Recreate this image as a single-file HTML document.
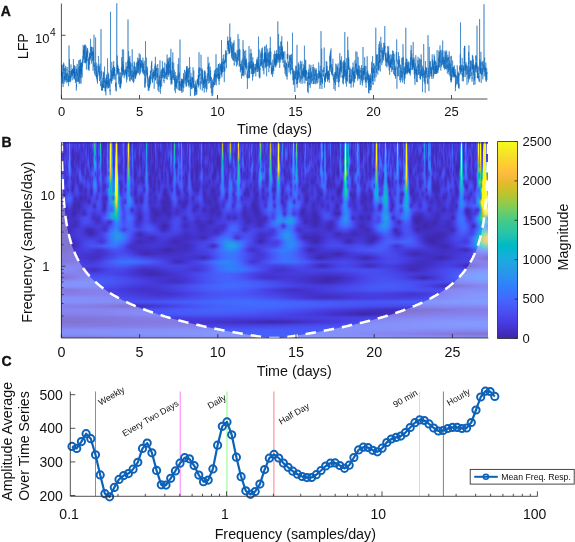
<!DOCTYPE html>
<html><head><meta charset="utf-8"><title>Figure</title>
<style>
html,body{margin:0;padding:0;background:#fff}
body{width:575px;height:542px;position:relative;overflow:hidden}
#hm{position:absolute;left:61px;top:142px;width:427px;height:196px;display:flex}
#hm i{display:block;flex:0 0 1px;width:1px;height:196px}
#ov{position:absolute;left:0;top:0}
</style></head><body>
<div id="hm"><i style="background:linear-gradient(#4639d9,#473ee2,#4535d2,#4536d5,#4740e4,#4435d1,#402bb7,#422fc0,#4746ea,#4562fc,#4746ea,#412ebd,#422ebf,#402ab3,#3f29b1,#3f29b1,#4434ce,#4331c6,#412dbb,#3e28ac,#3e27ac,#412cb9,#4029b2,#402bb7,#402ab4,#402bb7,#412cb9,#3e27ab,#4331c6,#4331c8,#4230c4,#484bef,#4851f3,#463bdd,#412dbb,#4759f8,#475af9,#4433cd,#463adb,#4756f7,#4758f8,#463de0,#4848ec,#4740e4,#422fc2,#412cb9,#4537d5,#4854f5,#4756f6,#4433cc)"></i><i style="background:linear-gradient(#463de0,#4747eb,#4537d6,#4332c9,#463bdc,#4536d4,#4230c3,#4230c4,#484bef,#4563fc,#484ff1,#4434cf,#412dbc,#402bb6,#402bb8,#412dbd,#4434ce,#4330c5,#412dbc,#3f28ae,#3f28ae,#412cb9,#3f29b2,#402bb8,#402ab5,#402bb7,#412cb9,#3e28ad,#4331c7,#4331c8,#4230c4,#484bef,#4851f3,#463bdd,#412dbb,#4759f8,#475af9,#4433cd,#463adb,#4756f7,#4758f8,#463de0,#4848ec,#4740e4,#422fc2,#412cb9,#4537d5,#4854f5,#4756f6,#4433cc)"></i><i style="background:linear-gradient(#4433cc,#463adc,#4435d0,#412dbd,#4433cd,#412cbb,#4433cd,#463adb,#484df0,#475af9,#4853f5,#463bdd,#402bb6,#412ebe,#4331c7,#4433cd,#4433cc,#422fc2,#422ebe,#3f29b2,#3f29b2,#412cb9,#3f29b0,#402cb8,#402bb6,#402bb7,#412cb9,#3f29af,#4331c7,#4332c8,#4331c5,#484bef,#4850f3,#463bdd,#412dbd,#4759f8,#475af9,#4433cd,#463adb,#4756f7,#4758f8,#463de0,#4848ec,#4740e4,#422fc2,#412cb9,#4537d5,#4854f5,#4756f6,#4433cc)"></i><i style="background:linear-gradient(#412cb9,#4331c7,#4331c6,#4433cd,#4741e4,#473fe2,#4331c7,#4435d0,#4538d7,#4740e3,#4747eb,#473fe3,#4332c9,#4435d0,#463bdd,#463bdd,#4331c8,#422ebe,#422fc2,#402bb8,#402bb7,#412cba,#3f28ae,#412cb9,#412cb8,#402bb8,#412cb9,#402ab3,#4331c8,#4332c9,#4331c7,#484bef,#4850f3,#463bde,#422ebf,#4759f8,#475af9,#4433cd,#463adb,#4756f7,#4757f8,#463de0,#4848ec,#4740e4,#422fc2,#412cb9,#4537d5,#4854f5,#4756f6,#4433cc)"></i><i style="background:linear-gradient(#4432cb,#4330c5,#4536d3,#4536d4,#4741e5,#4849ed,#4740e3,#463de0,#4332c9,#4433cc,#4332ca,#4740e3,#463bdc,#463ee0,#4848ec,#4744e8,#4331c7,#412ebe,#4330c5,#412dbd,#412cbb,#412cba,#3e27ab,#412cbb,#412dbb,#412cb9,#412cb9,#402bb6,#4332c8,#4332ca,#4332c9,#484bef,#4850f2,#463cde,#422fc1,#4759f8,#475af9,#4434ce,#463adb,#4756f7,#4757f8,#463de0,#4848ec,#4740e4,#422fc2,#412cb9,#4537d5,#4854f5,#4756f6,#4433cc)"></i><i style="background:linear-gradient(#4742e6,#4746ea,#4434cf,#463cdf,#4743e7,#463bdc,#4435d1,#4742e6,#4740e4,#4536d3,#422ebe,#473fe2,#4639d9,#4745e9,#4854f6,#484df0,#4435d0,#4230c3,#4332c9,#422fc2,#422ebe,#412dbb,#3e27ab,#412dbd,#412ebd,#412cb9,#412cb8,#412cb9,#4332c9,#4433cb,#4433cc,#484bef,#484ff2,#463cde,#4230c4,#4759f8,#475af9,#4434ce,#463adb,#4756f7,#4757f8,#463de0,#4848ec,#4740e4,#422fc2,#412cb9,#4537d5,#4854f5,#4756f6,#4433cc)"></i><i style="background:linear-gradient(#4851f3,#4755f6,#4849ed,#4740e4,#4744e8,#4746eb,#463bde,#4537d6,#4746eb,#4536d5,#463de0,#4741e4,#412cba,#4849ed,#465ffb,#4755f6,#463bdc,#4332ca,#4432cb,#4331c7,#422fc2,#412dbc,#3f29b0,#422ebf,#422fc0,#412cba,#412cb8,#412dbb,#4332ca,#4433cc,#4434ce,#484bef,#484ff2,#463cdf,#4331c7,#4759f8,#475af9,#4434cf,#463adb,#4756f7,#4757f7,#463de0,#4848ec,#4740e4,#422fc2,#412cb9,#4537d5,#4854f5,#4756f6,#4433cc)"></i><i style="background:linear-gradient(#463adb,#4538d7,#463adc,#463ee0,#463bde,#4660fc,#406dfe,#465ffb,#4850f2,#4433cc,#484cef,#4849ed,#4535d2,#484ef1,#4465fd,#475af9,#4741e5,#4434cf,#4433cb,#4332ca,#4330c4,#412ebe,#402ab5,#422fc2,#4230c3,#412cba,#402cb8,#422ebe,#4433cb,#4433cd,#4435d0,#484bee,#484ef1,#463cdf,#4332ca,#4759f8,#475af9,#4434cf,#463adb,#4756f6,#4757f7,#463de0,#4848ec,#4740e4,#422fc2,#412cb9,#4537d5,#4854f5,#4756f6,#4433cd)"></i><i style="background:linear-gradient(#0ebdbb,#05bbc1,#0ab4d2,#1aabdd,#1da9e0,#1ea7e1,#21a4e3,#2896ec,#3b72fe,#4854f5,#4755f6,#4850f2,#4745e9,#4853f4,#4466fd,#475af9,#4743e7,#4435d1,#4332ca,#4433cc,#4331c7,#422ebf,#412cba,#4331c6,#4331c6,#412cba,#402bb8,#422fc2,#4433cc,#4434cf,#4536d3,#484aee,#484ef1,#463de0,#4434ce,#4759f8,#475af9,#4435d0,#463adc,#4756f6,#4757f7,#463de0,#4848ec,#4740e4,#422fc2,#412cba,#4537d5,#4854f5,#4756f6,#4433cd)"></i><i style="background:linear-gradient(#4743e7,#484aee,#4746ea,#4743e7,#4660fb,#484ff2,#475bf9,#3975fe,#4562fc,#4848ec,#484cef,#4744e8,#463ee0,#484ef1,#465ffb,#4854f5,#473fe3,#4434ce,#4330c5,#4433cc,#4331c8,#422fc0,#422ec0,#4332c9,#4332c9,#412cbb,#412cb8,#4330c5,#4434ce,#4434d0,#4537d5,#484aee,#484df0,#463de0,#4435d1,#4759f8,#475af9,#4435d1,#463bdc,#4756f6,#4757f7,#463ddf,#4848ec,#4740e4,#422fc2,#412cba,#4537d5,#4854f5,#4756f6,#4433cd)"></i><i style="background:linear-gradient(#473fe2,#4746eb,#463bdd,#4434ce,#4537d5,#4230c4,#4331c6,#4743e7,#4741e5,#412dbc,#463cde,#4434cf,#422fc1,#4743e7,#4855f6,#484aee,#4639d9,#4331c8,#422ebf,#4332ca,#4331c8,#422fc0,#4330c5,#4433cd,#4433cb,#412dbb,#412cb9,#4331c8,#4434cf,#4435d1,#4538d7,#484aee,#484cf0,#463ee1,#4536d4,#4759f9,#475af9,#4535d2,#463bdc,#4756f6,#4757f7,#463ddf,#4848ec,#4740e4,#422fc2,#412cba,#4537d5,#4854f5,#4756f6,#4433cd)"></i><i style="background:linear-gradient(#463de0,#463ddf,#412dbd,#402ab4,#412dbb,#412cb8,#412cb8,#422fc0,#4538d8,#4332cb,#4433cd,#422ebe,#3f28ae,#463cde,#4848ec,#473fe2,#4332cb,#422fc1,#402bb7,#4332c9,#4331c7,#422ec0,#4332cb,#4435d1,#4434ce,#412dbb,#412cba,#4332cb,#4434d0,#4535d2,#4539d8,#484aed,#484bef,#473ee1,#4538d7,#475af9,#475af9,#4536d3,#463bdd,#4756f6,#4757f7,#463cdf,#4848ec,#4741e4,#422fc3,#412cba,#4537d5,#4854f5,#4756f7,#4433cd)"></i><i style="background:linear-gradient(#4537d5,#463adb,#422ebf,#412ebe,#402bb6,#412dbb,#4230c3,#422fc0,#4536d3,#4331c6,#422fc0,#412ebe,#422ebf,#463cde,#463cde,#4536d3,#412dbc,#412dbb,#3f28af,#4331c8,#4330c5,#422ebf,#4434cf,#4536d4,#4435d1,#412dbc,#412dbc,#4434cd,#4435d1,#4536d3,#4639da,#4849ed,#484aee,#473fe2,#4639d9,#475af9,#475af9,#4536d4,#463bdd,#4756f6,#4757f7,#463cdf,#4848ec,#4741e4,#4230c3,#412cba,#4537d5,#4854f5,#4756f7,#4433cd)"></i><i style="background:linear-gradient(#4536d4,#4740e3,#463bdd,#4331c7,#402bb7,#4433cd,#4537d6,#4332c9,#4536d3,#4433cc,#4332ca,#4537d6,#463adb,#473fe2,#4332c9,#4230c4,#402ab4,#402bb8,#3f29b0,#4332c9,#4230c3,#412ebd,#4536d5,#4538d7,#4536d4,#422ebf,#422ebf,#4435d0,#4535d2,#4536d4,#463adb,#4849ed,#4849ed,#473fe2,#463bdc,#475af9,#475af9,#4537d5,#463bdd,#4755f6,#4757f7,#463cdf,#4848ec,#4741e5,#4230c3,#412cba,#4537d5,#4854f5,#4756f7,#4433cd)"></i><i style="background:linear-gradient(#463cde,#463adb,#463bdc,#422fc1,#4435d0,#4537d6,#4537d6,#422ebf,#4538d8,#463adb,#463bdd,#4742e6,#4746ea,#4742e6,#422fc1,#412ebe,#402bb6,#402bb8,#412cb8,#4433cc,#422fc2,#412ebe,#4538d8,#4639da,#4537d6,#422fc1,#4230c3,#4536d3,#4536d3,#4536d4,#463bdc,#4848ec,#4848ec,#4740e3,#463cdf,#475af9,#475af9,#4537d6,#463bde,#4755f6,#4757f7,#463cde,#4848ec,#4741e5,#4230c3,#412cbb,#4537d5,#4854f5,#4756f7,#4434cd)"></i><i style="background:linear-gradient(#4538d7,#4745e9,#463ee0,#422fc0,#4332ca,#412cba,#4539d8,#473fe3,#4539d9,#4332ca,#4538d8,#4745e9,#484cef,#4745e9,#4331c8,#412ebe,#402bb8,#412cb9,#422ec0,#4435d0,#4230c4,#422fc1,#463adb,#463adc,#4538d8,#4330c5,#4331c8,#4537d6,#4536d4,#4536d4,#463bdd,#4848ec,#4746eb,#4740e4,#463ee1,#475af9,#475af9,#4538d7,#463cde,#4755f6,#4757f7,#463cde,#4848ec,#4741e5,#4230c3,#412dbb,#4537d6,#4854f5,#4756f7,#4434ce)"></i><i style="background:linear-gradient(#4433cb,#4434cf,#463bdc,#4434ce,#422fc2,#4331c6,#463bdd,#4744e8,#4538d8,#412cbb,#412dbb,#473ee1,#4848ec,#4744e8,#4434ce,#422ebf,#402bb6,#412dbb,#4331c7,#4537d6,#4332c9,#4331c7,#463bdd,#463bdd,#463ada,#4332ca,#4433cd,#4538d8,#4536d4,#4536d5,#463bde,#4747ec,#4745e9,#4740e4,#473fe3,#475af9,#475af9,#4538d8,#463cde,#4755f6,#4757f7,#463cde,#4848ec,#4741e5,#4230c3,#412dbb,#4537d6,#4854f5,#4756f7,#4434ce)"></i><i style="background:linear-gradient(#463adc,#4741e5,#4539d9,#412cba,#412cbb,#422ebe,#4331c6,#473fe3,#4848ec,#4538d7,#4330c5,#4536d4,#463cdf,#473fe3,#4433cd,#422ebf,#3f29b0,#422ebf,#4433cc,#463adb,#4435d1,#4434ce,#463cdf,#463cde,#463bdc,#4434cf,#4435d2,#4639da,#4537d5,#4536d5,#463cde,#4747eb,#4744e8,#4741e5,#4741e4,#475bf9,#475af9,#4539d9,#463cdf,#4755f6,#4757f7,#463bde,#4848ec,#4741e5,#4230c4,#412dbb,#4537d6,#4854f5,#4756f7,#4434ce)"></i><i style="background:linear-gradient(#4742e6,#484bef,#4536d4,#4332ca,#422fc2,#4435d0,#4538d8,#4849ed,#475cfa,#4852f4,#463de0,#412dbc,#4332c9,#4538d8,#4230c3,#422ec0,#3f29b1,#4230c4,#4435d0,#463de0,#463adb,#4537d6,#463cdf,#463cde,#463cde,#4536d4,#4538d7,#463bdc,#4537d5,#4536d4,#463cde,#4746ea,#4742e6,#4741e5,#4742e6,#475bf9,#475af9,#4639da,#463cdf,#4755f6,#4757f7,#463bdd,#4848ec,#4741e5,#4230c4,#412dbb,#4537d6,#4854f5,#4756f7,#4434ce)"></i><i style="background:linear-gradient(#4536d4,#4538d7,#4537d6,#4537d6,#4536d4,#463cdf,#463cde,#4848ec,#475af9,#475cfa,#4744e8,#412dbb,#422ec0,#4434ce,#402ab4,#422fc1,#412dbd,#4332c9,#4435d1,#4741e5,#473fe2,#463adb,#463cde,#463bdd,#463ddf,#4639d9,#463adc,#463bde,#4537d5,#4536d4,#463cde,#4746ea,#4740e4,#4742e6,#4744e8,#475bf9,#475af9,#463ada,#463ddf,#4755f6,#4757f7,#463bdd,#4848ec,#4741e5,#4230c4,#412dbc,#4537d6,#4854f5,#4756f7,#4434cf)"></i><i style="background:linear-gradient(#463adb,#422ec0,#4332c9,#4538d7,#4435d1,#4536d3,#402bb6,#4330c5,#473fe3,#4855f6,#4747eb,#412cb8,#422fc2,#4332cb,#3f28af,#4230c4,#4332ca,#4433cd,#4434ce,#4744e8,#4743e8,#463ddf,#463bdc,#463adc,#463de0,#463cde,#463de0,#463cdf,#4537d5,#4536d3,#463cde,#4745e9,#473fe2,#4742e6,#4745e9,#475bf9,#475af9,#463adb,#463de0,#4755f6,#4757f7,#463bdd,#4848ec,#4742e6,#4230c4,#412dbc,#4537d6,#4854f5,#4756f7,#4434cf)"></i><i style="background:linear-gradient(#463ee0,#463bdd,#4331c7,#463bdd,#4741e4,#4434cf,#422ec0,#412dbd,#4433cb,#4746eb,#4849ed,#4230c3,#4332ca,#4433cc,#412dbb,#4331c8,#4536d4,#4434cf,#4331c7,#4746ea,#4848ec,#473fe2,#4539d9,#4639d9,#463ee1,#473ee2,#4740e4,#463de0,#4537d5,#4536d2,#463cde,#4745e9,#463de0,#4743e7,#4746ea,#475bf9,#475af9,#463bdc,#463de0,#4854f6,#4756f7,#463bdc,#4848ec,#4742e6,#4230c4,#412dbc,#4537d6,#4854f5,#4756f7,#4434cf)"></i><i style="background:linear-gradient(#484aed,#4746ea,#4535d2,#4434cf,#463de0,#4332c9,#422fc2,#4433cc,#412cb8,#473fe2,#484ef1,#463cdf,#4435d1,#4433cc,#412ebe,#4433cc,#463adb,#4434cf,#412ebe,#4849ed,#484bef,#4740e3,#4536d4,#4537d6,#463ee1,#4741e5,#4743e7,#463ee1,#4536d5,#4435d1,#463bdd,#4744e8,#463bdd,#4743e7,#4848ec,#475bfa,#4759f9,#463bdd,#463de0,#4854f6,#4756f7,#463adc,#4848ec,#4742e6,#4330c5,#412dbd,#4537d6,#4854f5,#4756f7,#4434cf)"></i><i style="background:linear-gradient(#4851f3,#4538d8,#463de0,#463adc,#4434cf,#4332c9,#4332c9,#473fe2,#463de0,#4743e7,#484cf0,#4742e6,#4332ca,#4331c8,#402ab4,#4434cf,#463ee1,#4535d2,#412dbd,#484bef,#484ef1,#4740e3,#4433cd,#4435d2,#463ee1,#4744e8,#4746ea,#473ee1,#4536d4,#4435d0,#463bdd,#4743e7,#4639da,#4743e8,#4849ed,#475cfa,#4759f8,#463cde,#463ee1,#4854f5,#4756f7,#463adb,#4848ec,#4742e6,#4330c5,#412dbd,#4537d6,#4854f5,#4756f7,#4434d0)"></i><i style="background:linear-gradient(#4740e4,#4331c7,#4539d8,#4744e9,#473fe2,#463bdc,#473fe2,#4747eb,#4741e5,#4536d4,#4743e7,#473fe3,#402ab5,#4332c9,#402ab4,#4435d1,#4740e4,#4639d9,#4332ca,#484df0,#484ff2,#473fe3,#4330c5,#4433cd,#463de0,#4746ea,#4848ec,#473fe2,#4536d3,#4434cf,#463bdc,#4743e7,#4538d7,#4744e8,#484aee,#475cfa,#4759f8,#463cde,#463ee1,#4854f5,#4756f7,#463adb,#4848ec,#4742e6,#4330c5,#412dbd,#4537d6,#4854f5,#4756f7,#4435d0)"></i><i style="background:linear-gradient(#4740e4,#463cdf,#4744e8,#484bef,#4746ea,#4332ca,#463de0,#4537d5,#4537d5,#412dbb,#473fe2,#4743e7,#4330c5,#4535d2,#4330c5,#4435d1,#4742e6,#473fe3,#4639da,#484ef1,#484ff2,#473ee2,#412dbd,#4331c7,#463ddf,#4848ec,#484aee,#473fe2,#4536d2,#4433cd,#463adc,#4742e6,#4536d4,#4744e8,#484bef,#475cfa,#4759f8,#463cdf,#463ee1,#4854f5,#4756f7,#463ada,#4848ec,#4742e7,#4330c5,#412ebd,#4537d6,#4854f5,#4756f7,#4435d0)"></i><i style="background:linear-gradient(#4537d6,#422fc1,#422ebf,#4331c7,#463adc,#484ff2,#4848ec,#422fc2,#4331c6,#4536d4,#4745ea,#484df0,#473ee1,#463bdc,#4434cf,#4332c9,#4743e7,#4746ea,#4740e4,#484ef1,#484ef1,#463de0,#402bb6,#422fc2,#463cdf,#484aed,#484cf0,#473ee2,#4435d1,#4433cb,#463adb,#4742e6,#4435d0,#4744e9,#484cf0,#475cfa,#4759f8,#463de0,#473ee1,#4854f5,#4756f7,#4639da,#4848ec,#4743e7,#4331c6,#412ebe,#4537d6,#4854f5,#4756f7,#4435d1)"></i><i style="background:linear-gradient(#4433cd,#4537d7,#4539d8,#463bde,#4746ea,#4755f6,#4755f6,#473fe3,#422ebf,#4538d8,#4747eb,#4850f3,#4745e9,#463ddf,#4435d0,#402bb7,#4744e8,#484cef,#4745e9,#484cf0,#484cf0,#463ddf,#3f28ae,#412dbb,#463bde,#484bef,#484ef1,#463ee1,#4435d0,#4332ca,#463adb,#4742e6,#4433cc,#4745e9,#484df1,#475cfa,#4758f8,#463de0,#473fe2,#4853f5,#4756f7,#4639d9,#4848ec,#4743e7,#4331c6,#412ebe,#4537d6,#4854f6,#4756f7,#4435d1)"></i><i style="background:linear-gradient(#4434ce,#4435d0,#422fc2,#422fc1,#412dbd,#4538d7,#463cde,#4743e7,#473fe2,#4435d0,#463ddf,#4849ed,#463ddf,#4639da,#4536d2,#412cba,#4746ea,#484ef1,#4746ea,#4848ec,#484aee,#463cdf,#3e28ac,#402ab5,#463bdd,#484cef,#4850f2,#463de0,#4434cf,#4331c8,#463ada,#4741e5,#4332c9,#4745e9,#484ef1,#475cfa,#4758f8,#463ee1,#473fe2,#4853f5,#4756f6,#4539d9,#4848ec,#4743e7,#4331c6,#422ebe,#4537d6,#4854f6,#4756f7,#4435d1)"></i><i style="background:linear-gradient(#4850f2,#4537d6,#4230c3,#4536d4,#4537d6,#4332c9,#402ab5,#463adc,#4848ec,#4434ce,#4639da,#473ee2,#4330c5,#4332c9,#4639da,#4536d3,#4747eb,#484df0,#4744e8,#4741e6,#4747eb,#463cde,#3f29b1,#3f28af,#463bdc,#484cef,#4851f3,#463ddf,#4434ce,#4331c6,#4639da,#4741e5,#4331c6,#4745e9,#484ff2,#475cfa,#4758f8,#463ee1,#473fe2,#4853f5,#4756f6,#4538d8,#4848ec,#4743e7,#4331c6,#422ebf,#4537d6,#4854f6,#4756f7,#4535d2)"></i><i style="background:linear-gradient(#4743e7,#463cde,#4536d4,#4331c7,#4331c8,#4433cc,#422fc0,#4741e5,#4852f4,#4741e5,#4740e3,#463de0,#412cba,#402bb7,#473fe3,#473fe3,#4745e9,#484aee,#4740e3,#463adc,#4744e8,#463cde,#402bb6,#3e27ab,#463bdc,#484bef,#4852f4,#463cde,#4433cc,#4330c5,#4639da,#4741e5,#4230c4,#4745ea,#4850f2,#475cfa,#4758f8,#473ee1,#473fe3,#4853f5,#4756f6,#4538d8,#4848ec,#4743e8,#4331c7,#422ebf,#4537d7,#4854f6,#4756f7,#4535d2)"></i><i style="background:linear-gradient(#4850f3,#465dfa,#463ddf,#4536d3,#4332cb,#4330c5,#463de0,#484bee,#4758f8,#4435d0,#4848ec,#484df1,#4538d7,#4536d3,#4747eb,#4745e9,#473ee1,#4746ea,#463bdd,#4434cf,#4740e4,#463cdf,#412dbb,#3f29b0,#463bdc,#484bee,#4853f5,#463bdc,#4433cb,#4230c4,#463ada,#4741e5,#422fc2,#4746ea,#4851f3,#475cfa,#4757f7,#473fe2,#473fe3,#4853f4,#4755f6,#4538d7,#4848ec,#4744e8,#4331c7,#422ebf,#4538d7,#4854f6,#4757f7,#4536d3)"></i><i style="background:linear-gradient(#307ffb,#4562fc,#4660fb,#4745e9,#4660fb,#4660fb,#4848ec,#4757f7,#4368fd,#4854f6,#4367fd,#3d70ff,#4757f7,#484cf0,#484cf0,#4746ea,#4433cc,#4743e7,#4538d7,#422fc3,#463cde,#463cdf,#422fc1,#402bb8,#463bdd,#4849ed,#4854f5,#4639da,#4332ca,#4230c3,#463adb,#4741e5,#422fc1,#4746ea,#4851f4,#475cfa,#4757f7,#473fe2,#4740e3,#4852f4,#4755f6,#4537d6,#4848ec,#4744e8,#4331c7,#422ec0,#4538d7,#4854f6,#4757f7,#4536d3)"></i><i style="background:linear-gradient(#7ecc5a,#32c69e,#12beb9,#02b7cb,#259be8,#1da9e0,#23a1e5,#327cfc,#4756f6,#3e70ff,#2d89f6,#2d8bf4,#3e70ff,#4757f7,#484bef,#4745e9,#402ab4,#4742e6,#4538d7,#422ebf,#4538d8,#463ddf,#4331c6,#422ebf,#463cde,#4747eb,#4855f6,#4538d8,#4332c9,#4230c3,#463bdc,#4742e6,#422fc2,#4746ea,#4852f4,#475cfa,#4757f7,#473fe2,#4740e3,#4852f4,#4755f6,#4537d6,#4848ec,#4744e8,#4331c8,#422fc0,#4538d7,#4854f6,#4757f7,#4536d3)"></i><i style="background:linear-gradient(#1fa6e2,#2994ed,#269ae8,#259de7,#475cfa,#259ce7,#1caadf,#3777fe,#4538d7,#4464fd,#2e86f7,#2d89f5,#3b73fe,#4853f5,#4742e6,#4747eb,#4332cb,#4743e8,#463ada,#422fc2,#4435d1,#463de0,#4433cc,#4331c6,#463cdf,#4745e9,#4755f6,#4537d6,#4331c8,#4230c4,#463bde,#4742e6,#4230c3,#4746ea,#4852f4,#475cfa,#4756f7,#473fe3,#4740e4,#4852f4,#4755f6,#4537d5,#4848ec,#4744e8,#4331c8,#422fc0,#4538d7,#4854f6,#4757f7,#4536d4)"></i><i style="background:linear-gradient(#4756f7,#484aed,#4744e8,#484aed,#484ef1,#475cfa,#4368fe,#465efb,#4848ec,#484aee,#4563fc,#426afe,#4661fc,#4747eb,#4435d1,#484bee,#4741e4,#4747eb,#463cdf,#4230c4,#4332ca,#463de0,#4435d1,#4433cd,#463ddf,#4742e6,#4756f6,#4536d4,#4331c8,#4330c5,#463cdf,#4743e7,#4330c5,#4746ea,#4853f5,#475cfa,#4756f6,#473fe3,#4740e4,#4852f4,#4755f6,#4536d5,#4848ec,#4745e9,#4332c8,#422fc1,#4538d7,#4854f6,#4757f7,#4536d4)"></i><i style="background:linear-gradient(#4331c6,#4433cb,#4435d1,#4330c5,#422fc2,#4537d6,#4538d7,#473fe2,#4639da,#4536d4,#463de0,#4747eb,#4747eb,#4741e5,#4433cd,#484ff2,#484df0,#484aee,#473ee2,#4330c5,#4330c5,#463de0,#4537d5,#4536d3,#463de0,#473ee2,#4757f7,#4435d2,#4331c7,#4331c7,#463ee1,#4744e8,#4331c8,#4746eb,#4853f5,#475cfa,#4755f6,#4740e3,#4740e4,#4851f4,#4755f6,#4536d4,#4849ed,#4745e9,#4332c9,#422fc1,#4538d7,#4854f6,#4757f7,#4536d5)"></i><i style="background:linear-gradient(#4740e4,#463de0,#484bef,#484df0,#463bdd,#463ee1,#4852f4,#4849ed,#473fe2,#4744e9,#4537d6,#4539d9,#422ebf,#4745e9,#4742e6,#4852f4,#4854f5,#484bef,#4740e4,#4331c7,#4330c5,#463de0,#4538d7,#4639da,#463de0,#463bdd,#4758f8,#4435d0,#4331c8,#4332c9,#473fe3,#4745e9,#4433cc,#4746eb,#4854f5,#475bfa,#4755f6,#4740e3,#4740e4,#4851f3,#4755f6,#4536d3,#4849ed,#4745e9,#4332c9,#422fc1,#4538d7,#4855f6,#4757f7,#4537d5)"></i><i style="background:linear-gradient(#4744e8,#484aee,#4756f6,#4757f7,#463bdc,#4755f6,#3f6eff,#484bef,#4742e6,#475cfa,#4851f3,#4742e6,#4435d2,#484aee,#484cef,#4851f3,#4853f5,#484aed,#4741e5,#4434ce,#4332ca,#463cdf,#4538d8,#463cdf,#463de0,#4538d7,#4759f8,#4435d0,#4332c8,#4433cc,#4741e5,#4746ea,#4434cf,#4747eb,#4854f5,#475bf9,#4854f6,#4740e3,#4740e4,#4851f3,#4755f6,#4535d2,#4849ed,#4745e9,#4332c9,#422fc2,#4538d7,#4855f6,#4757f7,#4537d6)"></i><i style="background:linear-gradient(#3fca8e,#2ec5a4,#0fbeba,#14b0d8,#269ae9,#2c8ff0,#307efb,#4367fd,#4660fc,#426afe,#4561fc,#4850f3,#4745e9,#484df0,#484bee,#484bee,#484cf0,#4745e9,#4742e6,#4539d9,#4435d1,#463bdd,#4538d7,#4740e3,#463ee1,#4536d3,#475af9,#4435d1,#4332c9,#4434cf,#4743e7,#4747eb,#4535d2,#4747eb,#4854f5,#475bf9,#4854f5,#4740e3,#4741e4,#4851f3,#4855f6,#4435d1,#4849ed,#4746ea,#4332ca,#422fc2,#4538d7,#4855f6,#4757f7,#4537d6)"></i><i style="background:linear-gradient(#4747eb,#463cdf,#484cf0,#4849ed,#4756f7,#4853f5,#473ee1,#4743e7,#4851f4,#4758f8,#4756f7,#484cef,#4744e8,#4849ed,#4740e4,#4740e4,#4742e6,#463de0,#4741e5,#4740e4,#4539d9,#463adb,#4536d5,#4743e7,#473fe2,#4435d1,#475bfa,#4536d3,#4433cb,#4536d3,#4745ea,#4848ec,#4537d5,#4747eb,#4854f6,#475bf9,#4853f5,#4740e3,#4741e4,#4850f3,#4854f6,#4435d0,#4849ed,#4746ea,#4332ca,#422fc2,#4538d8,#4755f6,#4757f7,#4537d6)"></i><i style="background:linear-gradient(#4433cd,#4230c4,#412dbc,#412cba,#422fc0,#422fc0,#412dbc,#402bb7,#4538d7,#4536d3,#473fe2,#463adb,#4537d6,#4741e5,#4434ce,#4537d6,#4537d5,#4435d1,#4741e5,#4849ed,#463cdf,#4538d8,#4435d0,#4747eb,#4741e4,#4536d4,#465dfa,#4537d6,#4433cd,#4537d6,#4848ec,#4849ed,#4538d8,#4747eb,#4854f6,#475bf9,#4853f5,#4740e3,#4741e5,#4850f3,#4854f6,#4434d0,#4849ed,#4746ea,#4332ca,#4230c3,#4538d8,#4755f6,#4757f7,#4538d7)"></i><i style="background:linear-gradient(#402cb8,#402bb6,#4332ca,#463bdd,#463adb,#4537d5,#4538d7,#4536d3,#4537d5,#4434ce,#4539d9,#4332ca,#4331c6,#463cdf,#402bb6,#4331c7,#422ebf,#412dbd,#4742e6,#4853f5,#473fe3,#4537d5,#4332ca,#484cef,#4744e8,#463adb,#465ffb,#4639da,#4434d0,#4639da,#484aee,#484bee,#463adb,#4746eb,#4854f6,#475af9,#4852f4,#4740e3,#4741e5,#4850f2,#4854f5,#4434cf,#4849ed,#4746eb,#4332cb,#4230c3,#4538d8,#4755f6,#4757f7,#4538d7)"></i><i style="background:linear-gradient(#4331c8,#4330c5,#4538d7,#4538d8,#4230c3,#422ebf,#4435d1,#4331c7,#4433cd,#473fe2,#473fe2,#4330c5,#4435d1,#463ddf,#402bb7,#422fc3,#3f29b2,#412dbd,#4746ea,#475bfa,#4741e4,#4536d3,#4331c8,#4850f3,#4848ec,#473fe2,#4561fc,#463bdd,#4536d2,#463bdd,#484df0,#484cef,#463cde,#4746eb,#4854f6,#475af9,#4852f4,#4740e3,#4741e5,#484ff2,#4854f5,#4434ce,#4849ed,#4747eb,#4433cb,#4230c3,#4538d8,#4755f6,#4757f7,#4538d7)"></i><i style="background:linear-gradient(#4330c5,#412dbd,#4536d4,#4536d4,#4230c3,#422fc2,#422fc2,#422fc1,#422fc2,#4746eb,#4747eb,#402bb8,#473ee1,#4740e4,#412cb9,#4332c9,#422fc0,#4536d3,#484ff1,#4564fd,#4740e4,#4536d3,#4433cc,#4756f6,#484ef1,#4746ea,#4564fd,#463ee1,#4537d5,#463de0,#484ff2,#484df1,#463de0,#4746ea,#4854f5,#475af9,#4851f3,#473fe3,#4741e5,#484ff2,#4854f5,#4433cd,#4849ed,#4747eb,#4433cb,#4230c4,#4538d8,#4755f6,#4757f7,#4538d8)"></i><i style="background:linear-gradient(#4433cb,#4331c8,#463adb,#4536d3,#4848ec,#4744e8,#463ee1,#4539d9,#4538d8,#4759f8,#475af9,#473fe3,#484ff2,#4849ed,#402ab5,#463ada,#463bdd,#4743e7,#475af9,#416cfe,#463ee1,#4537d6,#4538d8,#475cfa,#4755f6,#484df1,#4466fd,#4741e4,#4538d8,#4740e3,#4852f4,#484ff2,#473fe2,#4746ea,#4854f5,#4759f8,#4851f3,#473fe3,#4741e5,#484ff2,#4854f5,#4433cc,#4849ed,#4747eb,#4433cc,#4230c4,#4538d8,#4755f6,#4757f7,#4538d8)"></i><i style="background:linear-gradient(#307ffb,#317efb,#347afd,#3f6efe,#347afd,#2f82f9,#3a73fe,#4564fd,#475bf9,#3c71ff,#4269fe,#4747eb,#4367fd,#475cfa,#463adb,#484bee,#484ff2,#4852f4,#4368fe,#3a73fe,#4639da,#463adc,#4740e4,#4562fc,#475cfa,#4755f6,#4369fe,#4743e8,#463adb,#4742e6,#4755f6,#4850f2,#4740e4,#4746ea,#4854f5,#4759f8,#4850f2,#473fe2,#4741e5,#484ef1,#4854f5,#4433cb,#4849ed,#4747ec,#4433cc,#4330c4,#4538d8,#4755f6,#4757f8,#4539d9)"></i><i style="background:linear-gradient(#4639d9,#4741e5,#4851f3,#4745e9,#4744e8,#4367fd,#484bef,#3975fe,#4741e5,#2a92ee,#327cfc,#4850f3,#2c90f0,#2e85f8,#4660fb,#4465fd,#4466fd,#465efb,#347afd,#327cfc,#4432cb,#4740e3,#484cef,#416afe,#4465fd,#465efb,#416bfe,#4746eb,#463cde,#4744e8,#4758f8,#4851f4,#4741e5,#4746ea,#4854f5,#4758f8,#484ff2,#473fe2,#4741e5,#484ef1,#4854f5,#4332ca,#4849ed,#4848ec,#4433cc,#4330c5,#4539d8,#4755f6,#4758f8,#4539d9)"></i><i style="background:linear-gradient(#475cfa,#337bfd,#2994ed,#1fa5e2,#2796eb,#04bbc2,#08bcbe,#2ec5a4,#01b9c6,#2fc5a2,#05b6ce,#2798ea,#14b0d8,#1fa5e2,#2f82fa,#307ffb,#3975fe,#4562fc,#2d89f6,#2e85f8,#422ebf,#4746ea,#4757f7,#3b72ff,#3f6efe,#4465fd,#3f6dfe,#4849ed,#463ee1,#4746eb,#475af9,#4852f4,#4742e6,#4745ea,#4853f5,#4758f8,#484ff1,#473fe2,#4741e5,#484ef1,#4854f5,#4332c9,#484aed,#4848ec,#4433cd,#4330c5,#4539d9,#4755f6,#4758f8,#4639d9)"></i><i style="background:linear-gradient(#f9fb15,#f9fb15,#f9fb15,#f9fb15,#f9fb15,#f9fb15,#f5e526,#fdcc32,#dfbc2a,#9fc942,#39c895,#01b8c8,#01b9c7,#0eb2d4,#2c8ef1,#2b91ef,#3479fd,#465ffb,#2796eb,#2c8ef1,#4332ca,#484ef1,#4561fc,#347afd,#3876fe,#416cfe,#3e6fff,#484bef,#473fe3,#4848ec,#475cfa,#4853f5,#4743e7,#4745e9,#4853f5,#4758f8,#484ef1,#473ee2,#4741e4,#484ef1,#4854f5,#4331c8,#484aed,#4848ec,#4433cd,#4331c5,#4539d9,#4755f6,#4758f8,#4639da)"></i><i style="background:linear-gradient(#b3c534,#b3c534,#cac129,#96ca49,#9cc943,#93ca4b,#62cd71,#85cb55,#74cd62,#36c898,#0abdbd,#13b0d7,#18aedb,#11b1d6,#2f81fa,#239fe5,#3579fd,#465dfa,#21a3e3,#2798ea,#463cdf,#4755f6,#416bfe,#3080fa,#317dfc,#3c72ff,#3d71ff,#484df0,#4741e5,#484aee,#465efb,#4854f6,#4744e8,#4745e9,#4853f4,#4757f7,#484df1,#473ee1,#4741e4,#484df0,#4853f5,#4331c7,#484aee,#4848ec,#4434cd,#4331c6,#4539d9,#4755f6,#4758f8,#463ada)"></i><i style="background:linear-gradient(#4851f3,#4755f6,#416bfe,#4367fd,#327bfc,#2e86f7,#327dfc,#249de7,#1ea7e1,#2798ea,#2995ec,#2b92ee,#2d89f5,#18addb,#4660fb,#18aedb,#2f81fa,#4466fd,#17aedb,#22a2e4,#484bee,#465dfa,#3a73fe,#2e85f8,#2e83f9,#3777fe,#3c72ff,#484ff1,#4742e6,#484cef,#4660fc,#4755f6,#4745e9,#4745e9,#4852f4,#4757f7,#484df0,#463ee1,#4741e4,#484df0,#4853f5,#4331c6,#484aee,#4849ed,#4434ce,#4331c6,#4539d9,#4755f6,#4758f8,#463adb)"></i><i style="background:linear-gradient(#4538d7,#4331c6,#4536d3,#4434cd,#4434ce,#4435d0,#422fc1,#4746ea,#4854f5,#484ff1,#4465fd,#3875fe,#4367fd,#0eb2d4,#4757f7,#0abdbd,#2797ea,#3080fb,#01b7ca,#19acdc,#475bf9,#4466fd,#327cfc,#2d8af4,#2d89f5,#327cfc,#3b72ff,#4850f3,#4744e8,#484ef1,#4563fc,#4756f6,#4745e9,#4744e8,#4852f4,#4756f7,#484cf0,#463ee1,#4740e4,#484df0,#4853f5,#4331c6,#484aee,#4849ed,#4434ce,#4331c6,#4539d9,#4755f6,#4758f8,#463adb)"></i><i style="background:linear-gradient(#4331c6,#4230c4,#4536d4,#463ee1,#473fe2,#4537d6,#4539d9,#4849ed,#484ef1,#4465fd,#2a93ee,#1ea7e1,#20a4e3,#49cb85,#1da9e0,#60cd72,#0dbdbc,#1da8e0,#1bc0b4,#04b6cd,#3e70ff,#3d70ff,#2e83f9,#2c90f0,#2c8ff0,#2f80fa,#3b73fe,#4851f4,#4745ea,#4850f2,#4465fd,#4757f7,#4746ea,#4744e8,#4851f4,#4756f6,#484bef,#463de0,#4740e4,#484cf0,#4853f5,#4330c4,#484aee,#4849ed,#4434ce,#4331c7,#4639d9,#4755f6,#4758f8,#463adb)"></i><i style="background:linear-gradient(#2d8cf3,#20a4e3,#09bcbe,#3bc992,#a9c73a,#dfbc2a,#fbbc3d,#f5e526,#f5e327,#f9fb15,#f9fb15,#f9fb15,#f7f51b,#f7f41c,#eeba34,#f3ba39,#98c947,#2ac3a9,#30c5a1,#09bcbe,#2e83f9,#337afd,#2d88f6,#2994ed,#2994ed,#2e84f9,#3c72ff,#4852f4,#4747eb,#4852f4,#4368fe,#4757f7,#4746ea,#4743e7,#4851f3,#4755f6,#484aee,#463ddf,#4740e4,#484cef,#4853f5,#4230c3,#484aee,#484aed,#4434cf,#4331c7,#4639d9,#4755f6,#4758f8,#463adc)"></i><i style="background:linear-gradient(#f9fb15,#f9fb15,#f9fb15,#f9fb15,#f9fb15,#f9fb15,#f9fb15,#f9fb15,#f9fb15,#f9fb15,#f9fb15,#f9fb15,#f9fb15,#f9fb15,#f9fb15,#f7dd2a,#edba33,#5acc78,#31c6a0,#0dbdbc,#2c8ff1,#2f80fa,#2e87f7,#2797eb,#2798ea,#2e86f8,#3e6fff,#4853f5,#4849ed,#4855f6,#416bfe,#4758f8,#4746ea,#4742e6,#4850f2,#4854f5,#4849ed,#463cdf,#4740e4,#484bef,#4853f5,#422fc2,#484aee,#484aee,#4434cf,#4331c8,#4639d9,#4755f6,#4758f8,#463bdc)"></i><i style="background:linear-gradient(#4660fb,#2b92ee,#2b91ef,#15bfb7,#30c5a1,#6ccd68,#5fcd73,#cac129,#fccf30,#f9fb15,#f7f41c,#f5ea23,#f8d92c,#fbd22f,#febd3c,#bcc42f,#8acb52,#34c79b,#05bbc1,#0bb4d2,#2d8df3,#317efb,#317efb,#2896ec,#2699e9,#2e85f8,#416bfe,#4852f4,#484aee,#4757f7,#3f6eff,#4758f8,#4746ea,#4741e5,#484ff2,#4853f5,#4848ec,#463cde,#4740e3,#484bee,#4853f5,#422fc0,#484bee,#484aee,#4435d0,#4331c8,#4639da,#4755f6,#4758f8,#463bdd)"></i><i style="background:linear-gradient(#4537d6,#4433cc,#4331c6,#4538d7,#4849ed,#484df0,#4433cd,#4537d6,#4747eb,#3876fe,#3b72ff,#2a93ee,#249ee6,#0ab4d2,#1fc0b2,#02bac5,#02bac4,#07b5cf,#1ea7e1,#23a0e5,#2e83f9,#3876fe,#3d70ff,#2a93ed,#2797ea,#2f82fa,#4366fd,#4851f3,#484bef,#4758f8,#3d70ff,#4758f8,#4746ea,#4741e4,#484ef1,#4852f4,#4747eb,#463bdd,#473fe3,#484aee,#4853f5,#422ebf,#484bee,#484bee,#4435d0,#4332c8,#4639da,#4755f6,#4758f8,#463bde)"></i><i style="background:linear-gradient(#463adb,#4230c3,#4331c8,#4434cf,#4849ed,#4747eb,#4330c5,#422fc2,#4435d1,#4744e8,#4434cf,#4743e7,#4746ea,#4660fb,#2d8df2,#2e85f8,#2c8ff0,#2797ea,#2c8ef1,#2d8af5,#3677fe,#3f6dfe,#4563fd,#2c90f0,#2895ec,#317efb,#4562fc,#484ff2,#484bef,#4759f8,#3b72ff,#4758f8,#4745e9,#4740e3,#484df0,#4852f4,#4746eb,#463bdc,#473fe3,#484aee,#4853f5,#412ebe,#484bef,#484bef,#4435d1,#4332c9,#4639da,#4755f6,#4759f8,#463cde)"></i><i style="background:linear-gradient(#4536d3,#4435d1,#4536d4,#4537d5,#4742e6,#463bde,#4330c5,#4332c9,#4539d9,#4741e5,#4332c9,#4330c5,#4331c8,#463cdf,#4367fd,#475dfa,#4269fe,#337bfd,#3678fd,#3a74fe,#406dfe,#4466fd,#4758f8,#2d8df2,#2b92ee,#337bfd,#465efb,#484ef1,#484cef,#475af9,#3a73fe,#4758f8,#4745e9,#473fe3,#484cf0,#4851f3,#4746ea,#463adc,#473fe2,#484aed,#4853f5,#412dbd,#484bef,#484bef,#4435d1,#4332c9,#4639da,#4755f6,#4759f8,#463cde)"></i><i style="background:linear-gradient(#4536d4,#463cde,#463ada,#463bde,#4539d9,#4433cb,#4434ce,#4434ce,#4539d9,#4746ea,#4537d6,#422fc2,#4433cc,#4537d6,#4755f6,#4849ed,#4852f4,#4660fc,#4564fd,#4660fb,#4563fc,#4660fb,#484ef1,#2d89f5,#2c8ef1,#3776fe,#475af9,#484cf0,#484bef,#475af9,#3974fe,#4758f8,#4744e8,#473fe2,#484cef,#4851f3,#4745e9,#463adb,#473fe2,#4849ed,#4853f5,#412dbc,#484bef,#484cef,#4435d1,#4332c9,#463ada,#4755f6,#4759f8,#463cdf)"></i><i style="background:linear-gradient(#484ef1,#484aed,#4741e4,#4746eb,#4538d7,#4434ce,#473fe2,#4538d8,#4639da,#484bef,#4741e5,#4538d7,#473ee1,#4743e7,#4850f2,#4742e6,#4747ec,#484cf0,#4854f5,#484ff2,#475af9,#475af9,#4743e7,#2e85f8,#2d8af5,#3d71ff,#4755f6,#484aee,#484bef,#475bf9,#3975fe,#4757f7,#4743e7,#463ee1,#484bef,#4850f3,#4744e9,#463ada,#473fe2,#4849ed,#4853f5,#412dbc,#484bef,#484cef,#4435d2,#4332ca,#463ada,#4755f6,#4759f8,#463cdf)"></i><i style="background:linear-gradient(#2d88f6,#3776fe,#416bfe,#3f6dfe,#475cfa,#4756f6,#4854f5,#484aee,#4746ea,#484df0,#484bee,#4746ea,#4747eb,#484df0,#4851f3,#463ee0,#484cef,#4746ea,#484cf0,#4747eb,#4756f6,#4757f7,#463de0,#3080fa,#2e84f8,#416bfe,#4850f3,#4848ec,#484bee,#475bfa,#3876fe,#4757f7,#4742e7,#463de0,#484aee,#484ff2,#4744e8,#4639d9,#473ee1,#4848ec,#4853f5,#412dbb,#484bef,#484cf0,#4535d2,#4332ca,#463ada,#4755f6,#4759f8,#463ddf)"></i><i style="background:linear-gradient(#4747eb,#4740e3,#473fe2,#4742e6,#484aee,#484cef,#4745e9,#463de0,#4538d7,#473fe2,#4742e6,#4849ed,#4741e5,#4851f3,#4852f4,#4434ce,#4756f7,#484df0,#484df1,#484bee,#4755f6,#4757f7,#463de0,#337afd,#317efb,#4465fd,#484bef,#4745e9,#484aee,#475bfa,#3777fe,#4756f7,#4742e6,#463cdf,#4849ed,#484ff2,#4743e7,#4539d9,#463ee1,#4848ec,#4853f5,#412cba,#484cef,#484cf0,#4536d2,#4332ca,#463adb,#4755f6,#4759f8,#463de0)"></i><i style="background:linear-gradient(#4432cb,#412dbb,#412cb9,#412cbb,#412dbc,#412dbc,#402ab5,#422fc2,#402ab5,#4330c5,#422fc0,#484aee,#4332c8,#4758f8,#4758f8,#4434ce,#4563fc,#4759f8,#4854f5,#4756f6,#4758f8,#4759f8,#4743e7,#3975fe,#3776fe,#465ffb,#4746ea,#4742e6,#4849ed,#475bfa,#3777fe,#4755f6,#4741e4,#463cde,#4848ec,#484ef1,#4742e6,#4538d8,#463ee1,#4848ec,#4853f5,#412cb9,#484cef,#484df0,#4536d3,#4332ca,#463adb,#4755f6,#4759f8,#463de0)"></i><i style="background:linear-gradient(#4434cf,#4332c9,#463ddf,#473ee1,#4433cc,#402ab3,#4230c3,#473fe2,#463adb,#4742e6,#4849ed,#4561fc,#484ef1,#416bfe,#426afe,#484ff2,#3c71ff,#4563fd,#475bfa,#4561fc,#465dfa,#475cfa,#484bef,#3f6fff,#3f6eff,#4759f8,#4740e4,#473fe3,#4848ec,#475bfa,#3677fe,#4854f5,#473fe3,#463bdd,#4848ec,#484df1,#4741e6,#4538d7,#463de0,#4747eb,#4853f5,#412cb9,#484cef,#484df0,#4536d3,#4332cb,#463adb,#4755f6,#4759f8,#463de0)"></i><i style="background:linear-gradient(#4850f2,#327cfc,#259de7,#3f6eff,#2b91ef,#2895ec,#23a1e5,#1aacdd,#20a5e3,#249ee6,#259ce7,#2797eb,#2e86f7,#2d88f6,#2e85f8,#3b73fe,#317efb,#4368fe,#4562fc,#406cfe,#4563fc,#4660fb,#4853f5,#4368fe,#4465fd,#4853f5,#463bdd,#463cdf,#4747eb,#475bf9,#3677fe,#4853f5,#463ee1,#463adb,#4747eb,#484df0,#4741e5,#4537d6,#463de0,#4747eb,#4853f5,#402cb8,#484cf0,#484df0,#4536d3,#4433cb,#463adb,#4755f6,#4759f8,#463ee1)"></i><i style="background:linear-gradient(#f9fb15,#f9fb15,#f9fb15,#f6f020,#febe3c,#c6c22a,#85cb56,#7dcc5b,#54cc7d,#2fc5a3,#04bbc2,#1babde,#2798ea,#2c8ff1,#2a92ee,#2d89f6,#2f81fa,#4562fc,#4563fd,#3b73fe,#4466fd,#4562fc,#4758f8,#4562fc,#465efb,#484df0,#4537d6,#463adb,#4745e9,#475af9,#3677fe,#4852f4,#463de0,#4639d9,#4746ea,#484cef,#4740e4,#4537d5,#463ddf,#4746eb,#4853f5,#402bb8,#484cf0,#484ef1,#4536d4,#4433cb,#463adb,#4756f6,#4759f9,#463ee1)"></i><i style="background:linear-gradient(#475bf9,#4464fd,#2e87f7,#3f6eff,#2b92ee,#2d88f6,#337bfc,#1ca9e0,#1aacdd,#14b0d8,#1ea6e1,#2b91ef,#2e84f9,#3579fd,#2c90f0,#2c8ff1,#337bfc,#4755f6,#4561fc,#3974fe,#4367fd,#4562fc,#475bf9,#475cfa,#4757f7,#4848ec,#4434cf,#4538d7,#4743e8,#475af9,#3677fe,#4851f3,#463cde,#4538d8,#4745e9,#484bef,#473fe3,#4536d4,#463cdf,#4746ea,#4853f5,#402bb8,#484df0,#484ef1,#4536d4,#4433cc,#463adb,#4756f6,#4759f9,#473ee2)"></i><i style="background:linear-gradient(#4332c9,#4230c3,#4331c8,#4744e9,#484ef1,#473fe3,#463ee1,#4849ed,#4741e5,#4563fd,#4466fd,#4759f8,#475bfa,#484ef1,#3080fa,#2d89f5,#3f6eff,#4741e5,#475bfa,#3c72ff,#4464fd,#4660fb,#475cfa,#4756f7,#4850f3,#4743e7,#4332ca,#4536d4,#4742e6,#4759f8,#3777fe,#484ff2,#463adc,#4537d6,#4744e8,#484aee,#473fe2,#4536d3,#463cde,#4746ea,#4853f5,#402bb7,#484df0,#484ef1,#4536d5,#4433cc,#463adb,#4756f6,#475af9,#473fe2)"></i><i style="background:linear-gradient(#422ebf,#463bdd,#484df0,#463bde,#4747eb,#4742e6,#4848ec,#4433cc,#4539d9,#484ef1,#484cef,#473fe3,#4849ed,#4536d2,#4269fe,#327bfc,#4562fc,#422fc1,#4755f6,#416bfe,#465ffb,#475cfa,#475bfa,#4850f3,#484aee,#463ee1,#4331c7,#4435d0,#4740e3,#4758f8,#3776fe,#484ef1,#4639da,#4537d5,#4743e7,#484aed,#463ee1,#4536d3,#463cde,#4745e9,#4853f5,#402bb7,#484df0,#484ef1,#4537d5,#4433cc,#463adc,#4756f6,#475af9,#473fe2)"></i><i style="background:linear-gradient(#4758f8,#4562fc,#4269fe,#4269fe,#406dfe,#3e6fff,#4563fd,#4853f5,#484ef1,#4854f5,#4854f5,#484aee,#4746eb,#463bdd,#4853f5,#4465fd,#4759f9,#412ebd,#484ef1,#4562fc,#4756f7,#4756f7,#4759f8,#4849ed,#4744e8,#463ada,#4330c5,#4433cd,#463ee1,#4757f7,#3876fe,#484cf0,#4538d7,#4536d3,#4742e6,#4849ed,#463de0,#4435d1,#463bdd,#4745e9,#4853f5,#402bb8,#484df0,#484ff2,#4537d5,#4433cc,#463adc,#4756f6,#475af9,#473fe3)"></i><i style="background:linear-gradient(#4434ce,#4434cf,#4535d2,#4435d0,#4742e6,#463cde,#4743e7,#4741e5,#463ee1,#4741e5,#484aee,#4848ec,#473ee1,#4537d6,#4743e7,#4852f4,#4854f6,#4538d7,#4848ec,#4758f8,#484df1,#484ff2,#4756f7,#4743e7,#473fe2,#4536d4,#4330c5,#4332cb,#463cde,#4756f6,#3975fe,#484bef,#4537d5,#4435d1,#4741e5,#4848ec,#463ddf,#4435d1,#463bdd,#4744e9,#4853f5,#402bb8,#484df1,#484ff2,#4537d6,#4433cd,#463adc,#4756f6,#475af9,#473fe3)"></i><i style="background:linear-gradient(#4331c5,#4332c8,#4537d6,#484aee,#4745e9,#4331c7,#4330c4,#412dbc,#412dbb,#402bb8,#463ada,#463bdd,#4433cd,#412ebe,#4537d5,#473fe2,#484ff2,#473ee2,#4742e6,#484df0,#4744e8,#4848ec,#4853f5,#463de0,#463bdd,#4433cd,#4331c6,#4332c9,#463adb,#4755f6,#3a74fe,#484aed,#4536d2,#4434cf,#4740e4,#4747eb,#463cdf,#4434d0,#463bdc,#4744e8,#4853f5,#412cb8,#484ef1,#484ff2,#4537d6,#4433cd,#463bdc,#4756f6,#475af9,#4740e3)"></i><i style="background:linear-gradient(#422ebe,#4332ca,#463bdd,#4747eb,#4740e3,#4230c3,#4230c4,#4230c4,#402ab5,#402ab5,#4434cf,#4433cc,#412ebe,#402bb7,#4332c8,#4330c5,#4848ec,#4740e3,#463ddf,#4743e7,#463bdd,#4741e5,#484ff2,#4538d7,#4538d7,#4331c6,#4331c8,#4331c7,#4538d7,#4853f5,#3a73fe,#4848ec,#4435d0,#4433cd,#473fe3,#4746eb,#463cde,#4434cf,#463adb,#4744e8,#4853f5,#412cb9,#484ef1,#4850f2,#4537d6,#4433cd,#463bdc,#4756f6,#475af9,#4740e4)"></i><i style="background:linear-gradient(#422fc2,#422fc1,#4432cb,#4230c4,#422fc1,#4331c8,#4434cf,#4435d0,#412ebe,#4331c6,#4536d4,#4435d1,#4332c8,#4332ca,#4331c7,#402ab4,#4742e6,#463de0,#4537d6,#463bdc,#4435d1,#463bde,#484cf0,#4433cc,#4536d2,#422ec0,#4332ca,#4331c6,#4536d4,#4852f4,#3b72ff,#4747eb,#4434cd,#4433cb,#473ee2,#4746ea,#463bdd,#4434ce,#463adb,#4743e7,#4853f5,#412cba,#484ef1,#4850f2,#4537d7,#4433cd,#463bdc,#4756f6,#475af9,#4740e4)"></i><i style="background:linear-gradient(#4433cc,#463adc,#4434cf,#412ebd,#402bb8,#402ab3,#422fc1,#4536d2,#463cdf,#4538d7,#4433cd,#463cdf,#473fe2,#463bdd,#4434ce,#4230c3,#473ee1,#4538d8,#4433cb,#4433cd,#4331c8,#4538d7,#4849ed,#422fc0,#4434ce,#412cba,#4433cb,#4330c5,#4434cf,#4851f3,#3d71ff,#4746ea,#4433cb,#4332c9,#463ee0,#4745e9,#463bdc,#4434cd,#4639da,#4743e7,#4853f5,#412cbb,#484ef1,#4850f3,#4538d7,#4434ce,#463bdc,#4756f7,#475af9,#4741e4)"></i><i style="background:linear-gradient(#4433cc,#4331c7,#4536d5,#4434ce,#412ebd,#4331c7,#422fc3,#4639d9,#4746ea,#4537d7,#412dbb,#4742e6,#484bee,#4740e4,#4435d1,#4432cb,#463cdf,#4434cf,#4230c3,#422ebf,#4331c7,#4537d5,#4848ec,#402bb6,#4433cb,#402bb7,#4433cd,#4230c4,#4433cb,#484ff2,#3e70ff,#4745e9,#4332c9,#4331c7,#463ddf,#4744e8,#463adb,#4433cd,#4639d9,#4743e7,#4853f5,#412dbb,#484ff1,#4850f3,#4538d7,#4434ce,#463bdd,#4756f7,#475af9,#4741e5)"></i><i style="background:linear-gradient(#484df1,#463de0,#484aee,#484aee,#463adb,#4435d0,#463de0,#4848ec,#4848ec,#4639d9,#4535d2,#4747eb,#4850f2,#473fe2,#4332ca,#4332c9,#463cde,#4433cc,#422fc0,#3f29b1,#4332ca,#4538d8,#4747eb,#3f28ae,#4332ca,#402bb6,#4434ce,#4230c3,#4331c7,#484ef1,#3f6eff,#4744e8,#4331c7,#4330c5,#463cde,#4743e7,#463adb,#4433cc,#4539d9,#4742e6,#4853f5,#412dbc,#484ff2,#4851f3,#4538d7,#4434ce,#463bdd,#4756f7,#475af9,#4741e5)"></i><i style="background:linear-gradient(#4743e7,#4741e5,#463bdd,#4434d0,#412cba,#402bb7,#4536d3,#4740e4,#463ee1,#412dbd,#4536d3,#4848ec,#484ff2,#4639da,#412dbd,#412ebe,#463de0,#4535d2,#4230c4,#402ab3,#4435d1,#463cde,#4747eb,#402ab3,#4332c9,#402bb6,#4434cf,#422fc2,#4230c3,#484df0,#406dfe,#4743e7,#4330c5,#422fc3,#463bdd,#4743e7,#463ada,#4433cc,#4538d8,#4742e6,#4853f5,#412ebd,#484ff2,#4851f3,#4538d8,#4434ce,#463bdd,#4756f7,#475bf9,#4741e5)"></i><i style="background:linear-gradient(#473fe3,#4742e6,#4433cd,#422ebf,#3f29b0,#412dbc,#412ebe,#4433cc,#4538d7,#402bb7,#4331c6,#4743e7,#484aee,#4536d3,#402bb6,#3f29b2,#4741e4,#463bdd,#4433cd,#422fc2,#4538d8,#4740e4,#4848ec,#412dbb,#4331c8,#412cb9,#4434cf,#422fc1,#422ebf,#484bef,#406cfe,#4742e6,#4230c3,#422fc1,#463bdc,#4742e6,#4639da,#4433cb,#4538d7,#4741e6,#4854f5,#422ebf,#484ff2,#4851f3,#4538d8,#4434ce,#463bdd,#4756f7,#475bf9,#4742e6)"></i><i style="background:linear-gradient(#4741e5,#4332c8,#4435d0,#4743e7,#4741e5,#463cde,#463adb,#4539d8,#4536d2,#402bb6,#412dbd,#463cdf,#4741e5,#4538d8,#4230c3,#4331c8,#4848ec,#4744e8,#4539d9,#4536d4,#463de0,#4746ea,#484aee,#4330c5,#4331c8,#412dbb,#4435d0,#422fc1,#412dbc,#484aee,#416afe,#4741e5,#422fc1,#422ebe,#463adb,#4741e5,#4639d9,#4332cb,#4537d6,#4741e5,#4854f5,#422ec0,#4850f2,#4852f4,#4538d8,#4434cf,#463bdd,#4756f7,#475bf9,#4742e6)"></i><i style="background:linear-gradient(#4538d8,#463cdf,#4539d9,#4747eb,#473fe3,#4434cd,#463de0,#4435d1,#4433cc,#422fc2,#402bb7,#463bdc,#4434cd,#473ee1,#463bdd,#473fe2,#4851f3,#484cf0,#473fe3,#463de0,#4742e6,#484aee,#484df0,#4433cc,#4331c7,#412ebe,#4435d1,#422fc0,#412cb8,#4849ed,#4269fe,#4740e4,#422fc0,#412dbc,#4639da,#4740e4,#4539d9,#4332ca,#4537d6,#4741e5,#4854f5,#422fc1,#4850f2,#4852f4,#4539d9,#4434cf,#463bdd,#4756f7,#475bf9,#4742e6)"></i><i style="background:linear-gradient(#402bb6,#4332c9,#4639d9,#4746ea,#4747eb,#463de0,#4435d1,#412ebe,#4435d2,#463bdd,#4538d8,#4743e7,#412dbd,#4849ed,#484cef,#484df1,#4759f8,#4853f5,#4746ea,#4744e8,#4746ea,#484ef1,#484ff2,#4536d2,#4331c6,#422ec0,#4535d2,#422fc0,#402bb6,#4848ec,#4368fd,#4740e4,#422ebf,#412cbb,#4539d9,#473fe3,#4539d8,#4332ca,#4537d5,#4741e4,#4854f5,#422fc2,#4850f3,#4852f4,#4539d9,#4434cf,#463bdd,#4756f7,#475bf9,#4743e7)"></i><i style="background:linear-gradient(#463de0,#4537d5,#4740e4,#4742e6,#4741e5,#484aee,#4848ec,#484bef,#465efb,#4465fd,#465ffb,#475af9,#4849ed,#4757f7,#4759f8,#4757f7,#475cfa,#4756f7,#484aee,#4849ed,#4849ed,#4851f3,#4852f4,#4538d7,#4330c5,#422fc1,#4536d3,#422fc0,#402ab5,#4747eb,#4466fd,#4740e3,#422ebf,#412cb9,#4538d8,#473fe2,#4538d8,#4332ca,#4536d4,#4740e4,#4854f5,#4230c4,#4850f3,#4852f4,#4639d9,#4434cf,#463bde,#4756f7,#475bf9,#4743e7)"></i><i style="background:linear-gradient(#26c2ad,#01b8c9,#12b1d6,#21a3e3,#2b90ef,#2e83f9,#2e84f8,#2e84f8,#2d8af5,#2e86f7,#327cfc,#3b73fe,#4464fd,#465ffb,#475bf9,#4756f7,#4759f8,#4755f6,#484bef,#484bee,#484aee,#4853f5,#4854f5,#463adc,#4230c3,#4230c3,#4536d3,#422fc0,#402ab4,#4745ea,#4465fd,#4740e3,#422ebf,#402bb7,#4537d7,#463ee1,#4538d8,#4332ca,#4536d3,#4740e4,#4854f6,#4330c5,#4851f3,#4853f4,#4639da,#4434cf,#463cde,#4756f7,#475bf9,#4743e7)"></i><i style="background:linear-gradient(#484bef,#484aee,#4743e7,#4850f2,#4848ec,#473fe3,#4852f4,#4756f7,#426afe,#4563fd,#4465fd,#416cfe,#4564fd,#4757f7,#4852f4,#484cf0,#4850f2,#484ff2,#4848ec,#4849ed,#4849ed,#4854f5,#4756f6,#463cde,#422fc1,#4230c4,#4536d4,#422fc1,#402ab5,#4744e9,#4563fd,#473fe3,#422ebf,#402ab5,#4537d6,#463de0,#4538d8,#4332ca,#4536d2,#4740e3,#4854f6,#4331c7,#4851f3,#4853f5,#4639da,#4434d0,#463cde,#4756f7,#475bf9,#4743e8)"></i><i style="background:linear-gradient(#4740e4,#4332ca,#4535d2,#4230c4,#4331c7,#4331c8,#4434ce,#4331c7,#4742e6,#4435d0,#463de0,#4850f3,#4852f4,#4743e7,#4744e8,#463ee1,#4744e8,#4747eb,#4743e7,#4745e9,#4746ea,#4854f5,#4757f7,#463de0,#412ebe,#4330c5,#4537d5,#422fc2,#402bb7,#4744e8,#4562fc,#473fe3,#422ebf,#402ab4,#4536d5,#463cdf,#4538d8,#4332ca,#4435d2,#473fe3,#4755f6,#4331c8,#4851f3,#4853f5,#4639da,#4434d0,#463cde,#4756f7,#475bfa,#4744e8)"></i><i style="background:linear-gradient(#4433cc,#4332ca,#412ebe,#422fc3,#422fc2,#402bb7,#4433cd,#4536d4,#4435d1,#412dbc,#422fc1,#4537d5,#473fe2,#4331c8,#4538d8,#4332ca,#4539d9,#463de0,#463cdf,#473ee2,#4742e6,#4853f4,#4757f7,#473fe2,#412dbb,#4331c6,#4537d6,#422fc3,#412cb8,#4743e7,#4660fc,#4740e3,#422fc0,#3f29b2,#4536d4,#463cde,#4538d8,#4332cb,#4435d1,#473fe3,#4755f6,#4332c9,#4851f4,#4853f5,#463ada,#4435d0,#463cde,#4756f7,#475bfa,#4744e8)"></i><i style="background:linear-gradient(#4331c7,#412dbb,#412dbd,#4331c7,#412dbc,#4433cd,#4332cb,#422ebf,#4230c3,#3f29b0,#412dbd,#4029b3,#4536d2,#412dbd,#4434ce,#422ebf,#4433cd,#4435d1,#4536d4,#4538d7,#463cdf,#4851f3,#4757f7,#4740e3,#412cb8,#4331c7,#4537d6,#4230c3,#412cba,#4742e6,#465ffb,#4740e3,#422fc1,#3f29b1,#4536d3,#463bdd,#4538d8,#4433cb,#4435d0,#473fe2,#4755f6,#4432cb,#4852f4,#4854f5,#463adb,#4435d0,#463cde,#4756f7,#475cfa,#4744e8)"></i><i style="background:linear-gradient(#4435d0,#4539d9,#463adb,#463bdc,#4639d9,#463adb,#4332ca,#412dbb,#4331c6,#4230c3,#4330c5,#412ebe,#4433cb,#4332ca,#4434ce,#4330c5,#4332c8,#422ebf,#4331c8,#4332c9,#4536d5,#484ef1,#4756f6,#4740e4,#402bb7,#4332c8,#4537d6,#4230c4,#412dbc,#4741e5,#465dfa,#4740e4,#422fc2,#3f29b0,#4535d2,#463adb,#4538d8,#4433cb,#4434cf,#473fe2,#4755f6,#4433cc,#4852f4,#4854f5,#463adb,#4435d0,#463cde,#4757f7,#475cfa,#4745e9)"></i><i style="background:linear-gradient(#412dbc,#412cba,#412dbb,#402bb8,#4434cf,#4537d5,#412dbb,#412dbb,#4331c7,#4434cf,#4433cc,#4330c5,#4230c4,#4434ce,#4435d0,#4332cb,#4332ca,#402ab4,#422ebf,#422ebf,#4433cb,#484aee,#4854f5,#4741e5,#412cb9,#4332ca,#4538d7,#4330c5,#412ebe,#4741e5,#475bfa,#4740e4,#4230c3,#3f29b0,#4435d1,#463ada,#4539d9,#4433cc,#4434ce,#473fe2,#4755f6,#4434ce,#4852f4,#4854f5,#463adb,#4435d0,#463cdf,#4757f7,#475cfa,#4745e9)"></i><i style="background:linear-gradient(#422fc2,#402cb8,#412ebe,#4331c7,#4332c9,#4230c3,#412cb9,#402ab4,#412dbb,#4433cd,#4230c3,#422ebf,#402ab3,#4434cd,#4433cd,#4433cc,#4433cd,#402ab3,#412cba,#412cbb,#4330c5,#4747eb,#4851f3,#4741e5,#412dbd,#4433cc,#4538d7,#4330c5,#422ec0,#4740e4,#475af9,#4741e4,#4330c5,#3f29b1,#4435d0,#4539d9,#4539d9,#4433cd,#4434ce,#473fe2,#4756f6,#4434cf,#4853f4,#4854f6,#463adb,#4435d1,#463cdf,#4757f7,#475cfa,#4745e9)"></i><i style="background:linear-gradient(#4535d2,#4434ce,#4434ce,#412ebe,#402bb7,#412cb9,#422ebf,#422fc2,#422fc1,#4331c8,#402ab5,#412ebe,#402bb6,#4434cf,#422fc2,#4332ca,#4435d1,#402bb8,#402bb6,#412cbb,#4230c4,#4743e7,#484ef1,#4742e6,#422fc2,#4434cd,#4538d7,#4330c5,#422fc1,#4740e3,#4758f8,#4741e5,#4331c6,#3f29b2,#4434d0,#4538d8,#4639d9,#4433cd,#4433cd,#473ee2,#4756f6,#4435d0,#4853f5,#4755f6,#463adc,#4435d1,#463cdf,#4757f7,#475cfa,#4745ea)"></i><i style="background:linear-gradient(#416bfe,#4660fc,#4755f6,#4849ed,#4744e8,#4740e3,#463ee1,#4536d4,#422ebf,#4331c8,#4230c3,#4332c9,#4433cd,#4536d5,#412dbb,#4433cc,#4537d5,#412dbc,#3f29b2,#412dbc,#4331c6,#4740e3,#484aee,#4742e6,#4331c8,#4434cf,#4537d7,#4330c5,#422fc2,#473fe2,#4757f7,#4741e5,#4331c8,#402ab3,#4434cf,#4538d7,#4639da,#4434ce,#4433cd,#473ee1,#4756f7,#4535d2,#4853f5,#4755f6,#463bdc,#4435d1,#463cdf,#4757f7,#475cfa,#4746ea)"></i><i style="background:linear-gradient(#463de0,#4332c9,#4536d4,#4744e8,#463cde,#4538d7,#4742e6,#4435d2,#402bb7,#4433cd,#4537d5,#4538d7,#463ada,#463cdf,#4434cd,#4536d4,#4538d8,#422ebe,#3e27ac,#422ebf,#4332c9,#463bdd,#4746ea,#4743e7,#4434ce,#4435d1,#4537d6,#4230c4,#4230c3,#473ee1,#4755f6,#4742e6,#4332c9,#402ab4,#4434ce,#4537d5,#463ada,#4434cf,#4433cc,#473ee1,#4756f7,#4536d3,#4853f5,#4755f6,#463bdc,#4435d1,#463cdf,#4757f7,#475cfa,#4746ea)"></i><i style="background:linear-gradient(#4434cf,#463de0,#4434cf,#4331c7,#4538d7,#4539d8,#4539d9,#422ec0,#4230c4,#4536d3,#4434ce,#4536d3,#4538d8,#4742e6,#463ddf,#463adb,#4539d9,#422fc0,#3e27ac,#422fc1,#4432cb,#4538d7,#4741e5,#4743e7,#4536d3,#4536d3,#4537d5,#4230c3,#4230c4,#463ee1,#4853f5,#4742e6,#4433cb,#402bb6,#4434ce,#4536d4,#463adb,#4434d0,#4433cc,#473ee1,#4757f7,#4537d5,#4854f5,#4755f6,#463bdd,#4435d1,#463ddf,#4757f7,#475cfa,#4746ea)"></i><i style="background:linear-gradient(#463cde,#463bdd,#4332c8,#412cb8,#4331c6,#4331c7,#422fc1,#4433cd,#4537d5,#4536d4,#402ab4,#4330c5,#4332c9,#4745ea,#4743e8,#463bdd,#4538d8,#422fc2,#4029b2,#4230c4,#4433cc,#4434d0,#463ddf,#4742e6,#4538d7,#4536d4,#4536d5,#422fc2,#4230c4,#463de0,#4851f3,#4742e6,#4433cd,#402bb7,#4434cd,#4536d3,#463adb,#4435d1,#4433cb,#473ee1,#4757f7,#4537d6,#4854f5,#4756f6,#463bdd,#4435d1,#463ddf,#4757f7,#475cfa,#4747eb)"></i><i style="background:linear-gradient(#4331c6,#4331c8,#4230c3,#402bb8,#402ab5,#4230c4,#4331c6,#463ada,#4740e4,#463adc,#4230c3,#4331c7,#4432cb,#4747eb,#4744e8,#4639da,#4536d4,#4230c4,#412cb9,#4331c7,#4433cb,#4331c8,#4538d8,#4742e6,#463ada,#4537d5,#4536d3,#422fc0,#4330c5,#463ddf,#484ff2,#4743e7,#4434ce,#412cb9,#4433cd,#4435d1,#463bdc,#4435d2,#4433cb,#473ee1,#4757f7,#4538d7,#4854f6,#4756f6,#463bdd,#4435d1,#463ddf,#4757f7,#475cfa,#4747eb)"></i><i style="background:linear-gradient(#4849ed,#4853f4,#463cdf,#422fc1,#4434ce,#4433cd,#402bb8,#4535d2,#463cdf,#463cdf,#4539d9,#463bdc,#463de0,#4745ea,#473fe3,#4434cf,#4434ce,#4230c3,#412dbd,#4332ca,#4332cb,#422fc0,#4434cf,#4742e6,#463bdd,#4537d6,#4535d2,#422ebe,#4330c5,#463cdf,#484df0,#4743e7,#4434d0,#412cba,#4433cd,#4434d0,#463bdd,#4536d3,#4332cb,#473ee1,#4757f7,#4539d9,#4755f6,#4756f7,#463bdd,#4435d1,#463ddf,#4757f7,#475dfa,#4747eb)"></i><i style="background:linear-gradient(#4536d4,#473ee2,#473ee1,#4332ca,#4435d1,#4538d7,#4331c8,#4330c5,#412dbb,#4331c7,#4537d5,#4743e7,#4742e6,#473fe2,#4538d7,#412dbd,#4230c4,#422ec0,#422fc0,#4433cc,#4332c9,#412cb9,#4330c5,#4741e5,#463cdf,#4537d6,#4435d0,#412dbc,#4330c5,#463bde,#484bee,#4743e7,#4435d1,#412dbc,#4433cc,#4434ce,#463bde,#4536d4,#4332cb,#473ee1,#4758f8,#4639da,#4755f6,#4756f7,#463bdd,#4435d1,#463de0,#4757f7,#475dfa,#4747ec)"></i><i style="background:linear-gradient(#4536d3,#4433cd,#4537d6,#4535d2,#4434ce,#4331c8,#402bb6,#4331c6,#412dbd,#422ebf,#4434d0,#4743e7,#463cde,#4536d4,#4433cd,#3f29b0,#412dbd,#412cba,#422fc1,#4433cd,#4331c8,#402ab3,#412dbd,#4741e5,#463de0,#4537d5,#4434cf,#412cb9,#4330c5,#463bdd,#4849ed,#4744e8,#4536d3,#412ebe,#4433cc,#4433cd,#463cde,#4537d5,#4332cb,#473ee2,#4758f8,#463adb,#4755f6,#4756f7,#463cde,#4435d1,#463de0,#4757f7,#465dfa,#4848ec)"></i><i style="background:linear-gradient(#422fc2,#4433cc,#412dbd,#422fc0,#412cba,#422fc1,#4536d4,#463cde,#4639da,#4537d6,#463adb,#473fe2,#4433cc,#422ebf,#4330c5,#3f29b1,#412cb8,#3f29b2,#422ec0,#4433cd,#4331c7,#3f28af,#402bb7,#4740e4,#463de0,#4536d4,#4434cd,#402bb7,#4330c5,#463adb,#4746eb,#4744e8,#4536d5,#422ebf,#4433cc,#4433cc,#463cdf,#4537d6,#4332cb,#473ee2,#4758f8,#463bdc,#4756f6,#4757f7,#463cde,#4435d2,#463de0,#4757f7,#465dfa,#4848ec)"></i><i style="background:linear-gradient(#4331c7,#4230c3,#4435d1,#4332c8,#4435d0,#463cde,#473fe2,#463ee1,#4536d3,#4537d5,#4537d6,#463bdc,#412dbd,#3f29b0,#422ec0,#402bb6,#402bb7,#3e27ab,#422ebe,#4433cc,#4331c7,#3e27ab,#402bb7,#4740e4,#463de0,#4536d3,#4433cc,#402ab4,#4330c5,#463ada,#4744e8,#4744e8,#4537d6,#422fc1,#4433cb,#4332ca,#463de0,#4538d7,#4432cb,#473fe2,#4758f8,#463bdd,#4756f7,#4757f7,#463cde,#4435d2,#463de0,#4757f7,#465dfa,#4848ec)"></i><i style="background:linear-gradient(#412dbc,#412dbd,#4434d0,#4744e9,#4745e9,#4537d5,#4330c4,#4536d4,#402bb6,#4331c6,#4230c3,#4639d9,#402bb7,#3f29b1,#412dbc,#402bb7,#402bb7,#3f28af,#412dbc,#4332cb,#4331c8,#3e27ab,#412dbb,#4740e4,#463ddf,#4435d1,#4332cb,#3f29b1,#4330c5,#4639d9,#4742e6,#4744e8,#4538d7,#422fc3,#4433cb,#4332c9,#463de0,#4538d8,#4433cb,#473fe2,#4759f8,#463cdf,#4756f7,#4757f7,#463cde,#4435d2,#463de0,#4757f7,#465dfa,#4848ec)"></i><i style="background:linear-gradient(#4746ea,#4537d5,#4538d8,#4433cd,#4433cc,#422fc1,#4434cf,#463cdf,#463cde,#4639da,#4538d7,#463cde,#412ebe,#412cba,#402cb8,#402bb6,#402bb8,#402ab5,#412cba,#4332c9,#4332ca,#3f29b1,#4230c4,#4740e4,#463cde,#4434ce,#4332c9,#3f28ad,#4330c5,#4538d8,#473fe3,#4744e8,#4539d9,#4230c4,#4433cb,#4331c8,#463ee1,#4639d9,#4433cb,#473fe2,#4759f8,#463de0,#4757f7,#4757f7,#463cdf,#4435d2,#463de0,#4757f7,#465dfa,#4849ed)"></i><i style="background:linear-gradient(#484ff2,#463ee0,#4741e5,#473fe2,#463adb,#4331c6,#4230c4,#463cdf,#4745e9,#4745e9,#4743e7,#4741e5,#4536d2,#4331c6,#402bb6,#402ab6,#402bb7,#412cb9,#402bb6,#4331c7,#4434ce,#412cb9,#4433cc,#4741e5,#463adc,#4433cb,#4332c8,#3e27aa,#4330c5,#4538d7,#463de0,#4744e8,#4639da,#4331c6,#4433cb,#4331c7,#473fe2,#463ada,#4433cc,#473fe3,#4759f8,#463ee1,#4757f7,#4757f7,#463cdf,#4535d2,#463de0,#4757f7,#465dfb,#4849ed)"></i><i style="background:linear-gradient(#4434cf,#4434ce,#463ddf,#4853f5,#4848ec,#4433cc,#412ebe,#4332c9,#4539d9,#463bdd,#463de0,#4741e5,#463ee1,#4536d4,#412dbd,#402bb7,#402ab5,#412dbc,#3f29b1,#4331c8,#4536d3,#422fc2,#4536d4,#4741e5,#4639d9,#4331c8,#4331c8,#3e27aa,#4330c5,#4537d6,#463bdc,#4744e8,#463adb,#4331c7,#4433cb,#4331c6,#473fe3,#463adb,#4433cc,#473fe3,#475af9,#473ee2,#4757f7,#4758f8,#463cdf,#4535d2,#463de0,#4757f7,#465dfb,#4849ed)"></i><i style="background:linear-gradient(#4536d4,#4435d0,#4746eb,#484bee,#4332cb,#422ec0,#4434ce,#412cbb,#4230c4,#412cba,#422fc2,#463ada,#4741e5,#463de0,#4433cd,#412dbb,#402ab4,#422fc1,#3f29b1,#4332cb,#4539d8,#4433cc,#463adb,#4741e5,#4538d7,#4230c4,#4331c7,#3f28ad,#4330c5,#4537d5,#4539d9,#4744e8,#463bdc,#4332c9,#4433cb,#4330c5,#4740e4,#463bdd,#4433cd,#4740e3,#475af9,#473fe3,#4758f8,#4758f8,#463cdf,#4535d2,#463ee0,#4757f7,#465dfb,#4849ed)"></i><i style="background:linear-gradient(#4854f5,#473fe3,#4747eb,#4368fe,#4466fd,#4561fc,#4853f5,#4741e5,#4433cb,#3f29b2,#3f29b1,#4434cf,#463adc,#4744e8,#463de0,#4331c6,#412ebe,#4331c7,#412cba,#4435d1,#463ddf,#4538d7,#473ee1,#4741e6,#4536d4,#422ec0,#4331c7,#3f29b0,#4330c5,#4536d3,#4536d4,#4744e8,#463bdd,#4432cb,#4433cb,#4230c4,#4741e4,#463cde,#4434ce,#4740e4,#475af9,#4740e4,#4758f8,#4758f8,#463ddf,#4535d2,#463ee1,#4757f7,#465efb,#484aee)"></i><i style="background:linear-gradient(#4756f6,#484bee,#4757f7,#3b72ff,#327cfc,#4464fd,#484bef,#484aee,#4538d7,#402bb6,#422fc1,#4536d3,#412ebe,#484aee,#484aee,#4538d8,#4434ce,#4434ce,#4230c3,#4538d8,#4741e5,#463de0,#4742e6,#4741e6,#4435d1,#412dbc,#4331c6,#402ab3,#4330c5,#4536d2,#4434d0,#4744e8,#463cde,#4433cc,#4433cb,#4230c3,#4741e5,#463cdf,#4434cf,#4740e4,#475bf9,#4741e5,#4758f8,#4758f8,#463ddf,#4535d2,#463ee1,#4757f8,#465efb,#484aee)"></i><i style="background:linear-gradient(#4332c9,#4230c3,#422fc2,#4332cb,#463ee0,#4740e4,#4639da,#4742e6,#4537d6,#4332ca,#463de0,#4741e5,#4435d1,#4853f5,#4757f7,#4745e9,#463bdd,#4536d4,#4433cb,#463ddf,#4745e9,#4742e6,#4745e9,#4741e5,#4434ce,#412cb8,#4331c6,#402ab5,#4331c6,#4435d1,#4433cb,#4744e8,#463cdf,#4434ce,#4433cb,#4230c3,#4742e6,#463de0,#4434d0,#4741e5,#475bf9,#4742e6,#4758f8,#4758f8,#463de0,#4535d2,#463ee1,#4757f8,#465efb,#484aee)"></i><i style="background:linear-gradient(#4535d2,#4742e6,#4745e9,#475cfa,#4853f5,#465ffb,#426afe,#4849ed,#4746ea,#4759f8,#465ffb,#4759f8,#484ff2,#465dfb,#4561fc,#4850f2,#4743e7,#4538d7,#4434cf,#4741e5,#4849ed,#4746ea,#4747eb,#4741e5,#4433cb,#402ab5,#4331c6,#402bb7,#4331c6,#4435d0,#4331c7,#4744e8,#463ddf,#4434cf,#4433cc,#4230c3,#4743e7,#463ee1,#4435d1,#4741e5,#475bf9,#4742e6,#4759f8,#4758f8,#463de0,#4535d2,#463ee1,#4758f8,#465efb,#484bee)"></i><i style="background:linear-gradient(#27c2ab,#33c69e,#2ec5a3,#13beb8,#0db3d3,#259de7,#2e83f9,#3a74fe,#3974fe,#317efb,#3677fe,#4564fd,#475af9,#465ffb,#4564fd,#4756f7,#4747eb,#4537d6,#4434d0,#4744e8,#484cef,#4849ed,#4849ed,#4740e4,#4332c9,#402ab3,#4331c5,#412cb9,#4331c7,#4434cf,#422fc2,#4744e8,#463de0,#4435d1,#4433cc,#4230c3,#4743e7,#473fe2,#4435d2,#4741e5,#475cfa,#4743e7,#4759f8,#4759f8,#463de0,#4535d2,#463ee1,#4758f8,#465efb,#484bee)"></i><i style="background:linear-gradient(#4537d6,#484cef,#463ee1,#4740e3,#4855f6,#4852f4,#4434ce,#484ff2,#4465fd,#3c71ff,#4368fe,#484df1,#484bef,#4850f3,#475cfa,#4854f5,#4746ea,#4434cf,#4433cc,#4747eb,#484ef1,#484bee,#4849ed,#473fe3,#4331c8,#3f29b2,#4330c5,#412dbb,#4331c8,#4434cf,#412ebe,#4744e8,#463de0,#4536d2,#4433cd,#4230c3,#4744e8,#473fe3,#4536d3,#4742e6,#475cfa,#4744e8,#4759f9,#4759f8,#463de0,#4535d2,#463ee1,#4758f8,#465efb,#484bef)"></i><i style="background:linear-gradient(#4538d8,#463ddf,#4332c9,#4433cd,#473fe3,#4537d6,#402ab5,#4536d4,#4538d8,#4851f3,#4850f3,#4432cb,#4536d4,#463cdf,#4850f2,#484cef,#4742e6,#4331c7,#4331c7,#4849ed,#484ef1,#484bef,#4849ed,#473ee1,#4331c7,#402ab3,#4330c5,#412dbc,#4332c9,#4434ce,#412cbb,#4743e7,#463ee0,#4536d4,#4433cd,#4230c4,#4745e9,#4740e4,#4536d4,#4742e6,#475cfa,#4745e9,#475af9,#4759f8,#463de0,#4535d2,#473ee1,#4758f8,#465efb,#484bef)"></i><i style="background:linear-gradient(#4330c5,#4538d8,#463adb,#4537d6,#4849ed,#473fe3,#4331c6,#4745e9,#484aee,#4756f6,#4851f3,#4435d1,#422fc2,#4330c5,#4743e7,#4740e3,#463de0,#4330c5,#4331c8,#4849ed,#484cf0,#4849ed,#4848ec,#463de0,#4331c6,#402bb6,#4230c4,#412dbd,#4332c9,#4434ce,#412cb8,#4743e7,#463ee1,#4537d5,#4434ce,#4330c5,#4746ea,#4741e5,#4537d5,#4743e7,#475dfa,#4745ea,#475af9,#4759f8,#463de0,#4535d2,#473ee1,#4758f8,#465efb,#484cef)"></i><i style="background:linear-gradient(#2e84f8,#3678fe,#4743e7,#463adb,#475dfa,#416bfe,#4466fd,#4368fd,#4465fd,#465ffb,#475af9,#4746eb,#4332c9,#402bb7,#463bdd,#4434ce,#4538d8,#4432cb,#4434cd,#4848ec,#484aee,#4747eb,#4746ea,#463bde,#4330c5,#412cb8,#4230c3,#412ebe,#4332ca,#4434ce,#402bb8,#4743e7,#463ee1,#4537d6,#4434cf,#4331c6,#4747eb,#4742e6,#4537d6,#4743e7,#465dfa,#4746ea,#475af9,#4759f8,#463de0,#4535d2,#473ee1,#4758f8,#465efb,#484cef)"></i><i style="background:linear-gradient(#465ffb,#475cfa,#4849ed,#4747ec,#484cef,#4852f4,#4563fd,#484ef1,#4853f5,#4740e4,#475af9,#4757f7,#4537d5,#422ebf,#4539d9,#412cba,#4434cf,#4435d1,#4537d5,#4745e9,#4746ea,#4743e7,#4743e7,#463adb,#4230c4,#412dbb,#422fc2,#422ebe,#4433cb,#4434ce,#412cb9,#4743e7,#463ee1,#4538d8,#4435d0,#4331c7,#4747eb,#4743e7,#4538d7,#4744e8,#465dfb,#4747eb,#475bf9,#4759f9,#463ee1,#4435d2,#473ee2,#4758f8,#465efb,#484cf0)"></i><i style="background:linear-gradient(#4740e4,#4538d8,#4536d5,#4742e6,#4740e3,#484cef,#4367fd,#484ef1,#4854f6,#4741e5,#465dfa,#4564fd,#4746ea,#4639da,#463adb,#412dbc,#4332c9,#4537d5,#463adb,#4741e5,#4741e5,#463de0,#4740e4,#4538d7,#4230c3,#412ebe,#422fc1,#422ebf,#4433cc,#4434ce,#412dbb,#4742e6,#463ee1,#4639d9,#4435d1,#4332c9,#4848ec,#4744e8,#4539d9,#4744e8,#465efb,#4848ec,#475bf9,#4759f9,#463ee1,#4435d2,#473ee2,#4758f8,#465efb,#484cf0)"></i><i style="background:linear-gradient(#0eb3d4,#1da8e0,#23a1e4,#2699e9,#2a92ee,#2d8cf3,#2e86f7,#3678fd,#406cfe,#475dfa,#4660fb,#4464fd,#4850f3,#4743e7,#463cde,#4230c4,#4230c3,#4537d6,#463cdf,#463cde,#463cdf,#4539d8,#463de0,#4536d4,#422fc1,#422fc0,#422ec0,#422ebf,#4433cd,#4434ce,#422ebe,#4742e6,#463de0,#463ada,#4536d2,#4332ca,#4849ed,#4744e9,#4639da,#4745e9,#465efb,#4848ec,#475bf9,#475af9,#463ee1,#4435d2,#473fe2,#4758f8,#465ffb,#484df0)"></i><i style="background:linear-gradient(#473fe3,#4537d6,#4744e8,#4744e8,#484df0,#4849ed,#484cf0,#484df1,#475bf9,#4742e6,#484df0,#4755f6,#484aee,#4745ea,#463cde,#4230c4,#412dbc,#4536d4,#463ee1,#4536d4,#4539d9,#4434cf,#463bdc,#4435d0,#422ebf,#422fc2,#422ebe,#422ebf,#4434ce,#4434cf,#422fc2,#4742e6,#463de0,#463adc,#4536d4,#4433cc,#484aee,#4745ea,#463adb,#4745e9,#465efb,#4849ed,#475cfa,#475af9,#463ee1,#4435d2,#473fe2,#4758f8,#465ffb,#484df0)"></i><i style="background:linear-gradient(#422fc2,#4434ce,#4740e4,#4743e8,#463adc,#4331c6,#4536d5,#463bdc,#4747eb,#4330c5,#463bdd,#473fe2,#4538d7,#4741e5,#4639da,#422ebf,#3f29b0,#4536d4,#473ee2,#4331c7,#4536d4,#4230c4,#4538d8,#4433cc,#412ebd,#4230c4,#412dbd,#422ebf,#4434cf,#4434cf,#4331c6,#4742e6,#463ddf,#463bdd,#4537d5,#4434ce,#484bee,#4746ea,#463bdc,#4746ea,#465ffb,#484aee,#475cfa,#475af9,#463ee1,#4435d1,#473fe2,#4758f8,#465ffb,#484df0)"></i><i style="background:linear-gradient(#4434cf,#4332ca,#4435d1,#4435d1,#4639da,#4230c4,#463bdc,#4741e5,#463adb,#4536d2,#4536d4,#4434ce,#412cbb,#463ada,#4536d3,#412cba,#3f28ae,#4537d6,#473fe3,#412ebe,#4435d0,#412dbb,#4537d5,#4332c9,#412dbc,#4331c6,#412dbb,#422ec0,#4435d0,#4434d0,#4332ca,#4741e5,#463cdf,#463cde,#4537d6,#4435d0,#484cef,#4747eb,#463bdd,#4746eb,#465ffb,#484bee,#475cfa,#475af9,#463ee1,#4435d1,#473fe2,#4758f8,#465ffb,#484df0)"></i><i style="background:linear-gradient(#4331c6,#4331c7,#422fc1,#4435d1,#4535d2,#412dbd,#463ada,#4639da,#402ab3,#422ebf,#4330c5,#4331c7,#4332c8,#4332cb,#4432cb,#3f29b0,#412ebe,#463bdc,#4741e5,#422fc2,#4434cf,#402bb8,#4536d3,#4331c6,#412cba,#4331c8,#412cba,#422fc1,#4435d1,#4435d0,#4434ce,#4741e5,#463cde,#463de0,#4538d8,#4536d2,#484cf0,#4848ec,#463cdf,#4747eb,#4660fb,#484bef,#475cfa,#475af9,#473ee1,#4435d1,#473fe2,#4758f8,#465ffb,#484df1)"></i><i style="background:linear-gradient(#4435d1,#4330c4,#4537d5,#4332ca,#4433cd,#4538d7,#463adb,#4539d9,#422fc2,#3f29af,#412cba,#4331c6,#4537d6,#402cb8,#4332c9,#3f29b1,#4433cc,#473fe3,#4744e8,#4434ce,#4435d1,#412dbc,#4535d2,#4331c5,#412cba,#4332ca,#412cba,#422fc2,#4536d2,#4435d0,#4435d1,#4741e4,#463bdd,#463ee1,#4639da,#4536d4,#484df1,#4849ed,#463de0,#4848ec,#4660fb,#484cf0,#475dfa,#475af9,#473ee1,#4435d1,#473fe2,#4758f8,#465ffb,#484ef1)"></i><i style="background:linear-gradient(#484ef1,#484df0,#4747eb,#4740e3,#4535d2,#4433cc,#412dbb,#4434cf,#4537d6,#4434cf,#4536d4,#463cdf,#4740e4,#422fc0,#4435d0,#4330c4,#463ada,#4744e8,#4746ea,#4639da,#4536d4,#4230c3,#4536d3,#4331c6,#412dbb,#4433cb,#412dbb,#4230c4,#4536d3,#4435d1,#4537d5,#4740e4,#463bdc,#473fe2,#463adb,#4537d6,#484ef1,#484aee,#463ee1,#4848ec,#4660fc,#484df0,#465dfa,#475af9,#473ee1,#4435d1,#473fe2,#4758f8,#465ffb,#484ef1)"></i><i style="background:linear-gradient(#422ebf,#4332c9,#422fc2,#4433cc,#4435d1,#4538d7,#4331c8,#422ec0,#4746ea,#4850f2,#4852f4,#4854f5,#484ff2,#463ddf,#463bdd,#4538d7,#4740e4,#4747eb,#4848ec,#473fe3,#4538d8,#4332ca,#4536d4,#4331c7,#412dbd,#4433cd,#412dbd,#4331c6,#4536d4,#4435d1,#4538d8,#4740e3,#463adb,#4740e3,#463bdd,#4539d8,#484ff2,#484bee,#473fe2,#4849ed,#4661fc,#484ef1,#465dfb,#475af9,#473ee2,#4435d1,#473fe2,#4758f8,#465ffb,#484ef1)"></i><i style="background:linear-gradient(#484ff2,#475bf9,#4562fc,#4563fc,#426afe,#4561fc,#4852f4,#484aee,#4854f5,#475dfa,#4561fc,#4562fc,#475bfa,#484cef,#4741e5,#463ee1,#4745e9,#4746eb,#4849ed,#4744e8,#463adb,#4435d0,#4537d6,#4332c9,#422ebf,#4434cf,#422fc0,#4331c8,#4537d5,#4435d1,#463adb,#473fe3,#4639da,#4741e4,#463cdf,#463ada,#4850f2,#484cef,#473fe3,#4849ed,#4561fc,#484ef1,#465efb,#475af9,#473ee2,#4435d1,#473fe3,#4758f8,#465ffb,#484ef1)"></i><i style="background:linear-gradient(#4848ec,#4742e6,#475cfa,#475af9,#4743e7,#4747eb,#484df0,#4743e7,#473ee1,#4743e7,#484ef1,#4758f8,#475af9,#4851f3,#4740e4,#473fe3,#4745e9,#4742e6,#4848ec,#4747eb,#463bdd,#4537d5,#4538d7,#4433cc,#422fc2,#4435d1,#4330c5,#4432cb,#4537d6,#4435d0,#463bde,#473fe2,#4539d9,#4742e6,#463de0,#463bdd,#4851f3,#484df0,#4740e4,#484aee,#4561fc,#484ff2,#465efb,#475af9,#473fe2,#4435d1,#473fe3,#4758f8,#465ffb,#484ff2)"></i><i style="background:linear-gradient(#4435d1,#4331c7,#4434d0,#4230c4,#4331c7,#402cb8,#4332ca,#412cba,#402ab5,#412dbb,#4536d2,#473ee1,#484bee,#484bef,#4537d6,#463cde,#4741e5,#463bdd,#4745e9,#4848ec,#463bdd,#4538d7,#4538d8,#4434ce,#4330c5,#4536d3,#4332c9,#4434ce,#4538d7,#4434d0,#463de0,#473fe2,#4538d8,#4743e7,#473fe2,#463cdf,#4852f4,#484df1,#4741e5,#484bee,#4562fc,#4850f2,#465efb,#475bf9,#473fe2,#4435d1,#473fe3,#4758f8,#465ffb,#484ff2)"></i><i style="background:linear-gradient(#4434cf,#4743e7,#4743e7,#4434ce,#4535d2,#4433cc,#4433cb,#412cb9,#402ab5,#412cb9,#422fc3,#412cb8,#463bdd,#4743e7,#422ebf,#4538d8,#463bdd,#4433cd,#4742e6,#4746ea,#463adb,#4538d8,#4539d9,#4435d0,#4331c7,#4537d5,#4434ce,#4435d0,#4538d7,#4434cf,#473fe2,#473ee2,#4538d7,#4744e8,#4740e3,#463de0,#4853f4,#484ef1,#4742e6,#484bef,#4562fc,#4850f3,#465efb,#475bf9,#473fe2,#4435d0,#473fe3,#4758f8,#465ffb,#484ff2)"></i><i style="background:linear-gradient(#412dbc,#4434d0,#463cde,#4435d1,#4536d2,#4537d7,#4536d4,#4434ce,#4434ce,#4434cf,#4433cc,#412dbd,#4433cd,#463de0,#4330c5,#4538d7,#4536d3,#412cba,#473fe2,#4743e7,#4538d7,#4538d8,#4539d9,#4435d1,#4332c9,#4538d7,#4536d3,#4536d3,#4538d8,#4434ce,#4740e4,#473ee1,#4537d6,#4745e9,#4741e5,#473fe2,#4854f5,#484ff2,#4743e7,#484cef,#4562fc,#4851f3,#465ffb,#475bf9,#473fe2,#4435d0,#473fe3,#4758f8,#465ffb,#484ff2)"></i><i style="background:linear-gradient(#4433cb,#4331c8,#412cba,#4331c7,#422ebf,#422fc2,#412cba,#4331c8,#4538d7,#4539d8,#4435d1,#422fc3,#422ec0,#463adb,#4539d9,#4639da,#4433cc,#3f29b1,#463ddf,#473fe2,#4435d0,#4537d6,#4538d7,#4535d2,#4332ca,#4539d9,#4538d7,#4537d6,#4538d8,#4433cc,#4742e6,#463ee1,#4537d6,#4746ea,#4742e6,#4740e4,#4854f6,#4850f2,#4744e8,#484cf0,#4563fc,#4852f4,#465ffb,#475bf9,#473fe2,#4435d0,#4740e3,#4759f8,#4660fb,#484ff2)"></i><i style="background:linear-gradient(#4536d4,#412cb9,#402bb6,#4331c6,#4537d6,#4435d1,#4330c5,#412dbd,#4330c5,#4433cb,#4331c7,#422ebe,#402ab4,#4537d6,#4741e5,#463bdd,#4330c5,#422ebe,#463bdd,#463adb,#4331c8,#4536d3,#4537d5,#4535d2,#4332ca,#463adb,#463adc,#4539d9,#4539d9,#4332cb,#4744e8,#463ee1,#4537d6,#4747eb,#4744e8,#4742e6,#4755f6,#4851f3,#4744e9,#484df0,#4563fd,#4852f4,#465ffb,#475bf9,#473fe2,#4435d0,#4740e3,#4759f8,#4660fb,#4850f2)"></i><i style="background:linear-gradient(#463cde,#422fc1,#422ebf,#412dbd,#4332c8,#412cb9,#412cba,#3f29b2,#402bb7,#412cba,#412cb9,#422fc1,#412cb9,#4536d3,#4746eb,#463cdf,#412cb9,#4332ca,#463bdd,#4537d5,#422fc0,#4434cf,#4535d2,#4435d1,#4332ca,#463bdd,#463ddf,#463adb,#4639d9,#4332c8,#4746ea,#463ee1,#4537d6,#4848ec,#4745e9,#4743e7,#4756f7,#4852f4,#4745e9,#484ef1,#4564fd,#4853f5,#465ffb,#475bf9,#473fe2,#4434d0,#4740e3,#4759f8,#4660fb,#4850f2)"></i><i style="background:linear-gradient(#412dbc,#422fc2,#4433cd,#4434d0,#4434ce,#402ab5,#3f29b2,#402bb6,#402ab4,#422ebf,#422ec0,#4230c3,#3f29b2,#4536d4,#484bef,#463ee1,#402ab3,#4535d2,#463bde,#4435d1,#412dbc,#4332ca,#4434ce,#4434d0,#4331c8,#463cde,#473fe2,#463cde,#4639da,#4331c6,#4747eb,#473ee1,#4537d7,#4849ed,#4747eb,#4744e9,#4757f7,#4852f4,#4746ea,#484ef1,#4564fd,#4854f5,#4660fb,#475bf9,#473fe2,#4434d0,#4740e3,#4759f8,#4660fb,#4850f3)"></i><i style="background:linear-gradient(#463cde,#412ebe,#422fc0,#463adb,#463de0,#4433cc,#422fc0,#412dbd,#412dbd,#4535d2,#4433cd,#4230c4,#412dbc,#463ddf,#4851f3,#4742e7,#4330c5,#4538d8,#463cde,#4435d2,#412dbb,#4330c5,#4332ca,#4434ce,#4330c5,#463de0,#4741e5,#463de0,#4639da,#4230c3,#4849ed,#473fe2,#4538d8,#484aee,#4848ec,#4746ea,#4758f8,#4853f5,#4747eb,#484ff2,#4464fd,#4854f6,#4660fb,#475bf9,#473fe2,#4434cf,#4740e3,#4759f8,#4660fb,#4850f3)"></i><i style="background:linear-gradient(#463bde,#463de0,#4538d8,#4332c8,#4434cf,#4433cd,#412ebe,#4330c5,#463cde,#4744e8,#4433cc,#4330c5,#463adc,#4849ed,#4755f6,#4849ed,#4639d9,#463adb,#463cde,#4537d5,#422ebf,#422ec0,#4331c6,#4433cb,#422fc1,#473ee1,#4743e7,#473ee2,#463adb,#422ec0,#484bef,#4740e3,#4639da,#484cef,#484aed,#4747ec,#4759f8,#4854f5,#4848ec,#4850f2,#4465fd,#4755f6,#4660fc,#475bf9,#473fe2,#4434cf,#4740e4,#4759f8,#4660fb,#4851f3)"></i><i style="background:linear-gradient(#4433cb,#4742e6,#463de0,#4639da,#4745e9,#473fe2,#4332cb,#4433cc,#484ef1,#4756f6,#463de0,#4538d7,#4744e9,#484ef1,#4854f6,#484cf0,#473fe2,#4639d9,#463bdd,#4539d9,#422fc2,#412dbc,#422fc2,#4332c9,#412dbd,#473fe3,#4744e8,#4740e3,#463adb,#412dbd,#484df0,#4740e4,#463adc,#484df0,#484bef,#4849ed,#475af9,#4755f6,#4849ec,#4850f3,#4465fd,#4756f6,#4660fc,#475bf9,#473fe2,#4434cf,#4740e4,#4759f8,#4660fb,#4851f3)"></i><i style="background:linear-gradient(#4563fd,#3579fd,#337afd,#4368fe,#4561fc,#4854f5,#4746ea,#484ef1,#4660fb,#4561fc,#484df0,#4740e3,#4745e9,#4849ed,#484df1,#484aed,#4740e3,#4536d3,#463adb,#463adc,#4331c6,#412cb9,#422fc0,#4331c7,#412cb9,#4740e4,#4745e9,#4741e5,#463adc,#412cba,#484ff2,#4742e6,#463cde,#484ef1,#484cf0,#484aee,#475bf9,#4756f6,#4849ed,#4851f3,#4465fd,#4756f7,#4660fc,#475bf9,#473fe2,#4434cf,#4740e4,#4759f8,#4660fb,#4851f3)"></i><i style="background:linear-gradient(#4230c4,#4639da,#4742e6,#4435d1,#463cde,#4538d7,#422fc1,#4744e8,#4854f6,#4854f5,#4746ea,#4537d6,#463cdf,#463cde,#4742e6,#4743e7,#463de0,#4331c8,#4538d8,#463cde,#4332c9,#412cba,#422fc0,#4331c6,#402bb6,#4741e5,#4745ea,#4742e6,#463bdd,#402bb8,#4851f3,#4743e7,#463ee1,#484ff2,#484ef1,#484cef,#475cfa,#4756f7,#484aee,#4851f3,#4466fd,#4757f7,#4661fc,#475bf9,#473fe2,#4434cf,#4740e4,#4759f8,#4660fc,#4851f3)"></i><i style="background:linear-gradient(#412dbc,#402bb7,#422ebe,#4331c8,#4434d0,#422fc2,#412dbd,#4435d1,#4538d7,#463adb,#4639d9,#412cba,#4434ce,#422fc2,#4536d3,#463adb,#463ada,#402bb8,#4536d5,#463cde,#4332ca,#412dbc,#422fc1,#4331c6,#402bb6,#4743e7,#4745ea,#4743e7,#463bde,#402bb7,#4853f5,#4745e9,#4740e3,#4850f3,#484ff2,#484df0,#475cfa,#4757f7,#484bee,#4852f4,#4466fd,#4757f7,#4561fc,#475bf9,#473fe3,#4434ce,#4740e4,#4759f8,#4660fc,#4851f4)"></i><i style="background:linear-gradient(#4332ca,#4434d0,#4332c9,#402ab4,#4332c9,#4639da,#4332c9,#412cb9,#4331c6,#4433cc,#4539d9,#4230c4,#4331c7,#3f29b2,#412ebe,#4433cb,#4537d5,#3f28ae,#4435d1,#463bde,#4433cb,#422ec0,#4230c4,#4331c7,#412cbb,#4744e8,#4745e9,#4744e8,#463cdf,#412cb9,#4755f6,#4747eb,#4742e6,#4851f4,#4851f3,#484ef1,#465dfb,#4758f8,#484cef,#4852f4,#4366fd,#4758f8,#4561fc,#475bf9,#473fe3,#4434ce,#4740e4,#4759f8,#4660fc,#4852f4)"></i><i style="background:linear-gradient(#4639da,#463ee1,#4538d8,#4433cc,#463de0,#4747eb,#463ada,#4331c7,#4537d6,#463cde,#463ada,#4332c9,#4433cb,#422ebf,#402bb7,#422fc2,#4536d3,#412dbb,#4434d0,#463adb,#4332ca,#4230c3,#4331c7,#4331c8,#422fc0,#4745e9,#4743e8,#4745e9,#463de0,#412dbd,#4758f8,#4849ed,#4745e9,#4853f4,#4852f4,#4850f2,#465efb,#4758f8,#484cf0,#4853f5,#4367fd,#4759f8,#4561fc,#475bf9,#473fe3,#4434ce,#4740e4,#4759f8,#4660fc,#4852f4)"></i><i style="background:linear-gradient(#4432cb,#422fc2,#4330c5,#412ebe,#463cde,#4847ec,#4536d3,#412dbd,#4535d2,#463de0,#4435d2,#412dbb,#4435d2,#4433cc,#412ebd,#422ebf,#4435d1,#4330c5,#4434ce,#4538d8,#4331c7,#4331c7,#4332ca,#4332ca,#4331c7,#4747eb,#4741e6,#4746ea,#473fe2,#422fc2,#475af9,#484bef,#4747ec,#4854f5,#4853f5,#4851f3,#465ffb,#4759f8,#484df0,#4854f5,#4367fd,#4759f8,#4561fc,#475bf9,#473fe3,#4434ce,#4740e4,#4759f8,#4660fc,#4852f4)"></i><i style="background:linear-gradient(#422fc1,#4434cf,#4435d0,#4434ce,#463ddf,#463ee0,#4434d0,#412ebe,#412ebe,#463bdd,#4435d1,#422ebf,#4538d7,#4536d4,#4230c3,#412dbd,#4434ce,#4332c9,#4433cd,#4536d4,#422fc2,#4332c9,#4433cd,#4433cc,#4434ce,#4848ec,#473fe2,#4747eb,#4740e4,#4331c8,#475dfa,#484ef1,#484aee,#4755f6,#4854f6,#4852f4,#4660fb,#475af9,#484ef1,#4854f5,#4367fd,#475af9,#4562fc,#475bf9,#473fe3,#4433cd,#4741e4,#4759f8,#4660fc,#4852f4)"></i><i style="background:linear-gradient(#4535d2,#4538d7,#4434ce,#4435d1,#463adc,#4433cb,#4433cd,#4536d4,#4536d3,#463cde,#4433cc,#4434cf,#463adb,#4537d6,#4230c3,#402bb7,#4433cc,#4332c9,#4332ca,#4434cf,#412dbc,#4433cb,#4434cf,#4434cd,#4537d5,#484aed,#463cde,#4848ec,#4742e6,#4434ce,#465ffb,#4850f3,#484df0,#4756f6,#4756f6,#4853f5,#4660fc,#475af9,#484ef1,#4855f6,#4368fd,#475af9,#4562fc,#475bf9,#473fe3,#4433cd,#4741e4,#4759f8,#4660fc,#4852f4)"></i><i style="background:linear-gradient(#463adb,#4741e5,#4435d1,#402ab6,#4332c8,#463cdf,#463cdf,#4537d5,#4740e3,#463cde,#402ab5,#4536d3,#4537d7,#4435d0,#422fc0,#3f29b0,#4332c8,#4230c3,#4331c6,#4332cb,#402ab4,#4433cd,#4434d0,#4434ce,#463adb,#484bef,#4538d7,#484aee,#4744e8,#4537d5,#4562fc,#4853f5,#4850f3,#4757f7,#4757f7,#4755f6,#4561fc,#475bf9,#484ff2,#4755f6,#4368fe,#475bf9,#4562fc,#475bf9,#473fe3,#4433cd,#4741e5,#4759f8,#4660fc,#4853f4)"></i><i style="background:linear-gradient(#4434cd,#4331c7,#4434cf,#4331c6,#412dbd,#4435d1,#4539d9,#4331c6,#4741e5,#4740e3,#4435d1,#4537d5,#4332c8,#4331c6,#422fc2,#402bb6,#4331c6,#412dbc,#422fc2,#4332c9,#3f29b0,#4434cf,#4434cf,#4434cf,#463de0,#484df0,#4434ce,#484cef,#4746eb,#463adb,#4465fd,#4756f7,#4853f5,#4758f8,#4758f8,#4756f6,#4562fc,#475cfa,#484ff2,#4756f6,#4368fe,#475bf9,#4562fc,#475bf9,#473fe3,#4433cc,#4741e5,#4759f8,#4660fc,#4853f5)"></i><i style="background:linear-gradient(#4230c4,#4331c7,#4538d7,#463ddf,#4434ce,#422fc1,#4740e3,#4745e9,#463ee1,#4538d7,#463adb,#4536d5,#412cb9,#412dbc,#4330c5,#422ebf,#4330c5,#402ab4,#422ebf,#4332c9,#402ab5,#4435d0,#4434cd,#4434ce,#4741e5,#484ff2,#4230c4,#484ef1,#4849ed,#463ee0,#4368fe,#4759f8,#4756f7,#4759f8,#4759f8,#4757f7,#4563fc,#475cfa,#4850f3,#4756f7,#4369fe,#475cfa,#4562fc,#475af9,#473fe3,#4433cc,#4741e5,#4759f8,#4660fc,#4853f5)"></i><i style="background:linear-gradient(#422fc1,#4331c7,#4538d8,#4538d7,#4433cc,#4639d9,#4741e5,#4742e6,#4433cc,#402bb8,#4537d5,#4435d2,#402bb8,#412cba,#4230c4,#4230c3,#4330c4,#3f29b1,#412dbd,#4332ca,#412ebe,#4435d1,#4332cb,#4433cd,#4744e8,#4851f3,#412cba,#4850f2,#484cef,#4741e5,#416bfe,#475cfa,#4759f8,#475af9,#475af9,#4758f8,#4563fd,#475dfa,#4851f3,#4757f7,#4269fe,#475cfa,#4562fc,#475af9,#473fe3,#4433cc,#4741e5,#4759f9,#4661fc,#4853f5)"></i><i style="background:linear-gradient(#412cba,#4230c3,#4434cf,#4330c5,#412dbd,#412cb9,#4434cf,#4434cf,#412ebe,#412cba,#4435d0,#4433cd,#402ab4,#412dbd,#422ec0,#4230c4,#4230c4,#402bb6,#412ebe,#4433cc,#4331c6,#4535d2,#4331c7,#4432cb,#4848ec,#4854f5,#402bb6,#4852f4,#484ff2,#4745ea,#3f6efe,#465ffb,#475cfa,#475bf9,#475bf9,#4759f8,#4564fd,#465dfa,#4851f3,#4757f7,#4269fe,#475dfa,#4562fc,#475af9,#473fe3,#4433cb,#4741e5,#4759f9,#4661fc,#4853f5)"></i><i style="background:linear-gradient(#4741e5,#4435d0,#4434cf,#422fc3,#4332cb,#4433cc,#4331c7,#402ab4,#3f28af,#402bb8,#4536d4,#4433cd,#402ab3,#422ebf,#402ab5,#4230c3,#422fc2,#412cba,#422ebf,#4434ce,#4434ce,#4536d3,#422fc2,#4332c9,#484cef,#4757f7,#422fc0,#4756f6,#4852f4,#484aee,#3c71ff,#4562fc,#465ffb,#475cfa,#475cfa,#475af9,#4465fd,#465dfb,#4852f4,#4757f8,#426afe,#465dfb,#4563fc,#475af9,#473fe3,#4433cb,#4741e5,#4759f9,#4661fc,#4853f5)"></i><i style="background:linear-gradient(#4536d3,#4537d6,#422ebe,#4331c6,#412cba,#4433cc,#4331c6,#3f29b0,#402ab3,#4332c9,#463bdd,#4536d4,#4230c3,#422fc2,#3f28ae,#4230c4,#412dbd,#412dbc,#422ec0,#4434ce,#4536d4,#4536d4,#422ebf,#4332c9,#4850f2,#475af9,#4434cf,#4759f8,#4755f6,#484ef1,#3974fe,#4465fd,#4562fc,#475dfa,#475dfa,#475bf9,#4465fd,#465efb,#4852f4,#4758f8,#426afe,#465efb,#4563fc,#475af9,#473fe3,#4332cb,#4741e5,#4759f9,#4661fc,#4854f5)"></i><i style="background:linear-gradient(#412ebe,#422fc1,#4536d2,#4435d1,#422fc3,#422ebf,#422fc2,#422ebf,#4332ca,#463ddf,#473fe2,#4435d1,#4433cd,#4331c7,#412dbc,#4331c7,#402ab5,#412ebd,#412ebe,#4434ce,#4539d9,#4536d4,#412ebe,#4433cb,#4854f5,#465ffb,#463cde,#475cfa,#4758f8,#4852f4,#3777fe,#4368fe,#4465fd,#465dfb,#465dfb,#475cfa,#4466fd,#465efb,#4852f4,#4758f8,#426afe,#465efb,#4563fc,#475af9,#473fe3,#4332ca,#4741e5,#4759f9,#4661fc,#4854f5)"></i><i style="background:linear-gradient(#4331c7,#422ebf,#4332c9,#422fc1,#3f28ae,#3e28ad,#412cb9,#4433cd,#463ddf,#4744e8,#463cde,#412cba,#4434cf,#4332ca,#4433cd,#4434ce,#402ab3,#422ebf,#412cba,#4434ce,#463bdc,#4536d4,#422ec0,#4435d0,#4757f8,#4563fd,#4745e9,#4660fc,#475bfa,#4756f6,#347afd,#416bfe,#4368fe,#465efb,#465efb,#465dfa,#4366fd,#465ffb,#4853f5,#4759f8,#416afe,#465ffb,#4563fc,#475af9,#473fe3,#4332ca,#4741e5,#475af9,#4661fc,#4854f5)"></i><i style="background:linear-gradient(#4742e6,#4848ec,#4744e8,#4332c8,#3f29af,#3f29b1,#3f29b0,#4230c4,#463adb,#4741e4,#463adb,#422ebe,#4434cf,#4230c3,#463bdd,#4538d8,#422ebf,#4230c3,#402ab4,#4434d0,#463ddf,#4536d4,#4230c3,#4537d7,#475cfa,#4369fe,#484ef1,#4465fd,#465ffb,#4759f9,#327cfc,#3f6dfe,#416bfe,#465ffb,#465ffb,#465efb,#4367fd,#465ffb,#4853f5,#4759f8,#416bfe,#465ffb,#4563fd,#475af9,#473fe3,#4332ca,#4741e5,#475af9,#4661fc,#4854f5)"></i><i style="background:linear-gradient(#463cdf,#4742e6,#484bef,#4539d9,#412cba,#412dbd,#412dbc,#422fc1,#412dbb,#4537d5,#4536d4,#473fe2,#463adb,#4434ce,#4746ea,#473ee2,#4433cd,#4332ca,#402bb7,#4536d4,#473ee1,#4435d2,#4331c7,#463cdf,#4660fc,#3e6fff,#4759f8,#4269fe,#4562fc,#465dfb,#307ffb,#3d70ff,#3f6dfe,#465ffb,#465ffb,#465ffb,#4368fd,#465ffb,#4854f5,#4759f9,#416bfe,#4660fb,#4563fd,#475af9,#473fe3,#4332c9,#4741e6,#475af9,#4661fc,#4854f5)"></i><i style="background:linear-gradient(#4331c7,#412ebe,#4537d6,#463adc,#422fc2,#412dbd,#422ec0,#4435d1,#463ada,#463bdd,#4536d4,#4757f7,#4852f4,#484aee,#4850f3,#4742e6,#4537d6,#4536d2,#4230c3,#4639d9,#473fe3,#4434cf,#4332ca,#4741e5,#4465fd,#3975fe,#4563fd,#3f6eff,#4465fd,#4661fc,#2f81fa,#3b73fe,#3e70ff,#4660fb,#4660fb,#465ffb,#4368fe,#465ffb,#4854f5,#475af9,#416bfe,#4660fb,#4563fd,#475af9,#473fe3,#4332c9,#4742e6,#475af9,#4561fc,#4854f6)"></i><i style="background:linear-gradient(#484aee,#4745e9,#4759f8,#475bf9,#475cfa,#426afe,#406cfe,#3975fe,#3777fe,#4269fe,#4464fd,#3777fe,#3c71ff,#4562fc,#4757f7,#4741e5,#4538d7,#463adc,#4435d2,#463cdf,#4740e4,#4433cb,#4433cd,#4747eb,#4369fe,#327bfc,#406dfe,#3b73fe,#4368fe,#4564fd,#2e83f9,#3975fe,#3b72ff,#4660fc,#4660fb,#4660fb,#4368fe,#4660fb,#4854f6,#475af9,#416bfe,#4660fc,#4563fd,#475af9,#473fe3,#4332c8,#4742e6,#475af9,#4561fc,#4855f6)"></i><i style="background:linear-gradient(#f5ba3b,#c1c32c,#8bcb51,#5bcc77,#2dc4a5,#01b8c9,#13b0d7,#1aabdd,#23a1e5,#2a93ed,#2e87f7,#2e87f7,#2e83f9,#3f6eff,#4756f7,#463cde,#4536d3,#4741e4,#463bdd,#473fe3,#4741e5,#4331c8,#4435d2,#484df0,#406cfe,#2f81fa,#3677fe,#3677fe,#416bfe,#4367fd,#2e85f8,#3777fe,#3974fe,#4661fc,#4660fc,#4661fc,#4369fe,#4660fb,#4855f6,#475af9,#416cfe,#4561fc,#4563fd,#4759f9,#473fe3,#4331c8,#4742e6,#475af9,#4561fc,#4755f6)"></i><i style="background:linear-gradient(#4747eb,#4747eb,#484cef,#406dfe,#3f6eff,#4853f5,#426afe,#3975fe,#3a74fe,#347afd,#3f6eff,#3c72ff,#327bfc,#4367fd,#484ff2,#4537d5,#4434cf,#4747eb,#4741e5,#4741e4,#4741e5,#4331c8,#4538d8,#4852f4,#3e70ff,#2e86f8,#2f81fa,#327cfc,#3f6dfe,#426afe,#2e86f7,#3578fd,#3777fe,#4561fc,#4660fc,#4561fc,#4269fe,#4660fb,#4755f6,#475bf9,#416cfe,#4561fc,#4563fd,#4759f8,#473fe3,#4331c8,#4742e6,#475af9,#4561fc,#4755f6)"></i><i style="background:linear-gradient(#4538d7,#412dbb,#412dbb,#4434cf,#4433cc,#463de0,#4745e9,#463bdd,#4639d9,#4741e5,#463adc,#4747eb,#465ffb,#4851f4,#4742e6,#4539d9,#463bdd,#484ff1,#4744e8,#4740e3,#4742e6,#4434ce,#463de0,#4758f8,#3b72ff,#2d8af4,#2d8af5,#2f80fa,#3e70ff,#406cfe,#2e87f7,#347afd,#3579fd,#4561fc,#4660fc,#4562fc,#4269fe,#4660fb,#4755f6,#475bf9,#406cfe,#4562fc,#4563fd,#4759f8,#473fe3,#4331c7,#4742e6,#475af9,#4561fc,#4755f6)"></i><i style="background:linear-gradient(#4434cf,#4331c7,#422fc0,#463bdd,#4747eb,#4740e4,#463adb,#4743e7,#4536d4,#412dbc,#4433cc,#4537d6,#4849ed,#463bdd,#4434ce,#473fe3,#4849ed,#4854f5,#4744e8,#463ddf,#4743e7,#4538d8,#4743e7,#475cfa,#3a73fe,#2c8ef1,#2b91ef,#2e83f9,#3c72ff,#3f6eff,#2d88f6,#327bfc,#337afd,#4561fc,#4660fc,#4562fc,#426afe,#4660fb,#4755f6,#475bf9,#406cfe,#4562fc,#4563fd,#4759f8,#473fe3,#4331c7,#4742e6,#475af9,#4561fc,#4755f6)"></i><i style="background:linear-gradient(#4537d6,#4230c3,#4331c6,#4332c8,#463bdc,#463cdf,#4538d8,#4746ea,#463de0,#4434ce,#4535d2,#4435d1,#463de0,#422fc0,#402ab4,#4848ec,#4757f7,#4757f8,#4742e6,#4538d7,#4744e8,#473fe2,#484aee,#4660fb,#3a73fe,#2b90ef,#2796eb,#2e86f7,#3a73fe,#3e70ff,#2d88f6,#327cfc,#327cfc,#4561fc,#4660fc,#4563fc,#426afe,#4660fb,#4755f6,#475bfa,#406cfe,#4562fc,#4563fd,#4759f8,#473fe3,#4331c6,#4742e6,#475af9,#4561fc,#4755f6)"></i><i style="background:linear-gradient(#4332ca,#463bdc,#4745e9,#463adb,#422fc1,#4435d1,#4538d8,#463de0,#4538d7,#4435d1,#4434cd,#4433cc,#4740e3,#4331c7,#4537d6,#4853f5,#4562fc,#4759f8,#473ee1,#4432cb,#4745e9,#4746ea,#4852f4,#4562fc,#3c72ff,#2a92ee,#259be8,#2d88f6,#3975fe,#3c71ff,#2d88f6,#317dfc,#317dfc,#4561fc,#4660fb,#4563fc,#426afe,#4660fb,#4755f6,#475cfa,#406dfe,#4563fc,#4563fd,#4759f8,#473fe3,#4331c6,#4742e6,#475af9,#4561fc,#4755f6)"></i><i style="background:linear-gradient(#4850f2,#484cf0,#4852f4,#4747eb,#473fe2,#4332c9,#402bb7,#4332c9,#4434d0,#463bdc,#4746ea,#484aee,#4756f6,#4849ed,#484ff2,#465efb,#4367fd,#4758f8,#463cde,#422ebf,#4745ea,#484ef1,#4759f8,#4563fd,#3f6eff,#2a93ed,#249fe5,#2d8af4,#3876fe,#3b72ff,#2d87f6,#317dfc,#317efb,#4661fc,#4660fb,#4563fd,#426afe,#4660fb,#4756f6,#475cfa,#406dfe,#4563fd,#4563fd,#4759f8,#473fe3,#4330c5,#4742e6,#475af9,#4561fc,#4756f6)"></i><i style="background:linear-gradient(#465dfa,#307ffb,#2d8bf4,#2f82fa,#2d88f6,#4757f7,#4536d3,#463ada,#484cef,#475af9,#4269fe,#3d70ff,#3d71ff,#4562fc,#465efb,#4563fd,#4564fd,#4755f6,#463bde,#422ec0,#4746ea,#4855f6,#465ffb,#4563fc,#4269fe,#2a93ed,#22a2e4,#2d8bf4,#3876fe,#3b73fe,#2e87f7,#317dfc,#307ffb,#4660fc,#465ffb,#4563fd,#426afe,#4660fb,#4756f6,#475cfa,#406dfe,#4563fd,#4563fd,#4758f8,#473fe2,#4330c5,#4742e6,#475af9,#4561fc,#4756f6)"></i><i style="background:linear-gradient(#cdc028,#e3bc2c,#bac430,#3dc990,#1aacdd,#4563fd,#4330c5,#463cdf,#4854f5,#4561fc,#347afd,#2e84f8,#317efb,#4269fe,#4561fc,#4660fb,#4759f8,#4850f3,#463ddf,#4331c7,#4747eb,#475af9,#4564fd,#4561fc,#4563fd,#2a92ee,#21a3e3,#2d8bf4,#3876fe,#3b73fe,#2e86f8,#317dfc,#307ffb,#4660fb,#465ffb,#4564fd,#416afe,#465ffb,#4756f6,#475cfa,#406dfe,#4564fd,#4563fd,#4758f8,#473fe2,#4230c4,#4742e6,#475af9,#4561fc,#4756f7)"></i><i style="background:linear-gradient(#4853f5,#484ff1,#4759f9,#484cef,#4852f4,#4743e7,#4230c4,#463bdd,#4740e4,#473fe2,#4368fd,#3975fe,#3b72ff,#475af9,#4758f8,#4756f7,#4849ed,#484aee,#463ee1,#4433cb,#4848ec,#465efb,#4367fd,#465efb,#475cfa,#2b91ef,#20a4e3,#2d8bf4,#3876fe,#3b72ff,#2e84f8,#327cfc,#307ffb,#465ffb,#465efb,#4564fd,#416afe,#465ffb,#4756f6,#475cfa,#406dfe,#4464fd,#4563fd,#4758f8,#473fe2,#4230c4,#4743e7,#475af9,#4561fc,#4756f7)"></i><i style="background:linear-gradient(#463ee1,#463de0,#473fe3,#4435d2,#4537d5,#473fe2,#463bdc,#463adc,#463bdd,#463adb,#484cf0,#4850f3,#475bf9,#473ee1,#4848ec,#484aee,#4538d8,#4745e9,#463de0,#4332ca,#4848ec,#4660fc,#4368fe,#475af9,#4854f6,#2c8ff1,#21a4e3,#2d8af5,#3975fe,#3c71ff,#2f82f9,#327cfc,#3080fb,#465ffb,#465dfb,#4564fd,#416afe,#465ffb,#4756f6,#475cfa,#406dfe,#4464fd,#4563fd,#4758f8,#473fe2,#4230c3,#4743e7,#475af9,#4561fc,#4756f7)"></i><i style="background:linear-gradient(#4434ce,#463de0,#4849ed,#4742e6,#484ef1,#465ffb,#4854f6,#4434ce,#4848ec,#4851f3,#473ee2,#4537d6,#4848ec,#412ebe,#463adb,#473fe2,#4332c8,#4743e7,#463bdd,#4230c3,#4849ed,#4562fc,#4368fe,#4756f6,#484bee,#2d8cf3,#22a2e4,#2d88f6,#3a73fe,#3d70ff,#3080fb,#337afd,#307ffb,#465efb,#475dfa,#4564fd,#426afe,#465ffb,#4755f6,#475cfa,#3f6dfe,#4465fd,#4563fd,#4758f8,#473fe2,#4230c3,#4743e7,#475af9,#4561fc,#4756f7)"></i><i style="background:linear-gradient(#4660fc,#4564fd,#4850f3,#4332c9,#4539d9,#484ff2,#4757f7,#4756f7,#4758f8,#4756f7,#484bee,#463cdf,#4740e3,#4538d8,#4433cd,#463adb,#463bdc,#4745e9,#463adc,#412dbd,#484aee,#4561fc,#4366fd,#4851f4,#4742e6,#2d89f5,#23a0e5,#2e85f8,#3c72ff,#3f6fff,#317dfc,#3479fd,#307ffb,#465dfa,#475cfa,#4564fd,#426afe,#465efb,#4755f6,#475dfa,#3f6dfe,#4465fd,#4563fd,#4757f7,#473fe2,#422fc2,#4743e7,#475af9,#4561fc,#4756f7)"></i><i style="background:linear-gradient(#463cdf,#4433cb,#4538d8,#422ebf,#4331c6,#4332ca,#4537d5,#484ff2,#484aee,#473fe2,#4854f5,#463ddf,#463de0,#484aed,#4536d3,#463ee1,#484aee,#484aee,#463bdd,#422fc2,#484aee,#465ffb,#4563fd,#484ef1,#463adb,#2e86f7,#259de7,#2f82fa,#3e70ff,#406dfe,#347afd,#3678fe,#307ffb,#475cfa,#475bf9,#4564fd,#426afe,#465efb,#4755f6,#475dfa,#3f6efe,#4465fd,#4563fd,#4757f7,#473fe2,#422fc2,#4743e7,#475af9,#4561fc,#4757f7)"></i><i style="background:linear-gradient(#4432cb,#4331c7,#4434d0,#422ebf,#422fc0,#4537d6,#463bdd,#4742e6,#4538d7,#463adb,#426afe,#4854f5,#4853f4,#465ffb,#4848ec,#484aee,#4757f7,#4850f2,#463ee1,#4434cf,#484aee,#475cfa,#4660fb,#484bef,#4435d0,#2f83f9,#2699e9,#317efb,#406dfe,#416bfe,#3776fe,#3876fe,#317efb,#475bf9,#475af9,#4563fd,#426afe,#465dfb,#4755f6,#475dfa,#3f6efe,#4465fd,#4563fc,#4757f7,#473fe2,#422fc1,#4743e7,#475af9,#4561fc,#4757f7)"></i><i style="background:linear-gradient(#4852f4,#465ffb,#4743e7,#4661fc,#3578fd,#465dfa,#4465fd,#3579fd,#3678fd,#2c8ff1,#259ce7,#2d88f6,#3578fd,#3777fe,#475cfa,#4757f7,#4561fc,#4854f5,#4741e5,#4639da,#484aee,#4758f8,#475bf9,#484aee,#4433cc,#307ffb,#2994ed,#3579fd,#416bfe,#4369fe,#3b72ff,#3a74fe,#317dfc,#475af9,#4759f8,#4563fd,#426afe,#465dfa,#4755f6,#475dfa,#3f6efe,#4466fd,#4563fc,#4757f7,#473fe2,#422fc1,#4743e7,#475af9,#4561fc,#4757f7)"></i><i style="background:linear-gradient(#f9fb15,#f5e625,#febf3b,#f7ba3c,#b6c532,#30c5a1,#22c1af,#2bc3a8,#1ec0b2,#0fbebb,#08b5d0,#259ce7,#2d8cf3,#2e84f8,#4466fd,#465dfa,#4465fd,#4854f6,#4742e6,#463de0,#4849ec,#4853f5,#4755f6,#484aed,#4536d3,#337bfc,#2c8ef1,#3b73fe,#4368fd,#4466fd,#3f6efe,#3c72ff,#327cfc,#4759f8,#4758f8,#4563fd,#4269fe,#475dfa,#4755f6,#475dfa,#3f6efe,#4466fd,#4563fc,#4757f7,#473fe2,#422fc0,#4743e7,#475af9,#4561fc,#4757f7)"></i><i style="background:linear-gradient(#4759f8,#484cf0,#475af9,#2895ec,#259ce7,#4853f4,#2c8ef1,#249ee6,#22a2e4,#1fa5e2,#2798ea,#3777fe,#327cfc,#317dfc,#475bf9,#4758f8,#4562fc,#4851f3,#4740e4,#473ee1,#4746ea,#484df0,#484ef1,#484aee,#463bdc,#3677fe,#2d88f6,#406dfe,#4465fd,#4563fd,#4269fe,#3e6fff,#327bfc,#4757f7,#4756f7,#4563fc,#4269fe,#475cfa,#4854f6,#475dfa,#3f6efe,#4466fd,#4563fc,#4756f7,#473fe2,#422ec0,#4743e7,#475af9,#4561fc,#4757f7)"></i><i style="background:linear-gradient(#4536d4,#4745e9,#4851f3,#484df1,#484aee,#4742e6,#484df0,#4639d9,#4747ec,#4758f8,#4660fb,#473ee1,#4660fc,#4369fe,#4744e8,#484df0,#475bf9,#484aee,#463cde,#463ddf,#4743e7,#4747eb,#4747eb,#484bef,#4740e4,#3a74fe,#2f81fa,#4367fd,#4562fc,#4660fc,#4465fd,#406dfe,#347afd,#4756f7,#4755f6,#4562fc,#4369fe,#475bfa,#4854f5,#475cfa,#3f6efe,#4466fd,#4562fc,#4756f7,#473fe2,#422ebf,#4743e7,#475af9,#4561fc,#4757f7)"></i><i style="background:linear-gradient(#463de0,#4435d1,#463ddf,#4330c5,#4537d6,#4741e5,#4746ea,#402bb6,#4332c9,#4331c7,#4745ea,#4744e8,#4755f6,#4756f7,#4332c8,#4742e6,#4850f3,#4741e5,#4536d4,#4639da,#4740e3,#4741e5,#4740e4,#484df0,#4746ea,#3d70ff,#347afd,#4561fc,#465ffb,#465efb,#4660fc,#416bfe,#3578fd,#4755f6,#4854f5,#4562fc,#4368fe,#475bf9,#4854f5,#475cfa,#3f6eff,#4367fd,#4562fc,#4756f6,#473fe2,#422ebf,#4743e8,#475af9,#4561fc,#4757f7)"></i><i style="background:linear-gradient(#4740e4,#484aee,#4852f4,#4743e7,#465efb,#3e6fff,#4660fb,#4741e5,#4538d7,#4639d9,#484aee,#4759f8,#4853f5,#4848ec,#4433cc,#463de0,#4745e9,#4639d9,#4331c7,#4536d3,#463cde,#463cdf,#4639d9,#484ef1,#484bef,#406cfe,#3c72ff,#475bf9,#475cfa,#475bf9,#475cfa,#4368fe,#3777fe,#4853f5,#4852f4,#4562fc,#4368fe,#475af9,#4854f5,#475cfa,#3f6eff,#4367fd,#4562fc,#4756f6,#473fe2,#412ebe,#4744e8,#475af9,#4561fc,#4758f8)"></i><i style="background:linear-gradient(#463bdd,#4849ed,#4740e4,#4747eb,#4747eb,#4755f6,#465dfb,#4849ed,#422ec0,#4538d8,#4851f4,#475bf9,#4747ec,#4537d5,#4538d7,#463ee0,#463adb,#4433cb,#412cba,#4332cb,#4538d7,#4538d8,#4433cc,#484ff2,#484ff2,#4368fe,#4269fe,#4855f6,#4758f8,#4757f8,#4757f7,#4466fd,#3975fe,#4852f4,#4851f3,#4561fc,#4367fd,#4759f9,#4853f5,#475cfa,#3f6eff,#4367fd,#4562fc,#4755f6,#473fe2,#412ebd,#4744e8,#475af9,#4561fc,#4758f8)"></i><i style="background:linear-gradient(#422ebf,#422fc3,#422fc2,#4535d2,#422fc1,#4230c4,#4639d9,#4740e4,#4332c9,#4435d1,#484ef1,#4852f4,#463bdc,#402ab4,#4537d7,#473fe2,#4435d0,#422fc2,#402bb7,#4230c4,#4434cf,#4536d4,#4230c4,#484ff2,#4852f4,#4464fd,#4562fc,#484ff2,#4755f6,#4755f6,#4852f4,#4563fd,#3b73fe,#4850f3,#484ff2,#4661fc,#4367fd,#4759f8,#4853f5,#475cfa,#3f6eff,#4367fd,#4562fc,#4755f6,#473fe2,#412dbd,#4744e8,#475af9,#4561fc,#4758f8)"></i><i style="background:linear-gradient(#4434cf,#463cde,#4743e8,#463ee1,#4331c6,#412dbc,#4230c3,#4639da,#422fc2,#4433cb,#4747eb,#4745e9,#4433cb,#402bb8,#4536d4,#4740e4,#4434cf,#422fc1,#412cba,#422fc0,#4331c7,#4536d2,#4230c4,#484ff2,#4853f5,#4661fc,#475cfa,#4849ed,#4852f4,#4852f4,#484ef1,#4561fc,#3d71ff,#484ff2,#484ef1,#4660fc,#4367fd,#4758f8,#4852f4,#475cfa,#3f6eff,#4367fd,#4562fc,#4755f6,#473fe2,#412dbc,#4744e8,#475af9,#4661fc,#4758f8)"></i><i style="background:linear-gradient(#484aee,#484bee,#4434cf,#422fc1,#4537d5,#463de0,#463cde,#4537d6,#4434ce,#4434ce,#4742e6,#463adb,#402bb8,#422ec0,#4535d2,#4742e6,#4537d6,#4330c5,#422ec0,#412ebd,#422fc0,#4536d3,#4433cc,#484ff2,#4853f5,#465dfa,#4756f6,#4743e7,#484ff2,#484ff2,#4849ed,#465ffb,#3e6fff,#484df1,#484cf0,#465ffb,#4466fd,#4757f7,#4852f4,#475cfa,#3f6efe,#4367fd,#4562fc,#4855f6,#473fe2,#412dbc,#4744e8,#475af9,#4661fc,#4758f8)"></i><i style="background:linear-gradient(#4536d3,#4742e6,#463cdf,#4536d2,#4536d2,#4536d3,#4535d2,#402bb7,#422fc3,#422ebf,#4740e4,#4639da,#412cb9,#402cb8,#4435d1,#4743e7,#463bdd,#4433cb,#4230c4,#412dbc,#412cba,#4536d4,#4537d5,#484ff2,#4853f4,#4759f8,#4850f3,#463ee1,#484cf0,#484cf0,#4745e9,#475cfa,#406dfe,#484cef,#484bee,#465ffb,#4465fd,#4756f7,#4852f4,#475bfa,#3f6efe,#4368fd,#4561fc,#4854f5,#473ee2,#412dbb,#4744e8,#475af9,#4661fc,#4758f8)"></i><i style="background:linear-gradient(#4332c9,#422fc1,#4740e3,#473fe2,#463bdd,#4435d0,#463cde,#4538d8,#4536d4,#4537d6,#4743e7,#463bdd,#4331c5,#402ab4,#4536d4,#4742e6,#463cdf,#4434cf,#4331c8,#412dbc,#402cb8,#4537d7,#463bdd,#484ef1,#4851f3,#4755f6,#484bef,#4639d9,#4849ed,#4849ed,#4740e4,#475af9,#416afe,#484aee,#4849ed,#465efb,#4465fd,#4755f6,#4851f3,#475bf9,#3f6efe,#4368fd,#4561fc,#4854f5,#473ee2,#412cba,#4744e8,#475af9,#4661fc,#4758f8)"></i><i style="background:linear-gradient(#4746eb,#4849ed,#484aee,#4852f4,#4851f3,#4746ea,#4741e5,#4743e7,#4332ca,#463cdf,#4744e8,#4536d3,#4434cf,#4433cb,#463adc,#4740e3,#463adb,#4435d0,#4332ca,#422ebf,#412dbb,#4538d8,#473fe3,#484ef1,#484ff2,#4851f3,#4747eb,#4536d3,#4746eb,#4746eb,#463cdf,#4758f8,#4368fe,#4848ec,#4747eb,#465efb,#4464fd,#4755f6,#4851f3,#475bf9,#3f6efe,#4368fe,#4561fc,#4854f5,#473ee2,#412cba,#4744e8,#475af9,#4661fc,#4758f8)"></i><i style="background:linear-gradient(#4536d3,#4434cf,#463adc,#473fe2,#4331c8,#4434ce,#4434ce,#484df0,#473fe2,#4746ea,#4742e6,#402bb6,#4537d6,#463bdd,#463de0,#463bdd,#4435d1,#4434ce,#4433cb,#4230c3,#422fc0,#4639da,#4742e6,#484cf0,#484cef,#484df0,#4744e8,#4433cc,#4744e8,#4744e8,#4639da,#4756f7,#4466fd,#4747eb,#4745ea,#465dfa,#4563fd,#4854f5,#4850f3,#475bf9,#3f6efe,#4368fe,#4661fc,#4853f5,#473ee2,#412cb9,#4744e8,#475af9,#4661fc,#4758f8)"></i><i style="background:linear-gradient(#463cdf,#4755f6,#426afe,#4758f8,#4537d5,#4639da,#4758f8,#4269fe,#475cfa,#484ef1,#4743e7,#4433cb,#463ada,#473fe2,#463de0,#4536d3,#422fc2,#4332c9,#4332cb,#4331c7,#4330c5,#463ada,#4745e9,#484aee,#4848ec,#4848ec,#4742e6,#4332c8,#4741e6,#4742e6,#4537d6,#4755f6,#4564fd,#4745e9,#4744e8,#475cfa,#4563fc,#4853f5,#4850f2,#475af9,#3f6efe,#4368fe,#4660fc,#4853f5,#473ee1,#412cb9,#4744e9,#475af9,#4661fc,#4758f8)"></i><i style="background:linear-gradient(#4746eb,#484bef,#4747eb,#463adc,#4746ea,#4756f6,#416bfe,#4563fd,#484cef,#463de0,#463ee1,#463adb,#4538d8,#463de0,#4639da,#4332c9,#402ab3,#4230c3,#4332c9,#4332c9,#4332c9,#4639da,#4746ea,#4848ec,#4745e9,#4744e8,#4741e5,#4331c7,#473fe3,#4740e3,#4536d3,#4853f5,#4562fc,#4744e8,#4742e6,#475cfa,#4562fc,#4852f4,#484ff2,#475af9,#3f6dfe,#4368fe,#4660fc,#4853f5,#473ee1,#402bb8,#4745e9,#475af9,#4660fc,#4759f8)"></i><i style="background:linear-gradient(#4330c5,#4536d3,#4536d4,#4537d5,#4434ce,#4746ea,#484bef,#463bde,#4230c3,#402ab5,#4434cf,#4435d2,#4330c4,#4537d6,#4434ce,#422fc1,#3e28ac,#412dbc,#4330c5,#4332c9,#4332cb,#4539d9,#4746ea,#4745e9,#4741e4,#473fe3,#4740e3,#4331c8,#463de0,#463ee0,#4435d1,#4851f4,#465ffb,#4742e6,#4740e4,#475bf9,#4561fc,#4851f3,#484ef1,#475af9,#3f6dfe,#4368fe,#4660fb,#4852f4,#473ee1,#402bb7,#4745e9,#475bf9,#4660fc,#4759f8)"></i><i style="background:linear-gradient(#4536d4,#4332c9,#4434cf,#4536d3,#4331c7,#4331c6,#4230c3,#4433cd,#402bb7,#412dbb,#4433cc,#4332c8,#402ab5,#4332ca,#422fc1,#412dbc,#402ab3,#402bb6,#422fc1,#4331c7,#4332ca,#4537d6,#4746ea,#4742e6,#463de0,#463bdd,#473fe3,#4332cb,#463bde,#463cde,#4435d2,#4850f3,#465dfa,#4741e5,#473fe2,#475af9,#4661fc,#4850f2,#484ef1,#4759f8,#406dfe,#4368fe,#4660fb,#4852f4,#473ee1,#402bb7,#4745e9,#475bf9,#4660fc,#4759f8)"></i><i style="background:linear-gradient(#4332c8,#4536d3,#4230c3,#422ebf,#412cb9,#4332ca,#4537d5,#463adb,#422ebf,#422fc2,#4535d2,#4332ca,#422ebf,#422fc0,#402bb8,#412cba,#402bb7,#3f29b1,#412dbc,#4230c3,#4332c8,#4535d2,#4745e9,#473fe3,#463ada,#4537d6,#473fe2,#4434cf,#463adb,#463bdc,#4536d4,#484ff2,#475bf9,#473fe3,#463de0,#4759f8,#4660fb,#484ff2,#484df0,#4759f8,#406dfe,#4368fe,#465ffb,#4852f4,#473ee1,#402bb6,#4745e9,#475bf9,#4660fc,#4759f8)"></i><i style="background:linear-gradient(#4536d4,#4740e3,#473fe2,#4537d6,#4435d0,#4433cc,#4742e6,#4848ec,#463bde,#4536d4,#4435d1,#4330c5,#4332c8,#402ab5,#412cba,#412ebd,#412cba,#3f29b1,#402bb8,#422ebf,#4330c5,#4433cd,#4744e8,#463cde,#4537d5,#4434ce,#473fe2,#4536d3,#4639d9,#463ada,#4538d7,#484ef1,#4759f8,#473ee1,#463cde,#4758f8,#465ffb,#484ef1,#484df0,#4758f8,#406dfe,#4368fe,#465ffb,#4852f4,#473ee1,#402ab5,#4745e9,#475bf9,#4660fc,#4759f8)"></i><i style="background:linear-gradient(#4536d5,#422ec0,#4331c6,#4432cb,#463de0,#463bdc,#4740e3,#4740e4,#4639da,#4537d5,#4639d9,#4433cd,#4536d5,#402ab3,#4331c6,#4332c8,#422fc1,#402bb8,#402ab5,#412dbd,#422fc0,#4331c7,#4743e7,#4539d9,#4434cf,#4330c5,#473fe3,#4538d8,#4538d8,#4539d9,#463adb,#484df0,#4756f7,#463de0,#463adb,#4758f8,#465efb,#484df0,#484cef,#4758f8,#406dfe,#4368fe,#465ffb,#4851f3,#463ee1,#402ab5,#4745e9,#475bf9,#4660fc,#4759f8)"></i><i style="background:linear-gradient(#422fc2,#4230c4,#463bde,#473fe2,#4847ec,#4851f4,#4538d8,#463bdd,#4849ed,#4850f2,#4759f8,#484cf0,#4742e6,#4434ce,#4537d5,#4537d5,#4433cd,#422fc1,#402bb8,#412ebd,#412dbc,#422fc1,#4743e7,#4536d4,#4332ca,#412dbc,#4740e3,#463adc,#4538d7,#4539d8,#463ddf,#484cef,#4854f5,#463cde,#4639d9,#4757f7,#465efb,#484cef,#484bef,#4758f8,#406dfe,#4368fe,#465ffb,#4851f3,#463ee1,#402ab4,#4745e9,#475bf9,#4660fc,#4759f8)"></i><i style="background:linear-gradient(#2e83f9,#307efb,#465dfb,#2f82fa,#2f82f9,#4759f8,#484aee,#3a73fe,#2d8df2,#2a92ee,#2e87f7,#4269fe,#4851f3,#4740e3,#463de0,#463ddf,#4639da,#4433cb,#422ebf,#422ebf,#412cba,#422ebf,#4742e6,#4434ce,#4331c6,#402ab4,#4740e4,#463ddf,#4538d7,#4539d9,#4740e3,#484bef,#4852f4,#463bdd,#4538d7,#4756f7,#465dfa,#484aee,#484bee,#4757f7,#406dfe,#4368fe,#465efb,#4851f3,#463ee1,#402ab3,#4745ea,#475bf9,#4660fc,#4759f8)"></i><i style="background:linear-gradient(#dcbd29,#80cc59,#35c79a,#36c898,#02bac5,#269ae8,#2d8af4,#2b92ee,#1ea7e1,#15afd9,#2994ed,#3d70ff,#4853f4,#4745e9,#4740e4,#4742e6,#4740e4,#4538d7,#4331c8,#422fc1,#412cba,#422fc1,#4742e6,#4332ca,#4230c3,#3e27ac,#4740e4,#473fe3,#4538d7,#4639d9,#4743e7,#484aee,#4850f3,#463adb,#4537d5,#4755f6,#475cfa,#4849ed,#484aee,#4757f7,#406cfe,#4368fe,#465efb,#4850f3,#463ee1,#402ab3,#4746ea,#475bf9,#4660fc,#4759f9)"></i><i style="background:linear-gradient(#475bf9,#4853f5,#3e70ff,#4756f7,#4849ed,#4759f8,#406cfe,#4744e8,#2f82fa,#2699e9,#3f6eff,#475cfa,#4743e7,#473fe3,#463cde,#4743e8,#4745ea,#463ee1,#4435d1,#422fc3,#412dbc,#4331c7,#4742e6,#4331c7,#422fc1,#3f29b0,#4741e5,#4742e6,#4539d9,#463adb,#4746ea,#484aed,#484ef1,#4639da,#4536d3,#4854f6,#475bf9,#4848ec,#4849ed,#4756f7,#406cfe,#4368fe,#465efb,#4850f2,#463ee1,#3f29b2,#4746ea,#475bf9,#4660fb,#4759f9)"></i><i style="background:linear-gradient(#4660fb,#4848ec,#463bdc,#422fc1,#4332c9,#4741e5,#4853f5,#484aee,#4369fe,#3d70ff,#4332c9,#4745e9,#412dbc,#4536d4,#4332c8,#4742e6,#4747eb,#4745e9,#463adb,#422fc2,#422ebf,#4434d0,#4742e6,#4331c6,#422fc2,#412cba,#4742e6,#4745e9,#463adb,#463bdd,#4849ed,#4849ed,#484cef,#4539d9,#4435d1,#4854f5,#475af9,#4747eb,#4849ed,#4756f6,#406cfe,#4368fe,#465dfb,#484ff2,#463ee1,#3f29b1,#4746ea,#475bf9,#4660fb,#4759f9)"></i><i style="background:linear-gradient(#4740e3,#4747eb,#4741e5,#463ee1,#4537d6,#463cdf,#4746ea,#4539d9,#4367fd,#4466fd,#463cde,#473fe3,#4230c3,#4434ce,#412cb9,#473ee1,#4743e7,#484aee,#473ee1,#422ebf,#4230c4,#4538d8,#4743e7,#4331c7,#4230c4,#422fc2,#4742e6,#4747eb,#463cde,#463de0,#484cef,#4848ec,#4849ed,#4538d8,#4434cf,#4853f5,#475af9,#4746ea,#4848ec,#4755f6,#416cfe,#4368fe,#465dfa,#484ff2,#463ee1,#3f29b0,#4746ea,#475bf9,#4660fb,#475af9)"></i><i style="background:linear-gradient(#4332ca,#422fc1,#4331c6,#4538d7,#463cde,#4744e9,#4756f7,#475af9,#4563fd,#4759f8,#4740e4,#473fe3,#463cde,#4537d7,#4331c8,#463bdc,#463adb,#484ff2,#4743e7,#412cbb,#4332c9,#463de0,#4743e7,#4332c9,#4331c7,#4332c9,#4743e7,#484aee,#463ee0,#473fe2,#484ff2,#4747ec,#4747ec,#4538d7,#4434cd,#4852f4,#4759f8,#4745e9,#4747eb,#4854f6,#416cfe,#4368fe,#475dfa,#484ff2,#463ee1,#3f29b0,#4746ea,#475bf9,#4660fb,#475af9)"></i><i style="background:linear-gradient(#4435d1,#473fe3,#4746ea,#4539d9,#4433cd,#4742e6,#463de0,#484bef,#4849ed,#4740e3,#422fc1,#463bde,#4745e9,#463cde,#4537d6,#4639d9,#4433cc,#4755f6,#4747ec,#412dbd,#4435d1,#4742e6,#4743e7,#4433cc,#4433cb,#4435d0,#4744e8,#484df0,#4740e4,#4741e5,#4851f4,#4747eb,#4745ea,#4537d6,#4433cc,#4851f3,#4758f8,#4744e8,#4747eb,#4854f5,#416bfe,#4368fe,#475cfa,#484ef1,#463ee1,#3f28af,#4746ea,#475bf9,#4660fb,#475af9)"></i><i style="background:linear-gradient(#4563fc,#4744e8,#4850f2,#463cdf,#4433cc,#463ee1,#4433cd,#463adb,#422fc1,#4433cc,#422fc0,#4538d8,#4849ed,#4639d9,#463adc,#463ee1,#4639da,#475bf9,#484df0,#4332ca,#4639da,#4747eb,#4743e7,#4434ce,#4435d1,#4537d6,#4744e8,#484ff2,#4743e7,#4744e8,#4854f5,#4746ea,#4743e7,#4537d6,#4433cb,#4850f3,#4757f7,#4742e7,#4746ea,#4853f5,#416bfe,#4368fe,#475cfa,#484ef1,#463ee1,#3f28ae,#4746ea,#475bf9,#4660fb,#475af9)"></i><i style="background:linear-gradient(#4367fd,#4852f4,#463ee1,#4740e3,#463ada,#4741e5,#4538d7,#463adc,#4434cd,#422fc1,#4330c5,#4538d8,#484ef1,#4331c8,#4740e4,#484df0,#484ff2,#4563fd,#4853f4,#463adb,#4740e4,#484df0,#4742e6,#4435d0,#4538d7,#463adb,#4745e9,#4852f4,#4746ea,#4747eb,#4757f7,#4745e9,#4741e5,#4537d5,#4332ca,#484ff2,#4756f7,#4741e5,#4745e9,#4853f5,#416bfe,#4368fe,#475cfa,#484ef1,#463ee1,#3f28ae,#4746eb,#475bf9,#4660fb,#475af9)"></i><i style="background:linear-gradient(#463adb,#463cde,#4434d0,#4537d5,#4639d9,#4537d6,#4433cd,#484bef,#4743e7,#4538d7,#463adb,#484aee,#475bf9,#4740e3,#484df0,#475dfa,#4562fc,#4269fe,#4757f7,#4742e6,#4848ec,#4852f4,#4740e4,#4435d1,#463bdc,#463cde,#4745e9,#4755f6,#4849ed,#4849ed,#4759f8,#4744e9,#473fe3,#4537d5,#4332ca,#484ff2,#4755f6,#4740e4,#4744e9,#4852f4,#416bfe,#4368fe,#475bfa,#484df1,#463ee1,#3f28ad,#4747eb,#475bf9,#465ffb,#475af9)"></i><i style="background:linear-gradient(#4537d6,#4851f3,#4756f7,#4562fc,#2e86f8,#406cfe,#2d88f6,#249de6,#2d8df2,#3876fe,#406dfe,#416cfe,#426afe,#4759f8,#475cfa,#4269fe,#3e6fff,#406dfe,#4759f8,#4848ec,#4850f2,#4756f7,#473ee1,#4535d2,#473ee2,#463de0,#4745e9,#4758f8,#484cf0,#484cf0,#475bfa,#4744e8,#463ee1,#4537d5,#4332ca,#484ef1,#4755f6,#473fe2,#4744e8,#4851f4,#416afe,#4368fe,#475bf9,#484df0,#463ee1,#3e28ad,#4747eb,#475bf9,#465ffb,#475af9)"></i><i style="background:linear-gradient(#cfc028,#ccc028,#d0bf27,#a3c83f,#67cd6c,#3eca8f,#30c5a2,#2cc4a7,#0cbdbc,#18addb,#2896eb,#327cfc,#4269fe,#4564fd,#4564fd,#406dfe,#3b72fe,#406cfe,#4757f7,#484aee,#4758f8,#475bf9,#463cde,#4536d4,#4742e6,#473ee2,#4745e9,#475bf9,#484ff2,#484ff2,#465efb,#4743e7,#463cde,#4537d5,#4332ca,#484df0,#4854f5,#463ee1,#4743e7,#4851f3,#426afe,#4368fe,#475bf9,#484cf0,#463ee1,#3e28ac,#4747eb,#475bf9,#465ffb,#475af9)"></i><i style="background:linear-gradient(#4757f7,#4854f5,#337bfc,#4465fd,#465dfa,#3579fd,#3a73fe,#2d8af4,#259ce7,#239fe5,#2d8cf3,#4465fd,#4851f3,#475bf9,#465dfa,#4466fd,#426afe,#4367fd,#4852f4,#4848ec,#4660fb,#465ffb,#463adb,#4537d6,#4746eb,#473fe2,#4744e8,#465dfb,#4853f4,#4852f4,#4660fb,#4742e6,#463adc,#4537d5,#4332ca,#484cf0,#4853f5,#463de0,#4742e7,#4850f3,#426afe,#4368fd,#475af9,#484cf0,#463ee1,#3e27ac,#4747eb,#475bf9,#465ffb,#475af9)"></i><i style="background:linear-gradient(#4745e9,#4848ec,#4744e8,#4538d7,#422fc2,#4434cf,#4332c8,#4435d2,#463ee1,#475af9,#475bf9,#4744e8,#4332c9,#4747eb,#4848ec,#4758f8,#4756f6,#4660fb,#484bee,#4745e9,#4369fe,#4563fd,#463adb,#463adb,#484bef,#473ee2,#4744e8,#4561fc,#4756f7,#4756f6,#4562fc,#4741e6,#4539d9,#4537d6,#4332ca,#484bef,#4852f4,#463cde,#4742e6,#484ff2,#426afe,#4368fd,#475af9,#484cef,#463ee1,#3e27ac,#4747eb,#475bf9,#465ffb,#475af9)"></i><i style="background:linear-gradient(#4747ec,#484cf0,#4759f9,#484df0,#4433cd,#4537d6,#4639d9,#4330c5,#4230c4,#4434ce,#463adb,#4538d8,#412cba,#4639da,#4332ca,#484ef1,#463ee1,#475bf9,#4747eb,#4746ea,#3d71ff,#4367fd,#463cdf,#463de0,#484ff2,#463ee1,#4744e8,#4564fd,#4759f9,#4758f8,#4564fd,#4741e5,#4538d7,#4537d6,#4433cb,#484aee,#4851f4,#463bdc,#4741e5,#484ff2,#4269fe,#4368fd,#4759f9,#484bef,#463ee1,#3e27ac,#4747eb,#475bf9,#465ffb,#475af9)"></i><i style="background:linear-gradient(#4332c9,#412dbd,#463de0,#4742e6,#4230c4,#4536d4,#4538d7,#412cb9,#4435d1,#4332c9,#4331c7,#4434ce,#402bb7,#4537d6,#422fc3,#484bef,#4230c3,#475af9,#484cf0,#484ef1,#3579fd,#416afe,#4742e6,#4743e7,#4854f5,#463ddf,#4744e8,#4367fd,#475cfa,#475bf9,#4466fd,#4740e4,#4536d4,#4537d6,#4433cc,#484aed,#4851f3,#463adb,#4740e4,#484ef1,#4269fe,#4367fd,#4759f8,#484bef,#463ee0,#3e27ac,#4747eb,#475bf9,#465ffb,#475af9)"></i><i style="background:linear-gradient(#4539d9,#473fe3,#4849ed,#4743e7,#4331c6,#4332c9,#463bdd,#4740e4,#463bdd,#463bdd,#4331c7,#4536d3,#4433cc,#4743e7,#4745e9,#4853f4,#473ee2,#465ffb,#4758f8,#465dfa,#3080fa,#406dfe,#4849ed,#4849ed,#4758f8,#463cde,#4746ea,#426afe,#465ffb,#465efb,#4367fd,#4740e3,#4535d2,#4538d7,#4433cc,#4849ed,#4850f2,#4639d9,#4740e3,#484df1,#4269fe,#4367fd,#4759f8,#484aee,#463ee0,#3e28ac,#4747ec,#475bf9,#465ffb,#475af9)"></i><i style="background:linear-gradient(#4434ce,#4536d4,#463de0,#4536d3,#463bdd,#4332c8,#463bdc,#465dfa,#4539d9,#4757f7,#4851f3,#4853f5,#4755f6,#465dfa,#465efb,#465ffb,#4757f7,#4368fd,#4466fd,#3f6eff,#2e86f8,#3f6eff,#4850f3,#4851f3,#475dfa,#463cde,#4848ec,#3f6dfe,#4562fc,#4660fc,#4269fe,#473fe3,#4435d0,#4538d7,#4433cd,#4848ec,#484ff2,#4538d8,#473fe3,#484df0,#4369fe,#4367fd,#4758f8,#484aee,#463ee0,#3f28ad,#4848ec,#475bf9,#465ffb,#475af9)"></i><i style="background:linear-gradient(#4562fc,#3a74fe,#2e84f8,#2f80fa,#19addc,#17aeda,#01b9c6,#35c79a,#01b8c9,#11b1d6,#22a1e4,#2c8ef1,#2f82f9,#337afd,#3c71ff,#416bfe,#416bfe,#3c72ff,#3a74fe,#3080fb,#2d8af5,#406dfe,#4758f8,#475af9,#4562fc,#463ee1,#484cef,#3d71ff,#4465fd,#4563fd,#416bfe,#473fe3,#4434ce,#4538d8,#4434ce,#4747eb,#484ef1,#4537d6,#473fe2,#484cef,#4368fe,#4367fd,#4758f8,#484aed,#463de0,#3f28ae,#4848ec,#475bf9,#465ffb,#475af9)"></i><i style="background:linear-gradient(#f9fb15,#f9fb15,#f9fb15,#f9fb15,#f9fb15,#f9fb15,#f9fb15,#f8f818,#e0bc2a,#52cc7e,#05bbc1,#21a3e3,#2b91ef,#3080fa,#3c72ff,#426afe,#3d71ff,#3776fe,#337afd,#2d8af5,#2d8cf3,#4368fe,#465efb,#4562fc,#4368fd,#4741e5,#4850f3,#3a74fe,#4368fe,#4465fd,#406cfe,#473fe3,#4433cd,#4538d8,#4434cf,#4746eb,#484ef1,#4536d4,#463ee1,#484bef,#4368fe,#4367fd,#4757f7,#4849ed,#463de0,#3f28ae,#4848ec,#475bf9,#465ffb,#475bf9)"></i><i style="background:linear-gradient(#4561fc,#2699ea,#15afd9,#3b73fe,#2d8cf3,#1fc0b2,#92ca4b,#8dcb50,#21c1b0,#06b5ce,#249fe6,#2d89f6,#307efb,#406cfe,#4562fc,#475cfa,#416bfe,#3a74fe,#347afd,#2c8ef1,#2d8df3,#4661fc,#4563fd,#416bfe,#3f6dfe,#4747eb,#4755f6,#3777fe,#426afe,#4368fd,#3f6dfe,#473fe3,#4433cd,#4539d8,#4434d0,#4746ea,#484df0,#4536d2,#463de0,#484aee,#4368fd,#4367fd,#4757f7,#4849ed,#463de0,#3f28af,#4848ec,#475bf9,#465efb,#475bf9)"></i><i style="background:linear-gradient(#4432cb,#463ada,#473fe3,#4332ca,#4434d0,#4639d9,#4851f3,#3f6eff,#484aee,#4466fd,#4757f7,#4853f5,#4759f8,#484df1,#484cf0,#4747eb,#465dfa,#426afe,#3b72ff,#2c8ef1,#2d8cf3,#4756f6,#4367fd,#3a74fe,#3a74fe,#484ef1,#475bf9,#3479fd,#406cfe,#4269fe,#3f6fff,#473fe3,#4433cc,#4539d9,#4435d0,#4745e9,#484cf0,#4435d1,#463ddf,#484aed,#4367fd,#4366fd,#4757f7,#4848ec,#463de0,#3f29b0,#4848ec,#475bf9,#465efb,#475bf9)"></i><i style="background:linear-gradient(#473fe2,#463de0,#473fe2,#465ffb,#4563fd,#484cf0,#463bdd,#4332c9,#4740e4,#484ff2,#4740e3,#4538d8,#463cde,#4434ce,#463bdd,#4332cb,#484df0,#475cfa,#4564fd,#2d8af5,#2d8af4,#4848ec,#416afe,#327cfc,#347afd,#4756f7,#4561fc,#327cfc,#3f6eff,#416bfe,#3e70ff,#4740e3,#4433cd,#4639d9,#4435d1,#4744e8,#484bef,#4434cf,#463cdf,#4849ed,#4367fd,#4466fd,#4756f7,#4848ec,#463de0,#3f29b1,#4848ec,#475bf9,#465efb,#475bf9)"></i><i style="background:linear-gradient(#2b91ef,#2d8af5,#2d8cf3,#2e83f9,#475bfa,#4850f2,#484df0,#463de0,#4747eb,#4853f5,#4848ec,#4434ce,#422ebf,#412cba,#4435d0,#3f29b1,#463de0,#484df0,#4850f2,#2e83f9,#2d89f5,#4537d7,#3f6eff,#2e84f9,#2f80fa,#465ffb,#4369fe,#317efb,#3e6fff,#406dfe,#3d71ff,#4740e4,#4433cd,#4639da,#4535d2,#4743e7,#484bee,#4434ce,#463cde,#4848ec,#4367fd,#4466fd,#4756f6,#4847ec,#463de0,#3f29b2,#4848ec,#475bf9,#465efb,#475bf9)"></i><i style="background:linear-gradient(#4744e8,#4742e6,#463adb,#4744e8,#463cdf,#463bdd,#4742e6,#4331c7,#463adb,#4849ed,#4746ea,#4536d3,#4330c5,#4434ce,#4435d1,#4330c5,#4434ce,#4743e7,#463bdd,#317dfc,#2d89f5,#4331c7,#3c72ff,#2d89f5,#2e85f8,#4368fd,#3e6fff,#307ffb,#3d70ff,#3f6efe,#3c71ff,#4741e5,#4434ce,#463ada,#4536d2,#4742e6,#484aee,#4433cc,#463bdd,#4747eb,#4366fd,#4466fd,#4755f6,#4747eb,#463de0,#3f29b2,#4849ed,#475bf9,#465efb,#475bf9)"></i><i style="background:linear-gradient(#4230c3,#4434d0,#4434ce,#4331c7,#4434cf,#4536d3,#463cde,#422ebf,#412dbd,#4639da,#4539d8,#463bdc,#463cdf,#463bdc,#4536d3,#4536d3,#422fc2,#473fe3,#422fc0,#337afd,#2d8bf3,#4639da,#3876fe,#2c8ef2,#2d8af5,#3d70ff,#3876fe,#2f80fa,#3c71ff,#3f6fff,#3b72ff,#4742e6,#4434d0,#463adb,#4536d3,#4742e6,#4849ed,#4432cb,#463bdc,#4746ea,#4466fd,#4466fd,#4755f6,#4747eb,#463de0,#402ab3,#4849ed,#475bf9,#465efb,#475bf9)"></i><i style="background:linear-gradient(#4740e4,#473ee1,#4758f8,#4367fd,#4756f7,#463cde,#4539d9,#4433cc,#412ebe,#4332ca,#412cb8,#463ee1,#484aee,#463de0,#4434ce,#463ddf,#4536d3,#4743e7,#4536d4,#317dfc,#2c8ff0,#484bef,#347afd,#2b90ef,#2d8df2,#3678fd,#327cfc,#2f81fa,#3c71ff,#3e6fff,#3b73fe,#4742e6,#4435d1,#463adb,#4536d3,#4741e5,#4849ed,#4332ca,#463adb,#4745ea,#4466fd,#4466fd,#4854f6,#4746ea,#463de0,#402ab4,#4849ed,#475bf9,#465efb,#475bf9)"></i><i style="background:linear-gradient(#4538d7,#4433cb,#484df0,#3f6eff,#4756f7,#422fc1,#4332c8,#4639d9,#4331c8,#422fc1,#4537d6,#484bee,#4757f7,#463cdf,#4332c8,#4848ec,#4849ed,#4850f2,#484cef,#2e84f9,#2895ec,#465efb,#317efb,#2b92ee,#2c90f0,#307ffb,#2f81fa,#2f81fa,#3c71ff,#3e6fff,#3a73fe,#4743e7,#4536d3,#463adb,#4536d4,#4740e4,#4848ec,#4332c8,#463ada,#4745e9,#4465fd,#4465fd,#4854f5,#4746ea,#463de0,#402ab5,#4849ed,#475bf9,#465efb,#475bf9)"></i><i style="background:linear-gradient(#4746ea,#4747eb,#4849ed,#484df0,#4741e5,#4331c5,#4435d1,#463bdd,#4332ca,#4331c6,#4742e7,#4759f8,#4660fb,#4745e9,#463bdd,#4756f7,#465efb,#465efb,#475cfa,#2d8cf3,#269ae9,#406dfe,#2f80fa,#2b92ef,#2b91ef,#2e84f8,#2e85f8,#2f81fa,#3d70ff,#3e6fff,#3a73fe,#4744e8,#4537d5,#463adc,#4536d4,#473fe3,#4747eb,#4331c7,#4639da,#4744e8,#4465fd,#4465fd,#4853f5,#4745e9,#463de0,#402bb6,#4849ed,#475bf9,#465efb,#475bf9)"></i><i style="background:linear-gradient(#4537d5,#4434cf,#4331c6,#4330c5,#422ebf,#422fc2,#463bdc,#4536d3,#4332ca,#4435d0,#4743e7,#475cfa,#4563fc,#4850f3,#484cef,#4465fd,#3b72ff,#416bfe,#4368fd,#2b92ee,#249de6,#3578fd,#2f81fa,#2c90f0,#2b91ef,#2d88f6,#2e87f7,#307ffb,#3e6fff,#3e6fff,#3a73fe,#4745e9,#4538d7,#463adc,#4536d4,#473fe2,#4747eb,#4331c7,#4539d9,#4743e7,#4465fd,#4465fd,#4853f5,#4745e9,#463de0,#402bb6,#4849ed,#475bf9,#465dfb,#475bf9)"></i><i style="background:linear-gradient(#473fe3,#4848ec,#4744e8,#4538d8,#4536d4,#463bdd,#4741e5,#4536d3,#4331c7,#412cb8,#463cde,#4850f3,#475af9,#484cf0,#4756f6,#3d70ff,#3080fa,#3c72ff,#416bfe,#2896ec,#249fe6,#307ffb,#307ffb,#2d8cf3,#2c8ff1,#2d8af5,#2d89f5,#317efb,#3f6eff,#3f6eff,#3a73fe,#4746ea,#4538d8,#463bdc,#4536d4,#463ee1,#4746ea,#4331c6,#4538d8,#4742e6,#4465fd,#4465fd,#4852f4,#4744e8,#463de0,#402bb7,#484aed,#475bf9,#465dfb,#475bf9)"></i><i style="background:linear-gradient(#4537d6,#4330c5,#463de0,#463ada,#4537d6,#4536d4,#4740e3,#4848ec,#463de0,#4433cd,#463bde,#4538d8,#484df1,#4536d3,#4758f8,#3b72fe,#2e84f9,#3d70ff,#4466fd,#2896ec,#249ee6,#3080fa,#337afd,#2d88f6,#2d8cf3,#2d8af4,#2d89f5,#327cfc,#406dfe,#3f6dfe,#3b73fe,#4747eb,#4639da,#463bdc,#4536d4,#463de0,#4746ea,#4331c5,#4538d8,#4741e5,#4464fd,#4464fd,#4852f4,#4744e8,#463de0,#402bb8,#484aed,#475af9,#465dfa,#475bf9)"></i><i style="background:linear-gradient(#4538d7,#473ee2,#484aee,#4742e7,#422fc1,#422fc1,#4537d6,#4758f8,#4741e4,#463ada,#4747eb,#4332c9,#484ef1,#4435d2,#4759f9,#4367fd,#317efb,#4465fd,#4759f8,#2b92ee,#269ae9,#327cfc,#3c72ff,#2f81fa,#2e87f7,#2d8af5,#2d89f5,#3579fd,#426afe,#406cfe,#3b72fe,#4848ec,#463adc,#463bdd,#4536d4,#463cdf,#4745e9,#4330c5,#4538d7,#4740e4,#4564fd,#4464fd,#4851f4,#4743e7,#463de0,#412cb9,#484aee,#475af9,#465dfa,#475bf9)"></i><i style="background:linear-gradient(#463adb,#4744e8,#4755f6,#465efb,#426afe,#4757f7,#4367fd,#2e87f7,#4367fd,#475af9,#4564fd,#4757f7,#475cfa,#4755f6,#475bf9,#4852f4,#3974fe,#4758f8,#484aed,#2d8cf3,#2994ed,#3975fe,#4368fe,#3579fd,#2f81fa,#2d87f6,#2d87f7,#3975fe,#4368fe,#416bfe,#3c72ff,#4848ec,#463bdd,#463bdd,#4536d4,#463bde,#4744e9,#4330c5,#4537d6,#4740e3,#4564fd,#4564fd,#4851f3,#4743e7,#463de0,#412cba,#484aee,#475af9,#465dfa,#475bf9)"></i><i style="background:linear-gradient(#90ca4d,#7bcc5d,#5ccc76,#36c899,#1cc0b4,#04b6cd,#14b0d8,#1baadf,#2b91ef,#3875fe,#2f80fa,#416bfe,#4466fd,#406cfe,#475af9,#4536d5,#406cfe,#484ff2,#463de0,#2e83f9,#2d8cf3,#416bfe,#465dfb,#3e70ff,#3479fd,#2e84f8,#2e85f8,#3c71ff,#4466fd,#4269fe,#3d71ff,#4849ed,#463cdf,#463bdd,#4536d4,#463bdc,#4744e8,#4330c5,#4537d6,#473fe2,#4563fd,#4564fd,#4851f3,#4743e7,#463de0,#412cbb,#484aee,#475af9,#475dfa,#475bf9)"></i><i style="background:linear-gradient(#4742e6,#484ef1,#4850f2,#4755f6,#4852f4,#4466fd,#3f6efe,#3678fe,#3a73fe,#4852f4,#2e86f8,#4757f7,#465ffb,#3479fd,#475cfa,#4230c4,#4369fe,#484ef1,#463bde,#3479fd,#2f82f9,#4660fc,#4852f4,#4367fd,#3d71ff,#3080fb,#2f82fa,#406dfe,#4563fc,#4367fd,#3e70ff,#484aed,#463de0,#463bdd,#4536d3,#463adb,#4743e7,#4330c5,#4537d5,#463ee1,#4563fc,#4563fd,#4850f3,#4742e6,#463de0,#412dbb,#484aee,#475af9,#475dfa,#475bf9)"></i><i style="background:linear-gradient(#4536d3,#4538d8,#4740e4,#475cfa,#4759f8,#4743e7,#4853f5,#4368fe,#2d8af5,#3777fe,#2d8cf3,#4848ec,#475bf9,#317dfc,#4562fc,#4746ea,#426afe,#4853f5,#4740e4,#3f6eff,#3777fe,#4756f7,#4747eb,#465efb,#4368fd,#337afd,#317dfb,#4368fe,#4660fb,#4465fd,#3f6fff,#484aee,#463ee1,#463bdd,#4536d3,#4639da,#4743e7,#4330c5,#4536d4,#463de0,#4563fc,#4563fd,#4850f2,#4742e6,#463de0,#412dbc,#484aee,#475af9,#475cfa,#475bf9)"></i><i style="background:linear-gradient(#9fc942,#6acd6a,#54cc7d,#47cb87,#14bfb8,#1da9e0,#259ce7,#22a2e4,#1aabdd,#20a4e3,#2994ed,#4269fe,#4466fd,#3a73fe,#4660fc,#475af9,#406cfe,#4756f6,#4744e8,#4563fc,#426afe,#484df0,#463cde,#4755f6,#465dfb,#3a73fe,#3678fd,#4563fc,#475dfa,#4562fc,#406dfe,#484aee,#473fe2,#463bdd,#4536d3,#4539d9,#4742e6,#4331c6,#4536d4,#463cdf,#4562fc,#4563fc,#484ff2,#4741e5,#463de0,#412dbd,#484bee,#475af9,#475cfa,#475bf9)"></i><i style="background:linear-gradient(#4757f7,#4740e3,#484aed,#4368fe,#4758f8,#475af9,#4852f4,#4368fe,#347afd,#2e84f9,#347afd,#4562fc,#4564fd,#465ffb,#4850f2,#4561fc,#416bfe,#4853f5,#4743e7,#4758f8,#4660fb,#4747eb,#4435d0,#484df1,#4755f6,#406cfe,#3b72ff,#465efb,#475af9,#4660fb,#416bfe,#484aee,#4740e3,#463bdd,#4535d2,#4538d7,#4742e6,#4331c6,#4536d3,#463bde,#4562fc,#4563fc,#484ff1,#4741e4,#463de0,#412ebe,#484bee,#475af9,#475cfa,#475bf9)"></i><i style="background:linear-gradient(#463cdf,#4435d2,#422ebf,#4331c6,#422fc2,#4332c9,#4434ce,#463bdc,#4434ce,#484bef,#484cf0,#463cde,#4755f6,#484cf0,#4639da,#4660fc,#4465fd,#484bef,#463de0,#484ef1,#4756f7,#4743e7,#4331c8,#4746eb,#484cf0,#4465fd,#406cfe,#4759f8,#4756f7,#465dfa,#426afe,#484aee,#4740e4,#463bdd,#4435d1,#4537d6,#4741e5,#4331c7,#4536d2,#463bdc,#4562fc,#4562fc,#484ef1,#4740e4,#463de0,#422ebf,#484bef,#475af9,#475cfa,#475bf9)"></i><i style="background:linear-gradient(#4230c3,#422fc1,#402bb8,#4331c6,#4433cc,#4536d3,#463bdd,#4536d3,#4332cb,#4435d1,#4536d3,#412dbd,#484aed,#4747eb,#4537d6,#475cfa,#475cfa,#4742e6,#4536d4,#4745e9,#484df1,#4740e4,#4331c6,#4740e4,#4744e8,#465ffb,#4466fd,#4853f5,#4853f5,#475af9,#4368fe,#484aee,#4741e5,#463bdd,#4435d1,#4537d5,#4741e5,#4331c8,#4435d2,#463adb,#4561fc,#4562fc,#484ef1,#4740e3,#463de0,#422ec0,#484bef,#475af9,#475cfa,#475bf9)"></i><i style="background:linear-gradient(#4435d1,#4332c9,#4230c4,#4538d7,#463ee1,#4538d7,#4536d4,#412dbc,#4639da,#4332c9,#4433cb,#4639d9,#4742e6,#484aed,#4744e8,#4756f6,#4850f3,#4538d8,#4330c4,#463cdf,#4745e9,#473fe3,#4332cb,#463bdd,#463ddf,#4758f8,#4660fc,#484ef1,#4850f3,#4757f7,#4466fd,#4849ed,#4741e5,#463bdd,#4435d0,#4536d4,#4741e4,#4332c9,#4435d1,#4639da,#4561fc,#4562fc,#484df0,#473fe3,#463ee0,#422fc1,#484bef,#475af9,#475cfa,#475bf9)"></i><i style="background:linear-gradient(#422fc0,#422fc1,#4331c8,#4535d2,#4536d3,#4230c4,#463de0,#4743e7,#4746ea,#473fe3,#463cde,#4539d9,#4536d3,#4746ea,#484aee,#484df1,#4744e8,#4331c7,#402ab5,#4536d3,#463cdf,#463ee1,#4435d1,#4537d6,#4536d4,#4851f4,#475af9,#4848ec,#484df0,#4854f5,#4564fd,#4849ed,#4742e6,#463bdc,#4434cf,#4535d2,#4740e4,#4332ca,#4435d1,#4539d8,#4661fc,#4562fc,#484df0,#473fe2,#463ee0,#422fc1,#484bef,#475af9,#475cfa,#475bf9)"></i><i style="background:linear-gradient(#4331c7,#422fc1,#422fc1,#402bb8,#412dbc,#4332c9,#473ee1,#473fe2,#4742e6,#463de0,#473fe3,#4434cf,#412cba,#473fe2,#4745ea,#4744e8,#463cde,#412cba,#3f29b1,#4332ca,#4536d4,#463de0,#4537d5,#4435d0,#4332ca,#484cef,#4755f6,#4743e7,#484aed,#4851f3,#4562fc,#4848ec,#4742e6,#463bdc,#4434ce,#4435d1,#4740e3,#4332cb,#4435d0,#4538d7,#4660fc,#4561fc,#484cf0,#473ee1,#463ee0,#422fc2,#484cef,#475af9,#475bfa,#475bf9)"></i><i style="background:linear-gradient(#4639da,#4536d4,#4539d8,#4535d2,#412dbd,#4432cb,#463ddf,#422ebf,#4538d8,#422fc1,#473ee2,#4434cf,#412dbd,#4539d8,#463cde,#463bdc,#4537d6,#3f29b2,#402bb7,#4230c4,#4331c7,#463bde,#4538d8,#4433cc,#422fc1,#4746ea,#4850f2,#473ee1,#4747eb,#484ef1,#4660fb,#4747eb,#4743e7,#463bdc,#4434cd,#4434cf,#473fe3,#4433cc,#4434d0,#4537d6,#4660fc,#4561fc,#484cef,#463ee1,#463ee1,#4230c3,#484cef,#475af9,#475bf9,#475bf9)"></i><i style="background:linear-gradient(#484df1,#4746ea,#463cde,#4850f3,#4758f8,#4755f6,#4755f6,#484ff2,#4849ed,#463cde,#463ee0,#4331c7,#412dbd,#4435d0,#4433cc,#4332cb,#4536d3,#402bb8,#412dbd,#422fc0,#412dbc,#463adb,#4639da,#4332ca,#412cba,#4741e5,#484bef,#463ada,#4744e8,#484bef,#465dfb,#4746ea,#4743e7,#463adc,#4433cc,#4434ce,#473fe2,#4433cc,#4434cf,#4537d5,#4660fb,#4561fc,#484bef,#463de0,#463ee1,#4230c4,#484cef,#475af9,#475bf9,#475bfa)"></i><i style="background:linear-gradient(#4746ea,#4464fd,#406dfe,#4466fd,#4758f8,#463ee1,#484aee,#4660fb,#4755f6,#4741e5,#463bde,#422fc0,#412dbb,#4332ca,#412dbc,#412cb9,#4536d4,#422fc2,#422fc3,#422ebf,#402ab5,#4539d8,#463adb,#4332c8,#402bb7,#463de0,#4747eb,#4536d3,#4741e5,#4848ec,#475bfa,#4745e9,#4743e7,#463adc,#4433cb,#4433cc,#473fe2,#4434ce,#4434cf,#4536d3,#465ffb,#4661fc,#484bee,#463de0,#463ee1,#4330c5,#484cf0,#475af9,#475bf9,#475bfa)"></i><i style="background:linear-gradient(#4435d2,#463bdd,#4433cd,#4434ce,#4536d4,#4330c5,#4539d9,#4756f7,#4746ea,#4230c3,#4537d5,#4230c4,#4331c6,#4331c6,#402ab3,#402bb6,#4538d8,#4434cd,#4331c7,#422fc0,#402ab5,#4537d5,#463adc,#4331c8,#402ab5,#4539d9,#4743e7,#4332c9,#473ee1,#4744e8,#4759f8,#4743e7,#4743e7,#463adb,#4332ca,#4332cb,#473ee1,#4434cf,#4434cf,#4435d2,#465ffb,#4660fc,#484aee,#463cdf,#463ee1,#4331c6,#484cf0,#475af9,#475bf9,#475bfa)"></i><i style="background:linear-gradient(#4434ce,#4741e5,#473fe2,#463bdd,#463cdf,#4434ce,#473fe3,#4756f6,#4745e9,#4433cc,#4332ca,#412dbc,#4435d1,#4331c7,#3f29b2,#4230c3,#463adb,#4536d4,#4332cb,#422fc2,#412cb9,#4536d2,#463adc,#4331c7,#402ab5,#4536d3,#473fe3,#422fc1,#463cde,#4741e5,#4757f7,#4742e6,#4743e7,#463adb,#4332c9,#4332c9,#463ee1,#4434d0,#4434ce,#4435d0,#465ffb,#4660fb,#484aed,#463cde,#463ee1,#4331c7,#484df0,#475af9,#475bf9,#475bfa)"></i><i style="background:linear-gradient(#4331c6,#463bdd,#463de0,#4537d6,#4435d1,#4331c8,#484aee,#4854f5,#4639d9,#4537d6,#4435d0,#4331c7,#463ada,#4434d0,#422fc1,#4435d0,#463cde,#4538d8,#4433cc,#4330c5,#412dbc,#4434cf,#463adb,#4331c7,#402ab5,#4433cd,#463ddf,#412cba,#463adb,#463ee1,#4755f6,#4740e4,#4743e7,#463adb,#4331c8,#4331c7,#463ee1,#4435d1,#4434ce,#4434cf,#465ffb,#4660fb,#4849ed,#463bde,#463ee1,#4331c8,#484df0,#475af9,#475af9,#475bfa)"></i><i style="background:linear-gradient(#4331c7,#4230c4,#463bdd,#463bdd,#4536d5,#4849ed,#4758f8,#484ef1,#4332ca,#4539d8,#463bdc,#463adc,#463ee1,#4539d9,#4536d2,#4539d9,#463cde,#4538d8,#4433cb,#4330c5,#412ebe,#4433cc,#463ada,#4331c6,#402ab5,#4331c8,#463adc,#3f29b2,#4538d8,#463bdd,#4853f4,#473ee1,#4743e7,#463ada,#4331c7,#4331c6,#463de0,#4535d2,#4434ce,#4434ce,#465efb,#465ffb,#4849ec,#463bdd,#463ee1,#4332c9,#484df0,#475af9,#475af9,#475bfa)"></i><i style="background:linear-gradient(#4435d0,#4230c4,#4538d8,#4744e8,#4434cf,#4745ea,#4747eb,#4537d6,#473fe2,#4538d7,#4434cf,#463cdf,#463cdf,#4538d7,#463cde,#463adc,#4539d9,#4537d5,#4331c8,#4230c4,#412ebd,#4331c8,#4539d9,#4330c5,#402ab4,#422fc2,#4539d9,#3e27ac,#4537d5,#4538d8,#4850f3,#463cdf,#4743e7,#4639da,#4331c6,#4230c4,#463de0,#4536d3,#4434ce,#4433cc,#465efb,#465ffb,#4848ec,#463bdc,#463ee1,#4332c9,#484df0,#475af9,#475af9,#475bfa)"></i><i style="background:linear-gradient(#4747eb,#4740e3,#4745e9,#463ee1,#4743e7,#484ef1,#4746ea,#4536d3,#463cde,#4433cc,#412cba,#4538d8,#4536d3,#4332ca,#473fe2,#4538d8,#4434cf,#4435d0,#422fc2,#422fc2,#412dbc,#4230c4,#4538d8,#4230c4,#402ab3,#412ebd,#4537d6,#3f28ae,#4536d2,#4536d3,#484ef1,#463adc,#4743e7,#4639da,#4330c5,#422fc3,#463de0,#4536d4,#4434cd,#4433cb,#465efb,#465ffb,#4747ec,#463adb,#463ee1,#4332ca,#484df0,#475af9,#475af9,#475bfa)"></i><i style="background:linear-gradient(#412ebd,#4434ce,#4536d3,#4537d6,#4434ce,#463cdf,#4744e8,#4331c7,#4537d6,#4434cf,#412dbc,#4535d2,#4435d1,#4332c9,#4740e3,#4435d0,#422fc2,#4332cb,#412dbb,#422ebe,#412cb9,#422ec0,#4538d7,#422fc3,#3f29b2,#412cb9,#4536d5,#402ab4,#4435d0,#4434ce,#484cf0,#4539d8,#4743e7,#4639d9,#4230c3,#422fc1,#463ddf,#4537d5,#4433cd,#4332ca,#465dfb,#465efb,#4747eb,#463ada,#463ee1,#4433cb,#484df1,#475af9,#475af9,#475bfa)"></i><i style="background:linear-gradient(#422fc1,#4435d0,#463bdc,#4740e3,#463de0,#473fe2,#4740e4,#4434cf,#4537d7,#4433cc,#3f29b1,#4536d4,#463cde,#463bdc,#4740e4,#4433cb,#412cba,#4331c6,#402ab4,#412dbb,#402bb6,#412dbb,#4537d6,#422fc2,#3f29b1,#402ab5,#4536d3,#412cb9,#4434ce,#4332c9,#484bee,#4537d5,#4743e7,#4539d9,#422fc2,#422ebf,#463ddf,#4537d6,#4433cd,#4332c9,#465dfa,#465efb,#4746eb,#4639da,#463ee1,#4433cc,#484ef1,#475af9,#475af9,#475bfa)"></i><i style="background:linear-gradient(#4433cb,#4538d8,#4538d7,#4230c3,#463de0,#463bde,#4331c7,#463adb,#4539d9,#4331c8,#4330c5,#463adb,#4742e6,#4743e7,#4740e3,#4433cc,#422ebe,#4330c4,#3f29b0,#402bb7,#402ab4,#412cb8,#4537d5,#422fc1,#3f29b1,#3f29b1,#4536d3,#412ebd,#4433cc,#4230c4,#4849ed,#4435d1,#4743e7,#4539d8,#422fc1,#412ebe,#463cdf,#4538d7,#4433cd,#4331c8,#465dfa,#465efb,#4746ea,#4539d9,#463ee1,#4433cd,#484ef1,#475af9,#4759f9,#475bfa)"></i><i style="background:linear-gradient(#422fc2,#422fc2,#412dbb,#422ec0,#4537d6,#463de0,#4433cb,#422fc3,#4435d1,#402bb6,#4536d4,#4538d8,#473fe2,#4743e7,#463cdf,#4434cf,#4332c9,#4331c7,#402ab3,#402ab4,#4029b3,#402bb7,#4537d5,#422fc1,#3f29b1,#3f28af,#4536d3,#422fc2,#4332ca,#422ebe,#4747eb,#4433cc,#4743e7,#4538d8,#422ec0,#412dbc,#463cdf,#4539d8,#4433cd,#4331c7,#475dfa,#465efb,#4745ea,#4538d8,#463ee1,#4434ce,#484ef1,#475af9,#4759f8,#475bfa)"></i><i style="background:linear-gradient(#4536d3,#4433cc,#4435d2,#463ada,#473ee2,#463bdd,#4435d1,#4332c8,#463cde,#4639da,#463adc,#422fc1,#4538d7,#463de0,#4536d4,#4433cc,#4435d2,#4433cc,#412cba,#4029b2,#402ab4,#412cb9,#4536d5,#422fc2,#402ab3,#3f29b1,#4536d4,#4331c6,#4332c9,#412cba,#4746ea,#4331c8,#4743e7,#4538d8,#422ebe,#412dbb,#463cdf,#4639d9,#4433cd,#4331c6,#475cfa,#465dfb,#4745e9,#4538d7,#463ee1,#4434cf,#484ef1,#475af9,#4759f8,#475bfa)"></i><i style="background:linear-gradient(#4435d1,#463de0,#4537d6,#4434cf,#463cdf,#422fc1,#4435d2,#473fe2,#4741e5,#4744e8,#4740e4,#422fc2,#4433cd,#4536d4,#4230c4,#4331c6,#4538d7,#4536d2,#422fc2,#402bb6,#402bb7,#412dbd,#4537d5,#4230c4,#402ab5,#402ab5,#4537d5,#4332ca,#4331c7,#402ab5,#4745e9,#4230c3,#4743e7,#4538d7,#412dbd,#412cb9,#463cdf,#463ada,#4433cd,#4330c5,#475cfa,#465dfa,#4744e9,#4537d6,#473ee1,#4434cf,#484ef1,#475af9,#4759f8,#475bfa)"></i><i style="background:linear-gradient(#412cba,#412cb9,#4332c9,#473fe2,#473ee1,#412dbd,#4332c9,#4639d9,#4330c4,#4741e5,#4745e9,#463adb,#4230c4,#4331c7,#422ebf,#4230c4,#4639da,#4539d9,#4433cb,#412dbd,#412dbc,#422fc2,#4537d5,#4331c6,#402bb8,#412cb9,#4537d7,#4433cd,#4331c7,#3f29b1,#4744e8,#422ebf,#4743e7,#4538d7,#412dbc,#402bb8,#463cdf,#463adb,#4433cd,#4230c4,#475cfa,#475dfa,#4744e8,#4537d6,#473ee1,#4435d0,#484ef1,#475af9,#4759f8,#475bf9)"></i><i style="background:linear-gradient(#422ebf,#412dbd,#4433cd,#4743e7,#4745ea,#4433cc,#412ebe,#4741e5,#473fe3,#463ddf,#4741e5,#4743e7,#412ebd,#422ec0,#4331c6,#4332c9,#4539d8,#463cde,#4537d5,#4331c7,#422fc2,#4331c6,#4537d6,#4332c8,#412dbb,#412ebe,#4539d9,#4434cf,#4331c6,#3e28ac,#4743e7,#412cba,#4743e7,#4537d7,#412dbb,#402bb6,#463cdf,#463bdc,#4433cd,#4230c3,#475cfa,#475cfa,#4743e8,#4537d5,#473ee1,#4435d1,#484ff2,#475af9,#4758f8,#475bf9)"></i><i style="background:linear-gradient(#484cf0,#4756f7,#4743e7,#4851f3,#484bee,#484aee,#4368fe,#337bfc,#3f6eff,#4741e5,#4747eb,#4850f3,#4434ce,#412ebd,#4435d0,#4433cd,#4435d1,#473fe2,#463cdf,#4536d4,#4332ca,#4332ca,#4537d6,#4433cc,#422ec0,#4230c4,#463adb,#4535d2,#4330c5,#3e27ab,#4742e6,#402bb6,#4743e7,#4537d6,#412cba,#402ab5,#463cdf,#463bdd,#4433cd,#4230c3,#475cfa,#475cfa,#4743e7,#4536d4,#473ee1,#4535d2,#484ff2,#475af9,#4758f8,#475bf9)"></i><i style="background:linear-gradient(#02bac3,#02bac3,#1ea8e0,#10b2d5,#249fe5,#347afd,#327cfc,#2994ed,#2b91ef,#3e70ff,#4563fc,#465ffb,#4639da,#412cba,#4538d8,#4433cc,#4331c6,#4741e5,#4742e6,#463cde,#4435d0,#4433cd,#4537d5,#4434ce,#4230c4,#4332c9,#463bde,#4536d4,#4330c5,#3f28ae,#4741e5,#402ab3,#4743e7,#4537d6,#412cb9,#402ab4,#463cdf,#463cde,#4434cd,#422fc2,#475bfa,#475cfa,#4742e7,#4536d3,#473ee1,#4536d3,#484ff2,#4759f9,#4758f8,#475bf9)"></i><i style="background:linear-gradient(#426afe,#416bfe,#475dfa,#2d8df2,#307ffb,#4745e9,#473fe2,#4563fd,#317dfc,#3875fe,#4269fe,#406dfe,#4744e8,#4433cd,#463ddf,#4433cc,#422fc2,#4743e7,#4747eb,#4742e6,#4537d5,#4434cd,#4536d4,#4435d1,#4332c9,#4434cf,#463de0,#4537d6,#4230c4,#3f29b1,#4741e5,#4029b3,#4743e7,#4537d6,#402bb8,#402ab3,#463cdf,#463cdf,#4434ce,#422fc2,#475bf9,#475bfa,#4742e6,#4535d2,#473ee2,#4536d4,#484ff2,#4759f9,#4758f8,#475bf9)"></i><i style="background:linear-gradient(#4435d1,#4331c6,#4433cc,#4747eb,#4536d4,#4434cf,#463de0,#4538d7,#475cfa,#4850f3,#4756f7,#3579fd,#4759f8,#4743e7,#4742e6,#4537d5,#4433cc,#4743e7,#484cef,#4848ec,#4538d8,#4433cd,#4536d3,#4536d4,#4433cd,#4536d4,#473fe2,#4538d7,#4230c4,#402ab5,#4741e5,#402ab4,#4743e7,#4537d6,#402bb6,#3f29b2,#463cdf,#463de0,#4434ce,#422fc2,#475bf9,#475bf9,#4742e6,#4435d1,#473ee2,#4536d4,#484ff2,#4759f9,#4758f8,#475bf9)"></i><i style="background:linear-gradient(#4853f4,#4465fd,#3c72ff,#317efb,#3875fe,#3a73fe,#3c72ff,#406dfe,#3974fe,#4466fd,#4563fc,#3579fd,#4466fd,#484ff1,#4744e8,#463cdf,#4538d8,#4742e6,#484ff1,#484cf0,#4639d9,#4332cb,#4435d0,#4537d6,#4435d1,#4539d9,#4741e5,#4538d8,#4230c4,#402bb8,#4741e4,#402bb7,#4743e7,#4537d5,#402ab5,#3f29b1,#463cdf,#463ee1,#4434ce,#422fc2,#475bf9,#475bf9,#4741e5,#4435d0,#473ee2,#4537d5,#4850f2,#4759f9,#4757f7,#475bf9)"></i><i style="background:linear-gradient(#463adb,#484ff2,#4854f6,#4660fc,#3776fe,#3876fe,#4466fd,#4563fc,#3876fe,#3678fd,#4466fd,#4562fc,#465efb,#484cef,#4740e3,#4741e4,#463ada,#473fe2,#4850f3,#484ff2,#4538d8,#4331c6,#4433cd,#4538d7,#4537d5,#463bdd,#4743e7,#4639d9,#4230c3,#412dbb,#4741e4,#412dbc,#4743e7,#4537d5,#402ab4,#3f29b1,#463ddf,#473ee1,#4434ce,#422fc2,#475af9,#475bf9,#4741e4,#4434cf,#473fe2,#4537d6,#4850f2,#4759f8,#4757f7,#475bf9)"></i><i style="background:linear-gradient(#4537d5,#4435d0,#422fc1,#4434ce,#4330c5,#4538d7,#4332c9,#4230c3,#484ef1,#4759f8,#4747eb,#4740e4,#484bef,#4740e3,#4536d5,#4741e5,#4536d4,#463bdd,#4851f3,#4850f3,#4537d6,#422fc2,#4332c9,#4539d8,#4538d8,#463de0,#4744e9,#4639da,#422fc3,#412ebe,#4741e5,#422ec0,#4744e8,#4537d5,#402ab4,#3f29b1,#463ddf,#473fe2,#4434cf,#422fc2,#475af9,#475af9,#4740e4,#4434ce,#473fe2,#4538d7,#4850f3,#4759f8,#4757f7,#475bf9)"></i><i style="background:linear-gradient(#4537d5,#4434ce,#4639d9,#4535d2,#4433cb,#412ebd,#412dbc,#422ec0,#463cde,#463cde,#422fc2,#402bb6,#463cde,#4539d9,#4332c9,#4741e5,#4332c9,#4538d8,#4850f2,#4850f2,#4435d1,#412dbd,#4330c5,#4539d9,#463ada,#4740e3,#4746ea,#463adb,#422fc2,#422fc0,#4741e5,#4230c4,#4744e8,#4537d5,#402ab3,#3f29b2,#463de0,#473fe3,#4434cf,#422fc2,#475af9,#475af9,#4740e3,#4433cd,#473fe2,#4538d7,#4850f3,#4759f8,#4757f7,#475bf9)"></i><i style="background:linear-gradient(#4537d6,#4747eb,#4743e7,#4435d1,#4433cd,#412dbc,#4331c8,#4537d6,#4537d6,#422fc2,#3f29af,#412cba,#4537d6,#463cdf,#4536d4,#4741e5,#4433cc,#4639d9,#484ef1,#484ef1,#4433cc,#412cb9,#422fc2,#4539d9,#463bdc,#4742e6,#4747ec,#463adb,#422fc1,#4230c3,#4741e5,#4332c8,#4744e8,#4537d5,#3f29b2,#402ab3,#463de0,#4740e4,#4434d0,#422fc3,#475af9,#475af9,#473fe3,#4433cc,#473fe2,#4538d8,#4850f3,#4759f8,#4757f7,#475bf9)"></i><i style="background:linear-gradient(#463de0,#484cf0,#463bdc,#473fe2,#422ec0,#4330c5,#422fc1,#463de0,#4536d4,#402bb8,#422ebf,#422fc2,#4537d6,#4741e5,#463ddf,#4742e6,#463adc,#463cdf,#484bef,#484cef,#4331c7,#402bb7,#422fc0,#4539d9,#463bdd,#4743e7,#4849ed,#463adb,#422ec0,#4330c5,#4742e6,#4433cc,#4745e9,#4537d5,#3f29b2,#402ab4,#463de0,#4741e4,#4435d0,#4230c3,#475af9,#4759f9,#473fe2,#4433cb,#473fe2,#4539d9,#4851f3,#4759f8,#4756f7,#475bf9)"></i><i style="background:linear-gradient(#465ffb,#406cfe,#4563fd,#475bf9,#484cf0,#4745e9,#4743e7,#4745e9,#4740e4,#4435d1,#4331c6,#402ab6,#4537d5,#4742e6,#463cde,#4741e6,#4743e7,#473fe3,#4746eb,#4849ed,#4230c3,#402bb7,#422fc2,#4538d7,#463bdd,#4745e9,#484aee,#463adb,#422ebf,#4331c7,#4742e6,#4435d0,#4745e9,#4537d5,#3f29b2,#402ab5,#463ee1,#4741e5,#4435d0,#4230c4,#475af9,#4759f8,#473ee1,#4332ca,#473fe2,#4639da,#4851f3,#4759f8,#4756f7,#475bf9)"></i><i style="background:linear-gradient(#4536d3,#4230c3,#4331c7,#4538d7,#4435d2,#4536d4,#4435d0,#4538d8,#4740e3,#4537d5,#4332c8,#402bb7,#4537d6,#473fe3,#4434cd,#473fe2,#4746ea,#473fe3,#4741e5,#4746ea,#422fc2,#412cba,#4331c6,#4537d5,#463bdd,#4746ea,#484bee,#463adb,#412dbd,#4332c9,#4743e7,#4536d4,#4746ea,#4537d5,#3f29b2,#402bb7,#473ee1,#4742e6,#4435d1,#4230c4,#4759f9,#4759f8,#463ee1,#4332c9,#473fe2,#463ada,#4851f3,#4759f8,#4756f7,#475bf9)"></i><i style="background:linear-gradient(#4435d1,#4435d1,#4331c7,#412dbb,#4433cc,#4537d5,#4535d2,#4434d0,#4435d1,#412dbb,#4332ca,#4332ca,#4539d9,#463cdf,#402ab4,#463cde,#4744e8,#463cdf,#463bdd,#4743e7,#4330c5,#422ebf,#4332cb,#4535d2,#463adc,#4746ea,#484bef,#463adb,#412dbb,#4433cb,#4743e8,#4538d7,#4746ea,#4537d6,#3f29b2,#412cb8,#473ee2,#4742e6,#4435d1,#4330c5,#4759f9,#4758f8,#463de0,#4332c8,#473fe2,#463adb,#4851f3,#4759f8,#4756f6,#475bf9)"></i><i style="background:linear-gradient(#412ebe,#422ebf,#4434d0,#4434cf,#4639da,#463cde,#4433cc,#4332ca,#422fc0,#412cb9,#4332c9,#4230c3,#4639d9,#463ddf,#422fc2,#463bdc,#473fe3,#4537d7,#4435d1,#4741e5,#4433cd,#4331c7,#4435d0,#4434ce,#4639da,#4746eb,#484cef,#463ada,#412cba,#4433cd,#4744e8,#4639da,#4747eb,#4537d6,#402ab3,#412cba,#473fe2,#4743e7,#4535d2,#4331c5,#4759f8,#4758f8,#463de0,#4331c7,#473fe2,#463adc,#4851f3,#4759f8,#4755f6,#475bf9)"></i><i style="background:linear-gradient(#4435d0,#463adb,#4539d9,#4331c7,#4536d4,#4537d6,#412cb9,#422fc2,#412cba,#4434d0,#4434ce,#402ab4,#4539d9,#463de0,#4537d5,#463ada,#4539d9,#4433cd,#4230c3,#473fe2,#4537d6,#4435d0,#4537d5,#4332c9,#4538d8,#4746ea,#484cf0,#4639da,#402bb8,#4434cf,#4745e9,#463bdd,#4747eb,#4537d6,#402ab4,#412dbc,#473fe3,#4744e8,#4536d3,#4331c6,#4759f8,#4758f8,#463ddf,#4331c6,#473fe3,#463bdc,#4851f4,#4759f8,#4755f6,#475bf9)"></i><i style="background:linear-gradient(#412cb9,#4330c5,#422fc2,#412dbb,#4433cd,#4332c9,#4434ce,#4537d5,#4537d5,#463ee1,#463ee1,#4435d2,#4536d5,#463adb,#463adb,#4538d7,#4332c9,#4330c5,#402bb7,#463ddf,#473ee1,#463adc,#4639da,#4230c3,#4537d6,#4745ea,#484cf0,#4639da,#402ab5,#4435d0,#4745ea,#463cdf,#4848ec,#4538d7,#402ab5,#412ebe,#4740e3,#4744e8,#4536d3,#4331c7,#4759f8,#4757f8,#463cdf,#4330c5,#473fe3,#463bdd,#4852f4,#4759f8,#4755f6,#475bf9)"></i><i style="background:linear-gradient(#4435d2,#4536d3,#422fc0,#402ab3,#4433cc,#4433cc,#4434ce,#4331c8,#4331c7,#473fe2,#4747eb,#463bdc,#4331c6,#4433cd,#4539d8,#4536d3,#402bb8,#4230c4,#402ab3,#463cde,#4746ea,#4741e5,#463cde,#412dbd,#4536d3,#4744e8,#484cf0,#4639d9,#402ab3,#4435d2,#4746ea,#463ee1,#4848ec,#4538d7,#402bb6,#422ebf,#4740e4,#4745e9,#4536d4,#4331c8,#4759f8,#4757f7,#463cde,#4230c4,#473fe3,#463cde,#4852f4,#4759f8,#4755f6,#475bf9)"></i><i style="background:linear-gradient(#4330c5,#4435d1,#463cdf,#473ee1,#4744e8,#463ddf,#4332cb,#402bb8,#412cb8,#463adb,#4849ed,#4539d9,#402ab4,#412dbb,#4536d2,#4435d0,#3f28af,#4331c7,#3f29b2,#463de0,#484ff1,#4848ec,#473ee1,#402bb7,#4435d1,#4743e7,#484cef,#4639da,#3f29b2,#4536d3,#4747eb,#473fe3,#4849ed,#4538d8,#402bb8,#422fc1,#4741e5,#4745e9,#4536d4,#4332c9,#4759f8,#4757f7,#463bdd,#4230c3,#473fe3,#463cde,#4852f4,#4759f8,#4855f6,#475bf9)"></i><i style="background:linear-gradient(#422ebe,#412dbd,#4331c7,#4434cf,#463ee1,#4435d1,#422fc1,#402bb7,#402bb6,#4538d8,#4747ec,#4536d3,#3f28ad,#3f28af,#4434ce,#4435d0,#422fc1,#4433cd,#3f28ae,#4742e6,#4758f8,#4850f2,#4741e4,#402ab5,#4434cf,#4741e5,#484bef,#4639da,#3f29b2,#4536d4,#4747eb,#4740e4,#4849ed,#4538d8,#412cb9,#4230c3,#4741e5,#4746ea,#4537d5,#4332ca,#4759f8,#4757f7,#463bdd,#422fc2,#473fe3,#463cdf,#4852f4,#4759f8,#4854f6,#475bf9)"></i><i style="background:linear-gradient(#4741e5,#4538d8,#4740e4,#4433cc,#473ee2,#4758f8,#4755f6,#4745ea,#4538d8,#4744e8,#4745e9,#4434cd,#3f28af,#402ab3,#4434ce,#4434ce,#4538d7,#4538d8,#412cb9,#484cef,#4562fc,#4758f8,#4743e7,#402bb7,#4433cd,#473fe2,#484bee,#463adb,#402ab4,#4537d5,#4848ec,#4741e5,#484aee,#4539d9,#412dbb,#4330c5,#4742e6,#4747eb,#4537d6,#4332cb,#4758f8,#4756f7,#463adc,#422fc1,#4740e3,#463de0,#4852f4,#4758f8,#4854f5,#475bf9)"></i><i style="background:linear-gradient(#327cfc,#3678fd,#406dfe,#4561fc,#4563fc,#3974fe,#3479fd,#4367fd,#475af9,#484ef1,#463cdf,#4331c6,#3f28ad,#422fc1,#4536d3,#4331c6,#4743e8,#4741e5,#4535d2,#4758f8,#406dfe,#465efb,#4746ea,#412dbc,#4433cc,#463ddf,#484aee,#463adc,#402bb6,#4537d6,#4848ec,#4742e6,#484aee,#4639da,#412dbd,#4331c7,#4742e7,#4747eb,#4537d6,#4433cb,#4758f8,#4756f7,#463adb,#422fc0,#4740e3,#463de0,#4853f4,#4758f8,#4854f5,#475bf9)"></i><i style="background:linear-gradient(#463cdf,#484bee,#4537d6,#4742e6,#4435d1,#4746eb,#4851f3,#4849ed,#475af9,#4747eb,#4331c7,#412dbd,#412dbd,#463bdd,#463bde,#4332ca,#4853f5,#484ff2,#4746ea,#4367fd,#3777fe,#4465fd,#4848ec,#422fc1,#4433cb,#463adc,#484aed,#463bdd,#412cb9,#4538d7,#4848ec,#4743e7,#484bef,#463adb,#422ebf,#4332c9,#4743e7,#4848ec,#4538d7,#4433cc,#4758f8,#4756f6,#463adb,#422ebf,#4740e3,#463ee1,#4853f5,#4758f8,#4854f5,#475bf9)"></i><i style="background:linear-gradient(#4537d6,#4434d0,#4435d2,#4330c5,#4230c3,#463bdc,#463bdd,#4435d1,#484df0,#4747ec,#4330c5,#4433cc,#4747eb,#4759f8,#484ff2,#4746ea,#4466fd,#4561fc,#4759f8,#3678fe,#307ffb,#426afe,#484aee,#4330c5,#4332ca,#4538d7,#4849ed,#463cde,#412dbc,#4538d7,#4848ec,#4744e8,#484cef,#463adb,#422fc0,#4433cb,#4744e8,#4848ec,#4538d7,#4433cd,#4758f8,#4755f6,#4639da,#412ebe,#4740e3,#473ee1,#4853f5,#4758f8,#4853f5,#475bf9)"></i><i style="background:linear-gradient(#4535d2,#4539d9,#4535d2,#422fc1,#4332c9,#4741e5,#4433cc,#4639da,#475dfa,#337bfc,#465efb,#4466fd,#307ffb,#2d89f6,#3a73fe,#4464fd,#337bfd,#3975fe,#406dfe,#2e85f8,#2e85f8,#3f6eff,#484cef,#4332c9,#4332c9,#4435d2,#4848ec,#463de0,#422ebf,#4538d8,#4849ed,#4744e8,#484cf0,#463bdc,#422fc2,#4433cd,#4744e8,#4849ed,#4538d8,#4434ce,#4758f8,#4755f6,#4639d9,#412dbd,#4740e3,#473fe2,#4853f5,#4758f8,#4853f5,#475bf9)"></i><i style="background:linear-gradient(#4661fc,#2e85f8,#22a1e4,#259de7,#1abfb5,#44cb8a,#26c2ac,#24c1ae,#46cb87,#52cc7e,#14beb8,#01b8ca,#02bac4,#03b7cc,#259de7,#2e84f9,#2d8af5,#2e85f8,#307ffb,#2c8ff0,#2d89f5,#3d71ff,#484cf0,#4433cb,#4331c8,#4332cb,#4848ec,#473fe2,#4230c3,#4538d8,#4849ed,#4745e9,#484df0,#463bdd,#4330c5,#4434cf,#4745e9,#4849ed,#4539d9,#4434cf,#4758f8,#4755f6,#4539d9,#412dbc,#4740e4,#473fe2,#4853f5,#4758f8,#4853f5,#475bf9)"></i><i style="background:linear-gradient(#f9fb15,#f9fb15,#f9fb15,#f9fb15,#f9fb15,#f9fb15,#f9fb15,#f7f41c,#f6df29,#e0bc2a,#79cc5e,#3bc993,#3dc990,#2fc5a3,#17aeda,#2d8df2,#2d8bf4,#2d8cf3,#2d88f6,#2a93ee,#2d89f5,#3c71ff,#484cef,#4433cc,#4331c7,#4230c4,#4747eb,#4740e4,#4331c7,#4539d8,#4849ec,#4745e9,#484df0,#463cde,#4331c7,#4435d1,#4746ea,#484aee,#4639d9,#4434d0,#4758f8,#4855f6,#4538d8,#412dbb,#4740e4,#4740e3,#4854f5,#4758f8,#4853f4,#475bf9)"></i><i style="background:linear-gradient(#2e83f9,#23a1e5,#07b5cf,#1caadf,#0bbdbd,#48cb86,#18aedb,#4ecc81,#83cc57,#04bbc1,#0abdbd,#0fb2d4,#2dc4a5,#29c3aa,#1caadf,#2f82fa,#307ffb,#2d8bf4,#2d8af5,#2c90f0,#2e87f7,#3e70ff,#484aee,#4433cb,#4331c6,#412dbd,#4747eb,#4742e6,#4332ca,#4539d8,#4848ec,#4745e9,#484df1,#463ddf,#4332c9,#4536d3,#4746eb,#484aee,#4639da,#4435d1,#4758f8,#4854f5,#4538d7,#412cba,#4740e4,#4740e4,#4854f5,#4758f8,#4852f4,#475bf9)"></i><i style="background:linear-gradient(#475cfa,#3875fe,#317efb,#4759f8,#2e87f7,#465efb,#465dfa,#269ae8,#249fe5,#484aee,#3080fb,#4757f7,#1aacdd,#14b0d8,#2a93ed,#4466fd,#4465fd,#2f82f9,#2e84f8,#2d88f6,#2f82fa,#406dfe,#4848ec,#4332ca,#4330c5,#402bb6,#4747eb,#4743e7,#4434ce,#4538d8,#4848ec,#4745e9,#484ef1,#463de0,#4433cb,#4537d5,#4747eb,#484bef,#463ada,#4435d1,#4758f8,#4854f5,#4538d7,#412cb9,#4740e4,#4740e4,#4854f5,#4758f8,#4852f4,#475bf9)"></i><i style="background:linear-gradient(#3777fe,#2b91ef,#12b1d7,#0eb2d4,#02bac4,#15afd9,#269ae9,#2994ed,#2d8bf4,#406cfe,#3c72ff,#484ef1,#2e83f9,#2f81fa,#3c72ff,#484bef,#484bef,#3974fe,#3579fd,#3479fd,#337afd,#4269fe,#4745e9,#4331c7,#4330c5,#3f29b0,#4747eb,#4745e9,#4435d1,#4538d8,#4848ec,#4744e8,#484ef1,#463ee1,#4433cd,#4538d7,#4848ec,#484bef,#463adb,#4535d2,#4758f8,#4854f5,#4537d6,#402bb8,#4740e4,#4741e5,#4854f5,#4758f8,#4852f4,#475bf9)"></i><i style="background:linear-gradient(#4755f6,#4850f3,#4742e7,#463adb,#3677fe,#2b91ef,#4758f8,#4741e5,#484df1,#3f6dfe,#3b72ff,#4660fb,#475bfa,#4848ec,#4851f3,#463cdf,#4639da,#4563fd,#4368fe,#4563fd,#3e6fff,#4563fd,#4741e5,#4230c3,#4330c5,#3f29b0,#4747eb,#4746eb,#4536d4,#4538d8,#4747eb,#4744e8,#484ff2,#473fe2,#4434d0,#4539d8,#4848ec,#484cef,#463adb,#4536d3,#4758f8,#4853f5,#4537d5,#402bb7,#4740e4,#4741e5,#4854f6,#4758f8,#4852f4,#475af9)"></i><i style="background:linear-gradient(#4755f6,#475af9,#4742e6,#463cdf,#484df1,#4759f8,#4639da,#422ec0,#4332ca,#4851f3,#4757f7,#484ef1,#4747eb,#412cbb,#463de0,#463ada,#4538d7,#4755f6,#4759f8,#4850f2,#4465fd,#465efb,#463ee1,#422ebf,#4331c6,#402bb6,#4747eb,#4848ec,#4537d6,#4538d7,#4747eb,#4743e7,#484ff2,#473fe3,#4435d2,#4639da,#4849ed,#484cf0,#463adc,#4536d4,#4758f8,#4853f5,#4537d5,#402bb6,#4741e4,#4742e6,#4854f6,#4758f8,#4851f4,#475af9)"></i><i style="background:linear-gradient(#4435d0,#4332c8,#402ab4,#402bb7,#4435d1,#473ee1,#412ebe,#4330c4,#4538d7,#463bdd,#4639da,#4434ce,#463cdf,#412dbc,#4433cb,#4536d3,#4639da,#484aed,#484df0,#463cdf,#475cfa,#4758f8,#463bdc,#412cba,#4331c7,#412dbd,#4747ec,#484aed,#4538d8,#4537d6,#4746ea,#4742e6,#484ff2,#4740e4,#4536d4,#463adc,#484aee,#484df0,#463bdc,#4536d4,#4758f8,#4853f5,#4536d4,#402ab5,#4741e4,#4742e6,#4755f6,#4758f8,#4851f3,#475af9)"></i><i style="background:linear-gradient(#4433cd,#4536d3,#4230c4,#4332c8,#463adb,#463bdd,#422ec0,#412dbb,#4537d5,#4330c5,#4331c6,#412cb9,#4537d6,#422fc2,#412dbc,#4331c8,#4537d6,#473fe3,#4745e9,#4230c3,#4853f5,#4852f4,#4538d8,#402bb6,#4332c8,#4230c3,#4848ec,#484bef,#4639da,#4537d5,#4745e9,#4741e5,#4850f2,#4741e5,#4537d6,#463bdd,#484bee,#484df1,#463bdd,#4537d5,#4758f8,#4853f4,#4536d3,#402ab4,#4741e5,#4743e7,#4755f6,#4758f8,#4851f3,#475af9)"></i><i style="background:linear-gradient(#4435d0,#4745e9,#4740e4,#4435d1,#422ebf,#4537d6,#4435d1,#4433cb,#463bdc,#463adb,#4538d7,#4433cc,#4435d0,#412dbb,#402bb6,#422fc0,#4433cd,#4538d7,#4741e5,#412cb9,#484cef,#484cf0,#4536d4,#402ab3,#4332ca,#4332ca,#4849ed,#484cf0,#463adb,#4536d3,#4744e8,#4740e4,#4850f2,#4742e6,#4538d8,#463cdf,#484bef,#484ef1,#463bdd,#4537d6,#4758f8,#4852f4,#4536d3,#402ab3,#4741e5,#4743e7,#4755f6,#4757f8,#4851f3,#475af9)"></i><i style="background:linear-gradient(#4539d9,#4434d0,#463cdf,#4537d5,#4435d0,#422ebf,#4435d2,#412dbb,#4742e6,#4855f6,#4747eb,#4230c4,#4435d1,#402ab4,#412ebe,#4331c6,#4230c4,#4434cf,#473fe3,#4332c8,#4745e9,#4746ea,#4435d1,#402ab4,#4433cc,#4434cf,#4849ed,#484ef1,#463bdc,#4435d1,#4743e8,#473fe2,#4850f2,#4742e7,#4639da,#463de0,#484cf0,#484ef1,#463cde,#4537d6,#4758f8,#4852f4,#4535d2,#3f29b2,#4741e5,#4743e8,#4755f6,#4757f7,#4850f3,#475af9)"></i><i style="background:linear-gradient(#4757f7,#4757f7,#484bef,#4744e8,#4747ec,#463ee1,#473ee1,#4435d1,#4851f3,#416bfe,#4852f4,#412ebd,#463bdd,#4332ca,#4434cf,#4535d2,#4332c9,#4435d0,#473fe2,#4435d2,#4740e4,#4740e4,#4434cf,#402bb7,#4433cd,#4536d4,#484aee,#484ff2,#463bde,#4434cf,#4743e7,#463ee1,#4850f3,#4743e7,#463adc,#473ee2,#484df0,#484ff2,#463cde,#4538d7,#4758f8,#4852f4,#4435d1,#3f29b1,#4741e5,#4744e8,#4755f6,#4757f7,#4850f3,#475af9)"></i><i style="background:linear-gradient(#4536d4,#463bdc,#4744e8,#4563fc,#4850f3,#4747eb,#484ff2,#463de0,#416bfe,#3876fe,#465ffb,#4849ed,#484df0,#4743e7,#463ee1,#463bdd,#4537d6,#4538d7,#463ee1,#4536d5,#463cdf,#463bdd,#4434cd,#412cba,#4434ce,#4538d7,#484aee,#4850f3,#463cde,#4433cd,#4742e6,#463cdf,#4850f3,#4744e8,#463cde,#473fe3,#484ef1,#484ff2,#463cdf,#4538d7,#4758f8,#4852f4,#4435d1,#3f29b0,#4741e5,#4744e8,#4756f6,#4757f7,#4850f2,#475af9)"></i><i style="background:linear-gradient(#10b2d5,#0ab4d1,#02bac3,#17aeda,#2895ec,#3d71ff,#4367fd,#317dfc,#2f81fa,#4759f9,#475af9,#4464fd,#4562fc,#4854f6,#4747eb,#4740e4,#463de0,#463cde,#463cdf,#4435d2,#4639d9,#4537d5,#4433cc,#412ebe,#4434d0,#4539d9,#484bef,#4851f3,#463cdf,#4332ca,#4741e5,#463bdd,#4850f3,#4745e9,#463ddf,#4740e4,#484ef1,#4850f2,#463cdf,#4538d8,#4758f8,#4851f3,#4435d0,#3f28af,#4741e5,#4745e9,#4756f6,#4757f7,#484ff2,#475af9)"></i><i style="background:linear-gradient(#4745e9,#426afe,#2e87f7,#4852f4,#327cfc,#465ffb,#4756f7,#2e86f7,#317dfc,#4743e7,#484ff1,#416bfe,#406cfe,#475bf9,#4849ed,#4740e4,#4741e5,#463ee1,#463adb,#4332cb,#4536d4,#4433cc,#4332c9,#422fc1,#4435d0,#463ada,#484bef,#4852f4,#463ddf,#4331c8,#4740e4,#4639da,#4850f3,#4745ea,#463ee1,#4741e6,#484ff2,#4850f3,#463ddf,#4539d8,#4758f8,#4851f3,#4434cf,#3f28ae,#4741e5,#4745e9,#4756f7,#4757f7,#484ff2,#475af9)"></i><i style="background:linear-gradient(#4537d6,#4740e4,#4740e4,#484bef,#484bee,#484ff2,#475bf9,#4757f7,#4660fc,#4854f5,#4848ec,#4759f8,#4562fc,#4852f4,#4741e5,#463adb,#4741e4,#473ee1,#4537d6,#422ebf,#4434cf,#4230c3,#4331c7,#4230c3,#4435d1,#463adb,#484bef,#4853f5,#463de0,#4230c4,#473fe2,#4538d7,#4850f3,#4746ea,#473fe3,#4743e7,#4850f2,#4850f3,#463de0,#4539d9,#4758f8,#4851f3,#4434ce,#3f28ad,#4741e5,#4746ea,#4756f7,#4757f7,#484ff2,#475af9)"></i><i style="background:linear-gradient(#4332c9,#422ebf,#3f29b1,#412cb9,#422fc1,#4332c8,#4740e3,#4432cb,#4744e8,#4744e8,#4331c8,#4742e6,#484ff2,#4741e5,#4537d6,#4332ca,#463de0,#463cdf,#4535d2,#402ab4,#4433cc,#412dbc,#4230c4,#4330c5,#4435d1,#463adb,#484bef,#4854f5,#463de0,#422fc1,#473ee1,#4536d4,#4850f3,#4747eb,#4740e4,#4744e8,#4850f3,#4851f3,#463de0,#4639d9,#4758f8,#4850f3,#4434ce,#3e27ac,#4742e6,#4746ea,#4756f7,#4757f7,#484ff2,#475af9)"></i><i style="background:linear-gradient(#4330c5,#4433cc,#422fc3,#402bb7,#402ab4,#412dbc,#463ddf,#473fe3,#463adb,#4434cf,#422fc1,#4639d9,#473ee1,#4332ca,#4331c7,#402bb7,#4539d9,#4639da,#4434cf,#3e28ad,#4332ca,#412cb9,#422fc2,#4330c5,#4435d0,#4639da,#484bee,#4755f6,#463de0,#412ebe,#463de0,#4435d0,#4850f3,#4848ec,#4741e5,#4745e9,#4851f3,#4851f3,#463de0,#4639da,#4758f8,#4850f3,#4433cd,#3e27ab,#4742e6,#4746eb,#4756f7,#4757f7,#484ef1,#475af9)"></i><i style="background:linear-gradient(#4332ca,#4230c4,#4331c7,#402ab3,#412cb9,#4538d8,#4744e8,#4435d2,#4332c9,#402bb7,#4434cf,#4538d8,#4536d3,#402ab3,#422fc0,#402ab5,#4435d0,#4535d2,#4434ce,#402ab5,#4332c9,#412cba,#422fc0,#4330c5,#4434cf,#4538d8,#484aee,#4755f6,#463de0,#412cba,#463ddf,#4433cd,#4850f3,#4848ec,#4743e7,#4746ea,#4852f4,#4852f4,#463ee0,#463ada,#4758f8,#4850f3,#4433cc,#3e27aa,#4742e6,#4747eb,#4757f7,#4757f7,#484ef1,#475af9)"></i><i style="background:linear-gradient(#4742e6,#4433cc,#463bde,#4742e6,#484cf0,#4853f5,#484df1,#463bdd,#4538d8,#4538d7,#4538d8,#4434ce,#4434d0,#412cbb,#412dbc,#412dbb,#4332c8,#4331c8,#4434ce,#412dbd,#4332c9,#412ebd,#422ebf,#4230c4,#4434ce,#4537d5,#4849ed,#4756f7,#463ee1,#402bb7,#463cdf,#4332c9,#4850f3,#4849ed,#4744e8,#4747eb,#4852f4,#4852f4,#463ee1,#463adb,#4758f8,#4850f2,#4433cc,#3e27aa,#4742e6,#4747eb,#4757f7,#4757f7,#484ef1,#475af9)"></i><i style="background:linear-gradient(#4433cb,#4331c6,#4538d7,#4536d2,#4747eb,#473fe3,#4536d4,#4743e7,#4745e9,#4742e6,#4539d8,#402ab3,#4536d3,#4330c5,#402ab4,#422ebf,#422fc1,#412ebd,#4434ce,#422fc2,#4332ca,#4230c3,#412dbd,#4230c3,#4433cb,#4435d1,#4848ec,#4757f7,#463ee1,#402ab3,#463bde,#4330c5,#4850f3,#484aed,#4745e9,#4848ec,#4853f5,#4852f4,#463ee1,#463adb,#4758f8,#4850f2,#4433cb,#3e27ab,#4742e6,#4848ec,#4757f7,#4757f7,#484df1,#475af9)"></i><i style="background:linear-gradient(#4330c4,#412dbb,#4433cc,#463ddf,#4744e8,#463cde,#4331c6,#4332c9,#4538d7,#463adb,#463adc,#4434ce,#463bdc,#4332ca,#3f28ad,#422fc2,#422ec0,#412cb9,#4434cd,#4230c3,#4433cb,#4331c8,#412dbb,#422fc2,#4332c9,#4433cd,#4747eb,#4757f7,#473ee1,#3f29b0,#463bdd,#422fc1,#4850f3,#484aee,#4746ea,#4848ec,#4854f5,#4853f4,#463ee1,#463adb,#4758f8,#484ff2,#4332ca,#3e27ab,#4742e6,#4848ec,#4757f7,#4756f7,#484df0,#475af9)"></i><i style="background:linear-gradient(#412cbb,#422ebe,#4332ca,#463cde,#4433cc,#4535d2,#402bb6,#402bb6,#4230c3,#402cb8,#463de0,#4745e9,#4741e5,#4535d2,#412cbb,#4331c6,#4230c4,#412dbd,#4433cd,#422fc0,#4434ce,#4433cd,#412cb9,#422fc2,#4331c6,#4331c7,#4746eb,#4758f8,#473fe2,#3f28af,#463bdd,#412ebe,#4850f3,#484bee,#4747eb,#4849ed,#4854f5,#4853f5,#473ee1,#463adc,#4758f8,#484ff2,#4332ca,#3e28ac,#4742e6,#4849ed,#4757f7,#4756f7,#484df0,#475af9)"></i><i style="background:linear-gradient(#4848ec,#4848ec,#463ee1,#484ef1,#4746ea,#4742e6,#463adb,#4537d5,#4536d4,#4435d2,#4745e9,#484ef1,#4742e6,#4538d7,#4330c5,#4332c9,#4433cb,#4230c3,#4433cd,#412cb9,#4435d1,#4536d2,#402bb8,#422fc2,#4230c3,#422fc2,#4746ea,#4759f8,#473fe2,#3f29b1,#463bdc,#412dbb,#4850f2,#484bef,#4848ec,#484aee,#4755f6,#4853f5,#473ee1,#463adc,#4758f8,#484ff2,#4332c9,#3f28ad,#4742e6,#4849ed,#4758f8,#4756f7,#484df0,#475af9)"></i><i style="background:linear-gradient(#4538d8,#463ee1,#4852f4,#484df0,#4537d5,#4538d8,#463ada,#463adb,#4434d0,#463bdd,#484df0,#484cf0,#4537d6,#4536d5,#4331c7,#4432cb,#4435d1,#4331c7,#4434ce,#3f28ad,#4537d5,#4538d8,#412cb9,#422fc3,#422ec0,#412dbb,#4746ea,#4759f9,#4740e3,#402ab5,#463bdc,#412cb9,#4850f2,#484cef,#4849ed,#484bef,#4755f6,#4853f5,#473ee1,#463bdc,#4758f8,#484ff1,#4332c8,#3f28ae,#4743e7,#4849ed,#4758f8,#4756f7,#484cf0,#475af9)"></i><i style="background:linear-gradient(#463ada,#4539d8,#463ee1,#4537d5,#402ab5,#402ab3,#412cb9,#4331c8,#402bb8,#4434d0,#484cf0,#4847ec,#412cb9,#4433cb,#422ebf,#4332ca,#4536d2,#4331c7,#4435d1,#402bb6,#463ada,#463cde,#422ebf,#4230c4,#412dbd,#402bb6,#4746ea,#475af9,#4740e4,#412cb8,#463bdd,#412cb9,#4850f2,#484cef,#484aee,#484cef,#4756f7,#4854f5,#473ee1,#463bdc,#4758f8,#484ef1,#4331c8,#3f28af,#4743e7,#484aee,#4758f8,#4756f7,#484cf0,#475af9)"></i><i style="background:linear-gradient(#4435d1,#4433cd,#412dbd,#412dbd,#402ab3,#412cba,#402bb8,#422ebf,#422ebf,#4331c6,#484ff2,#484ff2,#4332ca,#422fc1,#402ab5,#4433cb,#4435d1,#4330c5,#4538d7,#4331c8,#463de0,#473fe3,#4331c7,#4331c6,#412cba,#402ab3,#4746ea,#475bf9,#4741e5,#412dbc,#463bdd,#412cba,#484ff2,#484cf0,#484bee,#484df0,#4756f7,#4854f5,#473ee1,#463bdd,#4758f8,#484ef1,#4331c7,#3f29b0,#4743e7,#484aee,#4758f8,#4756f7,#484cef,#475af9)"></i><i style="background:linear-gradient(#4230c4,#4331c6,#4433cc,#4435d0,#4536d4,#463ddf,#4435d1,#4435d0,#4435d1,#463cde,#475cfa,#465efb,#4741e4,#412dbc,#412dbc,#4537d6,#4435d0,#4331c6,#463cdf,#4639d9,#4741e5,#4744e8,#4435d1,#4332c9,#402bb6,#402ab5,#4747eb,#475bfa,#4742e6,#422fc1,#463bde,#412dbc,#484ff2,#484df0,#484bef,#484df1,#4757f7,#4854f5,#473ee1,#463bdd,#4758f8,#484ef1,#4331c6,#3f29b1,#4743e7,#484bee,#4758f8,#4756f7,#484bef,#4759f9)"></i><i style="background:linear-gradient(#4562fc,#4758f8,#475bf9,#4742e6,#4758f8,#475bf9,#4746ea,#4536d4,#463ee1,#484ef1,#426afe,#4367fd,#4851f4,#4536d4,#4539d9,#4743e7,#4639da,#4435d1,#4742e7,#4742e6,#4745ea,#4849ed,#463adb,#4433cc,#3f29b2,#412cba,#4849ed,#475cfa,#4743e7,#4330c5,#463cde,#422ebe,#484ff2,#484df0,#484cf0,#484ef1,#4757f7,#4854f5,#473ee1,#463bdd,#4758f8,#484ef1,#4331c5,#3f29b2,#4743e7,#484bef,#4758f8,#4756f7,#484bef,#4759f9)"></i><i style="background:linear-gradient(#317efb,#4368fe,#465ffb,#4850f2,#484df0,#4743e8,#463cde,#412cbb,#4332c9,#4746ea,#3f6fff,#4851f4,#4269fe,#475bf9,#4757f7,#4758f8,#4747eb,#473ee2,#484aee,#484bef,#4849ed,#4850f3,#4741e5,#4434d0,#3f28ae,#422fc2,#484bef,#475cfa,#4744e9,#4332c9,#463ddf,#422fc2,#484ff2,#484df0,#484df0,#484ff2,#4758f8,#4854f6,#473ee1,#463bdd,#4758f8,#484ef1,#4330c5,#402ab3,#4743e7,#484bef,#4759f8,#4756f6,#484bee,#4759f9)"></i><i style="background:linear-gradient(#422ebe,#4332c8,#422ec0,#4331c6,#4331c7,#4537d5,#4747eb,#422ec0,#4743e7,#4367fd,#307ffb,#463adc,#2d8af4,#2d8cf3,#317dfc,#3f6dfe,#4756f6,#4848ec,#4850f2,#4850f3,#484bef,#4757f7,#4849ed,#4536d4,#3f28af,#4332ca,#484ef1,#465dfa,#4746ea,#4434ce,#463ee0,#4330c5,#484ff1,#484df0,#484ef1,#4850f2,#4758f8,#4855f6,#473ee1,#463bdd,#4759f8,#484df1,#4230c4,#402ab4,#4743e7,#484cef,#4759f8,#4756f6,#484bee,#4759f9)"></i><i style="background:linear-gradient(#475bfa,#4464fd,#2f80fa,#3876fe,#2796eb,#04b6cc,#15afd9,#2a93ee,#1da8e0,#01b8c9,#12b1d6,#2c8ff1,#19addc,#17aeda,#269be8,#2f80fa,#465ffb,#484ef1,#4755f6,#4852f4,#484cef,#465dfb,#4850f3,#4538d8,#402ab4,#4435d1,#4850f3,#465dfa,#4747eb,#4435d1,#473ee2,#4332c9,#484ef1,#484df0,#484ef1,#4850f3,#4759f8,#4755f6,#473ee1,#463bdd,#4759f8,#484df0,#4230c3,#402ab5,#4743e8,#484cf0,#4759f8,#4756f6,#484aee,#4759f8)"></i><i style="background:linear-gradient(#f9fb15,#f9fb15,#f9fb15,#f9fb15,#f9fb15,#f5e427,#eeba34,#84cb56,#65cd6e,#56cc7b,#2dc4a5,#01b9c7,#02bac4,#03b7cc,#1ea8e1,#2d88f6,#465efb,#484ff2,#4758f8,#4850f3,#484bee,#4465fd,#4758f8,#463bdd,#412dbb,#4539d9,#4853f5,#465dfb,#4848ec,#4537d5,#473fe3,#4433cc,#484ef1,#484df0,#484ff2,#4851f3,#4759f8,#4755f6,#463ee1,#463bde,#4759f8,#484df0,#422fc3,#402bb6,#4744e8,#484df0,#4759f8,#4756f6,#484aee,#4759f8)"></i><i style="background:linear-gradient(#465efb,#2d8cf3,#4368fe,#2e86f7,#239fe5,#20a5e2,#19acdc,#269ae9,#0ab4d2,#0cb3d3,#1aacdd,#1babde,#18aedb,#1fa6e1,#21a4e3,#2e85f8,#4853f5,#4849ed,#475af9,#484bef,#4849ed,#406dfe,#4660fb,#473fe2,#4230c4,#463de0,#4755f6,#465dfb,#4849ed,#4539d8,#4740e4,#4434cf,#484ef1,#484df0,#484ff2,#4851f3,#4759f9,#4755f6,#463ee1,#463bde,#4759f8,#484df0,#422fc2,#402bb7,#4744e8,#484df0,#4759f8,#4755f6,#484aed,#4759f8)"></i><i style="background:linear-gradient(#4536d3,#473fe2,#4538d7,#4539d9,#4742e7,#4433cc,#4744e8,#473fe2,#4562fc,#484bef,#4854f5,#4367fd,#317efb,#3f6dfe,#2b91ef,#3578fd,#4740e4,#463de0,#465dfa,#4746eb,#484bee,#3777fe,#4269fe,#4743e8,#4434ce,#4742e6,#4758f8,#465dfb,#484aee,#463adc,#4741e5,#4535d2,#484df0,#484df0,#484ff2,#4852f4,#475af9,#4755f6,#463ee1,#463bde,#4759f8,#484df0,#422fc1,#402bb8,#4744e8,#484df1,#4759f9,#4755f6,#4849ed,#4759f8)"></i><i style="background:linear-gradient(#3678fd,#3f6eff,#4755f6,#4563fd,#3d71ff,#4368fe,#4466fd,#465efb,#4851f3,#4433cc,#4434ce,#463cde,#4758f8,#4535d2,#317efb,#406dfe,#4433cc,#4434d0,#4561fc,#484aed,#4851f3,#307ffb,#3d71ff,#4848ec,#4538d7,#4746eb,#475af9,#465dfa,#484bef,#463cdf,#4743e7,#4537d5,#484df0,#484df0,#4850f2,#4852f4,#475af9,#4755f6,#463ee0,#463cde,#4759f8,#484cf0,#422fc1,#412cb8,#4744e8,#484ef1,#475af9,#4755f6,#4849ed,#4759f8)"></i><i style="background:linear-gradient(#484cef,#463cdf,#4434ce,#463de0,#484ff2,#3678fd,#3a74fe,#463ee1,#4747eb,#473fe3,#4537d5,#463adc,#484df0,#4536d5,#3875fe,#4269fe,#422ebf,#4537d6,#4269fe,#4757f7,#475cfa,#2e86f7,#3678fd,#484df1,#463ddf,#484bef,#475cfa,#475dfa,#484cef,#463ee1,#4744e8,#4538d7,#484cf0,#484df0,#4850f3,#4853f4,#475af9,#4755f6,#463de0,#463cde,#4759f8,#484cf0,#422ec0,#412cb9,#4744e8,#484ef1,#475af9,#4755f6,#4849ed,#4759f8)"></i><i style="background:linear-gradient(#4536d4,#463cde,#463de0,#4331c6,#463cdf,#475cfa,#4367fd,#4849ed,#4743e7,#463adb,#4332ca,#463cdf,#4848ec,#4742e6,#307ffb,#3c71ff,#4537d5,#4849ed,#3975fe,#416bfe,#416bfe,#2d8df3,#317efb,#4852f4,#4742e6,#484ff2,#465dfa,#475cfa,#484cf0,#473fe3,#4745e9,#4539d9,#484cef,#484df0,#4850f3,#4853f5,#475af9,#4755f6,#463de0,#463cde,#4759f8,#484cf0,#422ebf,#412cba,#4744e8,#484ff2,#475af9,#4755f6,#4848ec,#4759f8)"></i><i style="background:linear-gradient(#4746ea,#4539d9,#484bee,#484bee,#4741e5,#4435d1,#484ef1,#4755f6,#4538d8,#422fc1,#412cba,#4742e6,#4746ea,#484aee,#2994ed,#2e87f7,#4853f4,#4562fc,#2e83f9,#2f81fa,#337bfd,#2b91ef,#2f82fa,#4757f7,#4747eb,#4853f5,#465efb,#475bf9,#484df0,#4741e5,#4745ea,#463ada,#484bef,#484cf0,#4850f3,#4853f5,#475bf9,#4755f6,#463de0,#463cde,#4759f9,#484cef,#422ebf,#412dbb,#4744e9,#484ff2,#475af9,#4755f6,#4848ec,#4759f8)"></i><i style="background:linear-gradient(#463ee1,#4435d1,#4539d9,#4230c3,#4330c5,#4538d7,#484bef,#475af9,#4330c5,#4435d1,#4849ed,#4368fe,#3f6efe,#317efb,#15afd9,#21a3e3,#327cfc,#317dfc,#2c90f0,#2995ec,#2d89f5,#2995ec,#2e84f8,#475af9,#484cf0,#4757f7,#465efb,#4759f9,#484ef1,#4742e7,#4746eb,#463adc,#484aee,#484cf0,#4850f3,#4854f5,#475bf9,#4755f6,#463ddf,#463cde,#475af9,#484cef,#412ebe,#412dbc,#4745e9,#484ff2,#475af9,#4755f6,#4848ec,#4759f8)"></i><i style="background:linear-gradient(#473fe2,#4741e5,#4747eb,#4853f5,#4660fb,#475af9,#2f81fa,#2797eb,#3479fd,#3876fe,#2e87f7,#259ce7,#20a5e2,#17aeda,#0cbdbc,#0ab4d2,#2699ea,#2c8ef1,#2797ea,#23a0e5,#2b91ef,#2896ec,#2e84f9,#475dfa,#4850f3,#475af9,#465dfb,#4758f8,#484ef1,#4744e8,#4747eb,#463bdd,#484aed,#484cef,#4850f3,#4854f5,#475bf9,#4755f6,#463cdf,#463cde,#475af9,#484cef,#412dbd,#412dbd,#4745e9,#4850f2,#475af9,#4755f6,#4747ec,#4759f8)"></i><i style="background:linear-gradient(#a7c73c,#4ccb82,#44cb89,#40ca8d,#1ec0b2,#01b8ca,#01b9c7,#01b9c8,#13b1d7,#1fa6e2,#1fa5e2,#11b1d6,#01bac5,#0bbdbc,#1ac0b4,#02b7cb,#20a4e3,#2994ed,#269ae9,#20a4e3,#2895ec,#2994ed,#2f81fa,#465efb,#4853f5,#475dfa,#475cfa,#4756f7,#484ef1,#4745e9,#4848ec,#463bde,#4849ed,#484bef,#4850f3,#4854f5,#475bf9,#4755f6,#463cdf,#463cde,#475af9,#484bef,#412dbd,#412ebe,#4745e9,#4850f3,#475bf9,#4755f6,#4747eb,#4759f8)"></i><i style="background:linear-gradient(#4536d4,#4639da,#465dfa,#3678fd,#4758f8,#4756f7,#3a74fe,#406dfe,#2d8df2,#2e83f9,#2e83f9,#269be8,#16afd9,#08b4d1,#05b6ce,#18aedb,#23a0e5,#2c8ff0,#2796eb,#21a3e4,#2995ec,#2b91ef,#327cfc,#465dfb,#4756f6,#465ffb,#475af9,#4854f6,#484ef1,#4746ea,#4849ec,#463cde,#4848ec,#484bef,#4850f2,#4854f5,#475bf9,#4755f6,#463cde,#463cde,#475af9,#484bef,#412dbc,#422ebf,#4745e9,#4850f3,#475bf9,#4755f6,#4747eb,#4759f8)"></i><i style="background:linear-gradient(#422fc2,#4332cb,#4536d3,#4535d2,#4331c7,#463adb,#484ff1,#463bdd,#4756f6,#463ddf,#4740e4,#4562fc,#2e84f9,#2d8df2,#2797eb,#2a93ed,#2d8cf3,#3080fb,#2d8df2,#269be8,#2c90f0,#2d8bf4,#3974fe,#475bfa,#4757f7,#4660fc,#4757f7,#4852f4,#484ef1,#4747eb,#4849ed,#463cdf,#4747eb,#484aee,#4850f2,#4854f5,#475bf9,#4755f6,#463bde,#463cde,#475af9,#484bef,#412dbb,#422ebf,#4745e9,#4851f3,#475bf9,#4855f6,#4746eb,#4759f8)"></i><i style="background:linear-gradient(#4743e7,#4434cf,#463ddf,#4848ec,#475af9,#4660fb,#4755f6,#4848ec,#4848ec,#412dbc,#3f29b2,#4537d6,#4850f2,#484ff2,#4367fd,#4269fe,#4269fe,#4563fd,#327dfc,#2d8af4,#2e87f7,#2f82fa,#426afe,#4758f8,#4757f7,#4561fc,#4854f5,#4850f2,#484df1,#4747eb,#4849ed,#463cdf,#4746ea,#484aee,#484ff2,#4854f6,#475bf9,#4755f6,#463bdd,#463cde,#475af9,#484bef,#412cbb,#422fc0,#4745ea,#4851f3,#475bf9,#4854f6,#4746ea,#4759f8)"></i><i style="background:linear-gradient(#4741e5,#4332c9,#4743e7,#4757f7,#484aed,#4742e6,#4742e6,#463adb,#484ff2,#4639d9,#412dbc,#412cba,#463bde,#422ec0,#4848ec,#4849ed,#484df1,#484aee,#416bfe,#3875fe,#337bfc,#3678fe,#465ffb,#4853f5,#4757f7,#4562fc,#4850f2,#484ef1,#484df0,#4848ec,#4849ed,#463cdf,#4745e9,#4849ed,#484ff2,#4854f6,#475bf9,#4755f6,#463bdd,#463cde,#475af9,#484bef,#412cba,#422fc1,#4746ea,#4852f4,#475bfa,#4854f6,#4746ea,#4759f8)"></i><i style="background:linear-gradient(#4538d7,#4744e8,#484bee,#463cdf,#4434ce,#463adb,#484df0,#4756f7,#4757f7,#4743e7,#4332ca,#4230c3,#463ada,#4331c8,#4538d7,#4536d3,#463adb,#4435d0,#465dfa,#465dfb,#3f6dfe,#406dfe,#4854f6,#484ef1,#4755f6,#4562fc,#484bef,#484bef,#484cf0,#4848ec,#4849ed,#463cde,#4744e8,#4849ed,#484ef1,#4854f6,#475bf9,#4755f6,#463bdc,#463cde,#475af9,#484bee,#412cb9,#422fc2,#4746ea,#4852f4,#475bfa,#4854f5,#4745ea,#4759f8)"></i><i style="background:linear-gradient(#4536d4,#463adb,#4330c5,#4538d7,#4639da,#4331c8,#4741e5,#484ef1,#484aee,#463ddf,#4537d5,#4434cf,#473ee2,#463cdf,#4535d2,#4230c4,#4331c7,#412cb8,#4853f5,#4747eb,#4561fc,#4563fc,#4849ed,#4848ec,#4853f5,#4562fc,#4747eb,#4849ed,#484bef,#4848ec,#4849ed,#463cde,#4743e7,#4848ec,#484ef1,#4854f6,#475bf9,#4755f6,#463adb,#463bde,#475bf9,#484bee,#412cb9,#4230c3,#4746ea,#4852f4,#475cfa,#4854f5,#4745e9,#4758f8)"></i><i style="background:linear-gradient(#4332ca,#4332c9,#4332c9,#463cde,#4849ed,#4744e8,#463cdf,#4230c3,#4538d7,#422ebf,#4433cc,#4332c8,#4744e8,#4743e7,#463adc,#4331c7,#412cba,#4433cb,#484ef1,#4434ce,#4756f7,#4759f9,#473fe2,#4742e6,#4850f3,#4561fc,#4742e6,#4747eb,#484aee,#4848ec,#4849ed,#463bdd,#4742e6,#4747ec,#484df0,#4854f6,#475bf9,#4855f6,#463adb,#463bde,#475bf9,#484bee,#402bb8,#4230c4,#4746ea,#4853f4,#475cfa,#4854f5,#4745e9,#4758f8)"></i><i style="background:linear-gradient(#484ff2,#463cde,#4230c4,#4536d3,#463cdf,#463bdd,#4740e4,#463cdf,#4743e8,#473fe2,#463adc,#4538d8,#4745e9,#4743e7,#4744e8,#4537d6,#4331c6,#473fe2,#484df0,#412cb9,#484cf0,#4851f3,#4435d1,#463cde,#484df1,#4561fc,#463ddf,#4744e8,#4849ed,#4848ec,#4849ed,#463bdc,#4740e4,#4747eb,#484cf0,#4854f5,#475bf9,#4854f6,#4639da,#463bde,#475bf9,#484aee,#402bb7,#4330c4,#4746ea,#4853f5,#475cfa,#4854f5,#4744e9,#4758f8)"></i><i style="background:linear-gradient(#463adc,#484bef,#4852f4,#473fe3,#4433cc,#4230c3,#4332ca,#4745e9,#4757f7,#475bf9,#484aed,#4745e9,#4741e5,#463adb,#484ff2,#4743e7,#463de0,#484aee,#484ff2,#4435d0,#4745e9,#484bee,#422fc1,#4537d5,#484aee,#4661fc,#4539d9,#4742e6,#4848ec,#4848ec,#4848ec,#463adb,#473fe3,#4746ea,#484cef,#4854f5,#475af9,#4854f5,#4639da,#463bde,#475bf9,#484aee,#402bb7,#4330c5,#4746ea,#4853f5,#475cfa,#4854f5,#4744e8,#4758f8)"></i><i style="background:linear-gradient(#463cde,#463bdd,#4848ec,#463ada,#4435d1,#4536d3,#4536d2,#4536d4,#4759f8,#4368fe,#463cdf,#484aee,#4742e6,#463adb,#475af9,#4853f5,#484ff2,#4755f6,#4853f5,#473fe2,#473ee1,#4746ea,#402ab5,#4433cb,#4848ec,#4661fc,#4536d3,#4741e5,#4746ea,#4747eb,#4848ec,#4639da,#463ee1,#4745ea,#484bee,#4854f5,#475af9,#4854f5,#4539d9,#463bde,#475bfa,#484aee,#402bb6,#4331c6,#4746eb,#4854f5,#475cfa,#4854f5,#4744e8,#4758f8)"></i><i style="background:linear-gradient(#4537d6,#4848ec,#475af9,#4746eb,#484ff2,#4756f7,#3e6fff,#475cfa,#347afd,#3975fe,#4538d7,#4854f5,#4756f7,#4850f3,#4563fd,#465ffb,#465efb,#475cfa,#4756f7,#4848ec,#4538d8,#4742e7,#402bb7,#4230c3,#4746ea,#4661fc,#4434d0,#473fe3,#4745e9,#4747eb,#4747eb,#4539d8,#463ddf,#4745e9,#484aee,#4854f5,#475af9,#4854f5,#4538d8,#463bde,#475bfa,#484aee,#402bb6,#4331c7,#4747eb,#4854f5,#475cfa,#4854f5,#4744e8,#4758f8)"></i><i style="background:linear-gradient(#d7be28,#eabb30,#cdc028,#6acd6a,#29c3aa,#12beb9,#04bbc1,#19addc,#249ee6,#2e83f9,#465ffb,#4465fd,#406dfe,#4563fd,#4465fd,#4563fd,#4367fd,#465ffb,#4759f8,#484ff2,#4332c9,#4741e4,#422fc1,#422ebf,#4745ea,#4561fc,#4435d0,#473ee1,#4743e7,#4746ea,#4746ea,#4538d7,#463bdd,#4744e8,#4849ed,#4853f5,#4759f9,#4854f5,#4538d8,#463cde,#475cfa,#484aee,#402ab5,#4331c8,#4747eb,#4854f6,#475dfa,#4854f5,#4743e7,#4758f8)"></i><i style="background:linear-gradient(#463ee1,#4756f7,#4759f9,#3974fe,#4755f6,#307ffb,#2f81fa,#3875fe,#3875fe,#465ffb,#4850f3,#4562fc,#3f6eff,#465ffb,#475bf9,#475bf9,#4368fe,#475af9,#4759f8,#4755f6,#412dbc,#4740e4,#4433cc,#422fc1,#4746ea,#4561fc,#4536d5,#463de0,#4741e5,#4745e9,#4745e9,#4537d5,#463adb,#4743e7,#4848ec,#4853f5,#4759f8,#4854f5,#4538d7,#463cde,#475cfa,#484aee,#402ab5,#4332c9,#4747eb,#4755f6,#475dfa,#4853f5,#4743e7,#4758f8)"></i><i style="background:linear-gradient(#4539d9,#463bdc,#4535d2,#4433cd,#4743e7,#4758f8,#4747eb,#4539d9,#463bdd,#463adb,#4230c4,#484ff2,#4661fc,#4849ed,#484aed,#4848ec,#4564fd,#484ff2,#4757f7,#475bf9,#422ebe,#4741e5,#4537d6,#4331c8,#4747ec,#4562fc,#4639da,#463ddf,#473fe3,#4744e8,#4744e8,#4536d3,#4539d9,#4742e7,#4747eb,#4853f5,#4759f8,#4853f5,#4537d6,#463cde,#475cfa,#484aee,#402ab4,#4332c9,#4747eb,#4755f6,#465dfa,#4853f5,#4742e7,#4758f8)"></i><i style="background:linear-gradient(#412dbc,#422ebf,#4331c8,#4230c3,#463bdd,#4756f7,#4853f4,#4539d9,#412dbd,#4332c9,#402bb7,#4741e5,#4854f5,#4332ca,#463bdd,#4332ca,#4561fc,#473fe3,#4757f7,#4562fc,#4435d0,#4744e8,#463cdf,#4435d1,#484aee,#4563fd,#463ddf,#463cdf,#463ee1,#4743e7,#4743e7,#4435d1,#4537d6,#4742e6,#4746ea,#4853f4,#4758f8,#4853f5,#4537d6,#463cde,#475cfa,#484aee,#402ab4,#4332ca,#4747eb,#4755f6,#465dfa,#4853f5,#4742e6,#4758f8)"></i><i style="background:linear-gradient(#422fc2,#4332c9,#4433cc,#463adc,#463ada,#473fe3,#4745e9,#4639da,#4330c5,#4330c5,#412dbd,#4745e9,#4851f3,#412cb9,#4537d5,#422fc1,#4465fd,#4538d7,#475bf9,#416bfe,#473ee2,#4848ec,#4742e6,#463ada,#484df0,#4564fd,#4740e4,#463cde,#463cde,#4742e6,#4741e6,#4434cf,#4536d4,#4741e5,#4744e8,#4852f4,#4758f8,#4853f5,#4537d5,#463cde,#475cfa,#484aee,#402ab3,#4432cb,#4747ec,#4756f6,#465dfa,#4853f5,#4742e6,#4758f8)"></i><i style="background:linear-gradient(#4848ec,#463ddf,#422ebf,#422ebe,#4434cf,#473ee1,#463adb,#4538d8,#4433cd,#463ddf,#4744e8,#4854f5,#4759f8,#402bb8,#4740e4,#484ff2,#3975fe,#484bef,#4465fd,#3876fe,#484bee,#484cf0,#4848ec,#473fe3,#4850f3,#4465fd,#4745e9,#463bdd,#463adb,#4741e5,#4740e4,#4433cd,#4435d1,#4740e4,#4743e7,#4852f4,#4757f7,#4853f5,#4536d4,#463cde,#475dfa,#484aee,#402ab3,#4433cc,#4848ec,#4756f7,#465dfb,#4853f5,#4741e5,#4758f8)"></i><i style="background:linear-gradient(#4368fe,#4367fd,#4757f7,#4759f8,#465dfb,#4368fe,#4368fe,#475dfa,#4755f6,#465efb,#473fe2,#4466fd,#3f6eff,#4536d4,#475af9,#3a74fe,#2d8bf4,#4367fd,#3b72fe,#317efb,#4854f5,#4850f3,#484cf0,#4744e8,#4853f5,#4466fd,#4848ec,#463bdd,#4538d8,#4740e4,#473fe2,#4433cb,#4434ce,#4740e3,#4742e6,#4852f4,#4757f7,#4853f4,#4536d4,#463cde,#475dfa,#484aee,#4029b3,#4433cc,#4848ec,#4756f7,#465dfb,#4853f5,#4741e5,#4758f8)"></i><i style="background:linear-gradient(#473fe2,#4849ed,#465efb,#4756f7,#473fe2,#484ff2,#3a74fe,#4563fc,#3f6efe,#2797eb,#4758f8,#2896ec,#259be8,#3f6efe,#2e84f9,#2896ec,#249fe5,#2e83f9,#3080fb,#2e84f8,#475bfa,#4853f5,#4850f3,#4849ed,#4756f7,#4367fd,#484bef,#463bdc,#4536d4,#473fe2,#463ee1,#4332c9,#4433cb,#473fe2,#4740e4,#4851f4,#4756f7,#4852f4,#4536d3,#463cde,#465dfa,#484aed,#3f29b2,#4433cd,#4848ec,#4757f7,#465efb,#4853f5,#4741e5,#4758f8)"></i><i style="background:linear-gradient(#3080fa,#307efb,#1babde,#0ab4d2,#20c1b1,#0eb2d4,#3dc990,#4ccb83,#5bcc76,#8bcb51,#2ec4a5,#31c6a0,#1bc0b4,#1da8e0,#1fa6e1,#1babde,#1aacdd,#2994ed,#2d89f6,#2e86f8,#465ffb,#4755f6,#4853f5,#484df0,#4759f8,#4367fd,#484df1,#463adb,#4435d0,#463ee1,#463cdf,#4331c7,#4332c9,#473ee2,#473fe2,#4851f3,#4756f6,#4852f4,#4536d3,#463cdf,#465dfa,#484aed,#3f29b2,#4434ce,#4848ec,#4757f7,#465efb,#4853f5,#4740e4,#4758f8)"></i><i style="background:linear-gradient(#f9fb15,#f9fb15,#f9fb15,#f9fb15,#f9fb15,#f9fb15,#f9fb15,#f9fb15,#f7f51b,#fad52d,#d9be28,#86cb54,#3cc991,#05bbc1,#0ab4d2,#15afd8,#19acdc,#259be8,#2d8cf3,#2e83f9,#4660fc,#4755f6,#4854f5,#4850f2,#475bf9,#4367fd,#484ff2,#463adb,#4433cd,#463de0,#463bdd,#4331c5,#4331c6,#463ee1,#463ee0,#4851f3,#4755f6,#4852f4,#4536d2,#463cdf,#465dfb,#484aed,#3f29b2,#4434ce,#4848ec,#4757f7,#465efb,#4853f5,#4740e4,#4758f8)"></i><i style="background:linear-gradient(#4854f5,#475af9,#327cfc,#2c90f0,#10b2d5,#259be8,#18bfb6,#31c6a0,#33c79d,#3fca8e,#39c895,#1dc0b3,#01b8ca,#14b0d8,#1babde,#22a2e4,#259de7,#2797eb,#2d88f6,#337bfd,#465dfa,#4854f5,#4854f5,#4851f4,#475cfa,#4367fd,#4851f3,#4639d9,#4331c8,#463cde,#463adb,#4230c4,#4230c3,#463de0,#463cde,#4850f3,#4854f6,#4852f4,#4535d2,#463cdf,#465dfb,#484aed,#3f29b2,#4434cf,#4848ec,#4758f8,#465efb,#4853f4,#4740e3,#4758f8)"></i><i style="background:linear-gradient(#4433cc,#463cde,#4746eb,#4740e3,#4744e8,#4434ce,#463ee1,#4743e7,#484bef,#4563fd,#317dfb,#327bfc,#317dfc,#2e84f9,#2c8ef2,#2e86f7,#3080fb,#2d8cf3,#307ffb,#3f6efe,#4757f7,#4850f3,#4852f4,#4852f4,#475dfa,#4466fd,#4852f4,#4539d8,#4230c4,#463bdc,#4539d9,#422fc2,#422fc1,#463ddf,#463bdc,#4850f2,#4854f5,#4851f4,#4435d2,#463ddf,#465efb,#484aed,#3f29b2,#4435d0,#4849ed,#4758f8,#465efb,#4853f4,#473fe3,#4758f8)"></i><i style="background:linear-gradient(#422fc0,#463bdc,#4746eb,#4537d6,#4537d5,#4331c8,#412dbc,#422ebf,#412ebe,#422ebf,#4741e4,#463adb,#4745e9,#484df0,#4367fd,#4563fd,#4759f8,#327bfc,#3c71ff,#465ffb,#4850f2,#484cef,#484ef1,#4851f3,#475cfa,#4465fd,#4853f5,#4538d7,#422fc0,#463adb,#4538d7,#422fc1,#422ebe,#463cdf,#4639da,#484ff2,#4853f5,#4851f3,#4435d1,#463de0,#465efb,#484aed,#3f29b2,#4435d1,#4849ed,#4758f8,#465efb,#4852f4,#473fe3,#4758f8)"></i><i style="background:linear-gradient(#463bdd,#4538d7,#4435d0,#463adb,#422ebe,#4332c9,#412dbc,#3f29b1,#412dbb,#4332ca,#4537d5,#422ebf,#4331c7,#422ec0,#484aee,#484bef,#4537d6,#426afe,#4562fc,#4850f3,#4747eb,#4746ea,#4849ed,#4850f2,#475bfa,#4563fc,#4853f5,#4537d6,#412dbd,#4639d9,#4537d5,#422ebf,#412dbd,#463cde,#4538d7,#484ff2,#4852f4,#4851f3,#4435d1,#463de0,#465efb,#484aed,#402ab3,#4435d1,#4849ed,#4758f8,#465efb,#4852f4,#473fe2,#4757f8)"></i><i style="background:linear-gradient(#4538d8,#463adb,#4742e6,#4538d8,#422fc2,#4435d0,#4432cb,#412cb9,#422fc1,#4536d3,#4538d7,#4332ca,#412dbc,#402ab4,#463ada,#463ee1,#412ebe,#465dfa,#4854f5,#4742e6,#473ee1,#4740e3,#4744e8,#484df0,#475af9,#4661fc,#4853f5,#4537d6,#412cb9,#4538d8,#4536d3,#422ebe,#412dbb,#463bdd,#4536d5,#484ff1,#4852f4,#4851f3,#4435d1,#463de0,#465efb,#484aed,#402ab3,#4535d2,#4849ed,#4759f8,#465efb,#4852f4,#473ee2,#4757f8)"></i><i style="background:linear-gradient(#4851f3,#4850f2,#4538d8,#4330c5,#4434ce,#4537d6,#4536d4,#463bdd,#4539d9,#422fc2,#4435d1,#4433cc,#3f29b2,#412dbd,#4331c8,#4536d3,#463ada,#4854f6,#4746ea,#4536d4,#4536d4,#463ada,#463ddf,#484aed,#4757f7,#465efb,#4852f4,#4537d5,#402bb6,#4537d6,#4435d0,#412dbd,#412cba,#463bdd,#4435d1,#484ef1,#4851f3,#4851f3,#4435d1,#463ee1,#465ffb,#484aed,#402ab3,#4536d3,#4849ed,#4759f8,#465ffb,#4852f4,#473ee1,#4757f7)"></i><i style="background:linear-gradient(#463adc,#4230c3,#422ebf,#4332c9,#4639da,#4434ce,#4433cb,#4745e9,#473fe3,#422ebe,#4434ce,#4433cb,#402bb8,#422fc2,#412dbc,#4331c8,#4743e7,#4850f2,#463ddf,#422fc3,#4331c7,#4435d1,#4537d6,#4746ea,#4854f5,#475bf9,#4851f4,#4536d4,#402ab3,#4537d5,#4434ce,#412dbd,#412cba,#463bdc,#4434ce,#484ef1,#4850f2,#4850f3,#4435d1,#463ee1,#465ffb,#484aed,#402ab4,#4536d3,#4849ed,#4759f9,#465ffb,#4852f4,#463ee1,#4757f7)"></i><i style="background:linear-gradient(#4536d3,#4331c6,#4331c7,#4538d7,#4433cd,#4330c5,#473fe3,#484aed,#4740e4,#4539d8,#4433cc,#4331c7,#4432cb,#4332c9,#412dbd,#4331c8,#4747eb,#484df0,#4537d6,#402bb7,#412dbc,#4332c9,#4332ca,#4742e6,#4850f3,#4757f7,#4850f3,#4536d4,#3f29b2,#4536d4,#4433cc,#412dbc,#412cba,#463adc,#4432cb,#484df1,#484ff2,#4850f3,#4435d2,#473ee1,#465ffb,#484aed,#402ab4,#4536d4,#484aed,#475af9,#465ffb,#4852f4,#463de0,#4757f7)"></i><i style="background:linear-gradient(#4433cb,#4331c6,#463bdc,#463bdc,#4332ca,#422fc1,#473ee2,#4740e3,#422ec0,#463bdd,#4332ca,#4331c8,#4639d9,#4434ce,#4230c4,#4536d2,#4848ec,#484aee,#4434cf,#3f29af,#402ab4,#422fc2,#422ebf,#473fe2,#484df0,#4853f5,#484ff2,#4536d4,#3f29b2,#4535d2,#4332ca,#412dbb,#412dbb,#463adb,#4331c8,#484df0,#484ef1,#4850f2,#4535d2,#473fe2,#465ffb,#484aee,#402ab5,#4536d5,#484aee,#475af9,#465ffb,#4852f4,#463de0,#4757f7)"></i><i style="background:linear-gradient(#4536d4,#4434d0,#4539d9,#4230c3,#4332c8,#4536d3,#4740e4,#463de0,#4536d3,#4742e6,#473fe2,#463cde,#463ee1,#4332c9,#4331c6,#463ada,#4746eb,#4747eb,#4332cb,#3f28ad,#3f28ad,#412ebe,#402ab5,#463bdd,#4848ec,#484ff2,#484df0,#4536d4,#402ab3,#4435d1,#4332c9,#412dbb,#412dbd,#463adb,#4230c4,#484df0,#484df0,#4850f2,#4536d3,#473fe2,#465ffb,#484aee,#402ab5,#4537d5,#484aee,#475af9,#465ffb,#4852f4,#463ddf,#4757f7)"></i><i style="background:linear-gradient(#4848ec,#463bdd,#4330c5,#4433cd,#412dbc,#4537d6,#4538d8,#412dbb,#4639da,#4849ed,#484aee,#4745e9,#4741e5,#4230c4,#4332c9,#463bdd,#4740e4,#4745e9,#4331c8,#3f28ad,#3e27aa,#412cba,#3e27ac,#4538d8,#4744e8,#484bee,#484bef,#4536d4,#402ab5,#4434d0,#4331c7,#412dbb,#422ebe,#463ada,#422fc0,#484cf0,#484cf0,#484ff2,#4536d3,#473fe3,#4660fb,#484aee,#402bb6,#4537d6,#484aee,#475af9,#465ffb,#4852f4,#463cdf,#4757f7)"></i><i style="background:linear-gradient(#4331c6,#463ddf,#4742e6,#4537d5,#422ebf,#4434cf,#4433cd,#412cb9,#4536d4,#4741e4,#473fe2,#473fe2,#4742e6,#4537d5,#4536d4,#463adb,#4538d8,#4743e7,#4331c6,#3f28ad,#3f28ae,#412cb9,#3f28ae,#4536d4,#4740e3,#4746eb,#4849ed,#4536d5,#402bb7,#4434ce,#4330c5,#412dbb,#422fc0,#463ada,#412dbd,#484cef,#484bef,#484ff2,#4536d4,#4740e3,#4660fb,#484aee,#402bb7,#4537d6,#484aee,#475bf9,#465ffb,#4852f4,#463cdf,#4757f7)"></i><i style="background:linear-gradient(#4435d0,#4747eb,#4853f4,#463bdd,#412ebe,#422ec0,#4332ca,#422fc1,#4537d6,#4434cf,#4230c3,#4330c5,#4741e5,#4740e3,#463bdd,#4537d7,#4331c7,#4742e6,#4330c5,#3f28ae,#3f29b1,#402bb8,#402ab3,#4435d0,#463cde,#4742e6,#4747eb,#4537d5,#412cba,#4434cd,#4230c4,#412dbb,#422fc3,#4639da,#412cb9,#484cef,#484aee,#484ff2,#4536d5,#4740e4,#4660fb,#484aee,#402bb7,#4538d7,#484aee,#475bf9,#465ffb,#4852f4,#463cde,#4757f7)"></i><i style="background:linear-gradient(#422ec0,#4743e7,#4851f3,#4537d5,#412dbc,#422fc2,#4537d5,#4535d2,#463adc,#4434ce,#412ebd,#412cb9,#4740e4,#4741e5,#463ee1,#4538d8,#4331c6,#4742e6,#4331c5,#3f28af,#402ab4,#402bb7,#402bb7,#4433cd,#4538d8,#463ee1,#4745e9,#4537d6,#412dbc,#4433cc,#4230c3,#412dbb,#4330c5,#4639da,#402bb6,#484bef,#4849ed,#484ff2,#4537d5,#4741e4,#4660fc,#484aee,#402bb8,#4538d7,#484bee,#475bf9,#4660fb,#4851f4,#463bde,#4757f7)"></i><i style="background:linear-gradient(#4538d8,#463adc,#4743e7,#4538d8,#422fc0,#463bdd,#4639da,#412ebe,#473fe3,#463ee1,#4433cc,#4538d8,#4743e7,#4539d9,#463ee1,#463ee1,#4539d9,#4744e8,#4331c8,#3f29b2,#402bb6,#402bb6,#412cb9,#4332cb,#4435d1,#463adb,#4743e7,#4537d6,#412ebe,#4433cb,#4230c3,#412dbc,#4331c7,#463ada,#402ab3,#484bef,#4848ec,#484ff2,#4537d6,#4741e5,#4660fc,#484aee,#412cb9,#4538d8,#484bee,#475bfa,#4660fb,#4851f4,#463bdd,#4757f7)"></i><i style="background:linear-gradient(#4744e8,#463bdd,#412cb9,#4536d4,#4747eb,#4746ea,#473fe3,#4537d6,#484cf0,#4744e8,#422fc1,#4746ea,#4746ea,#412dbc,#463de0,#4746ea,#4746ea,#4746ea,#4433cd,#412cb8,#402bb7,#402ab4,#412dbb,#4331c8,#4332ca,#4536d4,#4740e4,#4537d6,#422ec0,#4332ca,#422fc2,#412dbd,#4332ca,#463ada,#3f29b0,#484bee,#4747eb,#484ef1,#4538d7,#4742e6,#4661fc,#484aee,#412cb9,#4538d8,#484bef,#475cfa,#4660fb,#4851f3,#463bdc,#4757f7)"></i><i style="background:linear-gradient(#4755f6,#4755f6,#463cdf,#465efb,#475af9,#4639da,#4848ec,#4745e9,#4561fc,#4757f7,#4744e8,#4853f5,#484aee,#4434cf,#473fe2,#484bef,#484ef1,#4848ec,#4536d3,#422ebf,#412cb8,#3f29b2,#412dbc,#4331c6,#4230c4,#4434ce,#463ee1,#4537d6,#422fc1,#4332c9,#422fc2,#412ebd,#4433cc,#463adb,#3f28ae,#484bee,#4746ea,#484ef1,#4538d8,#4742e6,#4561fc,#484aee,#412cba,#4539d9,#484bef,#475cfa,#4660fb,#4851f3,#463adc,#4757f7)"></i><i style="background:linear-gradient(#0eb2d4,#20a4e3,#2d8df2,#2994ed,#2c8ff1,#3975fe,#416bfe,#4465fd,#4369fe,#4369fe,#465ffb,#475af9,#4849ed,#473fe2,#4740e3,#484bef,#4852f4,#4848ec,#4538d8,#4330c5,#412cb9,#3f28af,#412dbc,#4330c5,#422ebf,#4331c7,#463cde,#4537d6,#4230c3,#4332c8,#422fc2,#422ebe,#4434cf,#463adb,#3f29b0,#484aee,#4744e8,#484ef1,#4539d9,#4743e7,#4561fc,#484aee,#412dbb,#4639d9,#484bef,#475cfa,#4660fc,#4851f3,#463adb,#4757f7)"></i><i style="background:linear-gradient(#4740e3,#4744e9,#463ee1,#4744e8,#4758f8,#4741e4,#4746ea,#4742e6,#4744e8,#4755f6,#4759f8,#4854f5,#4639d9,#4741e5,#463adb,#4847ec,#4851f3,#4746ea,#463adc,#4332ca,#412cba,#3e27ac,#412dbc,#4230c3,#412cba,#422fc1,#4639da,#4537d6,#4230c4,#4331c7,#4230c3,#422ec0,#4435d1,#463adb,#4029b2,#484aee,#4743e7,#484ef1,#4639da,#4743e7,#4561fc,#484aee,#412dbc,#4639da,#484bef,#475dfa,#4660fc,#4851f3,#463adb,#4757f7)"></i><i style="background:linear-gradient(#463adc,#484cf0,#484ef1,#484df1,#463de0,#402bb8,#412cb9,#412cb9,#412dbc,#4536d3,#473fe2,#4850f2,#422fc1,#4740e4,#412ebd,#4741e5,#484bef,#4740e4,#463bde,#4434cf,#412cba,#3e27a9,#412dbd,#422fc2,#402bb6,#412dbc,#4537d6,#4537d6,#4330c5,#4331c6,#4230c4,#422fc1,#4536d4,#463bdc,#402bb6,#484aee,#4742e6,#484ef1,#463adb,#4744e8,#4562fc,#484aee,#412dbc,#463ada,#484cef,#465dfa,#4660fc,#4851f3,#463ada,#4757f7)"></i><i style="background:linear-gradient(#4536d2,#4536d2,#412cb9,#473ee1,#463bdd,#4230c4,#4332ca,#422ec0,#4435d1,#4539d9,#4746ea,#465ffb,#4848ec,#4744e8,#402bb8,#463cde,#4743e7,#4639da,#463bde,#4535d2,#412cbb,#3e28ac,#412ebd,#422fc1,#402ab4,#402bb7,#4536d3,#4537d6,#4331c6,#4330c5,#4230c4,#422fc3,#4537d6,#463bdd,#412cba,#484aee,#4741e4,#484ef1,#463bdc,#4744e9,#4562fc,#484aee,#412dbd,#463adb,#484cef,#465dfa,#4660fc,#4851f3,#4639da,#4757f7)"></i><i style="background:linear-gradient(#2e84f8,#317dfc,#2f82fa,#2c90f0,#2f83f9,#3e70ff,#4368fe,#4853f5,#463ada,#484cef,#4369fe,#3677fe,#4562fc,#484df0,#4535d2,#4538d8,#463bdd,#4332c9,#463bdc,#4536d4,#412dbb,#3f29b0,#422ebe,#422ec0,#3f29b2,#402ab4,#4434cf,#4537d5,#4331c7,#4230c4,#4330c5,#4230c4,#4538d8,#463bde,#412dbd,#484aed,#473fe3,#484df1,#463bde,#4745e9,#4562fc,#484bee,#412ebe,#463adb,#484cef,#465dfb,#4661fc,#4851f3,#4639d9,#4757f7)"></i><i style="background:linear-gradient(#3a73fe,#347afd,#2e85f8,#2699e9,#4757f7,#2e85f8,#259ce7,#3578fd,#473fe2,#465ffb,#317dfc,#3080fb,#416bfe,#4853f5,#463adb,#4434cf,#4536d4,#412cba,#463adb,#4536d4,#412dbb,#402ab3,#422ebf,#422ebf,#3f29b0,#3f29b0,#4433cc,#4536d4,#4331c8,#422fc3,#4331c6,#4331c6,#463ada,#463cde,#422fc1,#484aed,#473ee1,#484df0,#463cdf,#4746ea,#4562fc,#484bee,#422ebf,#463adc,#484cef,#465dfb,#4661fc,#4851f3,#4539d9,#4757f7)"></i><i style="background:linear-gradient(#4466fd,#4465fd,#3c72ff,#4368fe,#4758f8,#3f6eff,#2e85f8,#2e84f9,#3e6fff,#4367fd,#3f6eff,#416afe,#465efb,#4850f3,#4539d8,#4230c3,#4435d2,#412cba,#4539d9,#4536d2,#412cbb,#402ab5,#422fc0,#412ebe,#3f29b0,#3f28ad,#4332c9,#4536d3,#4331c8,#422fc1,#4331c7,#4331c8,#463bdc,#463ddf,#4330c5,#4849ed,#463de0,#484df0,#463de0,#4746ea,#4563fc,#484bee,#422ebf,#463bdc,#484cf0,#465efb,#4661fc,#4851f3,#4538d8,#4757f7)"></i><i style="background:linear-gradient(#463cdf,#4330c5,#4434cf,#4435d1,#4330c5,#4537d6,#4433cd,#484ff1,#4758f8,#4740e3,#4848ec,#4744e8,#4742e6,#4747eb,#4536d2,#402bb8,#4537d5,#4332c8,#4537d6,#4434cf,#412cb9,#402bb7,#422fc2,#412dbd,#3f29b0,#3e27ab,#4331c6,#4535d2,#4332c8,#422ec0,#4332c9,#4332ca,#463cde,#463de0,#4332c9,#4849ed,#463bde,#484df0,#463ee1,#4747eb,#4563fc,#484bef,#422fc0,#463bdd,#484cf0,#465efb,#4561fc,#4850f3,#4538d7,#4757f7)"></i><i style="background:linear-gradient(#463cde,#4536d4,#412cba,#422fc2,#422ec0,#4331c8,#4435d0,#463ddf,#4743e7,#412cba,#4433cc,#4230c4,#422fc1,#463de0,#4536d3,#422ec0,#4639d9,#4536d2,#4536d3,#4433cc,#402ab6,#412cb8,#4230c3,#412dbc,#3f29b0,#3e27ab,#4230c4,#4435d1,#4332c8,#412ebe,#4332ca,#4433cc,#463de0,#463ee1,#4433cc,#4849ed,#463adc,#484df0,#473fe2,#4848ec,#4563fd,#484bef,#422fc1,#463bdd,#484cf0,#465efb,#4561fc,#4850f3,#4538d7,#4757f7)"></i><i style="background:linear-gradient(#4746ea,#4433cc,#412cb8,#412cba,#4536d3,#4536d2,#402bb6,#4331c6,#463de0,#4537d7,#412dbd,#402bb6,#402bb6,#4536d5,#4537d5,#4433cd,#463bdd,#4538d8,#4434cf,#4331c8,#3f29b2,#412cba,#4230c4,#412cba,#3f29b0,#3e27ac,#422fc2,#4434cf,#4332c8,#412dbc,#4433cb,#4434ce,#473ee2,#473fe2,#4435d0,#4849ed,#4639d9,#484df0,#473fe3,#4848ec,#4563fd,#484bef,#422fc2,#463bde,#484df0,#465efb,#4561fc,#4850f3,#4537d6,#4757f7)"></i><i style="background:linear-gradient(#4538d7,#4330c5,#4331c7,#463cde,#4747eb,#4743e7,#4434cd,#422fc1,#473fe2,#473fe2,#4230c4,#402bb7,#412cba,#4332cb,#4435d0,#4536d3,#463cde,#4639d9,#4332ca,#4230c4,#3f29b0,#412dbb,#4330c5,#412cb9,#3f29b0,#3f28ae,#422fc1,#4434ce,#4332c8,#412cbb,#4433cc,#4435d0,#4740e3,#4740e3,#4536d4,#4849ed,#4538d7,#484df0,#4740e4,#4849ed,#4563fd,#484bef,#422fc3,#463cde,#484df0,#465ffb,#4561fc,#4850f3,#4537d6,#4756f7)"></i><i style="background:linear-gradient(#412ebe,#4331c8,#4331c6,#4230c3,#463adb,#4742e6,#4740e4,#463cde,#4744e8,#4741e5,#4332ca,#402ab5,#402bb6,#422fc1,#4230c4,#4536d3,#463adc,#4539d8,#4230c3,#422fc1,#3f29b2,#412dbd,#4330c5,#402bb8,#3f29b1,#3f29b0,#422ec0,#4433cd,#4332c8,#412cb9,#4434ce,#4535d2,#4741e5,#4740e4,#4538d7,#4849ed,#4537d5,#484cf0,#4741e5,#484aed,#4564fd,#484bef,#4230c3,#463cde,#484df0,#465ffb,#4561fc,#4850f3,#4537d5,#4756f7)"></i><i style="background:linear-gradient(#4539d9,#412cba,#412dbb,#412dbd,#3f29b0,#412ebd,#4434cf,#422fc1,#473fe2,#4539d9,#422fc2,#402ab4,#402ab5,#412dbb,#402bb6,#4433cd,#4537d5,#4537d6,#412dbc,#422ebf,#412cb8,#422ec0,#4331c6,#402bb6,#3f29b1,#3f29b2,#422ebf,#4433cb,#4332c8,#402bb6,#4434cf,#4536d4,#4742e6,#4741e5,#4639da,#4849ed,#4535d2,#484cf0,#4742e6,#484aee,#4564fd,#484bef,#4230c4,#463cdf,#484df0,#465ffb,#4561fc,#4850f3,#4536d5,#4756f7)"></i><i style="background:linear-gradient(#463de0,#422fc1,#4332c9,#4537d6,#4538d8,#463bdc,#463bdc,#4536d3,#463bdc,#4332c9,#412cb9,#412cba,#402bb6,#412ebe,#412cba,#4331c5,#4433cb,#4536d3,#412cba,#422ebf,#412ebe,#422fc2,#4331c7,#402ab4,#3f29b2,#402ab4,#412ebe,#4332ca,#4332c8,#402ab4,#4435d0,#4537d6,#4743e7,#4742e7,#463bdd,#4849ed,#4434cf,#484cf0,#4743e7,#484bef,#4464fd,#484cef,#4330c5,#463cdf,#484df0,#465ffb,#4561fc,#4850f3,#4536d4,#4756f7)"></i><i style="background:linear-gradient(#4331c7,#4330c5,#422ebf,#4535d2,#4742e6,#4746ea,#4537d6,#4230c3,#4537d6,#4435d0,#4331c5,#412dbb,#402bb7,#4332c9,#4330c5,#422ebe,#422fc1,#4435d1,#412dbc,#422fc2,#4230c4,#4330c5,#4331c7,#402ab3,#402ab3,#402bb7,#412dbd,#4332c8,#4332c8,#3f29b2,#4435d2,#4538d8,#4744e8,#4743e8,#463de0,#4849ed,#4433cd,#484cf0,#4744e8,#484cef,#4464fd,#484cef,#4331c6,#463ddf,#484df1,#465ffb,#4561fc,#4850f2,#4536d3,#4756f7)"></i><i style="background:linear-gradient(#4536d5,#4742e6,#4744e8,#4538d7,#422fc1,#4740e4,#473fe2,#4332c9,#412dbd,#4538d7,#4538d8,#4330c5,#4330c5,#4537d6,#4434cf,#422ebe,#422ebf,#4434cf,#422fc2,#4331c8,#4332c9,#4331c7,#4331c7,#3f29b1,#402ab5,#412cb9,#412dbb,#4331c7,#4332c8,#3f28af,#4536d3,#4539d9,#4745ea,#4745e9,#473fe2,#484aed,#4332ca,#484cf0,#4745e9,#484cf0,#4465fd,#484cef,#4331c6,#463de0,#484df1,#4660fb,#4562fc,#4850f2,#4536d3,#4756f7)"></i><i style="background:linear-gradient(#4744e8,#463bdc,#4538d8,#4332c9,#4537d5,#4741e5,#463ee1,#4332c8,#422fc1,#463cdf,#463ee0,#4538d8,#463bdc,#463ee1,#4537d5,#4331c6,#4330c5,#4433cb,#4331c8,#4434ce,#4433cd,#4332c9,#4331c8,#3f29b1,#402bb6,#412dbb,#412cba,#4331c6,#4332c8,#3e28ad,#4536d4,#463ada,#4746eb,#4746ea,#4741e4,#484aed,#4331c7,#484cf0,#4746ea,#484df0,#4465fd,#484cef,#4331c7,#463de0,#484ef1,#4660fb,#4562fc,#4850f2,#4535d2,#4756f7)"></i><i style="background:linear-gradient(#4331c7,#4538d7,#4742e7,#463de0,#4330c5,#4330c5,#4433cc,#412dbd,#463ee1,#4745e9,#4434ce,#463cde,#4746ea,#4740e4,#4536d3,#4434ce,#4433cb,#4330c5,#4433cd,#4537d5,#4434cf,#4332c9,#4332c8,#402ab3,#412cb9,#412ebe,#402bb8,#4330c5,#4332c9,#3e27ab,#4537d6,#463adc,#4848ec,#4747eb,#4743e7,#484aee,#4230c4,#484cf0,#4747eb,#484ef1,#4465fd,#484cf0,#4331c8,#463de0,#484ef1,#4660fc,#4562fc,#4850f2,#4435d1,#4756f7)"></i><i style="background:linear-gradient(#4330c5,#4435d0,#463cdf,#4434ce,#422ec0,#412dbb,#4332c9,#4744e8,#4853f5,#484cef,#4331c7,#463ee1,#484aed,#463ddf,#4331c7,#4435d2,#4434ce,#412dbb,#4435d0,#4639da,#4434d0,#4332c8,#4332c9,#402ab5,#412dbb,#422fc0,#402bb6,#4330c4,#4332c9,#3e28ad,#4538d7,#463bdd,#4849ed,#4848ec,#4744e9,#484aee,#422fc1,#484cf0,#4848ec,#484ff2,#4465fd,#484cf0,#4332c9,#463ee1,#484ef1,#4660fc,#4562fc,#4850f2,#4435d1,#4756f7)"></i><i style="background:linear-gradient(#4853f5,#4746ea,#484bef,#484ff2,#4848ec,#463de0,#463ada,#484ff2,#475bf9,#484cef,#463de0,#4741e5,#4848ec,#4537d6,#402ab5,#4536d4,#4435d0,#3f29b1,#4536d3,#463bdd,#4434cf,#4331c7,#4332c9,#412cb8,#422ebe,#4230c3,#402ab4,#4230c4,#4332c9,#3f29af,#4538d8,#463cde,#484aed,#4849ed,#4746ea,#484aee,#412ebe,#484cf0,#4848ec,#484ff2,#4465fd,#484cf0,#4332c9,#463ee1,#484ef1,#4660fc,#4562fc,#4850f2,#4435d0,#4756f7)"></i><i style="background:linear-gradient(#4747eb,#473fe2,#422fc1,#4538d7,#4742e7,#463bdd,#4433cd,#484aee,#484cef,#4536d4,#4537d6,#463bdc,#4745e9,#4435d0,#402bb6,#4538d8,#4536d5,#402bb7,#4537d6,#463cdf,#4433cc,#4330c4,#4332c9,#412dbc,#422fc2,#4331c6,#402ab3,#4230c4,#4332ca,#402ab3,#4539d9,#463cdf,#484aee,#484aee,#4848ec,#484aee,#412dbb,#484cf0,#4849ed,#4850f3,#4466fd,#484cf0,#4332ca,#473ee1,#484ef1,#4661fc,#4562fc,#4850f2,#4434cf,#4756f7)"></i><i style="background:linear-gradient(#412dbc,#4434d0,#4433cd,#4230c4,#412dbb,#4535d2,#463de0,#463de0,#463cde,#412cbb,#422fc3,#4332c9,#4743e7,#4331c6,#4230c4,#463cde,#463adb,#4230c4,#4538d8,#463cdf,#4332c8,#422fc1,#4332c9,#422ebf,#4331c6,#4332c8,#402ab3,#4330c5,#4332ca,#402bb6,#4639da,#463ddf,#484bef,#484cef,#484aee,#484bee,#412cb8,#484cf0,#484aee,#4851f3,#4466fd,#484df0,#4432cb,#473ee1,#484ef1,#4561fc,#4562fc,#484ff2,#4434cf,#4756f7)"></i><i style="background:linear-gradient(#4432cb,#4433cc,#4741e4,#4740e3,#4434d0,#4433cc,#4537d5,#402bb6,#4434ce,#4536d4,#4536d4,#463bdd,#4745e9,#412dbc,#4536d2,#4741e5,#473ee1,#4434d0,#4639da,#463bde,#4230c4,#422ebe,#4331c8,#4230c3,#4432cb,#4433cc,#402ab5,#4330c5,#4433cb,#412cb9,#463adb,#463de0,#484cf0,#484df0,#484cef,#484bef,#402ab5,#484cf0,#484bef,#4851f4,#4466fd,#484df0,#4433cc,#473fe2,#484ef1,#4561fc,#4562fc,#484ff2,#4434ce,#4756f7)"></i><i style="background:linear-gradient(#4434ce,#4331c8,#4433cb,#4435d1,#4745e9,#4743e7,#463adc,#412ebd,#422ec0,#4538d7,#4745e9,#484ef1,#484df0,#4537d6,#463ddf,#4744e8,#473fe3,#4536d4,#463ada,#463adb,#422fc1,#412dbd,#4331c6,#4331c6,#4434cf,#4434cf,#412cb8,#4331c6,#4433cc,#412dbd,#463bdc,#463de0,#484df0,#484ef1,#484ef1,#484bef,#402ab3,#484cf0,#484cf0,#4852f4,#4466fd,#484df0,#4433cc,#473fe2,#484ff1,#4561fc,#4562fc,#484ff2,#4433cd,#4756f7)"></i><i style="background:linear-gradient(#463de0,#4538d8,#4536d4,#4740e4,#4639d9,#4331c7,#4538d8,#422fc2,#402ab3,#4433cd,#4849ed,#4757f7,#4851f4,#4743e7,#4744e8,#4744e8,#463ddf,#4535d2,#4639da,#4538d8,#422fc0,#412dbd,#4230c3,#4332ca,#4536d4,#4535d2,#412dbc,#4331c7,#4433cd,#422ec0,#463bdd,#463de0,#484ef1,#4850f2,#484ff2,#484cef,#3f29b1,#484cf0,#484df0,#4853f5,#4367fd,#484df0,#4433cd,#473fe2,#484ff2,#4561fc,#4562fc,#484ff2,#4433cd,#4756f7)"></i><i style="background:linear-gradient(#4435d2,#4741e5,#4743e7,#484ef1,#463bdd,#422fc1,#463ee1,#463bdd,#4332ca,#4434cf,#4740e3,#4755f6,#4849ed,#4745e9,#4745ea,#4741e5,#4538d7,#4433cb,#4539d9,#4536d3,#422fc3,#422ebf,#422ebf,#4434ce,#4539d9,#4537d5,#422fc1,#4332c9,#4434ce,#4230c3,#463cde,#463de0,#484ef1,#4851f3,#4851f3,#484cf0,#3f29af,#484cf0,#484ef1,#4853f5,#4367fd,#484df0,#4434cd,#473fe3,#484ff2,#4561fc,#4562fc,#484ff2,#4433cc,#4756f7)"></i><i style="background:linear-gradient(#463bde,#4332c9,#4539d9,#4745ea,#4853f5,#484bef,#4747eb,#463bdd,#463ee1,#4433cd,#4538d7,#484ef1,#4435d0,#463ee0,#4741e5,#463adb,#4433cb,#422fc1,#4538d7,#4433cb,#4331c8,#4330c4,#412cb8,#4535d2,#463bde,#4539d9,#4331c6,#4332ca,#4434cf,#4331c7,#463ddf,#463ddf,#484ff2,#4852f4,#4853f5,#484df0,#3f29b0,#484cf0,#484ff2,#4854f5,#4367fd,#484df1,#4434ce,#473fe3,#484ff2,#4562fc,#4562fc,#484ff2,#4433cb,#4756f7)"></i><i style="background:linear-gradient(#4536d4,#4536d3,#463cdf,#484cef,#4747eb,#4639da,#4744e8,#4433cc,#4746ea,#4745e9,#4848ec,#484ff1,#4433cd,#463adb,#4639d9,#4434cf,#4331c7,#422ebe,#4537d5,#422ec0,#4434ce,#4332ca,#3f29b1,#4537d6,#473ee1,#463adc,#4433cb,#4433cb,#4435d0,#4332ca,#463de0,#463cdf,#484ff2,#4853f5,#4755f6,#484df0,#3f29b1,#484cf0,#4850f2,#4755f6,#4367fd,#484df1,#4434cf,#4740e3,#484ff2,#4562fc,#4563fc,#484ff2,#4332cb,#4756f7)"></i><i style="background:linear-gradient(#4852f4,#475cfa,#4369fe,#406dfe,#4759f8,#484cef,#4851f3,#4848ec,#4741e5,#484cf0,#4852f4,#4850f3,#473fe2,#463adc,#4433cb,#4230c3,#4332ca,#422fc2,#4537d6,#3f29b2,#4537d6,#4435d1,#3f29b1,#463ada,#4741e5,#463cdf,#4434d0,#4433cc,#4435d2,#4433cd,#463ee1,#463cde,#4850f2,#4755f6,#4757f7,#484ef1,#402ab4,#484cf0,#4850f3,#4755f6,#4367fd,#484ef1,#4434cf,#4740e3,#484ff2,#4562fc,#4563fc,#484ff2,#4332ca,#4756f7)"></i><i style="background:linear-gradient(#4434cf,#4330c5,#4332ca,#463de0,#4332ca,#4433cc,#473fe3,#473fe2,#412dbc,#4742e6,#4746ea,#4848ec,#4741e5,#463adb,#4331c6,#422ec0,#4434ce,#4332c9,#4539d9,#402ab5,#463cde,#4539d9,#412dbc,#463ddf,#4743e8,#463ee1,#4536d4,#4433cd,#4536d3,#4434cf,#463ee1,#463bdd,#4850f3,#4756f7,#4758f8,#484ef1,#402bb6,#484df0,#4851f3,#4756f7,#4368fd,#484ef1,#4435d0,#4740e4,#484ff2,#4562fc,#4563fc,#484ff2,#4332c9,#4756f7)"></i><i style="background:linear-gradient(#4435d1,#463adb,#463adb,#4537d5,#402cb8,#412cb9,#422fc1,#463adc,#4639da,#463bdd,#4330c5,#4639d9,#4639d9,#4536d4,#4332ca,#4331c8,#4434ce,#4434cf,#463ddf,#4433cc,#4742e6,#463de0,#4332c9,#4740e4,#4746ea,#473fe3,#4538d8,#4434ce,#4536d4,#4535d2,#473ee2,#463adc,#4851f3,#4757f7,#475af9,#484ff1,#412cb9,#484df0,#4852f4,#4757f7,#4368fe,#484ef1,#4435d0,#4740e4,#484ff2,#4562fc,#4563fc,#484ff2,#4332c9,#4756f7)"></i><i style="background:linear-gradient(#4330c5,#4537d7,#4434cf,#463ee1,#4742e7,#4538d8,#4331c7,#4330c5,#4536d4,#4639da,#422fc1,#4330c5,#422fc1,#4330c5,#4433cb,#4536d5,#4331c6,#4538d7,#4744e9,#473fe3,#484aee,#4745e9,#4539d9,#4744e9,#4848ec,#4741e4,#463adc,#4434ce,#4537d5,#4537d5,#473fe2,#4639da,#4851f3,#4758f8,#475cfa,#484ff2,#412dbc,#484df0,#4853f5,#4757f7,#4368fe,#484ef1,#4435d1,#4740e4,#484ff2,#4562fc,#4563fc,#484ff2,#4331c8,#4756f7)"></i><i style="background:linear-gradient(#4740e4,#4435d0,#4537d6,#4743e7,#4742e6,#4433cd,#402ab5,#3f28ad,#422ec0,#4639d9,#4537d6,#422ebf,#402ab4,#402bb7,#4331c8,#463de0,#422fc2,#463ee0,#484ef1,#484ef1,#4853f5,#484cef,#4741e5,#4848ec,#484aee,#4741e6,#463cdf,#4434ce,#4537d7,#4538d7,#473fe2,#4538d8,#4851f4,#475af9,#465dfa,#4850f2,#422ebe,#484df0,#4854f5,#4758f8,#4368fe,#484ef1,#4435d2,#4740e4,#4850f2,#4562fc,#4563fc,#484ff2,#4331c7,#4756f7)"></i><i style="background:linear-gradient(#4535d2,#473fe3,#4741e5,#4434ce,#4330c5,#422fc0,#3f28af,#3e27ab,#402bb8,#4539d9,#463cdf,#4433cc,#412cb9,#402ab5,#4434ce,#4848ec,#4539d9,#4849ed,#4758f8,#475cfa,#475bfa,#4854f5,#4849ed,#484cf0,#484bef,#4742e6,#463ee1,#4433cd,#4538d8,#4539d9,#473fe2,#4537d6,#4852f4,#475bf9,#465ffb,#4850f3,#422fc1,#484df0,#4854f5,#4759f8,#4368fe,#484ef1,#4535d2,#4741e4,#4850f2,#4563fc,#4563fc,#484ff2,#4331c7,#4756f7)"></i><i style="background:linear-gradient(#4536d4,#4230c4,#4434ce,#422ebe,#4331c7,#4330c5,#402ab5,#3f29b1,#4332ca,#4539d8,#473fe2,#4747eb,#4538d8,#4435d0,#4744e8,#4758f8,#4850f2,#4757f7,#4562fc,#4368fe,#4564fd,#475bfa,#4851f4,#4850f2,#484cef,#4742e6,#4740e3,#4433cc,#4539d9,#463adb,#473fe2,#4536d3,#4852f4,#475cfa,#4660fc,#4851f3,#4230c4,#484df1,#4755f6,#4759f8,#4368fe,#484ef1,#4536d3,#4741e5,#4850f2,#4563fc,#4563fc,#484ff2,#4331c6,#4756f7)"></i><i style="background:linear-gradient(#412dbc,#4537d6,#463cde,#4332c9,#412ebd,#422fc1,#412cbb,#4741e5,#475bf9,#4849ed,#475cfa,#3b72fe,#475dfa,#4854f5,#4660fb,#3f6eff,#4269fe,#4464fd,#4269fe,#3b73fe,#416bfe,#4563fc,#4759f8,#4853f5,#484cf0,#4741e5,#4741e5,#4332ca,#4639da,#463bdc,#473fe2,#4435d0,#4852f4,#465dfb,#4562fc,#4851f4,#4331c7,#484df1,#4756f6,#475af9,#4369fe,#484ef1,#4536d3,#4741e5,#4850f2,#4563fc,#4563fd,#484ff2,#4331c5,#4756f6)"></i><i style="background:linear-gradient(#426afe,#3c71ff,#2b91ef,#249ee6,#2699e9,#22a1e4,#18aedb,#16bfb7,#27c2ab,#05b6ce,#13b0d8,#17aedb,#2797eb,#2e83f9,#307ffb,#2e84f8,#2f81fa,#3f6efe,#406cfe,#3579fd,#3c71ff,#4269fe,#465ffb,#4755f6,#484cef,#4740e4,#4743e7,#4331c7,#463adb,#463bde,#473fe2,#4433cc,#4852f4,#465ffb,#4564fd,#4852f4,#4332ca,#484ef1,#4756f7,#475af9,#4269fe,#484ff1,#4536d4,#4741e5,#4850f2,#4563fd,#4563fd,#484ff1,#4330c5,#4756f6)"></i><i style="background:linear-gradient(#f9fb15,#f9fb15,#f9fb15,#f9fb15,#f9fb15,#f5e924,#fdcb33,#f9bb3d,#d1bf27,#78cc5f,#31c6a0,#11beb9,#12b1d7,#2698ea,#2d88f6,#2d8df2,#2d8af5,#3f6efe,#4269fe,#3579fd,#3a73fe,#3f6efe,#4564fd,#4757f7,#484bee,#473fe2,#4744e8,#4230c4,#463bdd,#463cdf,#473fe2,#4332c9,#4853f5,#4660fb,#4465fd,#4853f5,#4433cc,#484ef1,#4757f7,#475bf9,#4269fe,#484ff2,#4536d4,#4741e5,#4850f3,#4563fd,#4563fd,#484ef1,#4230c4,#4756f6)"></i><i style="background:linear-gradient(#465efb,#4366fd,#2b90ef,#2798ea,#23a0e5,#21a3e3,#12b1d6,#05b6ce,#02bac3,#05bbc1,#1da8e0,#19acdc,#1caadf,#2c8ff0,#337afd,#2d8af4,#2d88f6,#4464fd,#4561fc,#3a74fe,#3b72ff,#3e70ff,#4466fd,#4757f7,#4849ed,#463de0,#4745ea,#422fc0,#463cde,#463de0,#473fe2,#4330c5,#4853f5,#4561fc,#4367fd,#4853f5,#4434cf,#484ef1,#4758f8,#475bfa,#4269fe,#484ff2,#4536d5,#4741e5,#4850f3,#4563fd,#4563fd,#484ef1,#4230c4,#4756f6)"></i><i style="background:linear-gradient(#4743e7,#4434cf,#412dbc,#412dbb,#422ec0,#4331c7,#4741e4,#4536d4,#4746ea,#3a73fe,#4747eb,#3b72fe,#2d88f6,#3f6eff,#4758f8,#317efb,#317dfc,#4755f6,#4755f6,#416bfe,#3f6dfe,#3e6fff,#4367fd,#4757f7,#4848ec,#463bde,#4747eb,#412dbc,#463cdf,#463de0,#473fe2,#422fc0,#4853f5,#4562fc,#4368fe,#4854f5,#4435d1,#484ef1,#4758f8,#475cfa,#4269fe,#484ff2,#4537d5,#4742e6,#4850f3,#4563fd,#4563fd,#484ef1,#4230c3,#4756f6)"></i><i style="background:linear-gradient(#4331c8,#4331c7,#463cdf,#473ee1,#4435d0,#4747eb,#4757f7,#4746ea,#4848ec,#465efb,#4434cf,#4740e4,#465efb,#4853f5,#463adb,#406dfe,#406cfe,#4742e6,#4848ec,#465ffb,#4466fd,#406dfe,#4466fd,#4756f6,#4747eb,#463adc,#4849ed,#412cb9,#463de0,#463ee1,#473fe2,#412dbc,#4854f5,#4563fd,#426afe,#4755f6,#4536d4,#484ef1,#4759f8,#475cfa,#4269fe,#484ff2,#4537d6,#4742e6,#4850f3,#4563fd,#4563fd,#484ef1,#422fc2,#4756f6)"></i><i style="background:linear-gradient(#337bfd,#269ae8,#2c8ff1,#4759f8,#4755f6,#317efb,#2895ec,#2c8ef2,#307efb,#426afe,#473fe3,#402ab3,#4743e7,#484cf0,#4538d8,#465dfa,#465dfa,#4332ca,#463adb,#4851f4,#475cfa,#4368fd,#4562fc,#4853f5,#4746ea,#463adc,#484bef,#402bb7,#473ee1,#473ee1,#473ee2,#402bb7,#4854f5,#4464fd,#416bfe,#4756f6,#4537d6,#484ff1,#4759f9,#465dfa,#426afe,#484ff2,#4537d6,#4742e6,#4850f3,#4563fd,#4563fd,#484ef1,#422fc2,#4756f6)"></i><i style="background:linear-gradient(#475cfa,#4854f5,#4852f4,#4756f7,#484cf0,#4854f5,#327bfc,#3f6dfe,#3e6fff,#4465fd,#4741e5,#402bb8,#463cde,#484aee,#463cde,#4853f4,#4854f5,#402ab3,#4332c9,#4745e9,#4853f5,#4561fc,#465efb,#4850f3,#4746eb,#463cde,#484ef1,#412cba,#473fe3,#473ee2,#473ee2,#3f29b2,#4854f5,#4465fd,#406cfe,#4756f7,#4538d8,#484ff2,#475af9,#465dfb,#426afe,#484ff2,#4537d6,#4742e6,#4850f3,#4564fd,#4563fd,#484ef1,#422fc1,#4756f6)"></i><i style="background:linear-gradient(#4435d0,#422fc0,#4332c9,#4538d8,#4849ed,#484bee,#4850f2,#4433cd,#4745ea,#484ff2,#4740e4,#412dbc,#4740e4,#4744e8,#4434d0,#484bef,#4850f2,#3f28ae,#412dbb,#463bdc,#484aee,#475af9,#4758f8,#484df0,#4848ec,#4740e3,#4851f3,#422ec0,#4740e4,#473ee2,#473ee2,#3f28ad,#4755f6,#4466fd,#3f6efe,#4757f7,#4639da,#484ff2,#475bf9,#465efb,#426afe,#484ff2,#4537d7,#4742e6,#4850f3,#4564fd,#4563fd,#484ef1,#422fc0,#4756f6)"></i><i style="background:linear-gradient(#4435d1,#4330c5,#463cdf,#4743e7,#463cde,#4536d3,#463adb,#4537d5,#4434cf,#4435d1,#4745e9,#4741e5,#4848ec,#463de0,#402ab3,#4848ec,#484ff2,#402bb7,#402bb7,#4434ce,#4743e7,#4852f4,#4852f4,#4849ed,#484cef,#4746ea,#4755f6,#4331c8,#4741e5,#473ee1,#473ee2,#3e27aa,#4755f6,#4367fd,#3e6fff,#4757f8,#463adb,#484ff2,#475bf9,#465efb,#426afe,#484ff2,#4538d7,#4742e6,#4851f3,#4564fd,#4563fd,#484ef1,#422fc0,#4756f6)"></i><i style="background:linear-gradient(#4332ca,#4434d0,#473fe2,#4538d8,#422fc2,#412dbb,#412dbc,#4332c9,#4433cb,#4230c3,#4747eb,#4853f5,#484bef,#4639da,#4331c6,#484aed,#4851f3,#422fc1,#412dbc,#4331c6,#473ee2,#484aee,#484cef,#4746ea,#4851f3,#484ef1,#475af9,#4435d0,#4742e6,#473ee1,#473ee2,#3f28af,#4755f6,#4368fe,#3d70ff,#4758f8,#463bdd,#484ff2,#475cfa,#465ffb,#426afe,#4850f2,#4538d7,#4742e6,#4851f3,#4564fd,#4563fd,#484ef1,#422ebf,#4756f6)"></i><i style="background:linear-gradient(#4435d0,#4433cd,#4746eb,#484cef,#4536d4,#4536d2,#4740e4,#473fe2,#4332cb,#4331c6,#4849ed,#4759f8,#4747eb,#4331c6,#463cde,#484ef1,#4755f6,#4435d1,#4331c6,#4433cb,#463ee1,#4740e4,#4746ea,#4743e7,#4759f8,#4759f8,#4660fc,#4639da,#4743e7,#463ee1,#473fe2,#402ab5,#4756f7,#4269fe,#3c72ff,#4759f8,#463cdf,#4850f2,#475cfa,#465ffb,#426afe,#4850f2,#4538d7,#4742e6,#4851f3,#4564fd,#4563fd,#484ef1,#422ebf,#4756f6)"></i><i style="background:linear-gradient(#4744e8,#4747ec,#4537d5,#4746ea,#484cef,#484bee,#484cf0,#4849ed,#463cde,#4536d4,#4746ea,#4755f6,#4744e8,#412dbd,#4743e7,#4850f2,#4759f9,#463bdd,#4434cf,#4538d8,#4740e4,#4537d7,#4743e7,#4742e6,#4563fc,#4564fd,#4367fd,#463ee1,#4744e8,#463de0,#473fe2,#412cb9,#4756f7,#426afe,#3b73fe,#4759f9,#463de0,#4850f2,#475dfa,#465ffb,#416afe,#4850f2,#4538d8,#4742e7,#4851f3,#4564fd,#4564fd,#484ef1,#422ebe,#4756f6)"></i><i style="background:linear-gradient(#4742e6,#4849ed,#4538d7,#4332c9,#4536d4,#463adb,#4331c6,#463cde,#463bdd,#422fc1,#463cdf,#484cf0,#4745e9,#463adc,#4746eb,#484df0,#465dfb,#4740e4,#4537d6,#4741e5,#4744e8,#4230c4,#4743e7,#4745e9,#3f6efe,#3c71ff,#3e6fff,#4743e7,#4745e9,#463ddf,#473fe2,#422ebe,#4757f7,#416bfe,#3a74fe,#475af9,#473ee1,#4850f2,#465dfa,#4660fb,#416afe,#4850f2,#4538d8,#4743e7,#4851f3,#4464fd,#4564fd,#484ef1,#412ebe,#4756f6)"></i><i style="background:linear-gradient(#4435d0,#4434cf,#4230c3,#4331c7,#4331c6,#4331c7,#422fc2,#422ebf,#4537d6,#422fc2,#4536d4,#463ee0,#473ee2,#4747eb,#4744e8,#4744e8,#4660fc,#4741e5,#463adb,#484cf0,#484aee,#3f29b1,#4746ea,#484df0,#327cfc,#2f80fa,#3579fd,#4849ed,#4745e9,#463cde,#473fe3,#4230c3,#4758f8,#416bfe,#3975fe,#475bf9,#473fe2,#4850f3,#465dfb,#4660fc,#416bfe,#4850f2,#4538d8,#4743e7,#4851f3,#4464fd,#4564fd,#484ef1,#412ebd,#4756f6)"></i><i style="background:linear-gradient(#4848ec,#463adc,#4435d1,#4740e3,#4639da,#4538d8,#463adc,#4433cd,#4639da,#4433cb,#4433cc,#4331c7,#4432cb,#484ff2,#4741e4,#473fe3,#4563fd,#463de0,#463adc,#475af9,#4853f5,#422ebf,#484df0,#4757f7,#2d89f5,#2c8ff1,#2f82f9,#484ff1,#4746ea,#463bdd,#473fe3,#4331c8,#4758f8,#406cfe,#3876fe,#475bf9,#4740e3,#4850f3,#465efb,#4661fc,#416bfe,#4850f2,#4539d8,#4743e7,#4851f3,#4464fd,#4564fd,#484ef1,#412dbd,#4756f6)"></i><i style="background:linear-gradient(#422ebf,#422fc0,#4539d9,#463adb,#4536d5,#484aee,#484cf0,#463cde,#463bdd,#412dbc,#4331c8,#422fc1,#463bdc,#475cfa,#484ff2,#4850f3,#4367fd,#4536d2,#463bdd,#406cfe,#465ffb,#463bdc,#4758f8,#4367fd,#2699e9,#249ee6,#2d8df2,#4755f6,#4746eb,#463adb,#4740e3,#4433cd,#4759f8,#406dfe,#3777fe,#475cfa,#4741e5,#4850f3,#465efb,#4561fc,#416bfe,#4850f3,#4539d9,#4743e7,#4851f3,#4464fd,#4564fd,#484ef1,#412dbc,#4756f6)"></i><i style="background:linear-gradient(#4849ed,#484ff2,#4743e7,#463bdd,#463de0,#4849ed,#4740e3,#4538d7,#4854f5,#484ef1,#4742e6,#4744e8,#4758f8,#426afe,#416bfe,#3f6efe,#406cfe,#4331c8,#4740e4,#2f82fa,#3f6fff,#484bef,#4465fd,#3578fd,#1ea7e1,#1aabdd,#2896eb,#475af9,#4747eb,#4539d9,#4740e4,#4435d1,#4759f9,#3f6efe,#3678fd,#475cfa,#4741e6,#4851f3,#465efb,#4561fc,#416bfe,#4850f3,#4539d9,#4743e7,#4851f3,#4464fd,#4564fd,#484ef1,#412dbc,#4756f6)"></i><i style="background:linear-gradient(#465ffb,#416bfe,#2d88f6,#2e83f9,#2f81fa,#2e85f8,#337afd,#259ce7,#22a2e4,#2896ec,#2e86f7,#327cfc,#416afe,#3d70ff,#2e86f7,#2c90f0,#3975fe,#4332c9,#4851f3,#2798ea,#2f81fa,#465dfa,#3a74fe,#2d8af4,#0cb3d3,#04b6cd,#249fe5,#465ffb,#4747eb,#4538d7,#4740e4,#4536d5,#475af9,#3f6eff,#3579fd,#465dfa,#4742e6,#4851f3,#465ffb,#4561fc,#416bfe,#4850f3,#4539d9,#4743e7,#4851f3,#4464fd,#4564fd,#484ef1,#412dbc,#4756f6)"></i><i style="background:linear-gradient(#f9fb15,#f9fb15,#f9fb15,#f5e128,#e8bb2e,#9ac945,#45cb89,#62cd71,#01b8c8,#01b8c8,#22c1b0,#1baade,#475cfa,#416bfe,#2b91ef,#17aeda,#2e83f9,#4537d6,#406dfe,#18aedb,#2994ed,#3e70ff,#2e83f9,#259be8,#09bcbe,#12beb9,#1ea8e1,#4464fd,#4848ec,#4536d4,#4741e4,#4538d8,#475af9,#3e6fff,#347afd,#465dfa,#4743e7,#4851f3,#465ffb,#4562fc,#416bfe,#4850f3,#4639d9,#4743e7,#4851f3,#4464fd,#4564fd,#484ef1,#412dbb,#4756f6)"></i><i style="background:linear-gradient(#475cfa,#2f81fa,#2c90f0,#01b9c6,#1baade,#1fc0b2,#1aacdd,#8dcb50,#2f82f9,#04bbc2,#89cb53,#13beb9,#4368fd,#3b72ff,#2e84f9,#33c79c,#23a0e5,#4756f7,#2798ea,#15bfb8,#1fa6e2,#2e84f9,#2b92ee,#1aacdd,#2ec5a4,#31c5a1,#14b0d8,#426afe,#4848ec,#4435d0,#4741e5,#463adb,#475bf9,#3e6fff,#337afd,#465efb,#4743e8,#4851f3,#465ffb,#4562fc,#416bfe,#4850f3,#4639d9,#4743e7,#4851f3,#4464fd,#4564fd,#484ef1,#412dbb,#4756f6)"></i><i style="background:linear-gradient(#f9fb15,#f9fb15,#f9fb15,#f9fb15,#f6f21e,#fec934,#d6be28,#d2bf27,#3dc990,#2fc5a3,#6dcd67,#09bcbe,#0cb3d3,#2d8bf3,#2e83f9,#ccc028,#2dc4a5,#2b92ee,#01b9c6,#3ac993,#10b2d5,#2b91ef,#249de7,#01b8ca,#47cb87,#47cb87,#05b6cd,#3f6eff,#4848ec,#4433cd,#4741e5,#463bdd,#475cfa,#3e70ff,#337bfc,#465efb,#4744e8,#4851f3,#465ffb,#4562fc,#416bfe,#4850f3,#4639da,#4743e7,#4851f3,#4464fd,#4564fd,#484ef1,#412cbb,#4756f6)"></i><i style="background:linear-gradient(#3e6fff,#4464fd,#2e84f8,#337afd,#20a4e3,#2895ec,#23a0e5,#0bb3d2,#04b6cd,#2d88f6,#30c5a1,#2699e9,#e9bb30,#35c79a,#3cc991,#f9fb15,#f5ba3a,#2dc4a5,#4ecc82,#64cd6f,#01b9c7,#269ae9,#1fa5e2,#1abfb5,#6fcd66,#6bcd69,#03bbc3,#3b72fe,#4848ec,#4332c9,#4741e5,#463ddf,#475cfa,#3d70ff,#327bfc,#465efb,#4744e9,#4851f3,#4660fb,#4562fc,#416bfe,#4850f3,#4639da,#4743e7,#4851f3,#4464fd,#4564fd,#484ef1,#412cba,#4756f6)"></i><i style="background:linear-gradient(#4435d1,#402bb8,#4230c3,#463cde,#463bdd,#4849ed,#4464fd,#259be8,#55cc7c,#4dcb82,#f5ec22,#fbd12f,#f9fb15,#f9fb15,#f9fb15,#f9fb15,#f9fb15,#e7bb2e,#bdc32e,#7ccc5c,#09bcbe,#259de7,#1babde,#32c69f,#9bc945,#90ca4d,#13beb8,#3776fe,#4848ec,#4330c5,#4741e5,#463ee1,#475cfa,#3d71ff,#327cfc,#465ffb,#4745e9,#4851f3,#4660fb,#4562fc,#416bfe,#4850f3,#4639da,#4743e7,#4851f3,#4465fd,#4564fd,#484ef1,#412cba,#4756f6)"></i><i style="background:linear-gradient(#10b2d5,#bdc32e,#f7dc2a,#f9fb15,#f9fb15,#f9fb15,#f9fb15,#f9fb15,#f9fb15,#f9fb15,#f9fb15,#f9fb15,#f9fb15,#f9fb15,#f9fb15,#f9fb15,#f9fb15,#f9fb15,#fcbc3d,#70cd65,#0cbdbc,#269ae8,#19addc,#46cb88,#bfc32d,#afc636,#23c1af,#3479fd,#4848ec,#422fc1,#4742e6,#473fe2,#465dfa,#3d71ff,#327cfc,#465ffb,#4745e9,#4851f4,#4660fb,#4562fc,#416bfe,#4850f3,#4639da,#4743e7,#4851f3,#4465fd,#4564fd,#484ef1,#412cba,#4756f6)"></i><i style="background:linear-gradient(#f9fb15,#f9fb15,#f9fb15,#f9fb15,#f9fb15,#f9fb15,#f9fb15,#f9fb15,#f9fb15,#f9fb15,#f9fb15,#f9fb15,#f9fb15,#f9fb15,#f9fb15,#f9fb15,#f9fb15,#f9fb15,#fad42e,#3cc992,#05bbc1,#2c90f0,#1aacdd,#64cd6f,#dcbd29,#cac129,#2dc4a6,#327cfc,#4848ec,#412dbc,#4742e6,#4740e4,#465dfa,#3c71ff,#327dfc,#465ffb,#4745ea,#4851f4,#4660fc,#4563fc,#416bfe,#4850f3,#4639da,#4743e7,#4851f3,#4465fd,#4564fd,#484ef1,#412cba,#4756f6)"></i><i style="background:linear-gradient(#fec438,#f9fb15,#f9fb15,#f9fb15,#f9fb15,#f9fb15,#f9fb15,#f9fb15,#f9fb15,#f9fb15,#f9fb15,#f9fb15,#f9fb15,#f9fb15,#f9fb15,#f9fb15,#f9fb15,#f9fb15,#f8d82c,#02bac5,#01b8c9,#3080fb,#1ca9e0,#7dcc5b,#eeba34,#dbbd29,#32c69f,#317efb,#4747ec,#402bb7,#4742e6,#4741e5,#465dfb,#3c71ff,#317dfc,#465ffb,#4746ea,#4851f4,#4660fc,#4563fc,#416bfe,#4850f3,#4639da,#4743e7,#4851f3,#4465fd,#4564fd,#484ef1,#412cb9,#4756f6)"></i><i style="background:linear-gradient(#4538d7,#4744e8,#463cdf,#4538d7,#463cdf,#4850f3,#2e84f8,#1caadf,#7acc5e,#e1bc2b,#f9fb15,#f9fb15,#f9fb15,#f9fb15,#f9fb15,#f9fb15,#f9fb15,#f9fb15,#fcd12f,#2994ed,#09b4d1,#4269fe,#1fa5e2,#8fcb4e,#f9bb3d,#e6bb2d,#35c799,#3080fb,#4747eb,#4029b2,#4742e6,#4741e5,#465efb,#3c71ff,#317dfc,#465ffb,#4746ea,#4851f4,#4660fc,#4563fc,#416bfe,#4850f3,#4639da,#4743e7,#4851f3,#4465fd,#4564fd,#484ef1,#412cb9,#4756f6)"></i><i style="background:linear-gradient(#4435d1,#4331c6,#4230c4,#4435d0,#4435d0,#4230c3,#4433cc,#412dbc,#4746ea,#4741e5,#2c8ff0,#1fa5e2,#10b2d5,#2fc5a3,#f9fb15,#f9fb15,#8bcb51,#f9fb15,#fec735,#4757f7,#12b1d6,#4756f7,#21a3e4,#99c946,#febd3c,#ecba32,#38c896,#2f80fa,#4747eb,#3f28ae,#4742e6,#4742e6,#465efb,#3c71ff,#317dfc,#465ffb,#4746ea,#4851f4,#4660fc,#4563fc,#416bfe,#4850f3,#4639da,#4743e7,#4851f3,#4465fd,#4564fd,#484ef1,#412cb9,#4756f6)"></i></div>
<svg id="ov" width="575" height="542" viewBox="0 0 575 542">
<style>text{font-family:"Liberation Sans", Arial, Helvetica, sans-serif;fill:#111}.t13{font-size:13px}.t14{font-size:14.3px}.ax{stroke:#262626;stroke-width:0.8;fill:none}</style>
<polyline points="61.4,71.3 61.5,75.2 61.6,72.6 61.7,71.1 61.8,64.5 61.9,74.3 62.0,77.4 62.2,74.1 62.3,83.6 62.4,83.3 62.5,80.1 62.6,71.9 62.7,82.7 62.8,64.8 62.9,78.2 63.0,82.1 63.1,87.1 63.2,75.1 63.4,72.5 63.5,73.2 63.6,62.6 63.7,63.8 63.8,71.1 63.9,63.8 64.0,83.9 64.1,79.4 64.2,78.4 64.3,75.9 64.4,80.2 64.5,74.0 64.7,68.4 64.8,71.4 64.9,78.3 65.0,76.1 65.1,82.1 65.2,67.7 65.3,78.4 65.4,80.4 65.5,79.6 65.6,71.5 65.7,65.9 65.8,70.3 66.0,70.5 66.1,68.8 66.2,77.7 66.3,73.8 66.4,73.1 66.5,80.0 66.6,78.9 66.7,73.8 66.8,81.7 66.9,83.2 67.0,78.2 67.1,82.0 67.2,67.0 67.4,75.3 67.5,74.2 67.6,74.0 67.7,74.0 67.8,72.8 67.9,76.7 68.0,75.1 68.1,81.3 68.2,75.4 68.3,81.9 68.4,76.4 68.5,86.2 68.7,83.2 68.8,70.9 68.9,71.6 69.0,45.5 69.1,71.6 69.2,73.4 69.3,79.7 69.4,80.4 69.5,59.0 69.6,77.5 69.7,82.1 69.8,80.6 70.0,79.8 70.1,82.2 70.2,73.4 70.3,78.7 70.4,79.1 70.5,75.6 70.6,81.4 70.7,80.0 70.8,71.0 70.9,74.3 71.0,64.4 71.2,77.7 71.3,73.5 71.4,70.1 71.5,73.3 71.6,73.3 71.7,71.1 71.8,75.8 71.9,73.3 72.0,72.4 72.1,71.6 72.2,80.3 72.3,68.7 72.5,75.9 72.6,74.2 72.7,68.9 72.8,73.2 72.9,70.6 73.0,72.6 73.1,69.8 73.2,68.9 73.3,73.4 73.4,59.1 73.5,66.7 73.6,73.0 73.8,68.4 73.9,78.2 74.0,65.4 74.1,79.6 74.2,69.8 74.3,73.8 74.4,76.3 74.5,65.4 74.6,78.9 74.7,78.2 74.8,68.3 74.9,69.6 75.0,76.0 75.2,77.3 75.3,71.8 75.4,83.0 75.5,81.3 75.6,78.4 75.7,80.5 75.8,80.9 75.9,66.2 76.0,78.7 76.1,81.1 76.2,80.4 76.3,90.6 76.5,84.6 76.6,87.2 76.7,69.4 76.8,74.3 76.9,68.8 77.0,80.2 77.1,81.6 77.2,63.9 77.3,67.1 77.4,69.8 77.5,76.0 77.7,73.4 77.8,81.9 77.9,81.5 78.0,81.8 78.1,77.1 78.2,76.3 78.3,81.0 78.4,78.8 78.5,74.7 78.6,73.6 78.7,60.4 78.8,81.9 79.0,66.8 79.1,67.5 79.2,84.2 79.3,79.6 79.4,68.7 79.5,76.1 79.6,69.9 79.7,59.8 79.8,72.4 79.9,65.8 80.0,83.0 80.1,76.8 80.2,63.7 80.4,59.2 80.5,71.0 80.6,63.6 80.7,67.8 80.8,78.3 80.9,66.1 81.0,83.9 81.1,62.5 81.2,74.1 81.3,62.8 81.4,66.8 81.5,73.1 81.7,74.8 81.8,72.9 81.9,72.2 82.0,62.6 82.1,77.6 82.2,69.3 82.3,59.7 82.4,62.8 82.5,66.8 82.6,65.8 82.7,62.4 82.8,55.6 83.0,60.1 83.1,62.9 83.2,45.0 83.3,55.2 83.4,50.6 83.5,52.7 83.6,59.6 83.7,56.8 83.8,50.1 83.9,53.3 84.0,46.4 84.2,58.6 84.3,47.7 84.4,45.8 84.5,56.1 84.6,52.6 84.7,44.5 84.8,62.5 84.9,56.2 85.0,63.3 85.1,57.4 85.2,55.6 85.3,49.9 85.5,44.9 85.6,63.1 85.7,63.1 85.8,58.8 85.9,57.3 86.0,62.0 86.1,56.7 86.2,46.4 86.3,55.6 86.4,69.5 86.5,51.8 86.6,62.2 86.8,55.7 86.9,51.6 87.0,56.6 87.1,60.6 87.2,60.9 87.3,48.9 87.4,56.8 87.5,55.8 87.6,48.0 87.7,51.7 87.8,52.3 87.9,50.8 88.0,62.5 88.2,70.0 88.3,64.0 88.4,58.8 88.5,69.4 88.6,68.7 88.7,65.2 88.8,57.2 88.9,59.3 89.0,60.3 89.1,70.8 89.2,69.9 89.3,63.3 89.5,53.0 89.6,64.6 89.7,62.3 89.8,57.5 89.9,56.0 90.0,58.2 90.1,52.5 90.2,60.3 90.3,49.7 90.4,49.3 90.5,38.8 90.7,50.4 90.8,58.7 90.9,49.0 91.0,50.3 91.1,46.7 91.2,55.9 91.3,51.6 91.4,46.8 91.5,61.7 91.6,63.6 91.7,59.6 91.8,58.4 91.9,54.3 92.1,47.1 92.2,55.6 92.3,52.5 92.4,57.9 92.5,61.0 92.6,55.9 92.7,51.9 92.8,53.2 92.9,54.6 93.0,51.0 93.1,70.8 93.2,47.4 93.4,55.8 93.5,60.1 93.6,52.5 93.7,64.3 93.8,67.2 93.9,54.5 94.0,34.7 94.1,54.6 94.2,64.4 94.3,66.0 94.4,72.6 94.5,73.8 94.7,62.8 94.8,65.8 94.9,65.2 95.0,67.8 95.1,73.3 95.2,75.7 95.3,69.0 95.4,69.9 95.5,63.8 95.6,37.5 95.7,63.6 95.8,70.4 96.0,73.5 96.1,76.7 96.2,62.7 96.3,69.8 96.4,74.7 96.5,77.1 96.6,76.9 96.7,66.0 96.8,79.3 96.9,71.2 97.0,76.8 97.2,81.5 97.3,79.5 97.4,75.0 97.5,83.7 97.6,78.5 97.7,73.1 97.8,73.8 97.9,68.3 98.0,64.6 98.1,68.7 98.2,72.6 98.3,72.5 98.4,55.9 98.6,58.0 98.7,58.3 98.8,72.2 98.9,66.3 99.0,75.9 99.1,74.9 99.2,66.8 99.3,68.3 99.4,70.9 99.5,81.0 99.6,73.8 99.8,71.9 99.9,74.9 100.0,72.0 100.1,63.7 100.2,80.6 100.3,81.4 100.4,82.9 100.5,86.2 100.6,76.2 100.7,78.7 100.8,77.5 100.9,75.5 101.0,29.1 101.2,76.5 101.3,74.4 101.4,70.8 101.5,77.1 101.6,84.6 101.7,90.5 101.8,81.0 101.9,80.7 102.0,89.6 102.1,83.5 102.2,90.9 102.3,89.1 102.5,90.1 102.6,86.3 102.7,88.3 102.8,77.7 102.9,88.0 103.0,84.7 103.1,87.6 103.2,71.6 103.3,86.6 103.4,80.4 103.5,75.2 103.7,76.8 103.8,72.5 103.9,86.5 104.0,85.6 104.1,88.0 104.2,80.3 104.3,81.1 104.4,82.5 104.5,66.6 104.6,78.0 104.7,78.0 104.8,82.8 104.9,82.1 105.1,90.9 105.2,77.8 105.3,92.2 105.4,90.4 105.5,89.7 105.6,81.3 105.7,81.9 105.8,91.2 105.9,95.4 106.0,87.1 106.1,79.7 106.2,88.2 106.4,79.8 106.5,74.5 106.6,83.6 106.7,76.6 106.8,84.9 106.9,84.1 107.0,82.9 107.1,82.2 107.2,86.7 107.3,80.4 107.4,83.6 107.5,58.3 107.7,69.7 107.8,88.7 107.9,83.5 108.0,85.1 108.1,84.8 108.2,77.9 108.3,72.7 108.4,82.5 108.5,87.9 108.6,79.3 108.7,74.5 108.8,88.0 109.0,88.1 109.1,84.6 109.2,80.6 109.3,81.9 109.4,84.3 109.5,86.4 109.6,79.5 109.7,78.6 109.8,87.8 109.9,91.3 110.0,89.8 110.2,94.9 110.3,88.9 110.4,74.3 110.5,11.7 110.6,72.4 110.7,80.3 110.8,78.9 110.9,81.8 111.0,78.4 111.1,80.2 111.2,81.3 111.3,77.6 111.5,70.1 111.6,83.8 111.7,68.7 111.8,61.8 111.9,72.2 112.0,76.0 112.1,74.2 112.2,80.8 112.3,76.8 112.4,77.4 112.5,70.2 112.6,67.9 112.8,78.8 112.9,75.7 113.0,71.7 113.1,76.2 113.2,71.3 113.3,68.6 113.4,65.4 113.5,76.1 113.6,70.2 113.7,61.1 113.8,69.6 113.9,79.4 114.0,68.3 114.2,69.9 114.3,76.2 114.4,67.6 114.5,72.1 114.6,73.6 114.7,67.0 114.8,70.5 114.9,69.9 115.0,79.6 115.1,78.9 115.2,73.8 115.3,73.9 115.5,87.0 115.6,82.7 115.7,86.8 115.8,90.3 115.9,90.6 116.0,86.8 116.1,82.7 116.2,88.2 116.3,91.4 116.4,80.4 116.5,72.0 116.6,25.5 116.8,3.3 116.9,28.8 117.0,66.2 117.1,75.1 117.2,59.4 117.3,55.6 117.4,72.6 117.5,64.5 117.6,71.3 117.7,68.6 117.8,73.3 117.9,65.9 118.1,65.6 118.2,74.1 118.3,72.2 118.4,69.2 118.5,67.9 118.6,72.1 118.7,79.3 118.8,84.3 118.9,71.4 119.0,69.0 119.1,71.8 119.2,81.3 119.4,79.4 119.5,78.3 119.6,76.7 119.7,83.1 119.8,87.1 119.9,72.5 120.0,73.8 120.1,72.5 120.2,88.7 120.3,86.3 120.4,87.5 120.5,79.2 120.7,87.2 120.8,76.4 120.9,84.5 121.0,72.8 121.1,73.6 121.2,75.1 121.3,83.3 121.4,67.3 121.5,71.2 121.6,69.5 121.7,57.2 121.8,73.9 122.0,73.2 122.1,76.6 122.2,74.4 122.3,75.0 122.4,49.3 122.5,72.0 122.6,69.5 122.7,61.3 122.8,74.8 122.9,72.1 123.0,64.3 123.2,74.0 123.3,67.4 123.4,66.5 123.5,73.0 123.6,49.6 123.7,66.7 123.8,72.8 123.9,71.8 124.0,75.5 124.1,73.1 124.2,78.1 124.3,76.3 124.5,75.9 124.6,73.9 124.7,75.0 124.8,74.5 124.9,69.7 125.0,74.0 125.1,69.9 125.2,72.2 125.3,71.8 125.4,69.5 125.5,71.6 125.6,73.3 125.8,73.5 125.9,72.0 126.0,62.1 126.1,75.5 126.2,72.2 126.3,77.1 126.4,66.7 126.5,74.2 126.6,82.4 126.7,72.1 126.8,74.3 126.9,70.8 127.0,79.5 127.2,77.2 127.3,69.9 127.4,66.4 127.5,71.6 127.6,67.6 127.7,60.6 127.8,68.0 127.9,63.0 128.0,19.4 128.1,64.2 128.2,73.1 128.3,73.6 128.5,76.8 128.6,51.1 128.7,68.1 128.8,57.3 128.9,72.3 129.0,64.6 129.1,61.1 129.2,61.6 129.3,69.0 129.4,58.6 129.5,78.4 129.7,80.7 129.8,70.4 129.9,55.9 130.0,68.8 130.1,81.6 130.2,69.7 130.3,61.8 130.4,67.8 130.5,73.9 130.6,75.6 130.7,64.6 130.8,75.1 130.9,74.8 131.1,79.3 131.2,72.1 131.3,70.2 131.4,74.4 131.5,79.7 131.6,68.4 131.7,68.8 131.8,64.5 131.9,63.1 132.0,63.5 132.1,66.4 132.2,49.2 132.4,64.3 132.5,72.1 132.6,81.3 132.7,75.1 132.8,77.3 132.9,70.6 133.0,74.6 133.1,77.2 133.2,69.7 133.3,67.5 133.4,66.1 133.5,83.0 133.7,72.1 133.8,74.2 133.9,75.4 134.0,81.6 134.1,74.4 134.2,61.5 134.3,66.7 134.4,73.5 134.5,74.8 134.6,70.0 134.7,62.9 134.8,67.2 135.0,77.7 135.1,70.7 135.2,73.4 135.3,79.1 135.4,72.6 135.5,66.7 135.6,76.9 135.7,78.2 135.8,72.5 135.9,74.2 136.0,69.9 136.2,76.1 136.3,72.1 136.4,71.4 136.5,72.9 136.6,73.9 136.7,65.6 136.8,63.0 136.9,74.3 137.0,61.7 137.1,66.8 137.2,73.1 137.3,63.5 137.4,62.1 137.6,57.6 137.7,58.1 137.8,66.5 137.9,72.2 138.0,61.4 138.1,69.3 138.2,68.9 138.3,66.3 138.4,60.6 138.5,73.2 138.6,60.6 138.8,67.7 138.9,62.3 139.0,58.4 139.1,65.8 139.2,53.3 139.3,67.2 139.4,69.2 139.5,68.6 139.6,75.2 139.7,72.7 139.8,66.9 139.9,58.5 140.1,66.5 140.2,73.6 140.3,54.4 140.4,58.4 140.5,67.7 140.6,64.6 140.7,69.7 140.8,69.7 140.9,71.7 141.0,63.3 141.1,68.5 141.2,60.2 141.3,67.4 141.5,64.5 141.6,60.2 141.7,62.9 141.8,63.6 141.9,64.7 142.0,64.7 142.1,66.4 142.2,61.9 142.3,62.3 142.4,72.8 142.5,72.0 142.7,63.6 142.8,68.5 142.9,57.6 143.0,71.2 143.1,68.2 143.2,66.6 143.3,73.8 143.4,74.4 143.5,65.8 143.6,63.5 143.7,65.5 143.8,67.6 143.9,73.4 144.1,67.9 144.2,60.7 144.3,74.7 144.4,76.4 144.5,75.5 144.6,70.3 144.7,77.8 144.8,87.5 144.9,77.6 145.0,87.5 145.1,87.4 145.2,82.8 145.4,83.8 145.5,41.1 145.6,79.0 145.7,79.8 145.8,82.6 145.9,79.7 146.0,75.5 146.1,70.0 146.2,73.6 146.3,66.8 146.4,57.6 146.5,65.2 146.7,71.8 146.8,76.5 146.9,66.2 147.0,69.4 147.1,67.3 147.2,69.5 147.3,74.8 147.4,73.1 147.5,78.7 147.6,69.2 147.7,81.8 147.8,86.5 148.0,77.1 148.1,83.0 148.2,89.4 148.3,91.0 148.4,84.8 148.5,87.6 148.6,88.7 148.7,82.3 148.8,78.9 148.9,88.8 149.0,90.5 149.2,85.4 149.3,79.6 149.4,83.9 149.5,88.0 149.6,76.7 149.7,82.1 149.8,75.4 149.9,86.4 150.0,82.0 150.1,77.3 150.2,76.6 150.3,78.7 150.4,70.6 150.6,84.1 150.7,77.2 150.8,77.7 150.9,71.8 151.0,73.2 151.1,79.3 151.2,73.7 151.3,65.7 151.4,72.0 151.5,62.6 151.6,67.5 151.8,60.8 151.9,72.6 152.0,74.6 152.1,77.8 152.2,77.9 152.3,81.5 152.4,78.2 152.5,82.8 152.6,76.9 152.7,73.5 152.8,72.4 152.9,77.9 153.0,68.5 153.2,79.0 153.3,72.1 153.4,76.5 153.5,76.9 153.6,74.0 153.7,77.1 153.8,70.4 153.9,70.3 154.0,74.5 154.1,76.1 154.2,88.8 154.3,77.6 154.5,77.5 154.6,71.1 154.7,75.5 154.8,72.7 154.9,66.2 155.0,76.1 155.1,66.6 155.2,63.7 155.3,80.2 155.4,56.8 155.5,80.3 155.7,78.4 155.8,72.5 155.9,72.0 156.0,65.3 156.1,75.5 156.2,68.0 156.3,71.1 156.4,70.4 156.5,68.1 156.6,72.3 156.7,77.7 156.8,75.2 156.9,84.0 157.1,83.9 157.2,75.7 157.3,75.2 157.4,72.9 157.5,77.2 157.6,72.4 157.7,64.0 157.8,72.4 157.9,72.4 158.0,90.5 158.1,68.1 158.2,83.7 158.4,86.4 158.5,80.5 158.6,84.1 158.7,84.0 158.8,86.7 158.9,92.0 159.0,90.4 159.1,83.4 159.2,80.7 159.3,76.9 159.4,85.4 159.6,81.3 159.7,75.2 159.8,78.0 159.9,63.1 160.0,60.3 160.1,86.8 160.2,80.2 160.3,85.1 160.4,93.8 160.5,81.1 160.6,85.9 160.7,88.6 160.8,72.7 161.0,71.5 161.1,81.3 161.2,75.8 161.3,69.8 161.4,74.5 161.5,76.3 161.6,75.1 161.7,86.6 161.8,78.7 161.9,78.6 162.0,69.1 162.2,71.4 162.3,78.3 162.4,60.9 162.5,73.7 162.6,68.2 162.7,68.5 162.8,74.5 162.9,74.7 163.0,76.5 163.1,74.5 163.2,77.6 163.3,67.5 163.4,72.9 163.6,69.6 163.7,68.2 163.8,81.0 163.9,80.2 164.0,81.2 164.1,83.0 164.2,74.3 164.3,72.0 164.4,69.6 164.5,78.1 164.6,71.4 164.8,62.5 164.9,68.7 165.0,73.1 165.1,79.0 165.2,78.0 165.3,71.8 165.4,74.1 165.5,76.8 165.6,73.9 165.7,74.0 165.8,73.6 165.9,74.1 166.0,73.7 166.2,70.9 166.3,63.9 166.4,74.9 166.5,65.4 166.6,69.2 166.7,79.1 166.8,65.9 166.9,65.5 167.0,61.4 167.1,54.5 167.2,79.7 167.3,75.8 167.5,70.1 167.6,64.3 167.7,58.7 167.8,74.3 167.9,63.0 168.0,62.8 168.1,65.7 168.2,74.8 168.3,64.2 168.4,61.1 168.5,69.6 168.7,76.8 168.8,74.4 168.9,58.3 169.0,74.8 169.1,66.5 169.2,66.1 169.3,57.1 169.4,67.6 169.5,67.8 169.6,64.6 169.7,70.8 169.8,72.9 169.9,69.0 170.1,72.9 170.2,71.7 170.3,80.2 170.4,57.7 170.5,72.1 170.6,73.0 170.7,75.5 170.8,69.6 170.9,48.8 171.0,84.7 171.1,81.5 171.2,82.2 171.4,70.7 171.5,83.0 171.6,82.6 171.7,76.7 171.8,79.3 171.9,75.9 172.0,84.3 172.1,71.5 172.2,71.8 172.3,61.9 172.4,75.3 172.5,75.6 172.7,77.7 172.8,52.4 172.9,71.1 173.0,73.3 173.1,76.8 173.2,76.4 173.3,80.0 173.4,73.4 173.5,75.3 173.6,78.0 173.7,62.7 173.8,72.8 174.0,75.0 174.1,74.6 174.2,73.7 174.3,69.9 174.4,80.3 174.5,78.2 174.6,81.2 174.7,90.5 174.8,75.1 174.9,82.4 175.0,80.7 175.2,72.0 175.3,85.6 175.4,93.1 175.5,82.6 175.6,86.8 175.7,83.5 175.8,77.3 175.9,86.7 176.0,82.1 176.1,75.5 176.2,77.3 176.3,79.1 176.4,87.7 176.6,87.2 176.7,79.2 176.8,85.7 176.9,89.0 177.0,80.9 177.1,76.4 177.2,75.6 177.3,78.8 177.4,83.1 177.5,77.8 177.6,75.6 177.8,73.2 177.9,70.9 178.0,65.5 178.1,64.2 178.2,67.1 178.3,90.2 178.4,85.5 178.5,83.6 178.6,75.1 178.7,58.0 178.8,79.7 178.9,71.6 179.1,76.8 179.2,73.6 179.3,80.3 179.4,83.1 179.5,81.6 179.6,90.3 179.7,81.2 179.8,90.6 179.9,70.8 180.0,39.5 180.1,72.8 180.2,86.3 180.3,84.4 180.5,83.7 180.6,87.3 180.7,87.6 180.8,89.3 180.9,91.0 181.0,90.6 181.1,81.4 181.2,87.3 181.3,89.6 181.4,91.3 181.5,79.2 181.6,89.5 181.8,84.3 181.9,78.5 182.0,93.0 182.1,80.9 182.2,86.0 182.3,79.1 182.4,87.5 182.5,80.8 182.6,82.6 182.7,80.4 182.8,79.6 182.9,82.4 183.1,83.5 183.2,91.7 183.3,88.7 183.4,78.6 183.5,73.3 183.6,83.3 183.7,81.1 183.8,87.9 183.9,79.9 184.0,76.9 184.1,81.9 184.2,73.0 184.4,72.8 184.5,69.8 184.6,76.3 184.7,76.1 184.8,75.5 184.9,76.8 185.0,82.2 185.1,84.2 185.2,78.7 185.3,78.4 185.4,76.8 185.5,80.2 185.7,71.7 185.8,78.2 185.9,81.7 186.0,86.4 186.1,78.8 186.2,70.1 186.3,77.9 186.4,74.1 186.5,86.6 186.6,66.8 186.7,76.8 186.8,65.9 187.0,72.8 187.1,79.5 187.2,66.5 187.3,78.2 187.4,82.5 187.5,76.5 187.6,69.4 187.7,75.6 187.8,80.3 187.9,80.7 188.0,82.3 188.2,80.1 188.3,85.9 188.4,77.6 188.5,68.1 188.6,76.1 188.7,77.9 188.8,70.6 188.9,85.2 189.0,80.2 189.1,87.6 189.2,80.8 189.3,75.7 189.5,57.2 189.6,66.6 189.7,72.8 189.8,67.1 189.9,66.8 190.0,75.0 190.1,84.5 190.2,79.5 190.3,80.7 190.4,96.2 190.5,79.1 190.6,87.0 190.8,84.0 190.9,72.8 191.0,86.7 191.1,76.6 191.2,86.3 191.3,83.2 191.4,85.6 191.5,86.8 191.6,89.0 191.7,83.2 191.8,89.1 191.9,85.6 192.1,79.9 192.2,77.7 192.3,87.5 192.4,77.4 192.5,80.2 192.6,77.3 192.7,77.8 192.8,80.0 192.9,83.0 193.0,67.3 193.1,76.6 193.2,87.9 193.4,87.0 193.5,83.9 193.6,79.6 193.7,87.4 193.8,70.5 193.9,77.8 194.0,79.9 194.1,86.0 194.2,86.1 194.3,88.4 194.4,84.3 194.5,95.8 194.7,95.2 194.8,87.9 194.9,93.4 195.0,92.6 195.1,95.7 195.2,92.7 195.3,86.4 195.4,91.2 195.5,87.3 195.6,92.3 195.7,83.7 195.8,80.7 195.9,89.6 196.1,83.2 196.2,95.0 196.3,87.4 196.4,84.9 196.5,91.5 196.6,89.5 196.7,91.7 196.8,94.6 196.9,94.5 197.0,89.4 197.1,80.9 197.2,79.5 197.4,82.4 197.5,83.8 197.6,81.5 197.7,78.9 197.8,84.6 197.9,84.7 198.0,79.7 198.1,83.6 198.2,74.8 198.3,87.5 198.4,82.8 198.5,75.8 198.7,85.7 198.8,68.4 198.9,79.3 199.0,52.2 199.1,69.9 199.2,73.2 199.3,67.7 199.4,67.2 199.5,76.4 199.6,73.9 199.7,75.3 199.8,80.3 200.0,85.5 200.1,83.6 200.2,81.2 200.3,89.5 200.4,83.6 200.5,76.5 200.6,73.8 200.7,74.7 200.8,67.9 200.9,71.1 201.0,54.7 201.2,66.7 201.3,78.4 201.4,79.0 201.5,77.8 201.6,84.0 201.7,76.5 201.8,73.6 201.9,70.0 202.0,77.2 202.1,68.5 202.2,78.0 202.3,90.8 202.4,74.6 202.6,79.6 202.7,70.4 202.8,79.6 202.9,81.9 203.0,77.5 203.1,84.8 203.2,84.8 203.3,81.2 203.4,83.3 203.5,80.4 203.6,87.7 203.8,82.1 203.9,87.9 204.0,78.9 204.1,81.0 204.2,80.1 204.3,92.6 204.4,71.3 204.5,81.2 204.6,82.7 204.7,81.1 204.8,70.4 204.9,83.4 205.1,71.6 205.2,77.4 205.3,86.5 205.4,88.5 205.5,80.8 205.6,78.8 205.7,78.3 205.8,75.9 205.9,86.6 206.0,83.7 206.1,79.2 206.2,85.3 206.3,85.9 206.5,92.1 206.6,85.0 206.7,83.2 206.8,79.5 206.9,86.2 207.0,89.2 207.1,84.8 207.2,73.6 207.3,77.1 207.4,80.6 207.5,78.6 207.7,73.0 207.8,67.1 207.9,68.7 208.0,56.8 208.1,67.4 208.2,76.0 208.3,83.7 208.4,76.7 208.5,63.9 208.6,76.2 208.7,66.8 208.8,69.8 209.0,80.7 209.1,62.5 209.2,67.8 209.3,69.6 209.4,72.8 209.5,73.9 209.6,83.1 209.7,76.1 209.8,77.0 209.9,78.6 210.0,74.6 210.1,66.6 210.2,67.8 210.4,70.5 210.5,80.8 210.6,70.1 210.7,82.3 210.8,88.3 210.9,79.2 211.0,77.3 211.1,80.7 211.2,77.0 211.3,83.3 211.4,93.0 211.6,91.8 211.7,92.3 211.8,80.7 211.9,83.0 212.0,96.1 212.1,85.5 212.2,86.4 212.3,83.0 212.4,79.4 212.5,83.8 212.6,88.1 212.7,95.5 212.9,91.1 213.0,89.1 213.1,82.7 213.2,82.9 213.3,87.3 213.4,82.1 213.5,84.3 213.6,83.6 213.7,78.7 213.8,78.1 213.9,79.7 214.0,85.3 214.2,74.9 214.3,85.2 214.4,70.4 214.5,79.1 214.6,78.6 214.7,75.6 214.8,73.8 214.9,73.1 215.0,75.0 215.1,84.7 215.2,74.1 215.3,77.4 215.4,72.9 215.6,69.1 215.7,76.2 215.8,81.9 215.9,75.9 216.0,54.2 216.1,69.2 216.2,81.1 216.3,85.3 216.4,75.0 216.5,77.0 216.6,67.9 216.8,68.6 216.9,73.7 217.0,75.2 217.1,74.6 217.2,78.5 217.3,75.1 217.4,76.0 217.5,67.8 217.6,74.5 217.7,75.3 217.8,76.1 217.9,75.0 218.0,74.2 218.2,78.7 218.3,64.4 218.4,78.4 218.5,64.0 218.6,69.9 218.7,72.9 218.8,76.4 218.9,80.8 219.0,73.6 219.1,84.9 219.2,76.4 219.3,73.2 219.5,78.6 219.6,72.7 219.7,63.1 219.8,74.4 219.9,76.3 220.0,78.7 220.1,69.2 220.2,66.0 220.3,70.7 220.4,68.9 220.5,64.0 220.7,65.8 220.8,68.2 220.9,68.9 221.0,74.0 221.1,75.1 221.2,65.3 221.3,71.3 221.4,73.8 221.5,40.0 221.6,74.4 221.7,62.1 221.8,68.9 221.9,77.4 222.1,61.6 222.2,72.4 222.3,65.2 222.4,69.4 222.5,71.5 222.6,67.9 222.7,72.2 222.8,58.5 222.9,59.4 223.0,65.3 223.1,68.6 223.2,56.7 223.4,54.6 223.5,64.3 223.6,61.8 223.7,66.8 223.8,70.5 223.9,71.9 224.0,70.2 224.1,66.6 224.2,70.4 224.3,82.1 224.4,61.2 224.6,61.2 224.7,63.6 224.8,59.6 224.9,71.3 225.0,61.4 225.1,60.1 225.2,54.2 225.3,62.9 225.4,60.2 225.5,58.5 225.6,55.0 225.7,50.1 225.8,61.8 226.0,51.0 226.1,55.9 226.2,55.7 226.3,57.2 226.4,62.0 226.5,68.3 226.6,59.7 226.7,53.0 226.8,54.8 226.9,51.3 227.0,51.4 227.2,51.3 227.3,43.2 227.4,42.8 227.5,40.9 227.6,44.7 227.7,36.5 227.8,40.3 227.9,41.9 228.0,47.0 228.1,49.2 228.2,41.3 228.3,51.2 228.5,43.6 228.6,49.6 228.7,47.4 228.8,40.4 228.9,51.4 229.0,53.6 229.1,49.8 229.2,54.2 229.3,48.8 229.4,48.3 229.5,53.2 229.6,37.1 229.8,23.5 229.9,42.1 230.0,39.5 230.1,52.8 230.2,52.0 230.3,43.8 230.4,46.7 230.5,46.2 230.6,37.1 230.7,40.8 230.8,41.7 230.9,47.0 231.1,48.3 231.2,41.9 231.3,49.4 231.4,50.6 231.5,46.3 231.6,58.2 231.7,48.0 231.8,53.5 231.9,56.1 232.0,51.1 232.1,52.8 232.2,45.0 232.4,44.7 232.5,56.9 232.6,59.4 232.7,57.0 232.8,56.3 232.9,42.7 233.0,50.7 233.1,60.5 233.2,54.9 233.3,45.3 233.4,43.2 233.5,60.8 233.7,57.1 233.8,51.8 233.9,50.5 234.0,41.5 234.1,40.4 234.2,65.6 234.3,63.7 234.4,64.4 234.5,59.3 234.6,57.9 234.7,52.2 234.8,54.2 234.9,57.2 235.1,60.5 235.2,53.2 235.3,53.5 235.4,57.7 235.5,54.3 235.6,52.4 235.7,61.4 235.8,61.4 235.9,61.7 236.0,58.3 236.1,56.8 236.2,58.4 236.4,66.1 236.5,66.5 236.6,62.9 236.7,61.4 236.8,54.0 236.9,57.1 237.0,62.6 237.1,52.4 237.2,50.3 237.3,65.1 237.4,64.1 237.5,56.9 237.7,59.4 237.8,54.4 237.9,54.0 238.0,34.1 238.1,54.0 238.2,53.8 238.3,50.0 238.4,60.4 238.5,60.8 238.6,54.4 238.7,53.4 238.8,56.4 239.0,38.8 239.1,59.6 239.2,66.7 239.3,64.3 239.4,54.9 239.5,48.8 239.6,65.7 239.7,58.7 239.8,54.2 239.9,50.0 240.0,49.6 240.2,63.0 240.3,70.5 240.4,72.3 240.5,68.7 240.6,64.8 240.7,64.2 240.8,67.8 240.9,70.4 241.0,63.8 241.1,69.8 241.2,70.1 241.3,60.7 241.4,77.1 241.6,78.6 241.7,74.1 241.8,75.5 241.9,74.8 242.0,73.0 242.1,66.8 242.2,69.7 242.3,58.6 242.4,60.0 242.5,67.4 242.6,75.9 242.8,66.5 242.9,74.1 243.0,40.2 243.1,74.9 243.2,68.4 243.3,71.5 243.4,67.0 243.5,67.5 243.6,49.4 243.7,61.0 243.8,76.4 243.9,73.8 244.1,73.5 244.2,71.3 244.3,65.8 244.4,51.0 244.5,54.9 244.6,59.9 244.7,65.4 244.8,64.2 244.9,56.4 245.0,70.9 245.1,74.8 245.2,60.3 245.3,64.1 245.5,63.5 245.6,67.6 245.7,50.2 245.8,67.0 245.9,61.5 246.0,59.5 246.1,67.3 246.2,67.6 246.3,58.6 246.4,69.4 246.5,69.0 246.7,68.1 246.8,63.7 246.9,62.7 247.0,76.5 247.1,77.8 247.2,74.1 247.3,79.2 247.4,88.9 247.5,73.2 247.6,71.3 247.7,75.1 247.8,78.5 248.0,75.7 248.1,65.8 248.2,71.6 248.3,69.9 248.4,73.6 248.5,78.3 248.6,74.4 248.7,69.3 248.8,62.5 248.9,70.2 249.0,46.1 249.1,63.5 249.2,68.4 249.4,77.5 249.5,63.7 249.6,78.0 249.7,69.5 249.8,61.4 249.9,64.1 250.0,68.0 250.1,57.7 250.2,53.5 250.3,58.6 250.4,68.7 250.6,63.3 250.7,62.8 250.8,63.1 250.9,48.9 251.0,61.3 251.1,68.5 251.2,64.6 251.3,74.0 251.4,69.1 251.5,65.6 251.6,53.2 251.7,56.3 251.9,69.9 252.0,61.1 252.1,73.5 252.2,69.6 252.3,64.3 252.4,68.8 252.5,80.6 252.6,77.6 252.7,70.6 252.8,57.2 252.9,74.3 253.0,76.9 253.2,75.2 253.3,62.1 253.4,74.2 253.5,67.7 253.6,63.6 253.7,72.8 253.8,72.9 253.9,64.0 254.0,65.7 254.1,66.4 254.2,67.3 254.3,68.9 254.4,73.5 254.6,72.9 254.7,69.3 254.8,67.5 254.9,67.0 255.0,68.6 255.1,68.5 255.2,70.0 255.3,69.1 255.4,64.3 255.5,71.4 255.6,67.4 255.8,76.4 255.9,72.9 256.0,69.2 256.1,64.1 256.2,65.2 256.3,63.1 256.4,68.9 256.5,69.2 256.6,68.1 256.7,58.7 256.8,64.6 256.9,60.9 257.0,71.9 257.2,64.7 257.3,68.0 257.4,67.6 257.5,60.3 257.6,67.0 257.7,72.0 257.8,66.7 257.9,56.9 258.0,67.2 258.1,63.0 258.2,69.3 258.3,61.0 258.5,36.6 258.6,61.2 258.7,61.5 258.8,63.3 258.9,71.4 259.0,59.4 259.1,49.3 259.2,76.6 259.3,65.7 259.4,78.3 259.5,70.6 259.6,68.4 259.8,70.5 259.9,70.9 260.0,77.7 260.1,68.2 260.2,69.5 260.3,59.2 260.4,66.5 260.5,63.2 260.6,64.5 260.7,53.7 260.8,58.0 260.9,58.2 261.1,50.8 261.2,56.8 261.3,65.1 261.4,63.5 261.5,59.1 261.6,66.4 261.7,51.2 261.8,48.4 261.9,58.8 262.0,52.7 262.1,64.3 262.2,63.7 262.4,55.1 262.5,47.5 262.6,54.0 262.7,68.0 262.8,63.7 262.9,61.6 263.0,61.1 263.1,70.8 263.2,65.1 263.3,64.4 263.4,59.2 263.6,61.8 263.7,64.9 263.8,71.5 263.9,74.4 264.0,67.7 264.1,66.0 264.2,53.6 264.3,55.1 264.4,60.7 264.5,52.8 264.6,63.2 264.7,46.7 264.8,61.9 265.0,54.1 265.1,45.8 265.2,68.3 265.3,65.3 265.4,52.0 265.5,62.1 265.6,66.8 265.7,55.5 265.8,61.2 265.9,56.6 266.0,53.0 266.1,62.7 266.3,58.4 266.4,67.1 266.5,44.6 266.6,76.2 266.7,67.8 266.8,65.6 266.9,63.5 267.0,58.5 267.1,60.5 267.2,66.6 267.3,60.3 267.4,61.8 267.6,58.4 267.7,48.6 267.8,61.8 267.9,60.8 268.0,53.7 268.1,57.9 268.2,63.8 268.3,65.6 268.4,52.4 268.5,59.8 268.6,62.7 268.8,72.2 268.9,68.1 269.0,67.4 269.1,59.5 269.2,65.7 269.3,58.9 269.4,57.0 269.5,51.5 269.6,67.9 269.7,59.2 269.8,63.9 269.9,59.7 270.1,48.0 270.2,58.3 270.3,36.8 270.4,65.2 270.5,58.4 270.6,57.5 270.7,56.0 270.8,54.9 270.9,51.5 271.0,58.2 271.1,66.3 271.2,69.1 271.4,74.6 271.5,67.0 271.6,73.2 271.7,62.8 271.8,62.3 271.9,65.5 272.0,65.2 272.1,67.0 272.2,71.9 272.3,68.2 272.4,72.4 272.5,72.9 272.6,76.8 272.8,59.6 272.9,68.7 273.0,73.9 273.1,65.7 273.2,68.3 273.3,70.2 273.4,67.3 273.5,65.5 273.6,68.1 273.7,71.1 273.8,70.8 273.9,54.2 274.1,62.1 274.2,65.2 274.3,58.1 274.4,59.3 274.5,62.4 274.6,64.6 274.7,50.8 274.8,62.4 274.9,61.2 275.0,67.1 275.1,53.9 275.2,56.3 275.4,64.9 275.5,60.3 275.6,59.9 275.7,67.5 275.8,53.8 275.9,59.7 276.0,58.4 276.1,65.8 276.2,53.7 276.3,61.7 276.4,62.4 276.5,50.2 276.7,63.9 276.8,64.6 276.9,64.4 277.0,58.4 277.1,62.7 277.2,53.8 277.3,57.5 277.4,54.6 277.5,59.5 277.6,58.4 277.7,52.2 277.8,21.3 278.0,58.3 278.1,54.1 278.2,62.6 278.3,61.0 278.4,55.3 278.5,49.7 278.6,34.1 278.7,48.0 278.8,60.4 278.9,56.7 279.0,45.7 279.1,55.1 279.3,59.6 279.4,54.1 279.5,59.7 279.6,64.0 279.7,67.9 279.8,63.8 279.9,46.6 280.0,61.2 280.1,62.0 280.2,62.3 280.3,54.7 280.4,59.0 280.6,52.5 280.7,54.4 280.8,41.6 280.9,48.6 281.0,54.3 281.1,60.1 281.2,53.4 281.3,41.6 281.4,55.7 281.5,48.9 281.6,49.9 281.8,36.2 281.9,55.3 282.0,58.9 282.1,47.8 282.2,56.2 282.3,58.3 282.4,46.1 282.5,47.6 282.6,58.9 282.7,60.1 282.8,52.4 282.9,63.1 283.1,51.6 283.2,58.0 283.3,51.6 283.4,58.3 283.5,53.8 283.6,61.3 283.7,61.8 283.8,61.1 283.9,66.3 284.0,64.7 284.1,66.5 284.2,67.8 284.3,64.5 284.5,62.6 284.6,63.3 284.7,59.6 284.8,51.4 284.9,53.2 285.0,71.2 285.1,73.9 285.2,60.5 285.3,70.2 285.4,67.2 285.5,69.0 285.6,68.1 285.8,73.3 285.9,76.1 286.0,72.3 286.1,62.5 286.2,63.8 286.3,67.8 286.4,63.2 286.5,64.5 286.6,67.6 286.7,76.6 286.8,76.6 286.9,64.2 287.1,79.6 287.2,71.1 287.3,54.1 287.4,58.9 287.5,41.5 287.6,47.2 287.7,58.4 287.8,55.0 287.9,54.4 288.0,59.5 288.1,62.6 288.2,63.1 288.4,67.0 288.5,65.8 288.6,65.2 288.7,63.5 288.8,68.0 288.9,61.3 289.0,68.0 289.1,72.5 289.2,62.7 289.3,65.5 289.4,60.0 289.6,55.6 289.7,60.0 289.8,59.0 289.9,62.9 290.0,54.8 290.1,57.8 290.2,57.1 290.3,70.3 290.4,64.4 290.5,74.4 290.6,63.4 290.7,56.4 290.9,54.9 291.0,61.1 291.1,58.5 291.2,63.4 291.3,63.4 291.4,54.1 291.5,58.1 291.6,59.3 291.7,69.7 291.8,61.6 291.9,68.8 292.0,69.9 292.1,68.1 292.3,73.5 292.4,69.0 292.5,32.7 292.6,68.2 292.7,73.0 292.8,74.1 292.9,80.3 293.0,72.1 293.1,72.4 293.2,68.9 293.3,81.6 293.4,85.0 293.6,71.2 293.7,80.1 293.8,78.1 293.9,78.0 294.0,73.6 294.1,83.8 294.2,70.7 294.3,76.3 294.4,78.7 294.5,77.2 294.6,86.4 294.8,89.8 294.9,91.9 295.0,85.5 295.1,75.9 295.2,70.8 295.3,78.1 295.4,72.4 295.5,77.8 295.6,79.3 295.7,77.0 295.8,65.8 295.9,73.6 296.0,72.9 296.2,66.3 296.3,69.2 296.4,79.6 296.5,78.7 296.6,84.1 296.7,80.5 296.8,72.6 296.9,74.8 297.0,44.9 297.1,75.8 297.2,87.7 297.3,70.3 297.5,83.9 297.6,75.1 297.7,78.8 297.8,77.1 297.9,80.2 298.0,71.4 298.1,75.4 298.2,64.1 298.3,78.3 298.4,75.3 298.5,74.0 298.6,62.4 298.8,74.5 298.9,68.6 299.0,75.4 299.1,77.3 299.2,79.9 299.3,82.8 299.4,72.6 299.5,74.3 299.6,77.3 299.7,75.7 299.8,70.4 299.9,65.2 300.1,69.6 300.2,64.0 300.3,64.7 300.4,60.7 300.5,65.2 300.6,66.9 300.7,81.3 300.8,75.5 300.9,82.3 301.0,83.8 301.1,75.8 301.2,69.0 301.4,63.8 301.5,73.6 301.6,79.3 301.7,75.7 301.8,72.2 301.9,61.2 302.0,64.9 302.1,68.7 302.2,73.8 302.3,71.2 302.4,76.7 302.6,78.4 302.7,69.6 302.8,83.6 302.9,82.3 303.0,72.2 303.1,75.9 303.2,73.9 303.3,75.8 303.4,67.8 303.5,69.6 303.6,74.5 303.7,64.3 303.8,66.7 304.0,77.7 304.1,68.9 304.2,76.7 304.3,62.9 304.4,45.7 304.5,48.5 304.6,75.9 304.7,74.3 304.8,66.1 304.9,83.5 305.0,68.2 305.1,59.7 305.3,64.2 305.4,78.1 305.5,70.3 305.6,79.9 305.7,60.1 305.8,64.3 305.9,75.4 306.0,75.0 306.1,81.0 306.2,75.8 306.3,70.4 306.4,70.1 306.6,74.3 306.7,70.5 306.8,80.7 306.9,80.4 307.0,79.0 307.1,78.7 307.2,77.8 307.3,76.7 307.4,81.6 307.5,91.7 307.6,81.9 307.8,85.9 307.9,85.2 308.0,83.6 308.1,71.9 308.2,75.8 308.3,93.2 308.4,72.6 308.5,78.4 308.6,76.6 308.7,78.9 308.8,69.3 308.9,78.0 309.1,72.5 309.2,64.4 309.3,64.3 309.4,66.1 309.5,79.0 309.6,76.2 309.7,84.6 309.8,83.2 309.9,85.1 310.0,72.7 310.1,85.0 310.2,87.8 310.4,72.1 310.5,71.8 310.6,67.5 310.7,70.7 310.8,79.0 310.9,64.9 311.0,82.2 311.1,79.2 311.2,81.6 311.3,82.6 311.4,83.5 311.5,71.6 311.6,77.6 311.8,74.3 311.9,78.7 312.0,79.0 312.1,80.6 312.2,79.3 312.3,80.5 312.4,79.7 312.5,79.9 312.6,74.1 312.7,67.0 312.8,68.8 312.9,73.3 313.1,84.0 313.2,64.4 313.3,72.0 313.4,78.1 313.5,84.1 313.6,77.8 313.7,78.4 313.8,76.7 313.9,69.0 314.0,74.1 314.1,76.6 314.2,67.5 314.4,74.3 314.5,74.5 314.6,79.4 314.7,76.8 314.8,74.2 314.9,83.6 315.0,78.8 315.1,79.8 315.2,84.3 315.3,77.8 315.4,70.2 315.6,75.7 315.7,73.6 315.8,71.5 315.9,68.1 316.0,71.0 316.1,82.5 316.2,79.4 316.3,69.6 316.4,70.7 316.5,80.0 316.6,74.2 316.7,83.1 316.8,83.9 317.0,83.8 317.1,83.7 317.2,80.9 317.3,74.2 317.4,74.3 317.5,73.3 317.6,75.8 317.7,79.9 317.8,79.4 317.9,82.7 318.0,82.0 318.1,75.8 318.3,75.6 318.4,78.3 318.5,78.4 318.6,69.2 318.7,62.3 318.8,77.2 318.9,76.4 319.0,75.4 319.1,71.3 319.2,78.7 319.3,73.2 319.4,70.6 319.6,75.0 319.7,73.1 319.8,85.3 319.9,88.9 320.0,73.0 320.1,76.3 320.2,65.8 320.3,77.4 320.4,74.9 320.5,77.6 320.6,85.3 320.7,78.1 320.9,64.4 321.0,31.1 321.1,78.0 321.2,82.4 321.3,77.9 321.4,73.5 321.5,79.1 321.6,77.1 321.7,48.6 321.8,67.3 321.9,89.0 322.0,83.9 322.2,80.4 322.3,83.8 322.4,77.9 322.5,82.5 322.6,74.4 322.7,72.9 322.8,69.4 322.9,69.6 323.0,72.3 323.1,70.7 323.2,74.9 323.3,76.8 323.5,74.4 323.6,76.4 323.7,72.5 323.8,67.3 323.9,72.0 324.0,66.6 324.1,62.0 324.2,47.5 324.3,56.9 324.4,67.9 324.5,87.7 324.6,77.5 324.8,80.0 324.9,75.8 325.0,81.5 325.1,79.8 325.2,74.6 325.3,72.9 325.4,80.3 325.5,82.2 325.6,74.4 325.7,78.8 325.8,72.8 325.9,77.9 326.1,76.7 326.2,61.0 326.3,69.7 326.4,75.9 326.5,68.5 326.6,73.5 326.7,75.3 326.8,61.8 326.9,69.8 327.0,72.8 327.1,66.0 327.2,78.7 327.4,74.5 327.5,81.7 327.6,71.7 327.7,76.5 327.8,74.5 327.9,71.8 328.0,80.3 328.1,78.9 328.2,70.4 328.3,70.8 328.4,79.4 328.5,70.8 328.7,75.0 328.8,79.3 328.9,78.0 329.0,77.5 329.1,73.7 329.2,73.4 329.3,82.8 329.4,72.7 329.5,75.4 329.6,66.1 329.7,70.2 329.8,56.0 330.0,62.8 330.1,71.7 330.2,53.5 330.3,61.4 330.4,50.8 330.5,53.9 330.6,66.7 330.7,66.1 330.8,64.2 330.9,68.5 331.0,48.4 331.1,69.6 331.3,72.5 331.4,70.3 331.5,71.5 331.6,70.6 331.7,74.0 331.8,64.7 331.9,64.3 332.0,75.3 332.1,67.8 332.2,68.8 332.3,67.6 332.4,75.0 332.6,70.2 332.7,67.4 332.8,62.6 332.9,58.8 333.0,75.1 333.1,77.0 333.2,74.2 333.3,78.7 333.4,78.3 333.5,77.3 333.6,80.3 333.7,78.2 333.9,89.1 334.0,81.0 334.1,80.4 334.2,74.3 334.3,81.3 334.4,79.7 334.5,82.6 334.6,76.8 334.7,75.2 334.8,72.2 334.9,78.6 335.1,85.8 335.2,90.9 335.3,76.1 335.4,85.0 335.5,71.7 335.6,76.4 335.7,63.6 335.8,71.1 335.9,74.3 336.0,73.2 336.1,75.2 336.2,78.7 336.3,73.4 336.5,75.7 336.6,70.9 336.7,66.1 336.8,64.4 336.9,72.9 337.0,82.1 337.1,66.5 337.2,66.8 337.3,78.6 337.4,71.2 337.5,67.3 337.6,66.8 337.8,72.4 337.9,73.3 338.0,72.3 338.1,63.4 338.2,77.5 338.3,76.9 338.4,82.8 338.5,74.5 338.6,74.3 338.7,73.7 338.8,87.2 338.9,77.8 339.1,71.7 339.2,76.4 339.3,67.9 339.4,77.6 339.5,81.8 339.6,77.6 339.7,60.0 339.8,53.0 339.9,74.1 340.0,72.0 340.1,68.8 340.2,71.6 340.4,62.2 340.5,64.2 340.6,59.8 340.7,69.7 340.8,60.9 340.9,77.6 341.0,64.4 341.1,70.4 341.2,71.2 341.3,62.5 341.4,56.3 341.5,62.2 341.7,67.3 341.8,72.6 341.9,70.8 342.0,67.0 342.1,67.7 342.2,61.9 342.3,68.8 342.4,78.0 342.5,75.2 342.6,79.8 342.7,83.3 342.8,79.9 343.0,79.7 343.1,80.3 343.2,77.3 343.3,72.1 343.4,84.4 343.5,63.4 343.6,79.1 343.7,61.1 343.8,60.9 343.9,78.8 344.0,67.4 344.1,60.2 344.3,73.6 344.4,62.3 344.5,76.9 344.6,76.5 344.7,62.5 344.8,32.0 344.9,70.9 345.0,71.9 345.1,70.2 345.2,75.9 345.3,62.5 345.4,77.2 345.6,78.4 345.7,83.4 345.8,80.6 345.9,77.2 346.0,70.6 346.1,80.2 346.2,74.6 346.3,58.1 346.4,58.2 346.5,86.6 346.6,72.2 346.8,80.7 346.9,74.9 347.0,69.0 347.1,72.4 347.2,74.2 347.3,65.8 347.4,72.2 347.5,81.6 347.6,72.1 347.7,36.8 347.8,47.0 347.9,69.1 348.0,50.0 348.2,53.9 348.3,65.3 348.4,62.4 348.5,69.7 348.6,57.1 348.7,66.9 348.8,58.9 348.9,67.7 349.0,75.0 349.1,79.9 349.2,83.5 349.3,75.1 349.5,74.6 349.6,83.1 349.7,75.8 349.8,66.5 349.9,76.7 350.0,68.1 350.1,71.4 350.2,76.5 350.3,75.3 350.4,83.4 350.5,78.9 350.6,79.5 350.8,81.9 350.9,83.9 351.0,80.4 351.1,87.6 351.2,69.0 351.3,80.8 351.4,75.9 351.5,76.2 351.6,76.8 351.7,82.5 351.8,77.6 351.9,74.3 352.1,73.5 352.2,69.8 352.3,75.6 352.4,67.2 352.5,68.2 352.6,75.3 352.7,81.2 352.8,71.4 352.9,70.0 353.0,68.7 353.1,62.4 353.2,69.2 353.4,87.3 353.5,74.1 353.6,72.1 353.7,77.9 353.8,73.6 353.9,67.6 354.0,67.4 354.1,74.8 354.2,81.5 354.3,71.0 354.4,76.1 354.6,82.6 354.7,75.2 354.8,79.0 354.9,72.9 355.0,60.2 355.1,72.7 355.2,78.8 355.3,71.1 355.4,68.0 355.5,64.0 355.6,67.2 355.7,62.3 355.8,51.3 356.0,60.6 356.1,68.2 356.2,72.2 356.3,63.5 356.4,74.8 356.5,70.1 356.6,69.0 356.7,71.0 356.8,71.0 356.9,73.1 357.0,51.9 357.1,66.7 357.3,69.1 357.4,76.2 357.5,69.2 357.6,77.0 357.7,80.7 357.8,69.0 357.9,76.8 358.0,65.5 358.1,56.8 358.2,63.0 358.3,78.9 358.4,72.1 358.6,74.9 358.7,69.7 358.8,65.4 358.9,72.9 359.0,72.8 359.1,69.8 359.2,65.8 359.3,76.2 359.4,69.7 359.5,78.3 359.6,78.2 359.7,74.2 359.9,79.1 360.0,77.1 360.1,76.1 360.2,83.6 360.3,84.7 360.4,85.0 360.5,75.2 360.6,74.2 360.7,70.2 360.8,72.6 360.9,67.6 361.0,76.0 361.2,74.5 361.3,76.8 361.4,75.9 361.5,79.6 361.6,65.0 361.7,81.0 361.8,76.1 361.9,70.8 362.0,75.3 362.1,83.2 362.2,81.2 362.3,84.9 362.5,85.6 362.6,77.9 362.7,68.0 362.8,81.7 362.9,75.9 363.0,47.0 363.1,65.3 363.2,67.9 363.3,71.7 363.4,80.0 363.5,70.6 363.6,75.2 363.8,71.5 363.9,73.7 364.0,67.9 364.1,73.9 364.2,66.5 364.3,75.2 364.4,74.4 364.5,70.9 364.6,68.6 364.7,57.2 364.8,79.5 364.9,65.6 365.1,67.9 365.2,72.4 365.3,82.8 365.4,78.4 365.5,81.5 365.6,76.9 365.7,79.2 365.8,78.3 365.9,70.4 366.0,66.0 366.1,87.8 366.2,77.7 366.4,76.8 366.5,81.6 366.6,81.7 366.7,77.0 366.8,76.7 366.9,72.0 367.0,76.2 367.1,71.8 367.2,56.3 367.3,78.2 367.4,75.8 367.5,80.3 367.7,70.5 367.8,73.2 367.9,79.8 368.0,79.9 368.1,83.4 368.2,80.7 368.3,78.8 368.4,73.5 368.5,77.1 368.6,92.9 368.7,75.1 368.8,86.7 369.0,93.4 369.1,75.4 369.2,79.6 369.3,86.7 369.4,79.0 369.5,80.1 369.6,78.4 369.7,79.1 369.8,87.4 369.9,90.2 370.0,75.1 370.1,90.1 370.3,73.7 370.4,82.4 370.5,77.4 370.6,83.1 370.7,81.1 370.8,88.3 370.9,90.2 371.0,90.1 371.1,89.9 371.2,85.5 371.3,87.3 371.4,83.4 371.6,61.8 371.7,73.1 371.8,67.2 371.9,76.9 372.0,84.4 372.1,78.9 372.2,75.8 372.3,80.7 372.4,77.6 372.5,76.0 372.6,56.0 372.7,80.9 372.9,67.5 373.0,78.0 373.1,79.2 373.2,85.1 373.3,75.4 373.4,72.2 373.5,68.7 373.6,72.9 373.7,63.8 373.8,66.2 373.9,63.1 374.1,72.3 374.2,71.4 374.3,77.8 374.4,70.4 374.5,65.9 374.6,66.9 374.7,72.9 374.8,73.6 374.9,81.5 375.0,75.4 375.1,71.9 375.2,72.4 375.3,66.1 375.5,67.1 375.6,62.8 375.7,60.0 375.8,27.7 375.9,69.2 376.0,67.6 376.1,77.2 376.2,72.1 376.3,68.2 376.4,72.9 376.5,72.1 376.6,54.6 376.8,66.6 376.9,57.7 377.0,54.4 377.1,64.9 377.2,61.1 377.3,54.6 377.4,61.7 377.5,63.1 377.6,66.2 377.7,68.6 377.8,74.6 377.9,64.1 378.1,65.2 378.2,68.2 378.3,66.7 378.4,70.4 378.5,61.3 378.6,69.7 378.7,65.5 378.8,67.4 378.9,44.2 379.0,70.4 379.1,47.7 379.2,63.5 379.4,56.3 379.5,41.4 379.6,48.6 379.7,62.2 379.8,59.6 379.9,54.9 380.0,62.2 380.1,58.9 380.2,64.4 380.3,71.5 380.4,58.7 380.5,50.6 380.7,51.5 380.8,36.8 380.9,52.7 381.0,52.9 381.1,47.1 381.2,43.1 381.3,43.4 381.4,53.7 381.5,53.5 381.6,55.9 381.7,56.0 381.8,65.2 382.0,50.9 382.1,50.2 382.2,58.3 382.3,62.8 382.4,58.4 382.5,51.5 382.6,52.4 382.7,47.5 382.8,57.5 382.9,59.6 383.0,54.1 383.1,53.7 383.3,50.0 383.4,57.6 383.5,52.2 383.6,58.2 383.7,60.6 383.8,55.0 383.9,42.8 384.0,51.6 384.1,43.1 384.2,49.2 384.3,54.5 384.4,48.0 384.6,51.6 384.7,43.3 384.8,26.1 384.9,48.4 385.0,46.0 385.1,47.0 385.2,56.4 385.3,54.0 385.4,54.4 385.5,59.9 385.6,52.8 385.8,66.0 385.9,52.3 386.0,61.8 386.1,58.4 386.2,58.4 386.3,57.5 386.4,62.2 386.5,60.4 386.6,62.5 386.7,64.9 386.8,67.4 386.9,59.3 387.0,58.9 387.2,53.9 387.3,62.6 387.4,58.9 387.5,61.9 387.6,49.6 387.7,46.1 387.8,51.4 387.9,52.5 388.0,66.4 388.1,55.5 388.2,51.4 388.3,64.3 388.5,51.4 388.6,58.6 388.7,46.4 388.8,62.5 388.9,64.4 389.0,63.5 389.1,65.9 389.2,70.4 389.3,60.9 389.4,55.4 389.5,63.2 389.6,74.8 389.8,70.6 389.9,61.2 390.0,66.2 390.1,58.2 390.2,54.0 390.3,63.3 390.4,66.6 390.5,62.9 390.6,67.6 390.7,59.7 390.8,67.6 390.9,62.6 391.1,58.8 391.2,61.6 391.3,63.9 391.4,62.0 391.5,58.3 391.6,54.7 391.7,66.6 391.8,72.1 391.9,60.9 392.0,58.1 392.1,69.4 392.2,66.8 392.4,70.0 392.5,65.1 392.6,50.5 392.7,61.3 392.8,60.1 392.9,64.4 393.0,64.7 393.1,54.1 393.2,59.6 393.3,55.3 393.4,51.0 393.6,74.2 393.7,71.9 393.8,70.4 393.9,60.0 394.0,59.7 394.1,54.7 394.2,53.8 394.3,69.2 394.4,59.7 394.5,75.1 394.6,75.5 394.7,68.4 394.8,68.0 395.0,70.2 395.1,69.2 395.2,76.2 395.3,68.6 395.4,74.4 395.5,78.6 395.6,72.4 395.7,66.1 395.8,69.4 395.9,63.5 396.0,60.4 396.1,59.2 396.3,52.1 396.4,61.3 396.5,61.2 396.6,60.5 396.7,39.4 396.8,72.4 396.9,88.7 397.0,78.6 397.1,74.7 397.2,73.2 397.3,72.5 397.4,67.1 397.6,75.5 397.7,76.4 397.8,62.9 397.9,59.6 398.0,63.5 398.1,61.7 398.2,63.4 398.3,61.7 398.4,52.1 398.5,76.2 398.6,74.9 398.7,62.5 398.9,66.5 399.0,58.5 399.1,56.0 399.2,63.7 399.3,68.1 399.4,66.5 399.5,59.7 399.6,59.5 399.7,80.1 399.8,79.2 399.9,77.2 400.0,73.8 400.2,69.6 400.3,78.8 400.4,82.4 400.5,64.7 400.6,69.0 400.7,68.3 400.8,71.8 400.9,71.1 401.0,74.7 401.1,80.4 401.2,78.8 401.3,72.4 401.5,71.5 401.6,78.0 401.7,62.9 401.8,57.7 401.9,71.7 402.0,67.5 402.1,72.1 402.2,73.5 402.3,77.1 402.4,71.6 402.5,75.7 402.6,82.6 402.8,58.0 402.9,67.4 403.0,44.2 403.1,65.0 403.2,56.9 403.3,68.2 403.4,72.8 403.5,73.8 403.6,66.9 403.7,68.4 403.8,74.3 403.9,78.8 404.1,80.4 404.2,73.6 404.3,74.3 404.4,84.1 404.5,72.8 404.6,76.9 404.7,67.8 404.8,74.7 404.9,66.3 405.0,78.8 405.1,72.2 405.2,62.6 405.4,63.5 405.5,74.4 405.6,72.4 405.7,66.0 405.8,27.7 405.9,61.3 406.0,73.8 406.1,67.7 406.2,68.2 406.3,67.3 406.4,67.2 406.5,58.6 406.7,72.8 406.8,64.7 406.9,68.7 407.0,59.1 407.1,74.4 407.2,70.3 407.3,72.6 407.4,62.0 407.5,66.8 407.6,72.4 407.7,72.9 407.8,65.6 408.0,69.6 408.1,70.9 408.2,71.3 408.3,72.7 408.4,70.0 408.5,71.2 408.6,62.8 408.7,69.4 408.8,61.2 408.9,65.9 409.0,71.7 409.1,68.5 409.3,72.0 409.4,68.3 409.5,73.7 409.6,69.1 409.7,73.3 409.8,69.0 409.9,70.9 410.0,71.4 410.1,72.9 410.2,62.2 410.3,75.5 410.4,67.3 410.6,57.2 410.7,63.2 410.8,69.8 410.9,56.7 411.0,50.1 411.1,60.8 411.2,45.2 411.3,64.9 411.4,62.0 411.5,61.4 411.6,58.2 411.7,53.6 411.9,56.0 412.0,69.0 412.1,70.2 412.2,64.0 412.3,69.9 412.4,60.3 412.5,67.7 412.6,60.9 412.7,68.1 412.8,57.9 412.9,66.0 413.1,62.2 413.2,41.9 413.3,60.5 413.4,67.1 413.5,63.8 413.6,62.9 413.7,59.2 413.8,69.6 413.9,60.1 414.0,66.8 414.1,57.5 414.2,74.4 414.3,70.2 414.5,66.4 414.6,70.7 414.7,78.6 414.8,68.8 414.9,76.1 415.0,84.8 415.1,68.6 415.2,63.3 415.3,69.1 415.4,72.5 415.5,73.3 415.6,67.1 415.8,55.2 415.9,57.8 416.0,58.9 416.1,75.4 416.2,73.3 416.3,68.9 416.4,78.4 416.5,81.9 416.6,69.6 416.7,74.0 416.8,66.2 416.9,70.1 417.1,74.8 417.2,73.5 417.3,82.2 417.4,79.8 417.5,70.0 417.6,70.7 417.7,69.9 417.8,68.5 417.9,60.0 418.0,69.4 418.1,56.8 418.2,63.8 418.4,64.0 418.5,74.8 418.6,64.2 418.7,64.3 418.8,73.0 418.9,72.6 419.0,72.0 419.1,74.7 419.2,69.4 419.3,61.7 419.4,58.3 419.5,70.9 419.7,70.0 419.8,70.2 419.9,78.1 420.0,70.9 420.1,59.6 420.2,68.8 420.3,79.7 420.4,71.6 420.5,78.9 420.6,77.5 420.7,69.8 420.8,69.8 421.0,59.1 421.1,67.3 421.2,54.4 421.3,65.7 421.4,66.0 421.5,76.1 421.6,72.1 421.7,68.5 421.8,67.4 421.9,76.2 422.0,69.1 422.1,72.3 422.3,66.4 422.4,65.5 422.5,92.2 422.6,72.8 422.7,72.6 422.8,76.5 422.9,74.1 423.0,77.7 423.1,77.8 423.2,76.7 423.3,70.0 423.4,67.7 423.6,75.3 423.7,44.0 423.8,64.1 423.9,76.3 424.0,77.1 424.1,81.8 424.2,77.2 424.3,78.1 424.4,71.3 424.5,74.3 424.6,81.4 424.8,80.6 424.9,84.2 425.0,78.2 425.1,70.0 425.2,92.7 425.3,82.5 425.4,61.0 425.5,76.1 425.6,77.5 425.7,69.5 425.8,67.0 425.9,71.0 426.0,72.9 426.2,68.6 426.3,73.9 426.4,71.6 426.5,67.7 426.6,70.8 426.7,73.8 426.8,78.3 426.9,74.9 427.0,73.1 427.1,75.1 427.2,78.3 427.3,83.4 427.5,79.3 427.6,78.8 427.7,79.5 427.8,84.2 427.9,83.6 428.0,35.1 428.1,77.0 428.2,71.0 428.3,71.9 428.4,67.7 428.5,72.9 428.6,76.9 428.8,79.8 428.9,91.2 429.0,75.6 429.1,75.2 429.2,48.3 429.3,46.8 429.4,78.4 429.5,70.8 429.6,69.4 429.7,67.9 429.8,61.2 429.9,68.3 430.1,69.3 430.2,70.3 430.3,69.3 430.4,61.4 430.5,73.7 430.6,68.3 430.7,68.0 430.8,67.1 430.9,69.9 431.0,76.1 431.1,71.5 431.2,76.7 431.4,68.6 431.5,73.2 431.6,73.7 431.7,67.3 431.8,71.8 431.9,79.0 432.0,66.2 432.1,69.3 432.2,54.4 432.3,66.5 432.4,59.4 432.6,65.6 432.7,65.6 432.8,70.0 432.9,69.3 433.0,67.2 433.1,61.1 433.2,69.7 433.3,78.5 433.4,63.5 433.5,70.5 433.6,66.6 433.7,76.1 433.8,71.1 434.0,68.7 434.1,54.3 434.2,67.6 434.3,69.7 434.4,74.1 434.5,65.2 434.6,56.4 434.7,64.4 434.8,60.0 434.9,62.6 435.0,67.3 435.1,73.7 435.3,67.5 435.4,66.2 435.5,73.5 435.6,61.1 435.7,69.7 435.8,73.6 435.9,67.0 436.0,73.8 436.1,62.5 436.2,73.2 436.3,71.1 436.4,66.0 436.6,67.9 436.7,65.8 436.8,74.0 436.9,71.1 437.0,62.4 437.1,50.0 437.2,66.6 437.3,71.8 437.4,72.5 437.5,69.1 437.6,70.1 437.7,67.6 437.9,64.9 438.0,72.8 438.1,67.0 438.2,65.7 438.3,60.5 438.4,58.2 438.5,70.0 438.6,69.8 438.7,65.3 438.8,50.8 438.9,57.1 439.0,67.2 439.2,55.2 439.3,61.2 439.4,61.9 439.5,51.9 439.6,66.9 439.7,67.5 439.8,64.4 439.9,59.9 440.0,45.4 440.1,52.0 440.2,63.4 440.3,50.0 440.5,52.6 440.6,66.3 440.7,69.9 440.8,70.6 440.9,70.6 441.0,69.9 441.1,65.3 441.2,63.6 441.3,66.9 441.4,60.7 441.5,65.3 441.6,52.6 441.8,52.0 441.9,49.7 442.0,60.8 442.1,51.9 442.2,62.8 442.3,58.8 442.4,58.7 442.5,64.7 442.6,50.4 442.7,40.5 442.8,58.4 442.9,56.6 443.1,57.0 443.2,64.0 443.3,61.4 443.4,66.2 443.5,58.7 443.6,60.8 443.7,59.7 443.8,68.2 443.9,56.9 444.0,59.9 444.1,50.8 444.2,55.4 444.4,55.3 444.5,63.2 444.6,60.3 444.7,69.7 444.8,60.0 444.9,67.0 445.0,68.2 445.1,65.0 445.2,63.2 445.3,62.3 445.4,69.0 445.5,52.1 445.7,61.7 445.8,56.9 445.9,61.5 446.0,50.2 446.1,58.8 446.2,67.6 446.3,69.3 446.4,61.6 446.5,61.1 446.6,53.3 446.7,51.4 446.8,69.2 447.0,62.9 447.1,61.5 447.2,58.2 447.3,73.7 447.4,72.6 447.5,64.8 447.6,67.6 447.7,56.7 447.8,54.8 447.9,61.9 448.0,58.3 448.1,57.6 448.3,60.1 448.4,57.0 448.5,63.8 448.6,71.9 448.7,64.1 448.8,63.2 448.9,74.4 449.0,64.6 449.1,58.0 449.2,51.4 449.3,70.1 449.4,60.9 449.6,62.2 449.7,67.4 449.8,67.6 449.9,70.0 450.0,76.6 450.1,71.8 450.2,56.2 450.3,75.4 450.4,72.6 450.5,63.6 450.6,64.0 450.7,80.0 450.9,77.2 451.0,82.4 451.1,74.9 451.2,77.9 451.3,82.1 451.4,60.6 451.5,55.8 451.6,80.0 451.7,72.8 451.8,68.9 451.9,75.3 452.1,77.0 452.2,76.3 452.3,71.2 452.4,72.8 452.5,66.4 452.6,60.4 452.7,62.5 452.8,71.5 452.9,67.4 453.0,76.5 453.1,77.5 453.2,66.8 453.3,75.7 453.5,67.3 453.6,76.0 453.7,73.3 453.8,67.0 453.9,70.3 454.0,77.4 454.1,75.2 454.2,67.2 454.3,65.3 454.4,76.0 454.5,73.3 454.6,77.0 454.8,71.9 454.9,76.0 455.0,77.3 455.1,74.5 455.2,77.0 455.3,69.2 455.4,91.2 455.5,84.3 455.6,87.5 455.7,74.7 455.8,85.4 455.9,81.3 456.1,79.3 456.2,77.6 456.3,76.3 456.4,75.5 456.5,81.2 456.6,84.3 456.7,77.0 456.8,76.6 456.9,77.7 457.0,77.8 457.1,74.4 457.2,65.3 457.4,69.3 457.5,77.2 457.6,84.2 457.7,78.3 457.8,81.7 457.9,76.9 458.0,72.9 458.1,78.6 458.2,71.6 458.3,75.4 458.4,86.9 458.5,73.4 458.7,88.0 458.8,88.0 458.9,83.5 459.0,84.2 459.1,88.8 459.2,86.3 459.3,74.2 459.4,75.4 459.5,74.1 459.6,65.8 459.7,70.2 459.8,68.0 460.0,68.9 460.1,65.7 460.2,59.9 460.3,54.4 460.4,63.7 460.5,22.4 460.6,73.7 460.7,64.6 460.8,72.0 460.9,64.5 461.0,74.8 461.1,73.9 461.3,68.5 461.4,70.6 461.5,68.8 461.6,69.4 461.7,70.6 461.8,71.3 461.9,65.1 462.0,68.5 462.1,71.3 462.2,57.9 462.3,81.2 462.4,78.0 462.6,73.0 462.7,75.6 462.8,76.6 462.9,72.1 463.0,70.4 463.1,64.9 463.2,73.8 463.3,67.4 463.4,81.1 463.5,81.4 463.6,66.4 463.8,71.0 463.9,77.1 464.0,62.2 464.1,63.5 464.2,48.0 464.3,62.3 464.4,61.3 464.5,46.0 464.6,68.3 464.7,70.7 464.8,45.8 464.9,47.6 465.0,64.4 465.2,71.3 465.3,76.9 465.4,74.2 465.5,64.7 465.6,71.2 465.7,64.5 465.8,67.0 465.9,68.8 466.0,61.8 466.1,65.4 466.2,70.6 466.3,74.7 466.5,68.8 466.6,66.9 466.7,64.8 466.8,64.9 466.9,80.1 467.0,84.9 467.1,79.3 467.2,76.4 467.3,76.3 467.4,66.0 467.5,68.6 467.6,71.3 467.8,74.0 467.9,69.6 468.0,72.6 468.1,76.7 468.2,78.9 468.3,62.8 468.4,73.2 468.5,82.5 468.6,60.0 468.7,52.0 468.8,64.2 468.9,45.4 469.1,59.5 469.2,58.7 469.3,75.1 469.4,78.0 469.5,72.5 469.6,76.8 469.7,79.5 469.8,66.5 469.9,72.2 470.0,68.7 470.1,71.9 470.2,60.4 470.4,64.1 470.5,70.4 470.6,76.8 470.7,74.7 470.8,65.7 470.9,60.9 471.0,69.6 471.1,66.7 471.2,60.6 471.3,61.5 471.4,62.8 471.6,68.6 471.7,74.6 471.8,75.9 471.9,72.1 472.0,81.7 472.1,77.4 472.2,78.8 472.3,73.7 472.4,54.9 472.5,69.1 472.6,64.3 472.7,69.1 472.8,56.0 473.0,57.8 473.1,67.0 473.2,71.6 473.3,64.8 473.4,59.7 473.5,74.6 473.6,69.1 473.7,65.5 473.8,85.0 473.9,74.7 474.0,71.4 474.1,64.4 474.3,73.8 474.4,80.6 474.5,80.0 474.6,75.7 474.7,78.2 474.8,66.4 474.9,71.3 475.0,84.6 475.1,71.7 475.2,71.4 475.3,71.9 475.4,65.0 475.6,69.2 475.7,62.3 475.8,71.4 475.9,55.5 476.0,60.7 476.1,55.6 476.2,68.2 476.3,67.1 476.4,65.7 476.5,62.0 476.6,65.9 476.7,64.0 476.9,72.6 477.0,25.6 477.1,69.1 477.2,65.4 477.3,78.0 477.4,70.9 477.5,71.0 477.6,78.0 477.7,73.4 477.8,67.9 477.9,71.5 478.0,72.2 478.2,66.4 478.3,78.9 478.4,76.4 478.5,78.6 478.6,73.0 478.7,75.3 478.8,77.6 478.9,76.4 479.0,79.8 479.1,80.9 479.2,78.9 479.3,82.2 479.5,57.8 479.6,19.0 479.7,69.9 479.8,70.0 479.9,70.3 480.0,59.3 480.1,73.5 480.2,65.7 480.3,61.9 480.4,73.7 480.5,68.3 480.6,73.0 480.8,67.7 480.9,51.8 481.0,63.8 481.1,71.7 481.2,82.9 481.3,67.9 481.4,72.1 481.5,75.0 481.6,75.3 481.7,74.0 481.8,68.9 481.9,62.4 482.1,65.5 482.2,61.6 482.3,67.0 482.4,74.4 482.5,71.3 482.6,68.1 482.7,71.4 482.8,79.3 482.9,68.1 483.0,66.0 483.1,60.7 483.2,68.6 483.4,66.2 483.5,64.8 483.6,65.1 483.7,71.5 483.8,71.3 483.9,63.8 484.0,4.3 484.1,68.4 484.2,76.6 484.3,70.7 484.4,71.5 484.5,63.8 484.7,57.4 484.8,69.2 484.9,68.3 485.0,69.7 485.1,66.5 485.2,70.7 485.3,74.9 485.4,69.1 485.5,67.7 485.6,80.6 485.7,68.4 485.8,62.6 486.0,66.1 486.1,74.7 486.2,77.1 486.3,72.7 486.4,81.9 486.5,77.9 486.6,72.8 486.7,68.2 486.8,75.4 486.9,80.1 487.0,71.9 487.1,73.6" fill="none" stroke="#0a66bb" stroke-width="0.5" stroke-linejoin="round"/>
<path class="ax" d="M61.4 3.6V99H487.4"/>
<path class="ax" d="M61.5 99v-4M139.5 99v-4M217.5 99v-4M295.5 99v-4M373.5 99v-4M451.5 99v-4M61.5 35.3h4"/>
<text class="t13" x="61.5" y="115.5" text-anchor="middle">0</text>
<text class="t13" x="139.5" y="115.5" text-anchor="middle">5</text>
<text class="t13" x="217.5" y="115.5" text-anchor="middle">10</text>
<text class="t13" x="295.5" y="115.5" text-anchor="middle">15</text>
<text class="t13" x="373.5" y="115.5" text-anchor="middle">20</text>
<text class="t13" x="451.5" y="115.5" text-anchor="middle">25</text>
<text class="t14" x="274.5" y="133.5" text-anchor="middle">Time (days)</text>
<text class="t13" x="49.5" y="42.5" text-anchor="end">10</text><text x="50" y="36" style="font-size:10.3px">4</text>
<text class="t14" transform="translate(28,46.2) rotate(-90)" text-anchor="middle">LFP</text>
<text x="0.8" y="15.6" style="font-size:14px;font-weight:bold;stroke:#111;stroke-width:0.35">A</text>
<path d="M61.4 142L62.1 162.1 62.8 183.6 63.5 196.2 64.3 205.1 65.0 212.0 65.7 217.7 66.4 222.5 67.1 226.6 67.8 230.2 68.5 233.5 69.3 236.5 70.0 239.2 70.7 241.6 71.4 243.9 72.1 246.1 72.8 248.1 73.5 250.0 74.3 251.7 75.0 253.4 75.7 255.0 76.4 256.5 77.1 258.0 77.8 259.3 78.5 260.7 79.3 261.9 80.0 263.1 80.7 264.3 81.4 265.4 82.1 266.5 82.8 267.6 83.5 268.6 84.2 269.6 85.0 270.5 85.7 271.5 86.4 272.4 87.1 273.2 87.8 274.1 88.5 274.9 89.2 275.7 90.0 276.5 90.7 277.3 91.4 278.0 92.1 278.7 92.8 279.5 93.5 280.2 94.2 280.8 95.0 281.5 95.7 282.2 96.4 282.8 97.1 283.4 97.8 284.0 98.5 284.6 99.2 285.2 100.0 285.8 100.7 286.4 101.4 286.9 102.1 287.5 102.8 288.0 103.5 288.6 104.2 289.1 105.0 289.6 105.7 290.1 106.4 290.6 107.1 291.1 107.8 291.6 108.5 292.0 109.2 292.5 110.0 293.0 110.7 293.4 111.4 293.9 112.1 294.3 112.8 294.7 113.5 295.2 114.2 295.6 115.0 296.0 115.7 296.4 116.4 296.8 117.1 297.2 117.8 297.6 118.5 298.0 119.2 298.4 120.0 298.8 120.7 299.1 121.4 299.5 122.1 299.9 122.8 300.2 123.5 300.6 124.2 301.0 125.0 301.3 125.7 301.6 126.4 302.0 127.1 302.3 127.8 302.7 128.5 303.0 129.2 303.3 129.9 303.6 130.7 304.0 131.4 304.3 132.1 304.6 132.8 304.9 133.5 305.2 134.2 305.5 134.9 305.8 135.7 306.1 136.4 306.4 137.1 306.7 137.8 307.0 138.5 307.3 139.2 307.6 139.9 307.9 140.7 308.2 141.4 308.4 142.1 308.7 142.8 309.0 143.5 309.2 144.2 309.5 144.9 309.8 145.7 310.0 146.4 310.3 147.1 310.6 147.8 310.8 148.5 311.1 149.2 311.3 149.9 311.6 150.7 311.8 151.4 312.1 152.1 312.3 152.8 312.6 153.5 312.8 154.2 313.0 154.9 313.3 155.7 313.5 156.4 313.8 157.1 314.0 157.8 314.2 158.5 314.4 159.2 314.7 159.9 314.9 160.7 315.1 161.4 315.3 162.1 315.6 162.8 315.8 163.5 316.0 164.2 316.2 164.9 316.4 165.7 316.6 166.4 316.9 167.1 317.1 167.8 317.3 168.5 317.5 169.2 317.7 169.9 317.9 170.6 318.1 171.4 318.3 172.1 318.5 172.8 318.7 173.5 318.9 174.2 319.1 174.9 319.3 175.6 319.5 176.4 319.7 177.1 319.9 177.8 320.1 178.5 320.3 179.2 320.4 179.9 320.6 180.6 320.8 181.4 321.0 182.1 321.2 182.8 321.4 183.5 321.6 184.2 321.7 184.9 321.9 185.6 322.1 186.4 322.3 187.1 322.4 187.8 322.6 188.5 322.8 189.2 323.0 189.9 323.1 190.6 323.3 191.4 323.5 192.1 323.7 192.8 323.8 193.5 324.0 194.2 324.2 194.9 324.3 195.6 324.5 196.4 324.7 197.1 324.8 197.8 325.0 198.5 325.1 199.2 325.3 199.9 325.5 200.6 325.6 201.4 325.8 202.1 325.9 202.8 326.1 203.5 326.3 204.2 326.4 204.9 326.6 205.6 326.7 206.4 326.9 207.1 327.0 207.8 327.2 208.5 327.3 209.2 327.5 209.9 327.6 210.6 327.8 211.3 327.9 212.1 328.1 212.8 328.2 213.5 328.4 214.2 328.5 214.9 328.7 215.6 328.8 216.3 328.9 217.1 329.1 217.8 329.2 218.5 329.4 219.2 329.5 219.9 329.6 220.6 329.8 221.3 329.9 222.1 330.1 222.8 330.2 223.5 330.3 224.2 330.5 224.9 330.6 225.6 330.7 226.3 330.9 227.1 331.0 227.8 331.1 228.5 331.3 229.2 331.4 229.9 331.5 230.6 331.7 231.3 331.8 232.1 331.9 232.8 332.1 233.5 332.2 234.2 332.3 234.9 332.4 235.6 332.6 236.3 332.7 237.1 332.8 237.8 333.0 238.5 333.1 239.2 333.2 239.9 333.3 240.6 333.5 241.3 333.6 242.1 333.7 242.8 333.8 243.5 333.9 244.2 334.1 244.9 334.2 245.6 334.3 246.3 334.4 247.1 334.5 247.8 334.7 248.5 334.8 249.2 334.9 249.9 335.0 250.6 335.1 251.3 335.3 252.1 335.4 252.8 335.5 253.5 335.6 254.2 335.7 254.9 335.8 255.6 335.9 256.3 336.1 257.0 336.2 257.8 336.3 258.5 336.4 259.2 336.5 259.9 336.6 260.6 336.7 261.3 336.8 262.0 337.0 262.8 337.1 263.5 337.2 264.2 337.3 264.9 337.4 265.6 337.5 266.3 337.6 267.0 337.7 267.8 337.8 268.5 337.9 269.2 338.0 269.9 338.0 270.6 338.0 271.3 338.0 272.0 338.0 272.8 338.0 273.5 338.0 274.2 338.0 274.9 338.0 274.9 338.0 275.6 338.0 276.3 338.0 277.0 338.0 277.8 338.0 278.5 338.0 279.2 338.0 279.9 338.0 280.6 338.0 281.3 337.9 282.0 337.8 282.8 337.7 283.5 337.6 284.2 337.5 284.9 337.4 285.6 337.3 286.3 337.2 287.0 337.1 287.8 337.0 288.5 336.8 289.2 336.7 289.9 336.6 290.6 336.5 291.3 336.4 292.0 336.3 292.8 336.2 293.5 336.1 294.2 335.9 294.9 335.8 295.6 335.7 296.3 335.6 297.0 335.5 297.7 335.4 298.5 335.3 299.2 335.1 299.9 335.0 300.6 334.9 301.3 334.8 302.0 334.7 302.7 334.5 303.5 334.4 304.2 334.3 304.9 334.2 305.6 334.1 306.3 333.9 307.0 333.8 307.7 333.7 308.5 333.6 309.2 333.5 309.9 333.3 310.6 333.2 311.3 333.1 312.0 333.0 312.7 332.8 313.5 332.7 314.2 332.6 314.9 332.4 315.6 332.3 316.3 332.2 317.0 332.1 317.7 331.9 318.5 331.8 319.2 331.7 319.9 331.5 320.6 331.4 321.3 331.3 322.0 331.1 322.7 331.0 323.5 330.9 324.2 330.7 324.9 330.6 325.6 330.5 326.3 330.3 327.0 330.2 327.7 330.1 328.5 329.9 329.2 329.8 329.9 329.6 330.6 329.5 331.3 329.4 332.0 329.2 332.7 329.1 333.5 328.9 334.2 328.8 334.9 328.7 335.6 328.5 336.3 328.4 337.0 328.2 337.7 328.1 338.5 327.9 339.2 327.8 339.9 327.6 340.6 327.5 341.3 327.3 342.0 327.2 342.7 327.0 343.4 326.9 344.2 326.7 344.9 326.6 345.6 326.4 346.3 326.3 347.0 326.1 347.7 325.9 348.4 325.8 349.2 325.6 349.9 325.5 350.6 325.3 351.3 325.1 352.0 325.0 352.7 324.8 353.4 324.7 354.2 324.5 354.9 324.3 355.6 324.2 356.3 324.0 357.0 323.8 357.7 323.7 358.4 323.5 359.2 323.3 359.9 323.1 360.6 323.0 361.3 322.8 362.0 322.6 362.7 322.4 363.4 322.3 364.2 322.1 364.9 321.9 365.6 321.7 366.3 321.6 367.0 321.4 367.7 321.2 368.4 321.0 369.2 320.8 369.9 320.6 370.6 320.4 371.3 320.3 372.0 320.1 372.7 319.9 373.4 319.7 374.2 319.5 374.9 319.3 375.6 319.1 376.3 318.9 377.0 318.7 377.7 318.5 378.4 318.3 379.2 318.1 379.9 317.9 380.6 317.7 381.3 317.5 382.0 317.3 382.7 317.1 383.4 316.9 384.1 316.6 384.9 316.4 385.6 316.2 386.3 316.0 387.0 315.8 387.7 315.6 388.4 315.3 389.1 315.1 389.9 314.9 390.6 314.7 391.3 314.4 392.0 314.2 392.7 314.0 393.4 313.8 394.1 313.5 394.9 313.3 395.6 313.0 396.3 312.8 397.0 312.6 397.7 312.3 398.4 312.1 399.1 311.8 399.9 311.6 400.6 311.3 401.3 311.1 402.0 310.8 402.7 310.6 403.4 310.3 404.1 310.0 404.9 309.8 405.6 309.5 406.3 309.2 407.0 309.0 407.7 308.7 408.4 308.4 409.1 308.2 409.9 307.9 410.6 307.6 411.3 307.3 412.0 307.0 412.7 306.7 413.4 306.4 414.1 306.1 414.9 305.8 415.6 305.5 416.3 305.2 417.0 304.9 417.7 304.6 418.4 304.3 419.1 304.0 419.9 303.6 420.6 303.3 421.3 303.0 422.0 302.7 422.7 302.3 423.4 302.0 424.1 301.6 424.8 301.3 425.6 301.0 426.3 300.6 427.0 300.2 427.7 299.9 428.4 299.5 429.1 299.1 429.8 298.8 430.6 298.4 431.3 298.0 432.0 297.6 432.7 297.2 433.4 296.8 434.1 296.4 434.8 296.0 435.6 295.6 436.3 295.2 437.0 294.7 437.7 294.3 438.4 293.9 439.1 293.4 439.8 293.0 440.6 292.5 441.3 292.0 442.0 291.6 442.7 291.1 443.4 290.6 444.1 290.1 444.8 289.6 445.6 289.1 446.3 288.6 447.0 288.0 447.7 287.5 448.4 286.9 449.1 286.4 449.8 285.8 450.6 285.2 451.3 284.6 452.0 284.0 452.7 283.4 453.4 282.8 454.1 282.2 454.8 281.5 455.6 280.8 456.3 280.2 457.0 279.5 457.7 278.7 458.4 278.0 459.1 277.3 459.8 276.5 460.6 275.7 461.3 274.9 462.0 274.1 462.7 273.2 463.4 272.4 464.1 271.5 464.8 270.5 465.6 269.6 466.3 268.6 467.0 267.6 467.7 266.5 468.4 265.4 469.1 264.3 469.8 263.1 470.5 261.9 471.3 260.7 472.0 259.3 472.7 258.0 473.4 256.5 474.1 255.0 474.8 253.4 475.5 251.7 476.3 250.0 477.0 248.1 477.7 246.1 478.4 243.9 479.1 241.6 479.8 239.2 480.5 236.5 481.3 233.5 482.0 230.2 482.7 226.6 483.4 222.5 484.1 217.7 484.8 212.0 485.5 205.1 486.3 196.2 487.0 183.6 487.7 162.1L488.4 142V338H61.4Z" fill="#fff" fill-opacity="0.34"/>
<path d="M61.8 142L62.1 162.1 62.8 183.6 63.5 196.2 64.3 205.1 65.0 212.0 65.7 217.7 66.4 222.5 67.1 226.6 67.8 230.2 68.5 233.5 69.3 236.5 70.0 239.2 70.7 241.6 71.4 243.9 72.1 246.1 72.8 248.1 73.5 250.0 74.3 251.7 75.0 253.4 75.7 255.0 76.4 256.5 77.1 258.0 77.8 259.3 78.5 260.7 79.3 261.9 80.0 263.1 80.7 264.3 81.4 265.4 82.1 266.5 82.8 267.6 83.5 268.6 84.2 269.6 85.0 270.5 85.7 271.5 86.4 272.4 87.1 273.2 87.8 274.1 88.5 274.9 89.2 275.7 90.0 276.5 90.7 277.3 91.4 278.0 92.1 278.7 92.8 279.5 93.5 280.2 94.2 280.8 95.0 281.5 95.7 282.2 96.4 282.8 97.1 283.4 97.8 284.0 98.5 284.6 99.2 285.2 100.0 285.8 100.7 286.4 101.4 286.9 102.1 287.5 102.8 288.0 103.5 288.6 104.2 289.1 105.0 289.6 105.7 290.1 106.4 290.6 107.1 291.1 107.8 291.6 108.5 292.0 109.2 292.5 110.0 293.0 110.7 293.4 111.4 293.9 112.1 294.3 112.8 294.7 113.5 295.2 114.2 295.6 115.0 296.0 115.7 296.4 116.4 296.8 117.1 297.2 117.8 297.6 118.5 298.0 119.2 298.4 120.0 298.8 120.7 299.1 121.4 299.5 122.1 299.9 122.8 300.2 123.5 300.6 124.2 301.0 125.0 301.3 125.7 301.6 126.4 302.0 127.1 302.3 127.8 302.7 128.5 303.0 129.2 303.3 129.9 303.6 130.7 304.0 131.4 304.3 132.1 304.6 132.8 304.9 133.5 305.2 134.2 305.5 134.9 305.8 135.7 306.1 136.4 306.4 137.1 306.7 137.8 307.0 138.5 307.3 139.2 307.6 139.9 307.9 140.7 308.2 141.4 308.4 142.1 308.7 142.8 309.0 143.5 309.2 144.2 309.5 144.9 309.8 145.7 310.0 146.4 310.3 147.1 310.6 147.8 310.8 148.5 311.1 149.2 311.3 149.9 311.6 150.7 311.8 151.4 312.1 152.1 312.3 152.8 312.6 153.5 312.8 154.2 313.0 154.9 313.3 155.7 313.5 156.4 313.8 157.1 314.0 157.8 314.2 158.5 314.4 159.2 314.7 159.9 314.9 160.7 315.1 161.4 315.3 162.1 315.6 162.8 315.8 163.5 316.0 164.2 316.2 164.9 316.4 165.7 316.6 166.4 316.9 167.1 317.1 167.8 317.3 168.5 317.5 169.2 317.7 169.9 317.9 170.6 318.1 171.4 318.3 172.1 318.5 172.8 318.7 173.5 318.9 174.2 319.1 174.9 319.3 175.6 319.5 176.4 319.7 177.1 319.9 177.8 320.1 178.5 320.3 179.2 320.4 179.9 320.6 180.6 320.8 181.4 321.0 182.1 321.2 182.8 321.4 183.5 321.6 184.2 321.7 184.9 321.9 185.6 322.1 186.4 322.3 187.1 322.4 187.8 322.6 188.5 322.8 189.2 323.0 189.9 323.1 190.6 323.3 191.4 323.5 192.1 323.7 192.8 323.8 193.5 324.0 194.2 324.2 194.9 324.3 195.6 324.5 196.4 324.7 197.1 324.8 197.8 325.0 198.5 325.1 199.2 325.3 199.9 325.5 200.6 325.6 201.4 325.8 202.1 325.9 202.8 326.1 203.5 326.3 204.2 326.4 204.9 326.6 205.6 326.7 206.4 326.9 207.1 327.0 207.8 327.2 208.5 327.3 209.2 327.5 209.9 327.6 210.6 327.8 211.3 327.9 212.1 328.1 212.8 328.2 213.5 328.4 214.2 328.5 214.9 328.7 215.6 328.8 216.3 328.9 217.1 329.1 217.8 329.2 218.5 329.4 219.2 329.5 219.9 329.6 220.6 329.8 221.3 329.9 222.1 330.1 222.8 330.2 223.5 330.3 224.2 330.5 224.9 330.6 225.6 330.7 226.3 330.9 227.1 331.0 227.8 331.1 228.5 331.3 229.2 331.4 229.9 331.5 230.6 331.7 231.3 331.8 232.1 331.9 232.8 332.1 233.5 332.2 234.2 332.3 234.9 332.4 235.6 332.6 236.3 332.7 237.1 332.8 237.8 333.0 238.5 333.1 239.2 333.2 239.9 333.3 240.6 333.5 241.3 333.6 242.1 333.7 242.8 333.8 243.5 333.9 244.2 334.1 244.9 334.2 245.6 334.3 246.3 334.4 247.1 334.5 247.8 334.7 248.5 334.8 249.2 334.9 249.9 335.0 250.6 335.1 251.3 335.3 252.1 335.4 252.8 335.5 253.5 335.6 254.2 335.7 254.9 335.8 255.6 335.9 256.3 336.1 257.0 336.2 257.8 336.3 258.5 336.4 259.2 336.5 259.9 336.6 260.6 336.7 261.3 336.8 262.0 337.0 262.8 337.1 263.5 337.2 264.2 337.3 264.9 337.4 265.6 337.5 266.3 337.6 267.0 337.7 267.8 337.8 268.5 337.9 269.2 338.0 269.9 338.0 270.6 338.0 271.3 338.0 272.0 338.0 272.8 338.0 273.5 338.0 274.2 338.0 274.9 338.0 274.9 338.0 275.6 338.0 276.3 338.0 277.0 338.0 277.8 338.0 278.5 338.0 279.2 338.0 279.9 338.0 280.6 338.0 281.3 337.9 282.0 337.8 282.8 337.7 283.5 337.6 284.2 337.5 284.9 337.4 285.6 337.3 286.3 337.2 287.0 337.1 287.8 337.0 288.5 336.8 289.2 336.7 289.9 336.6 290.6 336.5 291.3 336.4 292.0 336.3 292.8 336.2 293.5 336.1 294.2 335.9 294.9 335.8 295.6 335.7 296.3 335.6 297.0 335.5 297.7 335.4 298.5 335.3 299.2 335.1 299.9 335.0 300.6 334.9 301.3 334.8 302.0 334.7 302.7 334.5 303.5 334.4 304.2 334.3 304.9 334.2 305.6 334.1 306.3 333.9 307.0 333.8 307.7 333.7 308.5 333.6 309.2 333.5 309.9 333.3 310.6 333.2 311.3 333.1 312.0 333.0 312.7 332.8 313.5 332.7 314.2 332.6 314.9 332.4 315.6 332.3 316.3 332.2 317.0 332.1 317.7 331.9 318.5 331.8 319.2 331.7 319.9 331.5 320.6 331.4 321.3 331.3 322.0 331.1 322.7 331.0 323.5 330.9 324.2 330.7 324.9 330.6 325.6 330.5 326.3 330.3 327.0 330.2 327.7 330.1 328.5 329.9 329.2 329.8 329.9 329.6 330.6 329.5 331.3 329.4 332.0 329.2 332.7 329.1 333.5 328.9 334.2 328.8 334.9 328.7 335.6 328.5 336.3 328.4 337.0 328.2 337.7 328.1 338.5 327.9 339.2 327.8 339.9 327.6 340.6 327.5 341.3 327.3 342.0 327.2 342.7 327.0 343.4 326.9 344.2 326.7 344.9 326.6 345.6 326.4 346.3 326.3 347.0 326.1 347.7 325.9 348.4 325.8 349.2 325.6 349.9 325.5 350.6 325.3 351.3 325.1 352.0 325.0 352.7 324.8 353.4 324.7 354.2 324.5 354.9 324.3 355.6 324.2 356.3 324.0 357.0 323.8 357.7 323.7 358.4 323.5 359.2 323.3 359.9 323.1 360.6 323.0 361.3 322.8 362.0 322.6 362.7 322.4 363.4 322.3 364.2 322.1 364.9 321.9 365.6 321.7 366.3 321.6 367.0 321.4 367.7 321.2 368.4 321.0 369.2 320.8 369.9 320.6 370.6 320.4 371.3 320.3 372.0 320.1 372.7 319.9 373.4 319.7 374.2 319.5 374.9 319.3 375.6 319.1 376.3 318.9 377.0 318.7 377.7 318.5 378.4 318.3 379.2 318.1 379.9 317.9 380.6 317.7 381.3 317.5 382.0 317.3 382.7 317.1 383.4 316.9 384.1 316.6 384.9 316.4 385.6 316.2 386.3 316.0 387.0 315.8 387.7 315.6 388.4 315.3 389.1 315.1 389.9 314.9 390.6 314.7 391.3 314.4 392.0 314.2 392.7 314.0 393.4 313.8 394.1 313.5 394.9 313.3 395.6 313.0 396.3 312.8 397.0 312.6 397.7 312.3 398.4 312.1 399.1 311.8 399.9 311.6 400.6 311.3 401.3 311.1 402.0 310.8 402.7 310.6 403.4 310.3 404.1 310.0 404.9 309.8 405.6 309.5 406.3 309.2 407.0 309.0 407.7 308.7 408.4 308.4 409.1 308.2 409.9 307.9 410.6 307.6 411.3 307.3 412.0 307.0 412.7 306.7 413.4 306.4 414.1 306.1 414.9 305.8 415.6 305.5 416.3 305.2 417.0 304.9 417.7 304.6 418.4 304.3 419.1 304.0 419.9 303.6 420.6 303.3 421.3 303.0 422.0 302.7 422.7 302.3 423.4 302.0 424.1 301.6 424.8 301.3 425.6 301.0 426.3 300.6 427.0 300.2 427.7 299.9 428.4 299.5 429.1 299.1 429.8 298.8 430.6 298.4 431.3 298.0 432.0 297.6 432.7 297.2 433.4 296.8 434.1 296.4 434.8 296.0 435.6 295.6 436.3 295.2 437.0 294.7 437.7 294.3 438.4 293.9 439.1 293.4 439.8 293.0 440.6 292.5 441.3 292.0 442.0 291.6 442.7 291.1 443.4 290.6 444.1 290.1 444.8 289.6 445.6 289.1 446.3 288.6 447.0 288.0 447.7 287.5 448.4 286.9 449.1 286.4 449.8 285.8 450.6 285.2 451.3 284.6 452.0 284.0 452.7 283.4 453.4 282.8 454.1 282.2 454.8 281.5 455.6 280.8 456.3 280.2 457.0 279.5 457.7 278.7 458.4 278.0 459.1 277.3 459.8 276.5 460.6 275.7 461.3 274.9 462.0 274.1 462.7 273.2 463.4 272.4 464.1 271.5 464.8 270.5 465.6 269.6 466.3 268.6 467.0 267.6 467.7 266.5 468.4 265.4 469.1 264.3 469.8 263.1 470.5 261.9 471.3 260.7 472.0 259.3 472.7 258.0 473.4 256.5 474.1 255.0 474.8 253.4 475.5 251.7 476.3 250.0 477.0 248.1 477.7 246.1 478.4 243.9 479.1 241.6 479.8 239.2 480.5 236.5 481.3 233.5 482.0 230.2 482.7 226.6 483.4 222.5 484.1 217.7 484.8 212.0 485.5 205.1 486.3 196.2 487.0 183.6 487.7 162.1L488 142" fill="none" stroke="#fff" stroke-width="2.5" stroke-dasharray="10.5 8"/>
<rect x="61.5" y="142" width="426.5" height="1.6" fill="#2a1a8c" fill-opacity="0.5"/>
<path class="ax" d="M61.4 142V338H488.4"/>
<path class="ax" d="M61.4 338v-4M139.6 338v-4M217.8 338v-4M296.0 338v-4M374.2 338v-4M452.4 338v-4M61.5 194.8h4M61.5 266.2h4M61.5 316.1h2M61.5 303.5h2M61.5 294.6h2M61.5 287.7h2M61.5 282.0h2M61.5 277.3h2M61.5 273.1h2M61.5 269.5h2M61.5 244.7h2M61.5 232.1h2M61.5 223.2h2M61.5 216.3h2M61.5 210.6h2M61.5 205.9h2M61.5 201.7h2M61.5 198.1h2M61.5 173.3h2M61.5 160.7h2M61.5 151.8h2M61.5 144.9h2"/>
<text class="t14" x="61.4" y="356.7" text-anchor="middle">0</text>
<text class="t14" x="139.6" y="356.7" text-anchor="middle">5</text>
<text class="t14" x="217.8" y="356.7" text-anchor="middle">10</text>
<text class="t14" x="296.0" y="356.7" text-anchor="middle">15</text>
<text class="t14" x="374.2" y="356.7" text-anchor="middle">20</text>
<text class="t14" x="452.4" y="356.7" text-anchor="middle">25</text>
<text class="t14" x="294.2" y="375.5" text-anchor="middle">Time (days)</text>
<text class="t13" x="55" y="199.5" text-anchor="end">10</text>
<text class="t13" x="49.5" y="271" text-anchor="end">1</text>
<text class="t14" transform="translate(31.5,242.2) rotate(-90)" text-anchor="middle">Frequency (samples/day)</text>
<text x="1.5" y="146.5" style="font-size:14px;font-weight:bold;stroke:#111;stroke-width:0.35">B</text>
<defs><linearGradient id="cb" x1="0" y1="1" x2="0" y2="0">
<stop offset="0.0000" stop-color="#3e26a8"/>
<stop offset="0.0159" stop-color="#402ab4"/>
<stop offset="0.0317" stop-color="#422ec0"/>
<stop offset="0.0476" stop-color="#4332cb"/>
<stop offset="0.0635" stop-color="#4537d5"/>
<stop offset="0.0794" stop-color="#463cde"/>
<stop offset="0.0952" stop-color="#4741e5"/>
<stop offset="0.1111" stop-color="#4747eb"/>
<stop offset="0.1270" stop-color="#484df0"/>
<stop offset="0.1429" stop-color="#4852f4"/>
<stop offset="0.1587" stop-color="#4758f8"/>
<stop offset="0.1746" stop-color="#465efb"/>
<stop offset="0.1905" stop-color="#4563fd"/>
<stop offset="0.2063" stop-color="#4269fe"/>
<stop offset="0.2222" stop-color="#3e6fff"/>
<stop offset="0.2381" stop-color="#3875fe"/>
<stop offset="0.2540" stop-color="#327cfc"/>
<stop offset="0.2698" stop-color="#2f81fa"/>
<stop offset="0.2857" stop-color="#2e87f7"/>
<stop offset="0.3016" stop-color="#2d8cf3"/>
<stop offset="0.3175" stop-color="#2b91ef"/>
<stop offset="0.3333" stop-color="#2797eb"/>
<stop offset="0.3492" stop-color="#259be8"/>
<stop offset="0.3651" stop-color="#23a0e5"/>
<stop offset="0.3810" stop-color="#20a5e3"/>
<stop offset="0.3968" stop-color="#1ca9df"/>
<stop offset="0.4127" stop-color="#18addb"/>
<stop offset="0.4286" stop-color="#12b1d6"/>
<stop offset="0.4444" stop-color="#08b5d0"/>
<stop offset="0.4603" stop-color="#01b8ca"/>
<stop offset="0.4762" stop-color="#02bac3"/>
<stop offset="0.4921" stop-color="#0bbdbd"/>
<stop offset="0.5079" stop-color="#19bfb6"/>
<stop offset="0.5238" stop-color="#24c1ae"/>
<stop offset="0.5397" stop-color="#2cc4a7"/>
<stop offset="0.5556" stop-color="#31c69f"/>
<stop offset="0.5714" stop-color="#37c897"/>
<stop offset="0.5873" stop-color="#3fca8e"/>
<stop offset="0.6032" stop-color="#4acb84"/>
<stop offset="0.6190" stop-color="#57cc7a"/>
<stop offset="0.6349" stop-color="#64cd6f"/>
<stop offset="0.6508" stop-color="#72cd64"/>
<stop offset="0.6667" stop-color="#81cc59"/>
<stop offset="0.6825" stop-color="#8fcb4e"/>
<stop offset="0.6984" stop-color="#9dc943"/>
<stop offset="0.7143" stop-color="#abc739"/>
<stop offset="0.7302" stop-color="#b9c431"/>
<stop offset="0.7460" stop-color="#c5c22a"/>
<stop offset="0.7619" stop-color="#d1bf27"/>
<stop offset="0.7778" stop-color="#dcbd29"/>
<stop offset="0.7937" stop-color="#e6bb2d"/>
<stop offset="0.8095" stop-color="#f0ba36"/>
<stop offset="0.8254" stop-color="#f8ba3d"/>
<stop offset="0.8413" stop-color="#febe3c"/>
<stop offset="0.8571" stop-color="#fec338"/>
<stop offset="0.8730" stop-color="#fec934"/>
<stop offset="0.8889" stop-color="#fccf30"/>
<stop offset="0.9048" stop-color="#fad62d"/>
<stop offset="0.9206" stop-color="#f7dc2a"/>
<stop offset="0.9365" stop-color="#f5e327"/>
<stop offset="0.9524" stop-color="#f5e924"/>
<stop offset="0.9683" stop-color="#f6ef20"/>
<stop offset="0.9841" stop-color="#f7f51b"/>
<stop offset="1.0000" stop-color="#f9fb15"/>
</linearGradient></defs>
<rect x="497.5" y="141.5" width="20" height="197" fill="url(#cb)"/>
<path class="ax" d="M497.5 141.5H517.5V338.5H497.5Z"/>
<text class="t13" x="522.5" y="342.7">0</text>
<text class="t13" x="522.5" y="303.3">500</text>
<text class="t13" x="522.5" y="263.9">1000</text>
<text class="t13" x="522.5" y="224.5">1500</text>
<text class="t13" x="522.5" y="185.1">2000</text>
<text class="t13" x="522.5" y="145.7">2500</text>
<path class="ax" d="M517.5 338.5h-3M517.5 299.1h-3M517.5 259.7h-3M517.5 220.3h-3M517.5 180.9h-3M517.5 141.5h-3"/>
<text class="t14" transform="translate(568,237) rotate(-90)" text-anchor="middle">Magnitude</text>
<text x="1.5" y="366" style="font-size:14px;font-weight:bold;stroke:#111;stroke-width:0.35">C</text>
<path d="M95.5 391.5V496.3" stroke="#8080ff" stroke-width="1" fill="none"/>
<path d="M180.2 391.5V496.3" stroke="#ff80ff" stroke-width="1" fill="none"/>
<path d="M227.0 391.5V496.3" stroke="#80ff80" stroke-width="1" fill="none"/>
<path d="M273.9 391.5V496.3" stroke="#ff8080" stroke-width="1" fill="none"/>
<path d="M419.5 391.5V496.3" stroke="#80ffff" stroke-width="1" fill="none"/>
<path d="M443.4 391.5V496.3" stroke="#808080" stroke-width="1" fill="none"/>
<text transform="translate(100.5,405.8) rotate(-30)" style="font-size:8.8px">Weekly</text>
<text transform="translate(124.4,436.8) rotate(-30)" style="font-size:8.8px">Every Two Days</text>
<text transform="translate(209.8,409.1) rotate(-30)" style="font-size:8.8px">Daily</text>
<text transform="translate(280.9,424.7) rotate(-30)" style="font-size:8.8px">Half Day</text>
<text transform="translate(395.3,407.8) rotate(-30)" style="font-size:8.8px">90 min</text>
<text transform="translate(448.9,406.1) rotate(-30)" style="font-size:8.8px">Hourly</text>
<polyline points="72.0,446.4 76.7,448.4 81.4,441.6 86.1,433.7 90.8,438.7 95.5,454.8 100.2,474.9 104.9,493.7 109.6,496.8 114.3,487.4 119.0,479.4 123.7,475.6 128.4,473.6 133.1,469.2 137.8,462.3 142.5,448.4 147.2,443.1 151.9,452.8 156.6,470.4 161.3,484.8 166.0,485.1 170.7,478.3 175.4,470.9 180.0,463.2 184.7,457.7 189.4,458.8 194.1,465.6 198.8,475.1 203.5,481.7 208.2,480.1 212.9,468.9 217.6,445.2 222.3,426.3 227.0,421.9 231.7,434.8 236.4,457.2 241.1,476.7 245.8,490.8 250.5,494.3 255.2,491.5 259.9,484.1 264.6,469.6 269.3,458.2 274.0,454.4 278.7,458.0 283.4,463.1 288.1,467.3 292.8,471.2 297.5,474.2 302.2,476.5 306.9,477.6 311.6,477.5 316.3,474.7 321.0,470.5 325.7,466.0 330.4,463.2 335.1,462.9 339.8,465.5 344.5,468.3 349.2,465.2 353.9,457.5 358.6,449.9 363.3,447.2 368.0,447.5 372.7,450.3 377.4,451.8 382.1,448.2 386.8,442.5 391.4,439.0 396.1,437.4 400.8,436.1 405.5,432.6 410.2,427.5 414.9,422.7 419.6,419.9 424.3,420.5 429.0,423.9 433.7,428.0 438.4,431.0 443.1,430.5 447.8,428.5 452.5,427.4 457.2,427.4 461.9,428.5 466.6,428.0 471.3,422.5 476.0,410.0 480.7,397.0 485.4,391.2 490.1,391.5 494.8,396.4" fill="none" stroke="#0d62b8" stroke-width="2.2" stroke-linejoin="round"/>
<g fill="none" stroke="#0d62b8" stroke-width="2"><circle cx="72.0" cy="446.4" r="3.6"/><circle cx="76.7" cy="448.4" r="3.6"/><circle cx="81.4" cy="441.6" r="3.6"/><circle cx="86.1" cy="433.7" r="3.6"/><circle cx="90.8" cy="438.7" r="3.6"/><circle cx="95.5" cy="454.8" r="3.6"/><circle cx="100.2" cy="474.9" r="3.6"/><circle cx="104.9" cy="493.7" r="3.6"/><circle cx="109.6" cy="496.8" r="3.6"/><circle cx="114.3" cy="487.4" r="3.6"/><circle cx="119.0" cy="479.4" r="3.6"/><circle cx="123.7" cy="475.6" r="3.6"/><circle cx="128.4" cy="473.6" r="3.6"/><circle cx="133.1" cy="469.2" r="3.6"/><circle cx="137.8" cy="462.3" r="3.6"/><circle cx="142.5" cy="448.4" r="3.6"/><circle cx="147.2" cy="443.1" r="3.6"/><circle cx="151.9" cy="452.8" r="3.6"/><circle cx="156.6" cy="470.4" r="3.6"/><circle cx="161.3" cy="484.8" r="3.6"/><circle cx="166.0" cy="485.1" r="3.6"/><circle cx="170.7" cy="478.3" r="3.6"/><circle cx="175.4" cy="470.9" r="3.6"/><circle cx="180.0" cy="463.2" r="3.6"/><circle cx="184.7" cy="457.7" r="3.6"/><circle cx="189.4" cy="458.8" r="3.6"/><circle cx="194.1" cy="465.6" r="3.6"/><circle cx="198.8" cy="475.1" r="3.6"/><circle cx="203.5" cy="481.7" r="3.6"/><circle cx="208.2" cy="480.1" r="3.6"/><circle cx="212.9" cy="468.9" r="3.6"/><circle cx="217.6" cy="445.2" r="3.6"/><circle cx="222.3" cy="426.3" r="3.6"/><circle cx="227.0" cy="421.9" r="3.6"/><circle cx="231.7" cy="434.8" r="3.6"/><circle cx="236.4" cy="457.2" r="3.6"/><circle cx="241.1" cy="476.7" r="3.6"/><circle cx="245.8" cy="490.8" r="3.6"/><circle cx="250.5" cy="494.3" r="3.6"/><circle cx="255.2" cy="491.5" r="3.6"/><circle cx="259.9" cy="484.1" r="3.6"/><circle cx="264.6" cy="469.6" r="3.6"/><circle cx="269.3" cy="458.2" r="3.6"/><circle cx="274.0" cy="454.4" r="3.6"/><circle cx="278.7" cy="458.0" r="3.6"/><circle cx="283.4" cy="463.1" r="3.6"/><circle cx="288.1" cy="467.3" r="3.6"/><circle cx="292.8" cy="471.2" r="3.6"/><circle cx="297.5" cy="474.2" r="3.6"/><circle cx="302.2" cy="476.5" r="3.6"/><circle cx="306.9" cy="477.6" r="3.6"/><circle cx="311.6" cy="477.5" r="3.6"/><circle cx="316.3" cy="474.7" r="3.6"/><circle cx="321.0" cy="470.5" r="3.6"/><circle cx="325.7" cy="466.0" r="3.6"/><circle cx="330.4" cy="463.2" r="3.6"/><circle cx="335.1" cy="462.9" r="3.6"/><circle cx="339.8" cy="465.5" r="3.6"/><circle cx="344.5" cy="468.3" r="3.6"/><circle cx="349.2" cy="465.2" r="3.6"/><circle cx="353.9" cy="457.5" r="3.6"/><circle cx="358.6" cy="449.9" r="3.6"/><circle cx="363.3" cy="447.2" r="3.6"/><circle cx="368.0" cy="447.5" r="3.6"/><circle cx="372.7" cy="450.3" r="3.6"/><circle cx="377.4" cy="451.8" r="3.6"/><circle cx="382.1" cy="448.2" r="3.6"/><circle cx="386.8" cy="442.5" r="3.6"/><circle cx="391.4" cy="439.0" r="3.6"/><circle cx="396.1" cy="437.4" r="3.6"/><circle cx="400.8" cy="436.1" r="3.6"/><circle cx="405.5" cy="432.6" r="3.6"/><circle cx="410.2" cy="427.5" r="3.6"/><circle cx="414.9" cy="422.7" r="3.6"/><circle cx="419.6" cy="419.9" r="3.6"/><circle cx="424.3" cy="420.5" r="3.6"/><circle cx="429.0" cy="423.9" r="3.6"/><circle cx="433.7" cy="428.0" r="3.6"/><circle cx="438.4" cy="431.0" r="3.6"/><circle cx="443.1" cy="430.5" r="3.6"/><circle cx="447.8" cy="428.5" r="3.6"/><circle cx="452.5" cy="427.4" r="3.6"/><circle cx="457.2" cy="427.4" r="3.6"/><circle cx="461.9" cy="428.5" r="3.6"/><circle cx="466.6" cy="428.0" r="3.6"/><circle cx="471.3" cy="422.5" r="3.6"/><circle cx="476.0" cy="410.0" r="3.6"/><circle cx="480.7" cy="397.0" r="3.6"/><circle cx="485.4" cy="391.2" r="3.6"/><circle cx="490.1" cy="391.5" r="3.6"/><circle cx="494.8" cy="396.4" r="3.6"/></g>
<path class="ax" d="M70.3 391.5V496.3H537.6"/>
<text x="62.8" y="500.6" text-anchor="end" style="font-size:14px">200</text>
<text x="62.8" y="467.0" text-anchor="end" style="font-size:14px">300</text>
<text x="62.8" y="433.4" text-anchor="end" style="font-size:14px">400</text>
<text x="62.8" y="399.8" text-anchor="end" style="font-size:14px">500</text>
<path class="ax" d="M70.3 495.5h5M70.3 461.9h5M70.3 428.3h5M70.3 394.7h5M118.0 496.3v-2.5M145.3 496.3v-2.5M164.8 496.3v-2.5M179.8 496.3v-2.5M192.1 496.3v-2.5M202.5 496.3v-2.5M211.5 496.3v-2.5M219.5 496.3v-2.5M226.6 496.3v-5M273.4 496.3v-2.5M300.7 496.3v-2.5M320.2 496.3v-2.5M335.2 496.3v-2.5M347.5 496.3v-2.5M357.9 496.3v-2.5M366.9 496.3v-2.5M374.9 496.3v-2.5M382.0 496.3v-5M428.8 496.3v-2.5M456.1 496.3v-2.5M475.6 496.3v-2.5M490.6 496.3v-2.5M502.9 496.3v-2.5M513.3 496.3v-2.5M522.3 496.3v-2.5M530.3 496.3v-2.5M537.4 496.3v-5"/>
<text x="69.1" y="518.7" text-anchor="middle" style="font-size:14px">0.1</text>
<text x="225.0" y="518.7" text-anchor="middle" style="font-size:14px">1</text>
<text x="378.3" y="518.7" text-anchor="middle" style="font-size:14px">10</text>
<text x="534.7" y="518.7" text-anchor="middle" style="font-size:14px">100</text>
<text class="t14" x="295.3" y="539" text-anchor="middle">Frequency (samples/day)</text>
<text transform="translate(12,500.8) rotate(-90)" style="font-size:14.2px">Amplitude Average</text>
<text transform="translate(29,500.8) rotate(-90)" style="font-size:14.2px">Over Time Series</text>
<rect x="470.2" y="469.4" width="104" height="14.7" fill="#fff" stroke="#333" stroke-width="0.9"/>
<path d="M474.2 476.8h23.6" stroke="#0d62b8" stroke-width="2"/><circle cx="485.9" cy="476.8" r="2.5" fill="none" stroke="#0d62b8" stroke-width="1.6"/>
<text x="501.3" y="479.9" style="font-size:8.7px">Mean Freq. Resp.</text>
</svg>
</body></html>
